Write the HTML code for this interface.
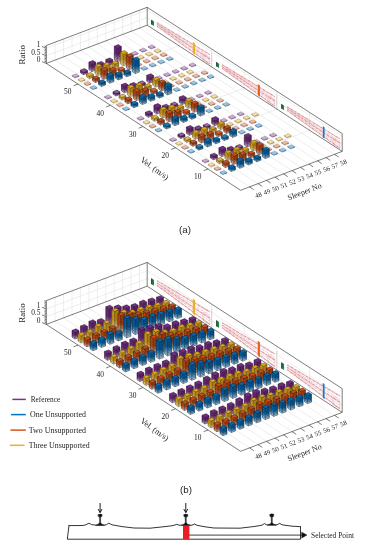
<!DOCTYPE html><html><head><meta charset="utf-8"><title>Figure</title>
<style>html,body{margin:0;padding:0;background:#fff}svg{display:block}text{font-family:"Liberation Serif",serif;fill:#222}.e{stroke:#2a2030;stroke-width:.5;fill:none;stroke-linejoin:round}.s{stroke-width:.45;fill:none;opacity:.85}.f0{stroke:#7a5a86;stroke-width:.4}.f1{stroke:#9a8350;stroke-width:.4}.f2{stroke:#9a6a55;stroke-width:.4}.f3{stroke:#4f7496;stroke-width:.4}.e0{stroke:#220828}.e1{stroke:#5a4108}.e2{stroke:#3a1404}.e3{stroke:#041f3a}</style></head><body>
<svg width="367" height="550" viewBox="0 0 367 550">
<rect width="367" height="550" fill="#fff"/>
<defs><linearGradient id="gl0" x1="0" y1="1" x2="0" y2="0"><stop offset="0" stop-color="#f3edf4"/><stop offset="0.25" stop-color="#bc95c4"/><stop offset="0.52" stop-color="#7b2e8b"/><stop offset="1" stop-color="#7b2e8b"/></linearGradient><linearGradient id="gr0" x1="0" y1="1" x2="0" y2="0"><stop offset="0" stop-color="#e7e1e9"/><stop offset="0.25" stop-color="#a684ad"/><stop offset="0.52" stop-color="#672774"/><stop offset="1" stop-color="#672774"/></linearGradient><linearGradient id="gl1" x1="0" y1="1" x2="0" y2="0"><stop offset="0" stop-color="#fcf7ec"/><stop offset="0.25" stop-color="#f3d58d"/><stop offset="0.52" stop-color="#e8ad1f"/><stop offset="1" stop-color="#e8ad1f"/></linearGradient><linearGradient id="gr1" x1="0" y1="1" x2="0" y2="0"><stop offset="0" stop-color="#f0ebe0"/><stop offset="0.25" stop-color="#d7bd7d"/><stop offset="0.52" stop-color="#c2911a"/><stop offset="1" stop-color="#c2911a"/></linearGradient><linearGradient id="gl2" x1="0" y1="1" x2="0" y2="0"><stop offset="0" stop-color="#faf0eb"/><stop offset="0.25" stop-color="#e9a78a"/><stop offset="0.52" stop-color="#d55118"/><stop offset="1" stop-color="#d55118"/></linearGradient><linearGradient id="gr2" x1="0" y1="1" x2="0" y2="0"><stop offset="0" stop-color="#eee4e0"/><stop offset="0.25" stop-color="#ce947a"/><stop offset="0.52" stop-color="#b24414"/><stop offset="1" stop-color="#b24414"/></linearGradient><linearGradient id="gl3" x1="0" y1="1" x2="0" y2="0"><stop offset="0" stop-color="#e9f2f8"/><stop offset="0.25" stop-color="#7eb6db"/><stop offset="0.52" stop-color="#0070b9"/><stop offset="1" stop-color="#0070b9"/></linearGradient><linearGradient id="gr3" x1="0" y1="1" x2="0" y2="0"><stop offset="0" stop-color="#dee7ec"/><stop offset="0.25" stop-color="#6fa1c2"/><stop offset="0.52" stop-color="#005d9b"/><stop offset="1" stop-color="#005d9b"/></linearGradient></defs>
<g id="chart-a"><polygon points="46.3,63.4 147.2,25.2 342.2,151.4 240.6,190.3" fill="#fff"/>
<polygon points="46.3,63.4 147.2,25.2 147.2,7.32 46.3,45.52" fill="#fff"/>
<polygon points="147.2,25.2 342.2,151.4 342.2,133.52 147.2,7.32" fill="#fff"/>
<path d="M77.97 84.08L178.98 45.77M178.98 45.77L178.98 27.89M110.48 105.32L211.61 66.88M211.61 66.88L211.61 49.01M142.98 126.55L244.23 88M244.23 88L244.23 70.12M175.49 147.78L276.86 109.11M276.86 109.11L276.86 91.23M208 169.01L309.48 130.22M309.48 130.22L309.48 112.35M249.5 186.89L55.14 60.05M55.14 60.05L55.14 42.18M258 183.64L63.58 56.86M63.58 56.86L63.58 38.98M266.5 180.38L72.02 53.66M72.02 53.66L72.02 35.79M275 177.13L80.46 50.47M80.46 50.47L80.46 32.59M283.5 173.87L88.9 47.27M88.9 47.27L88.9 29.39M292 170.62L97.35 44.07M97.35 44.07L97.35 26.2M300.5 167.37L105.79 40.88M105.79 40.88L105.79 23M309 164.11L114.23 37.68M114.23 37.68L114.23 19.81M317.5 160.86L122.67 34.49M122.67 34.49L122.67 16.61M326 157.6L131.11 31.29M131.11 31.29L131.11 13.41M334.5 154.35L139.55 28.1M139.55 28.1L139.55 10.22M46.3 55.82L147.2 17.62L342.2 143.83M46.3 48.25L147.2 10.05L342.2 136.25" stroke="#dcdcdc" stroke-width="0.5" fill="none"/>
<path d="M156.95 26.15L209.79 63.92M156.95 24.36L209.79 59.27M156.95 22.57L209.79 54.63M221.98 68.23L274.83 106.01M221.98 66.45L274.83 101.36M221.98 64.66L274.83 96.71M287.01 110.32L339.86 148.1M287.01 108.53L339.86 143.45M287.01 106.75L339.86 138.8" stroke="#d8828a" stroke-width="1.25" stroke-dasharray="2.2 0.5 1 0.4 3 0.5 0.8 0.3" fill="none" opacity="0.8"/><path d="M162.8 29.25L209.79 61.6M162.8 27.18L209.79 56.95M227.83 71.34L274.83 103.69M227.83 69.27L274.83 99.04M292.87 113.43L339.86 145.77M292.87 111.36L339.86 141.13" stroke="#e2a4aa" stroke-width="0.9" stroke-dasharray="1.2 0.6 2.5 0.5" fill="none" opacity="0.7"/>
<polygon points="202.97,59.86 209.79,64.28 209.79,58.2 202.97,53.78" fill="none" stroke="#d98a90" stroke-width="0.4"/>
<polygon points="151.29,24.27 154.02,26.04 154.02,21.57 151.29,19.81" fill="#1e8a4c"/>
<polygon points="151.29,24.27 152.27,24.91 152.27,20.44 151.29,19.81" fill="#1c2a22"/>
<polygon points="192.75,53.25 195.09,54.76 195.09,43.5 192.75,41.99" fill="#edb120"/>
<path d="M211.75 66.97L211.75 52.67" stroke="#aaa" stroke-width="0.4"/>

<polygon points="268,101.95 274.83,106.37 274.83,100.29 268,95.87" fill="none" stroke="#d98a90" stroke-width="0.4"/>
<polygon points="216.33,66.36 219.06,68.13 219.06,63.66 216.33,61.89" fill="#1e8a4c"/>
<polygon points="216.33,66.36 217.3,66.99 217.3,62.52 216.33,61.89" fill="#1c2a22"/>
<polygon points="257.78,95.34 259.93,96.73 259.93,85.46 257.78,84.08" fill="#e8601c"/>
<path d="M276.78 109.06L276.78 94.76" stroke="#aaa" stroke-width="0.4"/>

<polygon points="333.03,144.04 339.86,148.46 339.86,142.38 333.03,137.96" fill="none" stroke="#d98a90" stroke-width="0.4"/>
<polygon points="281.36,108.45 284.09,110.22 284.09,105.75 281.36,103.98" fill="#1e8a4c"/>
<polygon points="281.36,108.45 282.33,109.08 282.33,104.61 281.36,103.98" fill="#1c2a22"/>
<polygon points="322.82,137.43 324.57,138.56 324.57,127.3 322.82,126.16" fill="#1f77c4"/>
<path d="M46.3 63.4L147.2 25.2L342.2 151.4M46.3 45.52L147.2 7.32L342.2 133.52M147.2 25.2L147.2 7.32M342.2 151.4L342.2 133.52M46.3 63.4L46.3 45.52M46.3 63.4L240.6 190.3L342.2 151.4M77.97 84.08L73.6 85.75M110.48 105.32L106.1 106.98M142.98 126.55L138.61 128.21M175.49 147.78L171.12 149.44M208 169.01L203.62 170.67M249.5 186.89L253.73 189.63M258 183.64L262.23 186.38M266.5 180.38L270.73 183.13M275 177.13L279.23 179.87M283.5 173.87L287.73 176.62M292 170.62L296.23 173.36M300.5 167.37L304.73 170.11M309 164.11L313.23 166.85M317.5 160.86L321.73 163.6M326 157.6L330.23 160.34M334.5 154.35L338.73 157.09M46.3 63.4L41.99 61.62M46.3 61.88L44.48 61.13M46.3 60.37L44.48 59.62M46.3 58.85L44.48 58.1M46.3 57.34L44.48 56.59M46.3 55.82L41.99 54.05M46.3 54.31L44.48 53.56M46.3 52.8L44.48 52.04M46.3 51.28L44.48 50.53M46.3 49.77L44.48 49.01M46.3 48.25L41.99 46.47M46.3 46.73L44.48 45.98" stroke="#262626" stroke-width="0.6" fill="none"/>
<g transform="translate(151.6 47.4)"><polygon points="-3.5,-0.2 -0.6,1.7 -0.6,1 -3.5,-0.9" fill="url(#gl0)"/><polygon points="-0.6,1.7 3.5,0.2 3.5,-0.6 -0.6,1" fill="url(#gr0)"/><polygon points="-3.5,-0.9 -0.6,1 3.5,-0.6 0.6,-2.5" fill="#ccaed2"/><path d="M-3.5 -0.9L-0.6 1L3.5 -0.6L0.6 -2.5ZM-3.5 -0.9V-0.2L-0.6 1.7L3.5 0.2V-0.6M-0.6 1.7V1" class="e f0"/></g>
<g transform="translate(143.1 50.6)"><polygon points="-3.5,-0.2 -0.6,1.7 -0.6,1 -3.5,-0.9" fill="url(#gl0)"/><polygon points="-0.6,1.7 3.5,0.2 3.5,-0.6 -0.6,1" fill="url(#gr0)"/><polygon points="-3.5,-0.9 -0.6,1 3.5,-0.6 0.6,-2.5" fill="#ccaed2"/><path d="M-3.5 -0.9L-0.6 1L3.5 -0.6L0.6 -2.5ZM-3.5 -0.9V-0.2L-0.6 1.7L3.5 0.2V-0.6M-0.6 1.7V1" class="e f0"/></g>
<g transform="translate(134.6 53.8)"><polygon points="-3.5,-0.2 -0.6,1.7 -0.6,1 -3.5,-0.9" fill="url(#gl0)"/><polygon points="-0.6,1.7 3.5,0.2 3.5,-0.6 -0.6,1" fill="url(#gr0)"/><polygon points="-3.5,-0.9 -0.6,1 3.5,-0.6 0.6,-2.5" fill="#ccaed2"/><path d="M-3.5 -0.9L-0.6 1L3.5 -0.6L0.6 -2.5ZM-3.5 -0.9V-0.2L-0.6 1.7L3.5 0.2V-0.6M-0.6 1.7V1" class="e f0"/></g>
<g transform="translate(126.2 57)"><polygon points="-3.5,-0.2 -0.6,1.7 -0.6,1 -3.5,-0.9" fill="url(#gl0)"/><polygon points="-0.6,1.7 3.5,0.2 3.5,-0.6 -0.6,1" fill="url(#gr0)"/><polygon points="-3.5,-0.9 -0.6,1 3.5,-0.6 0.6,-2.5" fill="#ccaed2"/><path d="M-3.5 -0.9L-0.6 1L3.5 -0.6L0.6 -2.5ZM-3.5 -0.9V-0.2L-0.6 1.7L3.5 0.2V-0.6M-0.6 1.7V1" class="e f0"/></g>
<g transform="translate(117.8 60.2)"><polygon points="-3.5,-0.2 -0.6,1.7 -0.6,-12.1 -3.5,-14" fill="url(#gl0)"/><polygon points="-0.6,1.7 3.5,0.2 3.5,-13.7 -0.6,-12.1" fill="url(#gr0)"/><polygon points="-3.5,-14 -0.6,-12.1 3.5,-13.7 0.6,-15.6" fill="#762c85"/><path d="M-3.5 -1.7L-0.6 0.2L3.5 -1.3M-3.5 -3.2L-0.6 -1.3L3.5 -2.9M-3.5 -4.7L-0.6 -2.8L3.5 -4.4M-3.5 -6.2L-0.6 -4.3L3.5 -5.9M-3.5 -7.7L-0.6 -5.8L3.5 -7.4M-3.5 -9.3L-0.6 -7.4L3.5 -8.9M-3.5 -10.8L-0.6 -8.9L3.5 -10.4M-3.5 -12.3L-0.6 -10.4L3.5 -12M-3.5 -13.8L-0.6 -11.9L3.5 -13.5" class="s e0"/><path d="M-3.5 -14L-0.6 -12.1L3.5 -13.7L0.6 -15.6ZM-3.5 -14V-0.2L-0.6 1.7L3.5 0.2V-13.7M-0.6 1.7V-12.1" class="e e0"/></g>
<g transform="translate(109.3 63.5)"><polygon points="-3.5,-0.2 -0.6,1.7 -0.6,-2.1 -3.5,-4" fill="url(#gl0)"/><polygon points="-0.6,1.7 3.5,0.2 3.5,-3.7 -0.6,-2.1" fill="url(#gr0)"/><polygon points="-3.5,-4 -0.6,-2.1 3.5,-3.7 0.6,-5.6" fill="#762c85"/><path d="M-3.5 -1.7L-0.6 0.2L3.5 -1.3M-3.5 -3.2L-0.6 -1.3L3.5 -2.9" class="s e0"/><path d="M-3.5 -4L-0.6 -2.1L3.5 -3.7L0.6 -5.6ZM-3.5 -4V-0.2L-0.6 1.7L3.5 0.2V-3.7M-0.6 1.7V-2.1" class="e e0"/></g>
<g transform="translate(100.8 66.7)"><polygon points="-3.5,-0.2 -0.6,1.7 -0.6,-1.9 -3.5,-3.8" fill="url(#gl0)"/><polygon points="-0.6,1.7 3.5,0.2 3.5,-3.4 -0.6,-1.9" fill="url(#gr0)"/><polygon points="-3.5,-3.8 -0.6,-1.9 3.5,-3.4 0.6,-5.3" fill="#762c85"/><path d="M-3.5 -1.7L-0.6 0.2L3.5 -1.3M-3.5 -3.2L-0.6 -1.3L3.5 -2.9" class="s e0"/><path d="M-3.5 -3.8L-0.6 -1.9L3.5 -3.4L0.6 -5.3ZM-3.5 -3.8V-0.2L-0.6 1.7L3.5 0.2V-3.4M-0.6 1.7V-1.9" class="e e0"/></g>
<g transform="translate(92.4 69.9)"><polygon points="-3.5,-0.2 -0.6,1.7 -0.6,-5.9 -3.5,-7.8" fill="url(#gl0)"/><polygon points="-0.6,1.7 3.5,0.2 3.5,-7.5 -0.6,-5.9" fill="url(#gr0)"/><polygon points="-3.5,-7.8 -0.6,-5.9 3.5,-7.5 0.6,-9.4" fill="#762c85"/><path d="M-3.5 -1.7L-0.6 0.2L3.5 -1.3M-3.5 -3.2L-0.6 -1.3L3.5 -2.9M-3.5 -4.7L-0.6 -2.8L3.5 -4.4M-3.5 -6.2L-0.6 -4.3L3.5 -5.9M-3.5 -7.7L-0.6 -5.8L3.5 -7.4" class="s e0"/><path d="M-3.5 -7.8L-0.6 -5.9L3.5 -7.5L0.6 -9.4ZM-3.5 -7.8V-0.2L-0.6 1.7L3.5 0.2V-7.5M-0.6 1.7V-5.9" class="e e0"/></g>
<g transform="translate(84 73.1)"><polygon points="-3.5,-0.2 -0.6,1.7 -0.6,-1 -3.5,-3" fill="url(#gl0)"/><polygon points="-0.6,1.7 3.5,0.2 3.5,-2.6 -0.6,-1" fill="url(#gr0)"/><polygon points="-3.5,-3 -0.6,-1 3.5,-2.6 0.6,-4.5" fill="#8c4d99"/><path d="M-3.5 -1.7L-0.6 0.2L3.5 -1.3" class="s e0"/><path d="M-3.5 -3L-0.6 -1L3.5 -2.6L0.6 -4.5ZM-3.5 -3V-0.2L-0.6 1.7L3.5 0.2V-2.6M-0.6 1.7V-1" class="e e0"/></g>
<g transform="translate(75.5 76.3)"><polygon points="-3.5,-0.2 -0.6,1.7 -0.6,1 -3.5,-0.9" fill="url(#gl0)"/><polygon points="-0.6,1.7 3.5,0.2 3.5,-0.6 -0.6,1" fill="url(#gr0)"/><polygon points="-3.5,-0.9 -0.6,1 3.5,-0.6 0.6,-2.5" fill="#ccaed2"/><path d="M-3.5 -0.9L-0.6 1L3.5 -0.6L0.6 -2.5ZM-3.5 -0.9V-0.2L-0.6 1.7L3.5 0.2V-0.6M-0.6 1.7V1" class="e f0"/></g>
<g transform="translate(157.6 51.3)"><polygon points="-3.5,-0.2 -0.6,1.7 -0.6,1 -3.5,-0.9" fill="url(#gl1)"/><polygon points="-0.6,1.7 3.5,0.2 3.5,-0.6 -0.6,1" fill="url(#gr1)"/><polygon points="-3.5,-0.9 -0.6,1 3.5,-0.6 0.6,-2.5" fill="#f7e0a8"/><path d="M-3.5 -0.9L-0.6 1L3.5 -0.6L0.6 -2.5ZM-3.5 -0.9V-0.2L-0.6 1.7L3.5 0.2V-0.6M-0.6 1.7V1" class="e f1"/></g>
<g transform="translate(149.1 54.5)"><polygon points="-3.5,-0.2 -0.6,1.7 -0.6,1 -3.5,-0.9" fill="url(#gl1)"/><polygon points="-0.6,1.7 3.5,0.2 3.5,-0.6 -0.6,1" fill="url(#gr1)"/><polygon points="-3.5,-0.9 -0.6,1 3.5,-0.6 0.6,-2.5" fill="#f7e0a8"/><path d="M-3.5 -0.9L-0.6 1L3.5 -0.6L0.6 -2.5ZM-3.5 -0.9V-0.2L-0.6 1.7L3.5 0.2V-0.6M-0.6 1.7V1" class="e f1"/></g>
<g transform="translate(140.6 57.7)"><polygon points="-3.5,-0.2 -0.6,1.7 -0.6,1 -3.5,-0.9" fill="url(#gl1)"/><polygon points="-0.6,1.7 3.5,0.2 3.5,-0.6 -0.6,1" fill="url(#gr1)"/><polygon points="-3.5,-0.9 -0.6,1 3.5,-0.6 0.6,-2.5" fill="#f7e0a8"/><path d="M-3.5 -0.9L-0.6 1L3.5 -0.6L0.6 -2.5ZM-3.5 -0.9V-0.2L-0.6 1.7L3.5 0.2V-0.6M-0.6 1.7V1" class="e f1"/></g>
<g transform="translate(132.2 60.9)"><polygon points="-3.5,-0.2 -0.6,1.7 -0.6,1 -3.5,-0.9" fill="url(#gl1)"/><polygon points="-0.6,1.7 3.5,0.2 3.5,-0.6 -0.6,1" fill="url(#gr1)"/><polygon points="-3.5,-0.9 -0.6,1 3.5,-0.6 0.6,-2.5" fill="#f7e0a8"/><path d="M-3.5 -0.9L-0.6 1L3.5 -0.6L0.6 -2.5ZM-3.5 -0.9V-0.2L-0.6 1.7L3.5 0.2V-0.6M-0.6 1.7V1" class="e f1"/></g>
<g transform="translate(123.8 64.1)"><polygon points="-3.5,-0.2 -0.6,1.7 -0.6,-10 -3.5,-11.9" fill="url(#gl1)"/><polygon points="-0.6,1.7 3.5,0.2 3.5,-11.6 -0.6,-10" fill="url(#gr1)"/><polygon points="-3.5,-11.9 -0.6,-10 3.5,-11.6 0.6,-13.5" fill="#dfa61e"/><path d="M-3.5 -1.7L-0.6 0.2L3.5 -1.3M-3.5 -3.2L-0.6 -1.3L3.5 -2.9M-3.5 -4.7L-0.6 -2.8L3.5 -4.4M-3.5 -6.2L-0.6 -4.3L3.5 -5.9M-3.5 -7.7L-0.6 -5.8L3.5 -7.4M-3.5 -9.3L-0.6 -7.4L3.5 -8.9M-3.5 -10.8L-0.6 -8.9L3.5 -10.4" class="s e1"/><path d="M-3.5 -11.9L-0.6 -10L3.5 -11.6L0.6 -13.5ZM-3.5 -11.9V-0.2L-0.6 1.7L3.5 0.2V-11.6M-0.6 1.7V-10" class="e e1"/></g>
<g transform="translate(115.3 67.3)"><polygon points="-3.5,-0.2 -0.6,1.7 -0.6,-3 -3.5,-4.9" fill="url(#gl1)"/><polygon points="-0.6,1.7 3.5,0.2 3.5,-4.6 -0.6,-3" fill="url(#gr1)"/><polygon points="-3.5,-4.9 -0.6,-3 3.5,-4.6 0.6,-6.5" fill="#dfa61e"/><path d="M-3.5 -1.7L-0.6 0.2L3.5 -1.3M-3.5 -3.2L-0.6 -1.3L3.5 -2.9M-3.5 -4.7L-0.6 -2.8L3.5 -4.4" class="s e1"/><path d="M-3.5 -4.9L-0.6 -3L3.5 -4.6L0.6 -6.5ZM-3.5 -4.9V-0.2L-0.6 1.7L3.5 0.2V-4.6M-0.6 1.7V-3" class="e e1"/></g>
<g transform="translate(106.8 70.6)"><polygon points="-3.5,-0.2 -0.6,1.7 -0.6,-4.9 -3.5,-6.8" fill="url(#gl1)"/><polygon points="-0.6,1.7 3.5,0.2 3.5,-6.4 -0.6,-4.9" fill="url(#gr1)"/><polygon points="-3.5,-6.8 -0.6,-4.9 3.5,-6.4 0.6,-8.3" fill="#dfa61e"/><path d="M-3.5 -1.7L-0.6 0.2L3.5 -1.3M-3.5 -3.2L-0.6 -1.3L3.5 -2.9M-3.5 -4.7L-0.6 -2.8L3.5 -4.4M-3.5 -6.2L-0.6 -4.3L3.5 -5.9" class="s e1"/><path d="M-3.5 -6.8L-0.6 -4.9L3.5 -6.4L0.6 -8.3ZM-3.5 -6.8V-0.2L-0.6 1.7L3.5 0.2V-6.4M-0.6 1.7V-4.9" class="e e1"/></g>
<g transform="translate(98.4 73.8)"><polygon points="-3.5,-0.2 -0.6,1.7 -0.6,-6.5 -3.5,-8.4" fill="url(#gl1)"/><polygon points="-0.6,1.7 3.5,0.2 3.5,-8.1 -0.6,-6.5" fill="url(#gr1)"/><polygon points="-3.5,-8.4 -0.6,-6.5 3.5,-8.1 0.6,-10" fill="#dfa61e"/><path d="M-3.5 -1.7L-0.6 0.2L3.5 -1.3M-3.5 -3.2L-0.6 -1.3L3.5 -2.9M-3.5 -4.7L-0.6 -2.8L3.5 -4.4M-3.5 -6.2L-0.6 -4.3L3.5 -5.9M-3.5 -7.7L-0.6 -5.8L3.5 -7.4" class="s e1"/><path d="M-3.5 -8.4L-0.6 -6.5L3.5 -8.1L0.6 -10ZM-3.5 -8.4V-0.2L-0.6 1.7L3.5 0.2V-8.1M-0.6 1.7V-6.5" class="e e1"/></g>
<g transform="translate(90 77)"><polygon points="-3.5,-0.2 -0.6,1.7 -0.6,-1 -3.5,-3" fill="url(#gl1)"/><polygon points="-0.6,1.7 3.5,0.2 3.5,-2.6 -0.6,-1" fill="url(#gr1)"/><polygon points="-3.5,-3 -0.6,-1 3.5,-2.6 0.6,-4.5" fill="#e5b541"/><path d="M-3.5 -1.7L-0.6 0.2L3.5 -1.3" class="s e1"/><path d="M-3.5 -3L-0.6 -1L3.5 -2.6L0.6 -4.5ZM-3.5 -3V-0.2L-0.6 1.7L3.5 0.2V-2.6M-0.6 1.7V-1" class="e e1"/></g>
<g transform="translate(81.5 80.2)"><polygon points="-3.5,-0.2 -0.6,1.7 -0.6,1 -3.5,-0.9" fill="url(#gl1)"/><polygon points="-0.6,1.7 3.5,0.2 3.5,-0.6 -0.6,1" fill="url(#gr1)"/><polygon points="-3.5,-0.9 -0.6,1 3.5,-0.6 0.6,-2.5" fill="#f7e0a8"/><path d="M-3.5 -0.9L-0.6 1L3.5 -0.6L0.6 -2.5ZM-3.5 -0.9V-0.2L-0.6 1.7L3.5 0.2V-0.6M-0.6 1.7V1" class="e f1"/></g>
<g transform="translate(163.6 55.2)"><polygon points="-3.5,-0.2 -0.6,1.7 -0.6,1 -3.5,-0.9" fill="url(#gl2)"/><polygon points="-0.6,1.7 3.5,0.2 3.5,-0.6 -0.6,1" fill="url(#gr2)"/><polygon points="-3.5,-0.9 -0.6,1 3.5,-0.6 0.6,-2.5" fill="#efbca6"/><path d="M-3.5 -0.9L-0.6 1L3.5 -0.6L0.6 -2.5ZM-3.5 -0.9V-0.2L-0.6 1.7L3.5 0.2V-0.6M-0.6 1.7V1" class="e f2"/></g>
<g transform="translate(155.1 58.4)"><polygon points="-3.5,-0.2 -0.6,1.7 -0.6,1 -3.5,-0.9" fill="url(#gl2)"/><polygon points="-0.6,1.7 3.5,0.2 3.5,-0.6 -0.6,1" fill="url(#gr2)"/><polygon points="-3.5,-0.9 -0.6,1 3.5,-0.6 0.6,-2.5" fill="#efbca6"/><path d="M-3.5 -0.9L-0.6 1L3.5 -0.6L0.6 -2.5ZM-3.5 -0.9V-0.2L-0.6 1.7L3.5 0.2V-0.6M-0.6 1.7V1" class="e f2"/></g>
<g transform="translate(146.6 61.6)"><polygon points="-3.5,-0.2 -0.6,1.7 -0.6,1 -3.5,-0.9" fill="url(#gl2)"/><polygon points="-0.6,1.7 3.5,0.2 3.5,-0.6 -0.6,1" fill="url(#gr2)"/><polygon points="-3.5,-0.9 -0.6,1 3.5,-0.6 0.6,-2.5" fill="#efbca6"/><path d="M-3.5 -0.9L-0.6 1L3.5 -0.6L0.6 -2.5ZM-3.5 -0.9V-0.2L-0.6 1.7L3.5 0.2V-0.6M-0.6 1.7V1" class="e f2"/></g>
<g transform="translate(138.2 64.8)"><polygon points="-3.5,-0.2 -0.6,1.7 -0.6,1 -3.5,-0.9" fill="url(#gl2)"/><polygon points="-0.6,1.7 3.5,0.2 3.5,-0.6 -0.6,1" fill="url(#gr2)"/><polygon points="-3.5,-0.9 -0.6,1 3.5,-0.6 0.6,-2.5" fill="#efbca6"/><path d="M-3.5 -0.9L-0.6 1L3.5 -0.6L0.6 -2.5ZM-3.5 -0.9V-0.2L-0.6 1.7L3.5 0.2V-0.6M-0.6 1.7V1" class="e f2"/></g>
<g transform="translate(129.8 68)"><polygon points="-3.5,-0.2 -0.6,1.7 -0.6,-11 -3.5,-12.9" fill="url(#gl2)"/><polygon points="-0.6,1.7 3.5,0.2 3.5,-12.6 -0.6,-11" fill="url(#gr2)"/><polygon points="-3.5,-12.9 -0.6,-11 3.5,-12.6 0.6,-14.5" fill="#cc4e18"/><path d="M-3.5 -1.7L-0.6 0.2L3.5 -1.3M-3.5 -3.2L-0.6 -1.3L3.5 -2.9M-3.5 -4.7L-0.6 -2.8L3.5 -4.4M-3.5 -6.2L-0.6 -4.3L3.5 -5.9M-3.5 -7.7L-0.6 -5.8L3.5 -7.4M-3.5 -9.3L-0.6 -7.4L3.5 -8.9M-3.5 -10.8L-0.6 -8.9L3.5 -10.4M-3.5 -12.3L-0.6 -10.4L3.5 -12" class="s e2"/><path d="M-3.5 -12.9L-0.6 -11L3.5 -12.6L0.6 -14.5ZM-3.5 -12.9V-0.2L-0.6 1.7L3.5 0.2V-12.6M-0.6 1.7V-11" class="e e2"/></g>
<g transform="translate(121.3 71.2)"><polygon points="-3.5,-0.2 -0.6,1.7 -0.6,-0.9 -3.5,-2.8" fill="url(#gl2)"/><polygon points="-0.6,1.7 3.5,0.2 3.5,-2.5 -0.6,-0.9" fill="url(#gr2)"/><polygon points="-3.5,-2.8 -0.6,-0.9 3.5,-2.5 0.6,-4.4" fill="#d66e41"/><path d="M-3.5 -1.7L-0.6 0.2L3.5 -1.3" class="s e2"/><path d="M-3.5 -2.8L-0.6 -0.9L3.5 -2.5L0.6 -4.4ZM-3.5 -2.8V-0.2L-0.6 1.7L3.5 0.2V-2.5M-0.6 1.7V-0.9" class="e e2"/></g>
<g transform="translate(112.8 74.5)"><polygon points="-3.5,-0.2 -0.6,1.7 -0.6,-4 -3.5,-5.9" fill="url(#gl2)"/><polygon points="-0.6,1.7 3.5,0.2 3.5,-5.5 -0.6,-4" fill="url(#gr2)"/><polygon points="-3.5,-5.9 -0.6,-4 3.5,-5.5 0.6,-7.4" fill="#cc4e18"/><path d="M-3.5 -1.7L-0.6 0.2L3.5 -1.3M-3.5 -3.2L-0.6 -1.3L3.5 -2.9M-3.5 -4.7L-0.6 -2.8L3.5 -4.4" class="s e2"/><path d="M-3.5 -5.9L-0.6 -4L3.5 -5.5L0.6 -7.4ZM-3.5 -5.9V-0.2L-0.6 1.7L3.5 0.2V-5.5M-0.6 1.7V-4" class="e e2"/></g>
<g transform="translate(104.4 77.7)"><polygon points="-3.5,-0.2 -0.6,1.7 -0.6,-6.8 -3.5,-8.7" fill="url(#gl2)"/><polygon points="-0.6,1.7 3.5,0.2 3.5,-8.4 -0.6,-6.8" fill="url(#gr2)"/><polygon points="-3.5,-8.7 -0.6,-6.8 3.5,-8.4 0.6,-10.3" fill="#cc4e18"/><path d="M-3.5 -1.7L-0.6 0.2L3.5 -1.3M-3.5 -3.2L-0.6 -1.3L3.5 -2.9M-3.5 -4.7L-0.6 -2.8L3.5 -4.4M-3.5 -6.2L-0.6 -4.3L3.5 -5.9M-3.5 -7.7L-0.6 -5.8L3.5 -7.4" class="s e2"/><path d="M-3.5 -8.7L-0.6 -6.8L3.5 -8.4L0.6 -10.3ZM-3.5 -8.7V-0.2L-0.6 1.7L3.5 0.2V-8.4M-0.6 1.7V-6.8" class="e e2"/></g>
<g transform="translate(96 80.9)"><polygon points="-3.5,-0.2 -0.6,1.7 -0.6,-1.7 -3.5,-3.6" fill="url(#gl2)"/><polygon points="-0.6,1.7 3.5,0.2 3.5,-3.2 -0.6,-1.7" fill="url(#gr2)"/><polygon points="-3.5,-3.6 -0.6,-1.7 3.5,-3.2 0.6,-5.1" fill="#cd521c"/><path d="M-3.5 -1.7L-0.6 0.2L3.5 -1.3M-3.5 -3.2L-0.6 -1.3L3.5 -2.9" class="s e2"/><path d="M-3.5 -3.6L-0.6 -1.7L3.5 -3.2L0.6 -5.1ZM-3.5 -3.6V-0.2L-0.6 1.7L3.5 0.2V-3.2M-0.6 1.7V-1.7" class="e e2"/></g>
<g transform="translate(87.5 84.1)"><polygon points="-3.5,-0.2 -0.6,1.7 -0.6,1 -3.5,-0.9" fill="url(#gl2)"/><polygon points="-0.6,1.7 3.5,0.2 3.5,-0.6 -0.6,1" fill="url(#gr2)"/><polygon points="-3.5,-0.9 -0.6,1 3.5,-0.6 0.6,-2.5" fill="#efbca6"/><path d="M-3.5 -0.9L-0.6 1L3.5 -0.6L0.6 -2.5ZM-3.5 -0.9V-0.2L-0.6 1.7L3.5 0.2V-0.6M-0.6 1.7V1" class="e f2"/></g>
<g transform="translate(169.6 59.1)"><polygon points="-3.5,-0.2 -0.6,1.7 -0.6,1 -3.5,-0.9" fill="url(#gl3)"/><polygon points="-0.6,1.7 3.5,0.2 3.5,-0.6 -0.6,1" fill="url(#gr3)"/><polygon points="-3.5,-0.9 -0.6,1 3.5,-0.6 0.6,-2.5" fill="#9cc8e4"/><path d="M-3.5 -0.9L-0.6 1L3.5 -0.6L0.6 -2.5ZM-3.5 -0.9V-0.2L-0.6 1.7L3.5 0.2V-0.6M-0.6 1.7V1" class="e f3"/></g>
<g transform="translate(161.1 62.3)"><polygon points="-3.5,-0.2 -0.6,1.7 -0.6,1 -3.5,-0.9" fill="url(#gl3)"/><polygon points="-0.6,1.7 3.5,0.2 3.5,-0.6 -0.6,1" fill="url(#gr3)"/><polygon points="-3.5,-0.9 -0.6,1 3.5,-0.6 0.6,-2.5" fill="#9cc8e4"/><path d="M-3.5 -0.9L-0.6 1L3.5 -0.6L0.6 -2.5ZM-3.5 -0.9V-0.2L-0.6 1.7L3.5 0.2V-0.6M-0.6 1.7V1" class="e f3"/></g>
<g transform="translate(152.6 65.5)"><polygon points="-3.5,-0.2 -0.6,1.7 -0.6,1 -3.5,-0.9" fill="url(#gl3)"/><polygon points="-0.6,1.7 3.5,0.2 3.5,-0.6 -0.6,1" fill="url(#gr3)"/><polygon points="-3.5,-0.9 -0.6,1 3.5,-0.6 0.6,-2.5" fill="#9cc8e4"/><path d="M-3.5 -0.9L-0.6 1L3.5 -0.6L0.6 -2.5ZM-3.5 -0.9V-0.2L-0.6 1.7L3.5 0.2V-0.6M-0.6 1.7V1" class="e f3"/></g>
<g transform="translate(144.2 68.7)"><polygon points="-3.5,-0.2 -0.6,1.7 -0.6,1 -3.5,-0.9" fill="url(#gl3)"/><polygon points="-0.6,1.7 3.5,0.2 3.5,-0.6 -0.6,1" fill="url(#gr3)"/><polygon points="-3.5,-0.9 -0.6,1 3.5,-0.6 0.6,-2.5" fill="#9cc8e4"/><path d="M-3.5 -0.9L-0.6 1L3.5 -0.6L0.6 -2.5ZM-3.5 -0.9V-0.2L-0.6 1.7L3.5 0.2V-0.6M-0.6 1.7V1" class="e f3"/></g>
<g transform="translate(135.8 71.9)"><polygon points="-3.5,-0.2 -0.6,1.7 -0.6,-11.3 -3.5,-13.2" fill="url(#gl3)"/><polygon points="-0.6,1.7 3.5,0.2 3.5,-12.9 -0.6,-11.3" fill="url(#gr3)"/><polygon points="-3.5,-13.2 -0.6,-11.3 3.5,-12.9 0.6,-14.8" fill="#006bb2"/><path d="M-3.5 -1.7L-0.6 0.2L3.5 -1.3M-3.5 -3.2L-0.6 -1.3L3.5 -2.9M-3.5 -4.7L-0.6 -2.8L3.5 -4.4M-3.5 -6.2L-0.6 -4.3L3.5 -5.9M-3.5 -7.7L-0.6 -5.8L3.5 -7.4M-3.5 -9.3L-0.6 -7.4L3.5 -8.9M-3.5 -10.8L-0.6 -8.9L3.5 -10.4M-3.5 -12.3L-0.6 -10.4L3.5 -12" class="s e3"/><path d="M-3.5 -13.2L-0.6 -11.3L3.5 -12.9L0.6 -14.8ZM-3.5 -13.2V-0.2L-0.6 1.7L3.5 0.2V-12.9M-0.6 1.7V-11.3" class="e e3"/></g>
<g transform="translate(127.3 75.1)"><polygon points="-3.5,-0.2 -0.6,1.7 -0.6,-2 -3.5,-3.9" fill="url(#gl3)"/><polygon points="-0.6,1.7 3.5,0.2 3.5,-3.6 -0.6,-2" fill="url(#gr3)"/><polygon points="-3.5,-3.9 -0.6,-2 3.5,-3.6 0.6,-5.5" fill="#006bb2"/><path d="M-3.5 -1.7L-0.6 0.2L3.5 -1.3M-3.5 -3.2L-0.6 -1.3L3.5 -2.9" class="s e3"/><path d="M-3.5 -3.9L-0.6 -2L3.5 -3.6L0.6 -5.5ZM-3.5 -3.9V-0.2L-0.6 1.7L3.5 0.2V-3.6M-0.6 1.7V-2" class="e e3"/></g>
<g transform="translate(118.8 78.3)"><polygon points="-3.5,-0.2 -0.6,1.7 -0.6,-3.1 -3.5,-5" fill="url(#gl3)"/><polygon points="-0.6,1.7 3.5,0.2 3.5,-4.6 -0.6,-3.1" fill="url(#gr3)"/><polygon points="-3.5,-5 -0.6,-3.1 3.5,-4.6 0.6,-6.5" fill="#006bb2"/><path d="M-3.5 -1.7L-0.6 0.2L3.5 -1.3M-3.5 -3.2L-0.6 -1.3L3.5 -2.9M-3.5 -4.7L-0.6 -2.8L3.5 -4.4" class="s e3"/><path d="M-3.5 -5L-0.6 -3.1L3.5 -4.6L0.6 -6.5ZM-3.5 -5V-0.2L-0.6 1.7L3.5 0.2V-4.6M-0.6 1.7V-3.1" class="e e3"/></g>
<g transform="translate(110.4 81.5)"><polygon points="-3.5,-0.2 -0.6,1.7 -0.6,-5.6 -3.5,-7.5" fill="url(#gl3)"/><polygon points="-0.6,1.7 3.5,0.2 3.5,-7.2 -0.6,-5.6" fill="url(#gr3)"/><polygon points="-3.5,-7.5 -0.6,-5.6 3.5,-7.2 0.6,-9.1" fill="#006bb2"/><path d="M-3.5 -1.7L-0.6 0.2L3.5 -1.3M-3.5 -3.2L-0.6 -1.3L3.5 -2.9M-3.5 -4.7L-0.6 -2.8L3.5 -4.4M-3.5 -6.2L-0.6 -4.3L3.5 -5.9" class="s e3"/><path d="M-3.5 -7.5L-0.6 -5.6L3.5 -7.2L0.6 -9.1ZM-3.5 -7.5V-0.2L-0.6 1.7L3.5 0.2V-7.2M-0.6 1.7V-5.6" class="e e3"/></g>
<g transform="translate(102 84.8)"><polygon points="-3.5,-0.2 -0.6,1.7 -0.6,-1.7 -3.5,-3.6" fill="url(#gl3)"/><polygon points="-0.6,1.7 3.5,0.2 3.5,-3.2 -0.6,-1.7" fill="url(#gr3)"/><polygon points="-3.5,-3.6 -0.6,-1.7 3.5,-3.2 0.6,-5.1" fill="#056eb3"/><path d="M-3.5 -1.7L-0.6 0.2L3.5 -1.3M-3.5 -3.2L-0.6 -1.3L3.5 -2.9" class="s e3"/><path d="M-3.5 -3.6L-0.6 -1.7L3.5 -3.2L0.6 -5.1ZM-3.5 -3.6V-0.2L-0.6 1.7L3.5 0.2V-3.2M-0.6 1.7V-1.7" class="e e3"/></g>
<g transform="translate(93.5 88)"><polygon points="-3.5,-0.2 -0.6,1.7 -0.6,1 -3.5,-0.9" fill="url(#gl3)"/><polygon points="-0.6,1.7 3.5,0.2 3.5,-0.6 -0.6,1" fill="url(#gr3)"/><polygon points="-3.5,-0.9 -0.6,1 3.5,-0.6 0.6,-2.5" fill="#9cc8e4"/><path d="M-3.5 -0.9L-0.6 1L3.5 -0.6L0.6 -2.5ZM-3.5 -0.9V-0.2L-0.6 1.7L3.5 0.2V-0.6M-0.6 1.7V1" class="e f3"/></g>
<g transform="translate(192.5 65.4)"><polygon points="-3.5,-0.2 -0.6,1.7 -0.6,1 -3.5,-0.9" fill="url(#gl0)"/><polygon points="-0.6,1.7 3.5,0.2 3.5,-0.6 -0.6,1" fill="url(#gr0)"/><polygon points="-3.5,-0.9 -0.6,1 3.5,-0.6 0.6,-2.5" fill="#ccaed2"/><path d="M-3.5 -0.9L-0.6 1L3.5 -0.6L0.6 -2.5ZM-3.5 -0.9V-0.2L-0.6 1.7L3.5 0.2V-0.6M-0.6 1.7V1" class="e f0"/></g>
<g transform="translate(184.1 68.7)"><polygon points="-3.5,-0.2 -0.6,1.7 -0.6,1 -3.5,-0.9" fill="url(#gl0)"/><polygon points="-0.6,1.7 3.5,0.2 3.5,-0.6 -0.6,1" fill="url(#gr0)"/><polygon points="-3.5,-0.9 -0.6,1 3.5,-0.6 0.6,-2.5" fill="#ccaed2"/><path d="M-3.5 -0.9L-0.6 1L3.5 -0.6L0.6 -2.5ZM-3.5 -0.9V-0.2L-0.6 1.7L3.5 0.2V-0.6M-0.6 1.7V1" class="e f0"/></g>
<g transform="translate(175.6 71.9)"><polygon points="-3.5,-0.2 -0.6,1.7 -0.6,1 -3.5,-0.9" fill="url(#gl0)"/><polygon points="-0.6,1.7 3.5,0.2 3.5,-0.6 -0.6,1" fill="url(#gr0)"/><polygon points="-3.5,-0.9 -0.6,1 3.5,-0.6 0.6,-2.5" fill="#ccaed2"/><path d="M-3.5 -0.9L-0.6 1L3.5 -0.6L0.6 -2.5ZM-3.5 -0.9V-0.2L-0.6 1.7L3.5 0.2V-0.6M-0.6 1.7V1" class="e f0"/></g>
<g transform="translate(167.1 75.1)"><polygon points="-3.5,-0.2 -0.6,1.7 -0.6,1 -3.5,-0.9" fill="url(#gl0)"/><polygon points="-0.6,1.7 3.5,0.2 3.5,-0.6 -0.6,1" fill="url(#gr0)"/><polygon points="-3.5,-0.9 -0.6,1 3.5,-0.6 0.6,-2.5" fill="#ccaed2"/><path d="M-3.5 -0.9L-0.6 1L3.5 -0.6L0.6 -2.5ZM-3.5 -0.9V-0.2L-0.6 1.7L3.5 0.2V-0.6M-0.6 1.7V1" class="e f0"/></g>
<g transform="translate(158.7 78.3)"><polygon points="-3.5,-0.2 -0.6,1.7 -0.6,1 -3.5,-0.9" fill="url(#gl0)"/><polygon points="-0.6,1.7 3.5,0.2 3.5,-0.6 -0.6,1" fill="url(#gr0)"/><polygon points="-3.5,-0.9 -0.6,1 3.5,-0.6 0.6,-2.5" fill="#ccaed2"/><path d="M-3.5 -0.9L-0.6 1L3.5 -0.6L0.6 -2.5ZM-3.5 -0.9V-0.2L-0.6 1.7L3.5 0.2V-0.6M-0.6 1.7V1" class="e f0"/></g>
<g transform="translate(150.2 81.5)"><polygon points="-3.5,-0.2 -0.6,1.7 -0.6,-4.3 -3.5,-6.2" fill="url(#gl0)"/><polygon points="-0.6,1.7 3.5,0.2 3.5,-5.9 -0.6,-4.3" fill="url(#gr0)"/><polygon points="-3.5,-6.2 -0.6,-4.3 3.5,-5.9 0.6,-7.8" fill="#762c85"/><path d="M-3.5 -1.7L-0.6 0.2L3.5 -1.3M-3.5 -3.2L-0.6 -1.3L3.5 -2.9M-3.5 -4.7L-0.6 -2.8L3.5 -4.4" class="s e0"/><path d="M-3.5 -6.2L-0.6 -4.3L3.5 -5.9L0.6 -7.8ZM-3.5 -6.2V-0.2L-0.6 1.7L3.5 0.2V-5.9M-0.6 1.7V-4.3" class="e e0"/></g>
<g transform="translate(141.8 84.7)"><polygon points="-3.5,-0.2 -0.6,1.7 -0.6,-0.4 -3.5,-2.3" fill="url(#gl0)"/><polygon points="-0.6,1.7 3.5,0.2 3.5,-2 -0.6,-0.4" fill="url(#gr0)"/><polygon points="-3.5,-2.3 -0.6,-0.4 3.5,-2 0.6,-3.9" fill="#9f6aaa"/><path d="M-3.5 -1.7L-0.6 0.2L3.5 -1.3" class="s e0"/><path d="M-3.5 -2.3L-0.6 -0.4L3.5 -2L0.6 -3.9ZM-3.5 -2.3V-0.2L-0.6 1.7L3.5 0.2V-2M-0.6 1.7V-0.4" class="e e0"/></g>
<g transform="translate(133.3 87.9)"><polygon points="-3.5,-0.2 -0.6,1.7 -0.6,-2 -3.5,-3.9" fill="url(#gl0)"/><polygon points="-0.6,1.7 3.5,0.2 3.5,-3.5 -0.6,-2" fill="url(#gr0)"/><polygon points="-3.5,-3.9 -0.6,-2 3.5,-3.5 0.6,-5.5" fill="#762c85"/><path d="M-3.5 -1.7L-0.6 0.2L3.5 -1.3M-3.5 -3.2L-0.6 -1.3L3.5 -2.9" class="s e0"/><path d="M-3.5 -3.9L-0.6 -2L3.5 -3.5L0.6 -5.5ZM-3.5 -3.9V-0.2L-0.6 1.7L3.5 0.2V-3.5M-0.6 1.7V-2" class="e e0"/></g>
<g transform="translate(124.9 91.1)"><polygon points="-3.5,-0.2 -0.6,1.7 -0.6,-4.5 -3.5,-6.5" fill="url(#gl0)"/><polygon points="-0.6,1.7 3.5,0.2 3.5,-6.1 -0.6,-4.5" fill="url(#gr0)"/><polygon points="-3.5,-6.5 -0.6,-4.5 3.5,-6.1 0.6,-8" fill="#762c85"/><path d="M-3.5 -1.7L-0.6 0.2L3.5 -1.3M-3.5 -3.2L-0.6 -1.3L3.5 -2.9M-3.5 -4.7L-0.6 -2.8L3.5 -4.4M-3.5 -6.2L-0.6 -4.3L3.5 -5.9" class="s e0"/><path d="M-3.5 -6.5L-0.6 -4.5L3.5 -6.1L0.6 -8ZM-3.5 -6.5V-0.2L-0.6 1.7L3.5 0.2V-6.1M-0.6 1.7V-4.5" class="e e0"/></g>
<g transform="translate(116.5 94.3)"><polygon points="-3.5,-0.2 -0.6,1.7 -0.6,-0.7 -3.5,-2.6" fill="url(#gl0)"/><polygon points="-0.6,1.7 3.5,0.2 3.5,-2.3 -0.6,-0.7" fill="url(#gr0)"/><polygon points="-3.5,-2.6 -0.6,-0.7 3.5,-2.3 0.6,-4.2" fill="#975da3"/><path d="M-3.5 -1.7L-0.6 0.2L3.5 -1.3" class="s e0"/><path d="M-3.5 -2.6L-0.6 -0.7L3.5 -2.3L0.6 -4.2ZM-3.5 -2.6V-0.2L-0.6 1.7L3.5 0.2V-2.3M-0.6 1.7V-0.7" class="e e0"/></g>
<g transform="translate(108 97.5)"><polygon points="-3.5,-0.2 -0.6,1.7 -0.6,1 -3.5,-0.9" fill="url(#gl0)"/><polygon points="-0.6,1.7 3.5,0.2 3.5,-0.6 -0.6,1" fill="url(#gr0)"/><polygon points="-3.5,-0.9 -0.6,1 3.5,-0.6 0.6,-2.5" fill="#ccaed2"/><path d="M-3.5 -0.9L-0.6 1L3.5 -0.6L0.6 -2.5ZM-3.5 -0.9V-0.2L-0.6 1.7L3.5 0.2V-0.6M-0.6 1.7V1" class="e f0"/></g>
<g transform="translate(190.1 72.5)"><polygon points="-3.5,-0.2 -0.6,1.7 -0.6,1 -3.5,-0.9" fill="url(#gl1)"/><polygon points="-0.6,1.7 3.5,0.2 3.5,-0.6 -0.6,1" fill="url(#gr1)"/><polygon points="-3.5,-0.9 -0.6,1 3.5,-0.6 0.6,-2.5" fill="#f7e0a8"/><path d="M-3.5 -0.9L-0.6 1L3.5 -0.6L0.6 -2.5ZM-3.5 -0.9V-0.2L-0.6 1.7L3.5 0.2V-0.6M-0.6 1.7V1" class="e f1"/></g>
<g transform="translate(181.6 75.8)"><polygon points="-3.5,-0.2 -0.6,1.7 -0.6,1 -3.5,-0.9" fill="url(#gl1)"/><polygon points="-0.6,1.7 3.5,0.2 3.5,-0.6 -0.6,1" fill="url(#gr1)"/><polygon points="-3.5,-0.9 -0.6,1 3.5,-0.6 0.6,-2.5" fill="#f7e0a8"/><path d="M-3.5 -0.9L-0.6 1L3.5 -0.6L0.6 -2.5ZM-3.5 -0.9V-0.2L-0.6 1.7L3.5 0.2V-0.6M-0.6 1.7V1" class="e f1"/></g>
<g transform="translate(173.1 79)"><polygon points="-3.5,-0.2 -0.6,1.7 -0.6,1 -3.5,-0.9" fill="url(#gl1)"/><polygon points="-0.6,1.7 3.5,0.2 3.5,-0.6 -0.6,1" fill="url(#gr1)"/><polygon points="-3.5,-0.9 -0.6,1 3.5,-0.6 0.6,-2.5" fill="#f7e0a8"/><path d="M-3.5 -0.9L-0.6 1L3.5 -0.6L0.6 -2.5ZM-3.5 -0.9V-0.2L-0.6 1.7L3.5 0.2V-0.6M-0.6 1.7V1" class="e f1"/></g>
<g transform="translate(164.7 82.2)"><polygon points="-3.5,-0.2 -0.6,1.7 -0.6,1 -3.5,-0.9" fill="url(#gl1)"/><polygon points="-0.6,1.7 3.5,0.2 3.5,-0.6 -0.6,1" fill="url(#gr1)"/><polygon points="-3.5,-0.9 -0.6,1 3.5,-0.6 0.6,-2.5" fill="#f7e0a8"/><path d="M-3.5 -0.9L-0.6 1L3.5 -0.6L0.6 -2.5ZM-3.5 -0.9V-0.2L-0.6 1.7L3.5 0.2V-0.6M-0.6 1.7V1" class="e f1"/></g>
<g transform="translate(156.2 85.4)"><polygon points="-3.5,-0.2 -0.6,1.7 -0.6,-4.9 -3.5,-6.8" fill="url(#gl1)"/><polygon points="-0.6,1.7 3.5,0.2 3.5,-6.5 -0.6,-4.9" fill="url(#gr1)"/><polygon points="-3.5,-6.8 -0.6,-4.9 3.5,-6.5 0.6,-8.4" fill="#dfa61e"/><path d="M-3.5 -1.7L-0.6 0.2L3.5 -1.3M-3.5 -3.2L-0.6 -1.3L3.5 -2.9M-3.5 -4.7L-0.6 -2.8L3.5 -4.4M-3.5 -6.2L-0.6 -4.3L3.5 -5.9" class="s e1"/><path d="M-3.5 -6.8L-0.6 -4.9L3.5 -6.5L0.6 -8.4ZM-3.5 -6.8V-0.2L-0.6 1.7L3.5 0.2V-6.5M-0.6 1.7V-4.9" class="e e1"/></g>
<g transform="translate(147.8 88.6)"><polygon points="-3.5,-0.2 -0.6,1.7 -0.6,-1.5 -3.5,-3.4" fill="url(#gl1)"/><polygon points="-0.6,1.7 3.5,0.2 3.5,-3.1 -0.6,-1.5" fill="url(#gr1)"/><polygon points="-3.5,-3.4 -0.6,-1.5 3.5,-3.1 0.6,-5" fill="#e1ac2b"/><path d="M-3.5 -1.7L-0.6 0.2L3.5 -1.3M-3.5 -3.2L-0.6 -1.3L3.5 -2.9" class="s e1"/><path d="M-3.5 -3.4L-0.6 -1.5L3.5 -3.1L0.6 -5ZM-3.5 -3.4V-0.2L-0.6 1.7L3.5 0.2V-3.1M-0.6 1.7V-1.5" class="e e1"/></g>
<g transform="translate(139.3 91.8)"><polygon points="-3.5,-0.2 -0.6,1.7 -0.6,-5.9 -3.5,-7.8" fill="url(#gl1)"/><polygon points="-0.6,1.7 3.5,0.2 3.5,-7.4 -0.6,-5.9" fill="url(#gr1)"/><polygon points="-3.5,-7.8 -0.6,-5.9 3.5,-7.4 0.6,-9.3" fill="#dfa61e"/><path d="M-3.5 -1.7L-0.6 0.2L3.5 -1.3M-3.5 -3.2L-0.6 -1.3L3.5 -2.9M-3.5 -4.7L-0.6 -2.8L3.5 -4.4M-3.5 -6.2L-0.6 -4.3L3.5 -5.9M-3.5 -7.7L-0.6 -5.8L3.5 -7.4" class="s e1"/><path d="M-3.5 -7.8L-0.6 -5.9L3.5 -7.4L0.6 -9.3ZM-3.5 -7.8V-0.2L-0.6 1.7L3.5 0.2V-7.4M-0.6 1.7V-5.9" class="e e1"/></g>
<g transform="translate(130.9 95)"><polygon points="-3.5,-0.2 -0.6,1.7 -0.6,-6.8 -3.5,-8.7" fill="url(#gl1)"/><polygon points="-0.6,1.7 3.5,0.2 3.5,-8.3 -0.6,-6.8" fill="url(#gr1)"/><polygon points="-3.5,-8.7 -0.6,-6.8 3.5,-8.3 0.6,-10.3" fill="#dfa61e"/><path d="M-3.5 -1.7L-0.6 0.2L3.5 -1.3M-3.5 -3.2L-0.6 -1.3L3.5 -2.9M-3.5 -4.7L-0.6 -2.8L3.5 -4.4M-3.5 -6.2L-0.6 -4.3L3.5 -5.9M-3.5 -7.7L-0.6 -5.8L3.5 -7.4" class="s e1"/><path d="M-3.5 -8.7L-0.6 -6.8L3.5 -8.3L0.6 -10.3ZM-3.5 -8.7V-0.2L-0.6 1.7L3.5 0.2V-8.3M-0.6 1.7V-6.8" class="e e1"/></g>
<g transform="translate(122.5 98.2)"><polygon points="-3.5,-0.2 -0.6,1.7 -0.6,-0.7 -3.5,-2.6" fill="url(#gl1)"/><polygon points="-0.6,1.7 3.5,0.2 3.5,-2.3 -0.6,-0.7" fill="url(#gr1)"/><polygon points="-3.5,-2.6 -0.6,-0.7 3.5,-2.3 0.6,-4.2" fill="#e8bc52"/><path d="M-3.5 -1.7L-0.6 0.2L3.5 -1.3" class="s e1"/><path d="M-3.5 -2.6L-0.6 -0.7L3.5 -2.3L0.6 -4.2ZM-3.5 -2.6V-0.2L-0.6 1.7L3.5 0.2V-2.3M-0.6 1.7V-0.7" class="e e1"/></g>
<g transform="translate(114 101.4)"><polygon points="-3.5,-0.2 -0.6,1.7 -0.6,1 -3.5,-0.9" fill="url(#gl1)"/><polygon points="-0.6,1.7 3.5,0.2 3.5,-0.6 -0.6,1" fill="url(#gr1)"/><polygon points="-3.5,-0.9 -0.6,1 3.5,-0.6 0.6,-2.5" fill="#f7e0a8"/><path d="M-3.5 -0.9L-0.6 1L3.5 -0.6L0.6 -2.5ZM-3.5 -0.9V-0.2L-0.6 1.7L3.5 0.2V-0.6M-0.6 1.7V1" class="e f1"/></g>
<g transform="translate(204.5 73.2)"><polygon points="-3.5,-0.2 -0.6,1.7 -0.6,1 -3.5,-0.9" fill="url(#gl2)"/><polygon points="-0.6,1.7 3.5,0.2 3.5,-0.6 -0.6,1" fill="url(#gr2)"/><polygon points="-3.5,-0.9 -0.6,1 3.5,-0.6 0.6,-2.5" fill="#efbca6"/><path d="M-3.5 -0.9L-0.6 1L3.5 -0.6L0.6 -2.5ZM-3.5 -0.9V-0.2L-0.6 1.7L3.5 0.2V-0.6M-0.6 1.7V1" class="e f2"/></g>
<g transform="translate(196.1 76.4)"><polygon points="-3.5,-0.2 -0.6,1.7 -0.6,1 -3.5,-0.9" fill="url(#gl2)"/><polygon points="-0.6,1.7 3.5,0.2 3.5,-0.6 -0.6,1" fill="url(#gr2)"/><polygon points="-3.5,-0.9 -0.6,1 3.5,-0.6 0.6,-2.5" fill="#efbca6"/><path d="M-3.5 -0.9L-0.6 1L3.5 -0.6L0.6 -2.5ZM-3.5 -0.9V-0.2L-0.6 1.7L3.5 0.2V-0.6M-0.6 1.7V1" class="e f2"/></g>
<g transform="translate(187.6 79.7)"><polygon points="-3.5,-0.2 -0.6,1.7 -0.6,1 -3.5,-0.9" fill="url(#gl2)"/><polygon points="-0.6,1.7 3.5,0.2 3.5,-0.6 -0.6,1" fill="url(#gr2)"/><polygon points="-3.5,-0.9 -0.6,1 3.5,-0.6 0.6,-2.5" fill="#efbca6"/><path d="M-3.5 -0.9L-0.6 1L3.5 -0.6L0.6 -2.5ZM-3.5 -0.9V-0.2L-0.6 1.7L3.5 0.2V-0.6M-0.6 1.7V1" class="e f2"/></g>
<g transform="translate(179.1 82.9)"><polygon points="-3.5,-0.2 -0.6,1.7 -0.6,1 -3.5,-0.9" fill="url(#gl2)"/><polygon points="-0.6,1.7 3.5,0.2 3.5,-0.6 -0.6,1" fill="url(#gr2)"/><polygon points="-3.5,-0.9 -0.6,1 3.5,-0.6 0.6,-2.5" fill="#efbca6"/><path d="M-3.5 -0.9L-0.6 1L3.5 -0.6L0.6 -2.5ZM-3.5 -0.9V-0.2L-0.6 1.7L3.5 0.2V-0.6M-0.6 1.7V1" class="e f2"/></g>
<g transform="translate(170.7 86.1)"><polygon points="-3.5,-0.2 -0.6,1.7 -0.6,1 -3.5,-0.9" fill="url(#gl2)"/><polygon points="-0.6,1.7 3.5,0.2 3.5,-0.6 -0.6,1" fill="url(#gr2)"/><polygon points="-3.5,-0.9 -0.6,1 3.5,-0.6 0.6,-2.5" fill="#efbca6"/><path d="M-3.5 -0.9L-0.6 1L3.5 -0.6L0.6 -2.5ZM-3.5 -0.9V-0.2L-0.6 1.7L3.5 0.2V-0.6M-0.6 1.7V1" class="e f2"/></g>
<g transform="translate(162.2 89.3)"><polygon points="-3.5,-0.2 -0.6,1.7 -0.6,-6.1 -3.5,-8" fill="url(#gl2)"/><polygon points="-0.6,1.7 3.5,0.2 3.5,-7.7 -0.6,-6.1" fill="url(#gr2)"/><polygon points="-3.5,-8 -0.6,-6.1 3.5,-7.7 0.6,-9.6" fill="#cc4e18"/><path d="M-3.5 -1.7L-0.6 0.2L3.5 -1.3M-3.5 -3.2L-0.6 -1.3L3.5 -2.9M-3.5 -4.7L-0.6 -2.8L3.5 -4.4M-3.5 -6.2L-0.6 -4.3L3.5 -5.9M-3.5 -7.7L-0.6 -5.8L3.5 -7.4" class="s e2"/><path d="M-3.5 -8L-0.6 -6.1L3.5 -7.7L0.6 -9.6ZM-3.5 -8V-0.2L-0.6 1.7L3.5 0.2V-7.7M-0.6 1.7V-6.1" class="e e2"/></g>
<g transform="translate(153.8 92.5)"><polygon points="-3.5,-0.2 -0.6,1.7 -0.6,-1 -3.5,-3" fill="url(#gl2)"/><polygon points="-0.6,1.7 3.5,0.2 3.5,-2.6 -0.6,-1" fill="url(#gr2)"/><polygon points="-3.5,-3 -0.6,-1 3.5,-2.6 0.6,-4.5" fill="#d56a3c"/><path d="M-3.5 -1.7L-0.6 0.2L3.5 -1.3" class="s e2"/><path d="M-3.5 -3L-0.6 -1L3.5 -2.6L0.6 -4.5ZM-3.5 -3V-0.2L-0.6 1.7L3.5 0.2V-2.6M-0.6 1.7V-1" class="e e2"/></g>
<g transform="translate(145.3 95.7)"><polygon points="-3.5,-0.2 -0.6,1.7 -0.6,-4.7 -3.5,-6.6" fill="url(#gl2)"/><polygon points="-0.6,1.7 3.5,0.2 3.5,-6.2 -0.6,-4.7" fill="url(#gr2)"/><polygon points="-3.5,-6.6 -0.6,-4.7 3.5,-6.2 0.6,-8.1" fill="#cc4e18"/><path d="M-3.5 -1.7L-0.6 0.2L3.5 -1.3M-3.5 -3.2L-0.6 -1.3L3.5 -2.9M-3.5 -4.7L-0.6 -2.8L3.5 -4.4M-3.5 -6.2L-0.6 -4.3L3.5 -5.9" class="s e2"/><path d="M-3.5 -6.6L-0.6 -4.7L3.5 -6.2L0.6 -8.1ZM-3.5 -6.6V-0.2L-0.6 1.7L3.5 0.2V-6.2M-0.6 1.7V-4.7" class="e e2"/></g>
<g transform="translate(136.9 98.9)"><polygon points="-3.5,-0.2 -0.6,1.7 -0.6,-7.1 -3.5,-9" fill="url(#gl2)"/><polygon points="-0.6,1.7 3.5,0.2 3.5,-8.7 -0.6,-7.1" fill="url(#gr2)"/><polygon points="-3.5,-9 -0.6,-7.1 3.5,-8.7 0.6,-10.6" fill="#cc4e18"/><path d="M-3.5 -1.7L-0.6 0.2L3.5 -1.3M-3.5 -3.2L-0.6 -1.3L3.5 -2.9M-3.5 -4.7L-0.6 -2.8L3.5 -4.4M-3.5 -6.2L-0.6 -4.3L3.5 -5.9M-3.5 -7.7L-0.6 -5.8L3.5 -7.4" class="s e2"/><path d="M-3.5 -9L-0.6 -7.1L3.5 -8.7L0.6 -10.6ZM-3.5 -9V-0.2L-0.6 1.7L3.5 0.2V-8.7M-0.6 1.7V-7.1" class="e e2"/></g>
<g transform="translate(128.4 102.1)"><polygon points="-3.5,-0.2 -0.6,1.7 -0.6,-1.9 -3.5,-3.8" fill="url(#gl2)"/><polygon points="-0.6,1.7 3.5,0.2 3.5,-3.5 -0.6,-1.9" fill="url(#gr2)"/><polygon points="-3.5,-3.8 -0.6,-1.9 3.5,-3.5 0.6,-5.4" fill="#cc4e18"/><path d="M-3.5 -1.7L-0.6 0.2L3.5 -1.3M-3.5 -3.2L-0.6 -1.3L3.5 -2.9" class="s e2"/><path d="M-3.5 -3.8L-0.6 -1.9L3.5 -3.5L0.6 -5.4ZM-3.5 -3.8V-0.2L-0.6 1.7L3.5 0.2V-3.5M-0.6 1.7V-1.9" class="e e2"/></g>
<g transform="translate(120 105.3)"><polygon points="-3.5,-0.2 -0.6,1.7 -0.6,1 -3.5,-0.9" fill="url(#gl2)"/><polygon points="-0.6,1.7 3.5,0.2 3.5,-0.6 -0.6,1" fill="url(#gr2)"/><polygon points="-3.5,-0.9 -0.6,1 3.5,-0.6 0.6,-2.5" fill="#efbca6"/><path d="M-3.5 -0.9L-0.6 1L3.5 -0.6L0.6 -2.5ZM-3.5 -0.9V-0.2L-0.6 1.7L3.5 0.2V-0.6M-0.6 1.7V1" class="e f2"/></g>
<g transform="translate(210.5 77.1)"><polygon points="-3.5,-0.2 -0.6,1.7 -0.6,1 -3.5,-0.9" fill="url(#gl3)"/><polygon points="-0.6,1.7 3.5,0.2 3.5,-0.6 -0.6,1" fill="url(#gr3)"/><polygon points="-3.5,-0.9 -0.6,1 3.5,-0.6 0.6,-2.5" fill="#9cc8e4"/><path d="M-3.5 -0.9L-0.6 1L3.5 -0.6L0.6 -2.5ZM-3.5 -0.9V-0.2L-0.6 1.7L3.5 0.2V-0.6M-0.6 1.7V1" class="e f3"/></g>
<g transform="translate(202.1 80.3)"><polygon points="-3.5,-0.2 -0.6,1.7 -0.6,1 -3.5,-0.9" fill="url(#gl3)"/><polygon points="-0.6,1.7 3.5,0.2 3.5,-0.6 -0.6,1" fill="url(#gr3)"/><polygon points="-3.5,-0.9 -0.6,1 3.5,-0.6 0.6,-2.5" fill="#9cc8e4"/><path d="M-3.5 -0.9L-0.6 1L3.5 -0.6L0.6 -2.5ZM-3.5 -0.9V-0.2L-0.6 1.7L3.5 0.2V-0.6M-0.6 1.7V1" class="e f3"/></g>
<g transform="translate(193.6 83.5)"><polygon points="-3.5,-0.2 -0.6,1.7 -0.6,1 -3.5,-0.9" fill="url(#gl3)"/><polygon points="-0.6,1.7 3.5,0.2 3.5,-0.6 -0.6,1" fill="url(#gr3)"/><polygon points="-3.5,-0.9 -0.6,1 3.5,-0.6 0.6,-2.5" fill="#9cc8e4"/><path d="M-3.5 -0.9L-0.6 1L3.5 -0.6L0.6 -2.5ZM-3.5 -0.9V-0.2L-0.6 1.7L3.5 0.2V-0.6M-0.6 1.7V1" class="e f3"/></g>
<g transform="translate(185.1 86.8)"><polygon points="-3.5,-0.2 -0.6,1.7 -0.6,1 -3.5,-0.9" fill="url(#gl3)"/><polygon points="-0.6,1.7 3.5,0.2 3.5,-0.6 -0.6,1" fill="url(#gr3)"/><polygon points="-3.5,-0.9 -0.6,1 3.5,-0.6 0.6,-2.5" fill="#9cc8e4"/><path d="M-3.5 -0.9L-0.6 1L3.5 -0.6L0.6 -2.5ZM-3.5 -0.9V-0.2L-0.6 1.7L3.5 0.2V-0.6M-0.6 1.7V1" class="e f3"/></g>
<g transform="translate(176.7 90)"><polygon points="-3.5,-0.2 -0.6,1.7 -0.6,1 -3.5,-0.9" fill="url(#gl3)"/><polygon points="-0.6,1.7 3.5,0.2 3.5,-0.6 -0.6,1" fill="url(#gr3)"/><polygon points="-3.5,-0.9 -0.6,1 3.5,-0.6 0.6,-2.5" fill="#9cc8e4"/><path d="M-3.5 -0.9L-0.6 1L3.5 -0.6L0.6 -2.5ZM-3.5 -0.9V-0.2L-0.6 1.7L3.5 0.2V-0.6M-0.6 1.7V1" class="e f3"/></g>
<g transform="translate(168.2 93.2)"><polygon points="-3.5,-0.2 -0.6,1.7 -0.6,-7.3 -3.5,-9.2" fill="url(#gl3)"/><polygon points="-0.6,1.7 3.5,0.2 3.5,-8.8 -0.6,-7.3" fill="url(#gr3)"/><polygon points="-3.5,-9.2 -0.6,-7.3 3.5,-8.8 0.6,-10.7" fill="#006bb2"/><path d="M-3.5 -1.7L-0.6 0.2L3.5 -1.3M-3.5 -3.2L-0.6 -1.3L3.5 -2.9M-3.5 -4.7L-0.6 -2.8L3.5 -4.4M-3.5 -6.2L-0.6 -4.3L3.5 -5.9M-3.5 -7.7L-0.6 -5.8L3.5 -7.4" class="s e3"/><path d="M-3.5 -9.2L-0.6 -7.3L3.5 -8.8L0.6 -10.7ZM-3.5 -9.2V-0.2L-0.6 1.7L3.5 0.2V-8.8M-0.6 1.7V-7.3" class="e e3"/></g>
<g transform="translate(159.8 96.4)"><polygon points="-3.5,-0.2 -0.6,1.7 -0.6,-1.6 -3.5,-3.5" fill="url(#gl3)"/><polygon points="-0.6,1.7 3.5,0.2 3.5,-3.2 -0.6,-1.6" fill="url(#gr3)"/><polygon points="-3.5,-3.5 -0.6,-1.6 3.5,-3.2 0.6,-5.1" fill="#066fb4"/><path d="M-3.5 -1.7L-0.6 0.2L3.5 -1.3M-3.5 -3.2L-0.6 -1.3L3.5 -2.9" class="s e3"/><path d="M-3.5 -3.5L-0.6 -1.6L3.5 -3.2L0.6 -5.1ZM-3.5 -3.5V-0.2L-0.6 1.7L3.5 0.2V-3.2M-0.6 1.7V-1.6" class="e e3"/></g>
<g transform="translate(151.3 99.6)"><polygon points="-3.5,-0.2 -0.6,1.7 -0.6,-2.7 -3.5,-4.6" fill="url(#gl3)"/><polygon points="-0.6,1.7 3.5,0.2 3.5,-4.3 -0.6,-2.7" fill="url(#gr3)"/><polygon points="-3.5,-4.6 -0.6,-2.7 3.5,-4.3 0.6,-6.2" fill="#006bb2"/><path d="M-3.5 -1.7L-0.6 0.2L3.5 -1.3M-3.5 -3.2L-0.6 -1.3L3.5 -2.9" class="s e3"/><path d="M-3.5 -4.6L-0.6 -2.7L3.5 -4.3L0.6 -6.2ZM-3.5 -4.6V-0.2L-0.6 1.7L3.5 0.2V-4.3M-0.6 1.7V-2.7" class="e e3"/></g>
<g transform="translate(142.9 102.8)"><polygon points="-3.5,-0.2 -0.6,1.7 -0.6,-5.3 -3.5,-7.2" fill="url(#gl3)"/><polygon points="-0.6,1.7 3.5,0.2 3.5,-6.9 -0.6,-5.3" fill="url(#gr3)"/><polygon points="-3.5,-7.2 -0.6,-5.3 3.5,-6.9 0.6,-8.8" fill="#006bb2"/><path d="M-3.5 -1.7L-0.6 0.2L3.5 -1.3M-3.5 -3.2L-0.6 -1.3L3.5 -2.9M-3.5 -4.7L-0.6 -2.8L3.5 -4.4M-3.5 -6.2L-0.6 -4.3L3.5 -5.9" class="s e3"/><path d="M-3.5 -7.2L-0.6 -5.3L3.5 -6.9L0.6 -8.8ZM-3.5 -7.2V-0.2L-0.6 1.7L3.5 0.2V-6.9M-0.6 1.7V-5.3" class="e e3"/></g>
<g transform="translate(134.4 106)"><polygon points="-3.5,-0.2 -0.6,1.7 -0.6,-1.5 -3.5,-3.4" fill="url(#gl3)"/><polygon points="-0.6,1.7 3.5,0.2 3.5,-3 -0.6,-1.5" fill="url(#gr3)"/><polygon points="-3.5,-3.4 -0.6,-1.5 3.5,-3 0.6,-4.9" fill="#1075b7"/><path d="M-3.5 -1.7L-0.6 0.2L3.5 -1.3M-3.5 -3.2L-0.6 -1.3L3.5 -2.9" class="s e3"/><path d="M-3.5 -3.4L-0.6 -1.5L3.5 -3L0.6 -4.9ZM-3.5 -3.4V-0.2L-0.6 1.7L3.5 0.2V-3M-0.6 1.7V-1.5" class="e e3"/></g>
<g transform="translate(126 109.2)"><polygon points="-3.5,-0.2 -0.6,1.7 -0.6,1 -3.5,-0.9" fill="url(#gl3)"/><polygon points="-0.6,1.7 3.5,0.2 3.5,-0.6 -0.6,1" fill="url(#gr3)"/><polygon points="-3.5,-0.9 -0.6,1 3.5,-0.6 0.6,-2.5" fill="#9cc8e4"/><path d="M-3.5 -0.9L-0.6 1L3.5 -0.6L0.6 -2.5ZM-3.5 -0.9V-0.2L-0.6 1.7L3.5 0.2V-0.6M-0.6 1.7V1" class="e f3"/></g>
<g transform="translate(208.1 93.1)"><polygon points="-3.5,-0.2 -0.6,1.7 -0.6,1 -3.5,-0.9" fill="url(#gl0)"/><polygon points="-0.6,1.7 3.5,0.2 3.5,-0.6 -0.6,1" fill="url(#gr0)"/><polygon points="-3.5,-0.9 -0.6,1 3.5,-0.6 0.6,-2.5" fill="#ccaed2"/><path d="M-3.5 -0.9L-0.6 1L3.5 -0.6L0.6 -2.5ZM-3.5 -0.9V-0.2L-0.6 1.7L3.5 0.2V-0.6M-0.6 1.7V1" class="e f0"/></g>
<g transform="translate(199.6 96.3)"><polygon points="-3.5,-0.2 -0.6,1.7 -0.6,1 -3.5,-0.9" fill="url(#gl0)"/><polygon points="-0.6,1.7 3.5,0.2 3.5,-0.6 -0.6,1" fill="url(#gr0)"/><polygon points="-3.5,-0.9 -0.6,1 3.5,-0.6 0.6,-2.5" fill="#ccaed2"/><path d="M-3.5 -0.9L-0.6 1L3.5 -0.6L0.6 -2.5ZM-3.5 -0.9V-0.2L-0.6 1.7L3.5 0.2V-0.6M-0.6 1.7V1" class="e f0"/></g>
<g transform="translate(191.2 99.5)"><polygon points="-3.5,-0.2 -0.6,1.7 -0.6,1 -3.5,-0.9" fill="url(#gl0)"/><polygon points="-0.6,1.7 3.5,0.2 3.5,-0.6 -0.6,1" fill="url(#gr0)"/><polygon points="-3.5,-0.9 -0.6,1 3.5,-0.6 0.6,-2.5" fill="#ccaed2"/><path d="M-3.5 -0.9L-0.6 1L3.5 -0.6L0.6 -2.5ZM-3.5 -0.9V-0.2L-0.6 1.7L3.5 0.2V-0.6M-0.6 1.7V1" class="e f0"/></g>
<g transform="translate(182.8 102.8)"><polygon points="-3.5,-0.2 -0.6,1.7 -0.6,-3.8 -3.5,-5.7" fill="url(#gl0)"/><polygon points="-0.6,1.7 3.5,0.2 3.5,-5.4 -0.6,-3.8" fill="url(#gr0)"/><polygon points="-3.5,-5.7 -0.6,-3.8 3.5,-5.4 0.6,-7.3" fill="#762c85"/><path d="M-3.5 -1.7L-0.6 0.2L3.5 -1.3M-3.5 -3.2L-0.6 -1.3L3.5 -2.9M-3.5 -4.7L-0.6 -2.8L3.5 -4.4" class="s e0"/><path d="M-3.5 -5.7L-0.6 -3.8L3.5 -5.4L0.6 -7.3ZM-3.5 -5.7V-0.2L-0.6 1.7L3.5 0.2V-5.4M-0.6 1.7V-3.8" class="e e0"/></g>
<g transform="translate(174.3 106)"><polygon points="-3.5,-0.2 -0.6,1.7 -0.6,-0.5 -3.5,-2.5" fill="url(#gl0)"/><polygon points="-0.6,1.7 3.5,0.2 3.5,-2.1 -0.6,-0.5" fill="url(#gr0)"/><polygon points="-3.5,-2.5 -0.6,-0.5 3.5,-2.1 0.6,-4" fill="#9c65a7"/><path d="M-3.5 -1.7L-0.6 0.2L3.5 -1.3" class="s e0"/><path d="M-3.5 -2.5L-0.6 -0.5L3.5 -2.1L0.6 -4ZM-3.5 -2.5V-0.2L-0.6 1.7L3.5 0.2V-2.1M-0.6 1.7V-0.5" class="e e0"/></g>
<g transform="translate(165.8 109.2)"><polygon points="-3.5,-0.2 -0.6,1.7 -0.6,-1.5 -3.5,-3.4" fill="url(#gl0)"/><polygon points="-0.6,1.7 3.5,0.2 3.5,-3 -0.6,-1.5" fill="url(#gr0)"/><polygon points="-3.5,-3.4 -0.6,-1.5 3.5,-3 0.6,-5" fill="#7f398d"/><path d="M-3.5 -1.7L-0.6 0.2L3.5 -1.3M-3.5 -3.2L-0.6 -1.3L3.5 -2.9" class="s e0"/><path d="M-3.5 -3.4L-0.6 -1.5L3.5 -3L0.6 -5ZM-3.5 -3.4V-0.2L-0.6 1.7L3.5 0.2V-3M-0.6 1.7V-1.5" class="e e0"/></g>
<g transform="translate(157.4 112.4)"><polygon points="-3.5,-0.2 -0.6,1.7 -0.6,-5.4 -3.5,-7.3" fill="url(#gl0)"/><polygon points="-0.6,1.7 3.5,0.2 3.5,-7 -0.6,-5.4" fill="url(#gr0)"/><polygon points="-3.5,-7.3 -0.6,-5.4 3.5,-7 0.6,-8.9" fill="#762c85"/><path d="M-3.5 -1.7L-0.6 0.2L3.5 -1.3M-3.5 -3.2L-0.6 -1.3L3.5 -2.9M-3.5 -4.7L-0.6 -2.8L3.5 -4.4M-3.5 -6.2L-0.6 -4.3L3.5 -5.9" class="s e0"/><path d="M-3.5 -7.3L-0.6 -5.4L3.5 -7L0.6 -8.9ZM-3.5 -7.3V-0.2L-0.6 1.7L3.5 0.2V-7M-0.6 1.7V-5.4" class="e e0"/></g>
<g transform="translate(148.9 115.6)"><polygon points="-3.5,-0.2 -0.6,1.7 -0.6,-1.4 -3.5,-3.3" fill="url(#gl0)"/><polygon points="-0.6,1.7 3.5,0.2 3.5,-3 -0.6,-1.4" fill="url(#gr0)"/><polygon points="-3.5,-3.3 -0.6,-1.4 3.5,-3 0.6,-4.9" fill="#813c8f"/><path d="M-3.5 -1.7L-0.6 0.2L3.5 -1.3M-3.5 -3.2L-0.6 -1.3L3.5 -2.9" class="s e0"/><path d="M-3.5 -3.3L-0.6 -1.4L3.5 -3L0.6 -4.9ZM-3.5 -3.3V-0.2L-0.6 1.7L3.5 0.2V-3M-0.6 1.7V-1.4" class="e e0"/></g>
<g transform="translate(140.5 118.8)"><polygon points="-3.5,-0.2 -0.6,1.7 -0.6,1 -3.5,-0.9" fill="url(#gl0)"/><polygon points="-0.6,1.7 3.5,0.2 3.5,-0.6 -0.6,1" fill="url(#gr0)"/><polygon points="-3.5,-0.9 -0.6,1 3.5,-0.6 0.6,-2.5" fill="#ccaed2"/><path d="M-3.5 -0.9L-0.6 1L3.5 -0.6L0.6 -2.5ZM-3.5 -0.9V-0.2L-0.6 1.7L3.5 0.2V-0.6M-0.6 1.7V1" class="e f0"/></g>
<g transform="translate(214.1 97)"><polygon points="-3.5,-0.2 -0.6,1.7 -0.6,1 -3.5,-0.9" fill="url(#gl1)"/><polygon points="-0.6,1.7 3.5,0.2 3.5,-0.6 -0.6,1" fill="url(#gr1)"/><polygon points="-3.5,-0.9 -0.6,1 3.5,-0.6 0.6,-2.5" fill="#f7e0a8"/><path d="M-3.5 -0.9L-0.6 1L3.5 -0.6L0.6 -2.5ZM-3.5 -0.9V-0.2L-0.6 1.7L3.5 0.2V-0.6M-0.6 1.7V1" class="e f1"/></g>
<g transform="translate(205.6 100.2)"><polygon points="-3.5,-0.2 -0.6,1.7 -0.6,1 -3.5,-0.9" fill="url(#gl1)"/><polygon points="-0.6,1.7 3.5,0.2 3.5,-0.6 -0.6,1" fill="url(#gr1)"/><polygon points="-3.5,-0.9 -0.6,1 3.5,-0.6 0.6,-2.5" fill="#f7e0a8"/><path d="M-3.5 -0.9L-0.6 1L3.5 -0.6L0.6 -2.5ZM-3.5 -0.9V-0.2L-0.6 1.7L3.5 0.2V-0.6M-0.6 1.7V1" class="e f1"/></g>
<g transform="translate(197.2 103.4)"><polygon points="-3.5,-0.2 -0.6,1.7 -0.6,1 -3.5,-0.9" fill="url(#gl1)"/><polygon points="-0.6,1.7 3.5,0.2 3.5,-0.6 -0.6,1" fill="url(#gr1)"/><polygon points="-3.5,-0.9 -0.6,1 3.5,-0.6 0.6,-2.5" fill="#f7e0a8"/><path d="M-3.5 -0.9L-0.6 1L3.5 -0.6L0.6 -2.5ZM-3.5 -0.9V-0.2L-0.6 1.7L3.5 0.2V-0.6M-0.6 1.7V1" class="e f1"/></g>
<g transform="translate(188.8 106.6)"><polygon points="-3.5,-0.2 -0.6,1.7 -0.6,-5.1 -3.5,-7" fill="url(#gl1)"/><polygon points="-0.6,1.7 3.5,0.2 3.5,-6.7 -0.6,-5.1" fill="url(#gr1)"/><polygon points="-3.5,-7 -0.6,-5.1 3.5,-6.7 0.6,-8.6" fill="#dfa61e"/><path d="M-3.5 -1.7L-0.6 0.2L3.5 -1.3M-3.5 -3.2L-0.6 -1.3L3.5 -2.9M-3.5 -4.7L-0.6 -2.8L3.5 -4.4M-3.5 -6.2L-0.6 -4.3L3.5 -5.9" class="s e1"/><path d="M-3.5 -7L-0.6 -5.1L3.5 -6.7L0.6 -8.6ZM-3.5 -7V-0.2L-0.6 1.7L3.5 0.2V-6.7M-0.6 1.7V-5.1" class="e e1"/></g>
<g transform="translate(180.3 109.8)"><polygon points="-3.5,-0.2 -0.6,1.7 -0.6,-1.7 -3.5,-3.7" fill="url(#gl1)"/><polygon points="-0.6,1.7 3.5,0.2 3.5,-3.3 -0.6,-1.7" fill="url(#gr1)"/><polygon points="-3.5,-3.7 -0.6,-1.7 3.5,-3.3 0.6,-5.2" fill="#dfa61e"/><path d="M-3.5 -1.7L-0.6 0.2L3.5 -1.3M-3.5 -3.2L-0.6 -1.3L3.5 -2.9" class="s e1"/><path d="M-3.5 -3.7L-0.6 -1.7L3.5 -3.3L0.6 -5.2ZM-3.5 -3.7V-0.2L-0.6 1.7L3.5 0.2V-3.3M-0.6 1.7V-1.7" class="e e1"/></g>
<g transform="translate(171.8 113.1)"><polygon points="-3.5,-0.2 -0.6,1.7 -0.6,-4.9 -3.5,-6.8" fill="url(#gl1)"/><polygon points="-0.6,1.7 3.5,0.2 3.5,-6.5 -0.6,-4.9" fill="url(#gr1)"/><polygon points="-3.5,-6.8 -0.6,-4.9 3.5,-6.5 0.6,-8.4" fill="#dfa61e"/><path d="M-3.5 -1.7L-0.6 0.2L3.5 -1.3M-3.5 -3.2L-0.6 -1.3L3.5 -2.9M-3.5 -4.7L-0.6 -2.8L3.5 -4.4M-3.5 -6.2L-0.6 -4.3L3.5 -5.9" class="s e1"/><path d="M-3.5 -6.8L-0.6 -4.9L3.5 -6.5L0.6 -8.4ZM-3.5 -6.8V-0.2L-0.6 1.7L3.5 0.2V-6.5M-0.6 1.7V-4.9" class="e e1"/></g>
<g transform="translate(163.4 116.3)"><polygon points="-3.5,-0.2 -0.6,1.7 -0.6,-6 -3.5,-7.9" fill="url(#gl1)"/><polygon points="-0.6,1.7 3.5,0.2 3.5,-7.6 -0.6,-6" fill="url(#gr1)"/><polygon points="-3.5,-7.9 -0.6,-6 3.5,-7.6 0.6,-9.5" fill="#dfa61e"/><path d="M-3.5 -1.7L-0.6 0.2L3.5 -1.3M-3.5 -3.2L-0.6 -1.3L3.5 -2.9M-3.5 -4.7L-0.6 -2.8L3.5 -4.4M-3.5 -6.2L-0.6 -4.3L3.5 -5.9M-3.5 -7.7L-0.6 -5.8L3.5 -7.4" class="s e1"/><path d="M-3.5 -7.9L-0.6 -6L3.5 -7.6L0.6 -9.5ZM-3.5 -7.9V-0.2L-0.6 1.7L3.5 0.2V-7.6M-0.6 1.7V-6" class="e e1"/></g>
<g transform="translate(154.9 119.5)"><polygon points="-3.5,-0.2 -0.6,1.7 -0.6,-1 -3.5,-2.9" fill="url(#gl1)"/><polygon points="-0.6,1.7 3.5,0.2 3.5,-2.5 -0.6,-1" fill="url(#gr1)"/><polygon points="-3.5,-2.9 -0.6,-1 3.5,-2.5 0.6,-4.4" fill="#e6b746"/><path d="M-3.5 -1.7L-0.6 0.2L3.5 -1.3" class="s e1"/><path d="M-3.5 -2.9L-0.6 -1L3.5 -2.5L0.6 -4.4ZM-3.5 -2.9V-0.2L-0.6 1.7L3.5 0.2V-2.5M-0.6 1.7V-1" class="e e1"/></g>
<g transform="translate(146.5 122.7)"><polygon points="-3.5,-0.2 -0.6,1.7 -0.6,1 -3.5,-0.9" fill="url(#gl1)"/><polygon points="-0.6,1.7 3.5,0.2 3.5,-0.6 -0.6,1" fill="url(#gr1)"/><polygon points="-3.5,-0.9 -0.6,1 3.5,-0.6 0.6,-2.5" fill="#f7e0a8"/><path d="M-3.5 -0.9L-0.6 1L3.5 -0.6L0.6 -2.5ZM-3.5 -0.9V-0.2L-0.6 1.7L3.5 0.2V-0.6M-0.6 1.7V1" class="e f1"/></g>
<g transform="translate(220.1 100.9)"><polygon points="-3.5,-0.2 -0.6,1.7 -0.6,1 -3.5,-0.9" fill="url(#gl2)"/><polygon points="-0.6,1.7 3.5,0.2 3.5,-0.6 -0.6,1" fill="url(#gr2)"/><polygon points="-3.5,-0.9 -0.6,1 3.5,-0.6 0.6,-2.5" fill="#efbca6"/><path d="M-3.5 -0.9L-0.6 1L3.5 -0.6L0.6 -2.5ZM-3.5 -0.9V-0.2L-0.6 1.7L3.5 0.2V-0.6M-0.6 1.7V1" class="e f2"/></g>
<g transform="translate(211.6 104.1)"><polygon points="-3.5,-0.2 -0.6,1.7 -0.6,1 -3.5,-0.9" fill="url(#gl2)"/><polygon points="-0.6,1.7 3.5,0.2 3.5,-0.6 -0.6,1" fill="url(#gr2)"/><polygon points="-3.5,-0.9 -0.6,1 3.5,-0.6 0.6,-2.5" fill="#efbca6"/><path d="M-3.5 -0.9L-0.6 1L3.5 -0.6L0.6 -2.5ZM-3.5 -0.9V-0.2L-0.6 1.7L3.5 0.2V-0.6M-0.6 1.7V1" class="e f2"/></g>
<g transform="translate(203.2 107.3)"><polygon points="-3.5,-0.2 -0.6,1.7 -0.6,1 -3.5,-0.9" fill="url(#gl2)"/><polygon points="-0.6,1.7 3.5,0.2 3.5,-0.6 -0.6,1" fill="url(#gr2)"/><polygon points="-3.5,-0.9 -0.6,1 3.5,-0.6 0.6,-2.5" fill="#efbca6"/><path d="M-3.5 -0.9L-0.6 1L3.5 -0.6L0.6 -2.5ZM-3.5 -0.9V-0.2L-0.6 1.7L3.5 0.2V-0.6M-0.6 1.7V1" class="e f2"/></g>
<g transform="translate(194.8 110.5)"><polygon points="-3.5,-0.2 -0.6,1.7 -0.6,-6.3 -3.5,-8.2" fill="url(#gl2)"/><polygon points="-0.6,1.7 3.5,0.2 3.5,-7.9 -0.6,-6.3" fill="url(#gr2)"/><polygon points="-3.5,-8.2 -0.6,-6.3 3.5,-7.9 0.6,-9.8" fill="#cc4e18"/><path d="M-3.5 -1.7L-0.6 0.2L3.5 -1.3M-3.5 -3.2L-0.6 -1.3L3.5 -2.9M-3.5 -4.7L-0.6 -2.8L3.5 -4.4M-3.5 -6.2L-0.6 -4.3L3.5 -5.9M-3.5 -7.7L-0.6 -5.8L3.5 -7.4" class="s e2"/><path d="M-3.5 -8.2L-0.6 -6.3L3.5 -7.9L0.6 -9.8ZM-3.5 -8.2V-0.2L-0.6 1.7L3.5 0.2V-7.9M-0.6 1.7V-6.3" class="e e2"/></g>
<g transform="translate(186.3 113.7)"><polygon points="-3.5,-0.2 -0.6,1.7 -0.6,-1.3 -3.5,-3.2" fill="url(#gl2)"/><polygon points="-0.6,1.7 3.5,0.2 3.5,-2.9 -0.6,-1.3" fill="url(#gr2)"/><polygon points="-3.5,-3.2 -0.6,-1.3 3.5,-2.9 0.6,-4.8" fill="#d2602f"/><path d="M-3.5 -1.7L-0.6 0.2L3.5 -1.3" class="s e2"/><path d="M-3.5 -3.2L-0.6 -1.3L3.5 -2.9L0.6 -4.8ZM-3.5 -3.2V-0.2L-0.6 1.7L3.5 0.2V-2.9M-0.6 1.7V-1.3" class="e e2"/></g>
<g transform="translate(177.8 117)"><polygon points="-3.5,-0.2 -0.6,1.7 -0.6,-4.5 -3.5,-6.4" fill="url(#gl2)"/><polygon points="-0.6,1.7 3.5,0.2 3.5,-6 -0.6,-4.5" fill="url(#gr2)"/><polygon points="-3.5,-6.4 -0.6,-4.5 3.5,-6 0.6,-7.9" fill="#cc4e18"/><path d="M-3.5 -1.7L-0.6 0.2L3.5 -1.3M-3.5 -3.2L-0.6 -1.3L3.5 -2.9M-3.5 -4.7L-0.6 -2.8L3.5 -4.4M-3.5 -6.2L-0.6 -4.3L3.5 -5.9" class="s e2"/><path d="M-3.5 -6.4L-0.6 -4.5L3.5 -6L0.6 -7.9ZM-3.5 -6.4V-0.2L-0.6 1.7L3.5 0.2V-6M-0.6 1.7V-4.5" class="e e2"/></g>
<g transform="translate(169.4 120.2)"><polygon points="-3.5,-0.2 -0.6,1.7 -0.6,-6.6 -3.5,-8.5" fill="url(#gl2)"/><polygon points="-0.6,1.7 3.5,0.2 3.5,-8.2 -0.6,-6.6" fill="url(#gr2)"/><polygon points="-3.5,-8.5 -0.6,-6.6 3.5,-8.2 0.6,-10.1" fill="#cc4e18"/><path d="M-3.5 -1.7L-0.6 0.2L3.5 -1.3M-3.5 -3.2L-0.6 -1.3L3.5 -2.9M-3.5 -4.7L-0.6 -2.8L3.5 -4.4M-3.5 -6.2L-0.6 -4.3L3.5 -5.9M-3.5 -7.7L-0.6 -5.8L3.5 -7.4" class="s e2"/><path d="M-3.5 -8.5L-0.6 -6.6L3.5 -8.2L0.6 -10.1ZM-3.5 -8.5V-0.2L-0.6 1.7L3.5 0.2V-8.2M-0.6 1.7V-6.6" class="e e2"/></g>
<g transform="translate(160.9 123.4)"><polygon points="-3.5,-0.2 -0.6,1.7 -0.6,-1.9 -3.5,-3.8" fill="url(#gl2)"/><polygon points="-0.6,1.7 3.5,0.2 3.5,-3.4 -0.6,-1.9" fill="url(#gr2)"/><polygon points="-3.5,-3.8 -0.6,-1.9 3.5,-3.4 0.6,-5.3" fill="#cc4e18"/><path d="M-3.5 -1.7L-0.6 0.2L3.5 -1.3M-3.5 -3.2L-0.6 -1.3L3.5 -2.9" class="s e2"/><path d="M-3.5 -3.8L-0.6 -1.9L3.5 -3.4L0.6 -5.3ZM-3.5 -3.8V-0.2L-0.6 1.7L3.5 0.2V-3.4M-0.6 1.7V-1.9" class="e e2"/></g>
<g transform="translate(152.5 126.6)"><polygon points="-3.5,-0.2 -0.6,1.7 -0.6,1 -3.5,-0.9" fill="url(#gl2)"/><polygon points="-0.6,1.7 3.5,0.2 3.5,-0.6 -0.6,1" fill="url(#gr2)"/><polygon points="-3.5,-0.9 -0.6,1 3.5,-0.6 0.6,-2.5" fill="#efbca6"/><path d="M-3.5 -0.9L-0.6 1L3.5 -0.6L0.6 -2.5ZM-3.5 -0.9V-0.2L-0.6 1.7L3.5 0.2V-0.6M-0.6 1.7V1" class="e f2"/></g>
<g transform="translate(226.1 104.8)"><polygon points="-3.5,-0.2 -0.6,1.7 -0.6,1 -3.5,-0.9" fill="url(#gl3)"/><polygon points="-0.6,1.7 3.5,0.2 3.5,-0.6 -0.6,1" fill="url(#gr3)"/><polygon points="-3.5,-0.9 -0.6,1 3.5,-0.6 0.6,-2.5" fill="#9cc8e4"/><path d="M-3.5 -0.9L-0.6 1L3.5 -0.6L0.6 -2.5ZM-3.5 -0.9V-0.2L-0.6 1.7L3.5 0.2V-0.6M-0.6 1.7V1" class="e f3"/></g>
<g transform="translate(217.6 108)"><polygon points="-3.5,-0.2 -0.6,1.7 -0.6,1 -3.5,-0.9" fill="url(#gl3)"/><polygon points="-0.6,1.7 3.5,0.2 3.5,-0.6 -0.6,1" fill="url(#gr3)"/><polygon points="-3.5,-0.9 -0.6,1 3.5,-0.6 0.6,-2.5" fill="#9cc8e4"/><path d="M-3.5 -0.9L-0.6 1L3.5 -0.6L0.6 -2.5ZM-3.5 -0.9V-0.2L-0.6 1.7L3.5 0.2V-0.6M-0.6 1.7V1" class="e f3"/></g>
<g transform="translate(209.2 111.2)"><polygon points="-3.5,-0.2 -0.6,1.7 -0.6,1 -3.5,-0.9" fill="url(#gl3)"/><polygon points="-0.6,1.7 3.5,0.2 3.5,-0.6 -0.6,1" fill="url(#gr3)"/><polygon points="-3.5,-0.9 -0.6,1 3.5,-0.6 0.6,-2.5" fill="#9cc8e4"/><path d="M-3.5 -0.9L-0.6 1L3.5 -0.6L0.6 -2.5ZM-3.5 -0.9V-0.2L-0.6 1.7L3.5 0.2V-0.6M-0.6 1.7V1" class="e f3"/></g>
<g transform="translate(200.8 114.4)"><polygon points="-3.5,-0.2 -0.6,1.7 -0.6,-6.8 -3.5,-8.7" fill="url(#gl3)"/><polygon points="-0.6,1.7 3.5,0.2 3.5,-8.3 -0.6,-6.8" fill="url(#gr3)"/><polygon points="-3.5,-8.7 -0.6,-6.8 3.5,-8.3 0.6,-10.2" fill="#006bb2"/><path d="M-3.5 -1.7L-0.6 0.2L3.5 -1.3M-3.5 -3.2L-0.6 -1.3L3.5 -2.9M-3.5 -4.7L-0.6 -2.8L3.5 -4.4M-3.5 -6.2L-0.6 -4.3L3.5 -5.9M-3.5 -7.7L-0.6 -5.8L3.5 -7.4" class="s e3"/><path d="M-3.5 -8.7L-0.6 -6.8L3.5 -8.3L0.6 -10.2ZM-3.5 -8.7V-0.2L-0.6 1.7L3.5 0.2V-8.3M-0.6 1.7V-6.8" class="e e3"/></g>
<g transform="translate(192.3 117.6)"><polygon points="-3.5,-0.2 -0.6,1.7 -0.6,-1.3 -3.5,-3.2" fill="url(#gl3)"/><polygon points="-0.6,1.7 3.5,0.2 3.5,-2.9 -0.6,-1.3" fill="url(#gr3)"/><polygon points="-3.5,-3.2 -0.6,-1.3 3.5,-2.9 0.6,-4.8" fill="#1a7bba"/><path d="M-3.5 -1.7L-0.6 0.2L3.5 -1.3" class="s e3"/><path d="M-3.5 -3.2L-0.6 -1.3L3.5 -2.9L0.6 -4.8ZM-3.5 -3.2V-0.2L-0.6 1.7L3.5 0.2V-2.9M-0.6 1.7V-1.3" class="e e3"/></g>
<g transform="translate(183.8 120.8)"><polygon points="-3.5,-0.2 -0.6,1.7 -0.6,-2.2 -3.5,-4.1" fill="url(#gl3)"/><polygon points="-0.6,1.7 3.5,0.2 3.5,-3.8 -0.6,-2.2" fill="url(#gr3)"/><polygon points="-3.5,-4.1 -0.6,-2.2 3.5,-3.8 0.6,-5.7" fill="#006bb2"/><path d="M-3.5 -1.7L-0.6 0.2L3.5 -1.3M-3.5 -3.2L-0.6 -1.3L3.5 -2.9" class="s e3"/><path d="M-3.5 -4.1L-0.6 -2.2L3.5 -3.8L0.6 -5.7ZM-3.5 -4.1V-0.2L-0.6 1.7L3.5 0.2V-3.8M-0.6 1.7V-2.2" class="e e3"/></g>
<g transform="translate(175.4 124)"><polygon points="-3.5,-0.2 -0.6,1.7 -0.6,-5.1 -3.5,-7" fill="url(#gl3)"/><polygon points="-0.6,1.7 3.5,0.2 3.5,-6.7 -0.6,-5.1" fill="url(#gr3)"/><polygon points="-3.5,-7 -0.6,-5.1 3.5,-6.7 0.6,-8.6" fill="#006bb2"/><path d="M-3.5 -1.7L-0.6 0.2L3.5 -1.3M-3.5 -3.2L-0.6 -1.3L3.5 -2.9M-3.5 -4.7L-0.6 -2.8L3.5 -4.4M-3.5 -6.2L-0.6 -4.3L3.5 -5.9" class="s e3"/><path d="M-3.5 -7L-0.6 -5.1L3.5 -6.7L0.6 -8.6ZM-3.5 -7V-0.2L-0.6 1.7L3.5 0.2V-6.7M-0.6 1.7V-5.1" class="e e3"/></g>
<g transform="translate(166.9 127.3)"><polygon points="-3.5,-0.2 -0.6,1.7 -0.6,-1.3 -3.5,-3.2" fill="url(#gl3)"/><polygon points="-0.6,1.7 3.5,0.2 3.5,-2.8 -0.6,-1.3" fill="url(#gr3)"/><polygon points="-3.5,-3.2 -0.6,-1.3 3.5,-2.8 0.6,-4.7" fill="#1c7cbb"/><path d="M-3.5 -1.7L-0.6 0.2L3.5 -1.3" class="s e3"/><path d="M-3.5 -3.2L-0.6 -1.3L3.5 -2.8L0.6 -4.7ZM-3.5 -3.2V-0.2L-0.6 1.7L3.5 0.2V-2.8M-0.6 1.7V-1.3" class="e e3"/></g>
<g transform="translate(158.5 130.5)"><polygon points="-3.5,-0.2 -0.6,1.7 -0.6,1 -3.5,-0.9" fill="url(#gl3)"/><polygon points="-0.6,1.7 3.5,0.2 3.5,-0.6 -0.6,1" fill="url(#gr3)"/><polygon points="-3.5,-0.9 -0.6,1 3.5,-0.6 0.6,-2.5" fill="#9cc8e4"/><path d="M-3.5 -0.9L-0.6 1L3.5 -0.6L0.6 -2.5ZM-3.5 -0.9V-0.2L-0.6 1.7L3.5 0.2V-0.6M-0.6 1.7V1" class="e f3"/></g>
<g transform="translate(240.6 114.4)"><polygon points="-3.5,-0.2 -0.6,1.7 -0.6,1 -3.5,-0.9" fill="url(#gl0)"/><polygon points="-0.6,1.7 3.5,0.2 3.5,-0.6 -0.6,1" fill="url(#gr0)"/><polygon points="-3.5,-0.9 -0.6,1 3.5,-0.6 0.6,-2.5" fill="#ccaed2"/><path d="M-3.5 -0.9L-0.6 1L3.5 -0.6L0.6 -2.5ZM-3.5 -0.9V-0.2L-0.6 1.7L3.5 0.2V-0.6M-0.6 1.7V1" class="e f0"/></g>
<g transform="translate(232.1 117.6)"><polygon points="-3.5,-0.2 -0.6,1.7 -0.6,1 -3.5,-0.9" fill="url(#gl0)"/><polygon points="-0.6,1.7 3.5,0.2 3.5,-0.6 -0.6,1" fill="url(#gr0)"/><polygon points="-3.5,-0.9 -0.6,1 3.5,-0.6 0.6,-2.5" fill="#ccaed2"/><path d="M-3.5 -0.9L-0.6 1L3.5 -0.6L0.6 -2.5ZM-3.5 -0.9V-0.2L-0.6 1.7L3.5 0.2V-0.6M-0.6 1.7V1" class="e f0"/></g>
<g transform="translate(223.7 120.8)"><polygon points="-3.5,-0.2 -0.6,1.7 -0.6,1 -3.5,-0.9" fill="url(#gl0)"/><polygon points="-0.6,1.7 3.5,0.2 3.5,-0.6 -0.6,1" fill="url(#gr0)"/><polygon points="-3.5,-0.9 -0.6,1 3.5,-0.6 0.6,-2.5" fill="#ccaed2"/><path d="M-3.5 -0.9L-0.6 1L3.5 -0.6L0.6 -2.5ZM-3.5 -0.9V-0.2L-0.6 1.7L3.5 0.2V-0.6M-0.6 1.7V1" class="e f0"/></g>
<g transform="translate(215.2 124)"><polygon points="-3.5,-0.2 -0.6,1.7 -0.6,-4 -3.5,-5.9" fill="url(#gl0)"/><polygon points="-0.6,1.7 3.5,0.2 3.5,-5.6 -0.6,-4" fill="url(#gr0)"/><polygon points="-3.5,-5.9 -0.6,-4 3.5,-5.6 0.6,-7.5" fill="#762c85"/><path d="M-3.5 -1.7L-0.6 0.2L3.5 -1.3M-3.5 -3.2L-0.6 -1.3L3.5 -2.9M-3.5 -4.7L-0.6 -2.8L3.5 -4.4" class="s e0"/><path d="M-3.5 -5.9L-0.6 -4L3.5 -5.6L0.6 -7.5ZM-3.5 -5.9V-0.2L-0.6 1.7L3.5 0.2V-5.6M-0.6 1.7V-4" class="e e0"/></g>
<g transform="translate(206.8 127.2)"><polygon points="-3.5,-0.2 -0.6,1.7 -0.6,-0.4 -3.5,-2.3" fill="url(#gl0)"/><polygon points="-0.6,1.7 3.5,0.2 3.5,-1.9 -0.6,-0.4" fill="url(#gr0)"/><polygon points="-3.5,-2.3 -0.6,-0.4 3.5,-1.9 0.6,-3.8" fill="#a26fad"/><path d="M-3.5 -1.7L-0.6 0.2L3.5 -1.3" class="s e0"/><path d="M-3.5 -2.3L-0.6 -0.4L3.5 -1.9L0.6 -3.8ZM-3.5 -2.3V-0.2L-0.6 1.7L3.5 0.2V-1.9M-0.6 1.7V-0.4" class="e e0"/></g>
<g transform="translate(198.3 130.4)"><polygon points="-3.5,-0.2 -0.6,1.7 -0.6,-1.3 -3.5,-3.2" fill="url(#gl0)"/><polygon points="-0.6,1.7 3.5,0.2 3.5,-2.8 -0.6,-1.3" fill="url(#gr0)"/><polygon points="-3.5,-3.2 -0.6,-1.3 3.5,-2.8 0.6,-4.8" fill="#854393"/><path d="M-3.5 -1.7L-0.6 0.2L3.5 -1.3" class="s e0"/><path d="M-3.5 -3.2L-0.6 -1.3L3.5 -2.8L0.6 -4.8ZM-3.5 -3.2V-0.2L-0.6 1.7L3.5 0.2V-2.8M-0.6 1.7V-1.3" class="e e0"/></g>
<g transform="translate(189.9 133.6)"><polygon points="-3.5,-0.2 -0.6,1.7 -0.6,-4.6 -3.5,-6.5" fill="url(#gl0)"/><polygon points="-0.6,1.7 3.5,0.2 3.5,-6.2 -0.6,-4.6" fill="url(#gr0)"/><polygon points="-3.5,-6.5 -0.6,-4.6 3.5,-6.2 0.6,-8.1" fill="#762c85"/><path d="M-3.5 -1.7L-0.6 0.2L3.5 -1.3M-3.5 -3.2L-0.6 -1.3L3.5 -2.9M-3.5 -4.7L-0.6 -2.8L3.5 -4.4M-3.5 -6.2L-0.6 -4.3L3.5 -5.9" class="s e0"/><path d="M-3.5 -6.5L-0.6 -4.6L3.5 -6.2L0.6 -8.1ZM-3.5 -6.5V-0.2L-0.6 1.7L3.5 0.2V-6.2M-0.6 1.7V-4.6" class="e e0"/></g>
<g transform="translate(181.4 136.8)"><polygon points="-3.5,-0.2 -0.6,1.7 -0.6,-0.6 -3.5,-2.5" fill="url(#gl0)"/><polygon points="-0.6,1.7 3.5,0.2 3.5,-2.2 -0.6,-0.6" fill="url(#gr0)"/><polygon points="-3.5,-2.5 -0.6,-0.6 3.5,-2.2 0.6,-4.1" fill="#9a62a5"/><path d="M-3.5 -1.7L-0.6 0.2L3.5 -1.3" class="s e0"/><path d="M-3.5 -2.5L-0.6 -0.6L3.5 -2.2L0.6 -4.1ZM-3.5 -2.5V-0.2L-0.6 1.7L3.5 0.2V-2.2M-0.6 1.7V-0.6" class="e e0"/></g>
<g transform="translate(173 140.1)"><polygon points="-3.5,-0.2 -0.6,1.7 -0.6,1 -3.5,-0.9" fill="url(#gl0)"/><polygon points="-0.6,1.7 3.5,0.2 3.5,-0.6 -0.6,1" fill="url(#gr0)"/><polygon points="-3.5,-0.9 -0.6,1 3.5,-0.6 0.6,-2.5" fill="#ccaed2"/><path d="M-3.5 -0.9L-0.6 1L3.5 -0.6L0.6 -2.5ZM-3.5 -0.9V-0.2L-0.6 1.7L3.5 0.2V-0.6M-0.6 1.7V1" class="e f0"/></g>
<g transform="translate(255.1 115)"><polygon points="-3.5,-0.2 -0.6,1.7 -0.6,1 -3.5,-0.9" fill="url(#gl1)"/><polygon points="-0.6,1.7 3.5,0.2 3.5,-0.6 -0.6,1" fill="url(#gr1)"/><polygon points="-3.5,-0.9 -0.6,1 3.5,-0.6 0.6,-2.5" fill="#f7e0a8"/><path d="M-3.5 -0.9L-0.6 1L3.5 -0.6L0.6 -2.5ZM-3.5 -0.9V-0.2L-0.6 1.7L3.5 0.2V-0.6M-0.6 1.7V1" class="e f1"/></g>
<g transform="translate(246.6 118.3)"><polygon points="-3.5,-0.2 -0.6,1.7 -0.6,1 -3.5,-0.9" fill="url(#gl1)"/><polygon points="-0.6,1.7 3.5,0.2 3.5,-0.6 -0.6,1" fill="url(#gr1)"/><polygon points="-3.5,-0.9 -0.6,1 3.5,-0.6 0.6,-2.5" fill="#f7e0a8"/><path d="M-3.5 -0.9L-0.6 1L3.5 -0.6L0.6 -2.5ZM-3.5 -0.9V-0.2L-0.6 1.7L3.5 0.2V-0.6M-0.6 1.7V1" class="e f1"/></g>
<g transform="translate(238.1 121.5)"><polygon points="-3.5,-0.2 -0.6,1.7 -0.6,1 -3.5,-0.9" fill="url(#gl1)"/><polygon points="-0.6,1.7 3.5,0.2 3.5,-0.6 -0.6,1" fill="url(#gr1)"/><polygon points="-3.5,-0.9 -0.6,1 3.5,-0.6 0.6,-2.5" fill="#f7e0a8"/><path d="M-3.5 -0.9L-0.6 1L3.5 -0.6L0.6 -2.5ZM-3.5 -0.9V-0.2L-0.6 1.7L3.5 0.2V-0.6M-0.6 1.7V1" class="e f1"/></g>
<g transform="translate(229.7 124.7)"><polygon points="-3.5,-0.2 -0.6,1.7 -0.6,1 -3.5,-0.9" fill="url(#gl1)"/><polygon points="-0.6,1.7 3.5,0.2 3.5,-0.6 -0.6,1" fill="url(#gr1)"/><polygon points="-3.5,-0.9 -0.6,1 3.5,-0.6 0.6,-2.5" fill="#f7e0a8"/><path d="M-3.5 -0.9L-0.6 1L3.5 -0.6L0.6 -2.5ZM-3.5 -0.9V-0.2L-0.6 1.7L3.5 0.2V-0.6M-0.6 1.7V1" class="e f1"/></g>
<g transform="translate(221.2 127.9)"><polygon points="-3.5,-0.2 -0.6,1.7 -0.6,-3.1 -3.5,-5" fill="url(#gl1)"/><polygon points="-0.6,1.7 3.5,0.2 3.5,-4.7 -0.6,-3.1" fill="url(#gr1)"/><polygon points="-3.5,-5 -0.6,-3.1 3.5,-4.7 0.6,-6.6" fill="#dfa61e"/><path d="M-3.5 -1.7L-0.6 0.2L3.5 -1.3M-3.5 -3.2L-0.6 -1.3L3.5 -2.9M-3.5 -4.7L-0.6 -2.8L3.5 -4.4" class="s e1"/><path d="M-3.5 -5L-0.6 -3.1L3.5 -4.7L0.6 -6.6ZM-3.5 -5V-0.2L-0.6 1.7L3.5 0.2V-4.7M-0.6 1.7V-3.1" class="e e1"/></g>
<g transform="translate(212.8 131.1)"><polygon points="-3.5,-0.2 -0.6,1.7 -0.6,-1.4 -3.5,-3.3" fill="url(#gl1)"/><polygon points="-0.6,1.7 3.5,0.2 3.5,-3 -0.6,-1.4" fill="url(#gr1)"/><polygon points="-3.5,-3.3 -0.6,-1.4 3.5,-3 0.6,-4.9" fill="#e2ae30"/><path d="M-3.5 -1.7L-0.6 0.2L3.5 -1.3M-3.5 -3.2L-0.6 -1.3L3.5 -2.9" class="s e1"/><path d="M-3.5 -3.3L-0.6 -1.4L3.5 -3L0.6 -4.9ZM-3.5 -3.3V-0.2L-0.6 1.7L3.5 0.2V-3M-0.6 1.7V-1.4" class="e e1"/></g>
<g transform="translate(204.3 134.3)"><polygon points="-3.5,-0.2 -0.6,1.7 -0.6,-4.1 -3.5,-6" fill="url(#gl1)"/><polygon points="-0.6,1.7 3.5,0.2 3.5,-5.7 -0.6,-4.1" fill="url(#gr1)"/><polygon points="-3.5,-6 -0.6,-4.1 3.5,-5.7 0.6,-7.6" fill="#dfa61e"/><path d="M-3.5 -1.7L-0.6 0.2L3.5 -1.3M-3.5 -3.2L-0.6 -1.3L3.5 -2.9M-3.5 -4.7L-0.6 -2.8L3.5 -4.4" class="s e1"/><path d="M-3.5 -6L-0.6 -4.1L3.5 -5.7L0.6 -7.6ZM-3.5 -6V-0.2L-0.6 1.7L3.5 0.2V-5.7M-0.6 1.7V-4.1" class="e e1"/></g>
<g transform="translate(195.9 137.5)"><polygon points="-3.5,-0.2 -0.6,1.7 -0.6,-4 -3.5,-5.9" fill="url(#gl1)"/><polygon points="-0.6,1.7 3.5,0.2 3.5,-5.6 -0.6,-4" fill="url(#gr1)"/><polygon points="-3.5,-5.9 -0.6,-4 3.5,-5.6 0.6,-7.5" fill="#dfa61e"/><path d="M-3.5 -1.7L-0.6 0.2L3.5 -1.3M-3.5 -3.2L-0.6 -1.3L3.5 -2.9M-3.5 -4.7L-0.6 -2.8L3.5 -4.4" class="s e1"/><path d="M-3.5 -5.9L-0.6 -4L3.5 -5.6L0.6 -7.5ZM-3.5 -5.9V-0.2L-0.6 1.7L3.5 0.2V-5.6M-0.6 1.7V-4" class="e e1"/></g>
<g transform="translate(187.4 140.7)"><polygon points="-3.5,-0.2 -0.6,1.7 -0.6,-0.6 -3.5,-2.5" fill="url(#gl1)"/><polygon points="-0.6,1.7 3.5,0.2 3.5,-2.2 -0.6,-0.6" fill="url(#gr1)"/><polygon points="-3.5,-2.5 -0.6,-0.6 3.5,-2.2 0.6,-4.1" fill="#e9be58"/><path d="M-3.5 -1.7L-0.6 0.2L3.5 -1.3" class="s e1"/><path d="M-3.5 -2.5L-0.6 -0.6L3.5 -2.2L0.6 -4.1ZM-3.5 -2.5V-0.2L-0.6 1.7L3.5 0.2V-2.2M-0.6 1.7V-0.6" class="e e1"/></g>
<g transform="translate(179 143.9)"><polygon points="-3.5,-0.2 -0.6,1.7 -0.6,1 -3.5,-0.9" fill="url(#gl1)"/><polygon points="-0.6,1.7 3.5,0.2 3.5,-0.6 -0.6,1" fill="url(#gr1)"/><polygon points="-3.5,-0.9 -0.6,1 3.5,-0.6 0.6,-2.5" fill="#f7e0a8"/><path d="M-3.5 -0.9L-0.6 1L3.5 -0.6L0.6 -2.5ZM-3.5 -0.9V-0.2L-0.6 1.7L3.5 0.2V-0.6M-0.6 1.7V1" class="e f1"/></g>
<g transform="translate(252.6 122.2)"><polygon points="-3.5,-0.2 -0.6,1.7 -0.6,1 -3.5,-0.9" fill="url(#gl2)"/><polygon points="-0.6,1.7 3.5,0.2 3.5,-0.6 -0.6,1" fill="url(#gr2)"/><polygon points="-3.5,-0.9 -0.6,1 3.5,-0.6 0.6,-2.5" fill="#efbca6"/><path d="M-3.5 -0.9L-0.6 1L3.5 -0.6L0.6 -2.5ZM-3.5 -0.9V-0.2L-0.6 1.7L3.5 0.2V-0.6M-0.6 1.7V1" class="e f2"/></g>
<g transform="translate(244.1 125.4)"><polygon points="-3.5,-0.2 -0.6,1.7 -0.6,1 -3.5,-0.9" fill="url(#gl2)"/><polygon points="-0.6,1.7 3.5,0.2 3.5,-0.6 -0.6,1" fill="url(#gr2)"/><polygon points="-3.5,-0.9 -0.6,1 3.5,-0.6 0.6,-2.5" fill="#efbca6"/><path d="M-3.5 -0.9L-0.6 1L3.5 -0.6L0.6 -2.5ZM-3.5 -0.9V-0.2L-0.6 1.7L3.5 0.2V-0.6M-0.6 1.7V1" class="e f2"/></g>
<g transform="translate(235.7 128.6)"><polygon points="-3.5,-0.2 -0.6,1.7 -0.6,1 -3.5,-0.9" fill="url(#gl2)"/><polygon points="-0.6,1.7 3.5,0.2 3.5,-0.6 -0.6,1" fill="url(#gr2)"/><polygon points="-3.5,-0.9 -0.6,1 3.5,-0.6 0.6,-2.5" fill="#efbca6"/><path d="M-3.5 -0.9L-0.6 1L3.5 -0.6L0.6 -2.5ZM-3.5 -0.9V-0.2L-0.6 1.7L3.5 0.2V-0.6M-0.6 1.7V1" class="e f2"/></g>
<g transform="translate(227.2 131.8)"><polygon points="-3.5,-0.2 -0.6,1.7 -0.6,-3.1 -3.5,-5" fill="url(#gl2)"/><polygon points="-0.6,1.7 3.5,0.2 3.5,-4.7 -0.6,-3.1" fill="url(#gr2)"/><polygon points="-3.5,-5 -0.6,-3.1 3.5,-4.7 0.6,-6.6" fill="#cc4e18"/><path d="M-3.5 -1.7L-0.6 0.2L3.5 -1.3M-3.5 -3.2L-0.6 -1.3L3.5 -2.9M-3.5 -4.7L-0.6 -2.8L3.5 -4.4" class="s e2"/><path d="M-3.5 -5L-0.6 -3.1L3.5 -4.7L0.6 -6.6ZM-3.5 -5V-0.2L-0.6 1.7L3.5 0.2V-4.7M-0.6 1.7V-3.1" class="e e2"/></g>
<g transform="translate(218.8 135)"><polygon points="-3.5,-0.2 -0.6,1.7 -0.6,-1.1 -3.5,-3" fill="url(#gl2)"/><polygon points="-0.6,1.7 3.5,0.2 3.5,-2.7 -0.6,-1.1" fill="url(#gr2)"/><polygon points="-3.5,-3 -0.6,-1.1 3.5,-2.7 0.6,-4.6" fill="#d46839"/><path d="M-3.5 -1.7L-0.6 0.2L3.5 -1.3" class="s e2"/><path d="M-3.5 -3L-0.6 -1.1L3.5 -2.7L0.6 -4.6ZM-3.5 -3V-0.2L-0.6 1.7L3.5 0.2V-2.7M-0.6 1.7V-1.1" class="e e2"/></g>
<g transform="translate(210.3 138.2)"><polygon points="-3.5,-0.2 -0.6,1.7 -0.6,-3.7 -3.5,-5.6" fill="url(#gl2)"/><polygon points="-0.6,1.7 3.5,0.2 3.5,-5.2 -0.6,-3.7" fill="url(#gr2)"/><polygon points="-3.5,-5.6 -0.6,-3.7 3.5,-5.2 0.6,-7.1" fill="#cc4e18"/><path d="M-3.5 -1.7L-0.6 0.2L3.5 -1.3M-3.5 -3.2L-0.6 -1.3L3.5 -2.9M-3.5 -4.7L-0.6 -2.8L3.5 -4.4" class="s e2"/><path d="M-3.5 -5.6L-0.6 -3.7L3.5 -5.2L0.6 -7.1ZM-3.5 -5.6V-0.2L-0.6 1.7L3.5 0.2V-5.2M-0.6 1.7V-3.7" class="e e2"/></g>
<g transform="translate(201.9 141.4)"><polygon points="-3.5,-0.2 -0.6,1.7 -0.6,-4.7 -3.5,-6.7" fill="url(#gl2)"/><polygon points="-0.6,1.7 3.5,0.2 3.5,-6.3 -0.6,-4.7" fill="url(#gr2)"/><polygon points="-3.5,-6.7 -0.6,-4.7 3.5,-6.3 0.6,-8.2" fill="#cc4e18"/><path d="M-3.5 -1.7L-0.6 0.2L3.5 -1.3M-3.5 -3.2L-0.6 -1.3L3.5 -2.9M-3.5 -4.7L-0.6 -2.8L3.5 -4.4M-3.5 -6.2L-0.6 -4.3L3.5 -5.9" class="s e2"/><path d="M-3.5 -6.7L-0.6 -4.7L3.5 -6.3L0.6 -8.2ZM-3.5 -6.7V-0.2L-0.6 1.7L3.5 0.2V-6.3M-0.6 1.7V-4.7" class="e e2"/></g>
<g transform="translate(193.4 144.6)"><polygon points="-3.5,-0.2 -0.6,1.7 -0.6,-1.4 -3.5,-3.3" fill="url(#gl2)"/><polygon points="-0.6,1.7 3.5,0.2 3.5,-2.9 -0.6,-1.4" fill="url(#gr2)"/><polygon points="-3.5,-3.3 -0.6,-1.4 3.5,-2.9 0.6,-4.8" fill="#d15e2c"/><path d="M-3.5 -1.7L-0.6 0.2L3.5 -1.3M-3.5 -3.2L-0.6 -1.3L3.5 -2.9" class="s e2"/><path d="M-3.5 -3.3L-0.6 -1.4L3.5 -2.9L0.6 -4.8ZM-3.5 -3.3V-0.2L-0.6 1.7L3.5 0.2V-2.9M-0.6 1.7V-1.4" class="e e2"/></g>
<g transform="translate(185 147.8)"><polygon points="-3.5,-0.2 -0.6,1.7 -0.6,1 -3.5,-0.9" fill="url(#gl2)"/><polygon points="-0.6,1.7 3.5,0.2 3.5,-0.6 -0.6,1" fill="url(#gr2)"/><polygon points="-3.5,-0.9 -0.6,1 3.5,-0.6 0.6,-2.5" fill="#efbca6"/><path d="M-3.5 -0.9L-0.6 1L3.5 -0.6L0.6 -2.5ZM-3.5 -0.9V-0.2L-0.6 1.7L3.5 0.2V-0.6M-0.6 1.7V1" class="e f2"/></g>
<g transform="translate(258.6 126)"><polygon points="-3.5,-0.2 -0.6,1.7 -0.6,1 -3.5,-0.9" fill="url(#gl3)"/><polygon points="-0.6,1.7 3.5,0.2 3.5,-0.6 -0.6,1" fill="url(#gr3)"/><polygon points="-3.5,-0.9 -0.6,1 3.5,-0.6 0.6,-2.5" fill="#9cc8e4"/><path d="M-3.5 -0.9L-0.6 1L3.5 -0.6L0.6 -2.5ZM-3.5 -0.9V-0.2L-0.6 1.7L3.5 0.2V-0.6M-0.6 1.7V1" class="e f3"/></g>
<g transform="translate(250.1 129.2)"><polygon points="-3.5,-0.2 -0.6,1.7 -0.6,1 -3.5,-0.9" fill="url(#gl3)"/><polygon points="-0.6,1.7 3.5,0.2 3.5,-0.6 -0.6,1" fill="url(#gr3)"/><polygon points="-3.5,-0.9 -0.6,1 3.5,-0.6 0.6,-2.5" fill="#9cc8e4"/><path d="M-3.5 -0.9L-0.6 1L3.5 -0.6L0.6 -2.5ZM-3.5 -0.9V-0.2L-0.6 1.7L3.5 0.2V-0.6M-0.6 1.7V1" class="e f3"/></g>
<g transform="translate(241.7 132.5)"><polygon points="-3.5,-0.2 -0.6,1.7 -0.6,1 -3.5,-0.9" fill="url(#gl3)"/><polygon points="-0.6,1.7 3.5,0.2 3.5,-0.6 -0.6,1" fill="url(#gr3)"/><polygon points="-3.5,-0.9 -0.6,1 3.5,-0.6 0.6,-2.5" fill="#9cc8e4"/><path d="M-3.5 -0.9L-0.6 1L3.5 -0.6L0.6 -2.5ZM-3.5 -0.9V-0.2L-0.6 1.7L3.5 0.2V-0.6M-0.6 1.7V1" class="e f3"/></g>
<g transform="translate(233.2 135.7)"><polygon points="-3.5,-0.2 -0.6,1.7 -0.6,-4 -3.5,-5.9" fill="url(#gl3)"/><polygon points="-0.6,1.7 3.5,0.2 3.5,-5.6 -0.6,-4" fill="url(#gr3)"/><polygon points="-3.5,-5.9 -0.6,-4 3.5,-5.6 0.6,-7.5" fill="#006bb2"/><path d="M-3.5 -1.7L-0.6 0.2L3.5 -1.3M-3.5 -3.2L-0.6 -1.3L3.5 -2.9M-3.5 -4.7L-0.6 -2.8L3.5 -4.4" class="s e3"/><path d="M-3.5 -5.9L-0.6 -4L3.5 -5.6L0.6 -7.5ZM-3.5 -5.9V-0.2L-0.6 1.7L3.5 0.2V-5.6M-0.6 1.7V-4" class="e e3"/></g>
<g transform="translate(224.8 138.9)"><polygon points="-3.5,-0.2 -0.6,1.7 -0.6,-1.1 -3.5,-3" fill="url(#gl3)"/><polygon points="-0.6,1.7 3.5,0.2 3.5,-2.7 -0.6,-1.1" fill="url(#gr3)"/><polygon points="-3.5,-3 -0.6,-1.1 3.5,-2.7 0.6,-4.6" fill="#2581be"/><path d="M-3.5 -1.7L-0.6 0.2L3.5 -1.3" class="s e3"/><path d="M-3.5 -3L-0.6 -1.1L3.5 -2.7L0.6 -4.6ZM-3.5 -3V-0.2L-0.6 1.7L3.5 0.2V-2.7M-0.6 1.7V-1.1" class="e e3"/></g>
<g transform="translate(216.3 142.1)"><polygon points="-3.5,-0.2 -0.6,1.7 -0.6,-1.7 -3.5,-3.6" fill="url(#gl3)"/><polygon points="-0.6,1.7 3.5,0.2 3.5,-3.3 -0.6,-1.7" fill="url(#gr3)"/><polygon points="-3.5,-3.6 -0.6,-1.7 3.5,-3.3 0.6,-5.2" fill="#016cb2"/><path d="M-3.5 -1.7L-0.6 0.2L3.5 -1.3M-3.5 -3.2L-0.6 -1.3L3.5 -2.9" class="s e3"/><path d="M-3.5 -3.6L-0.6 -1.7L3.5 -3.3L0.6 -5.2ZM-3.5 -3.6V-0.2L-0.6 1.7L3.5 0.2V-3.3M-0.6 1.7V-1.7" class="e e3"/></g>
<g transform="translate(207.9 145.3)"><polygon points="-3.5,-0.2 -0.6,1.7 -0.6,-4.2 -3.5,-6.1" fill="url(#gl3)"/><polygon points="-0.6,1.7 3.5,0.2 3.5,-5.7 -0.6,-4.2" fill="url(#gr3)"/><polygon points="-3.5,-6.1 -0.6,-4.2 3.5,-5.7 0.6,-7.6" fill="#006bb2"/><path d="M-3.5 -1.7L-0.6 0.2L3.5 -1.3M-3.5 -3.2L-0.6 -1.3L3.5 -2.9M-3.5 -4.7L-0.6 -2.8L3.5 -4.4" class="s e3"/><path d="M-3.5 -6.1L-0.6 -4.2L3.5 -5.7L0.6 -7.6ZM-3.5 -6.1V-0.2L-0.6 1.7L3.5 0.2V-5.7M-0.6 1.7V-4.2" class="e e3"/></g>
<g transform="translate(199.4 148.5)"><polygon points="-3.5,-0.2 -0.6,1.7 -0.6,-0.9 -3.5,-2.8" fill="url(#gl3)"/><polygon points="-0.6,1.7 3.5,0.2 3.5,-2.5 -0.6,-0.9" fill="url(#gr3)"/><polygon points="-3.5,-2.8 -0.6,-0.9 3.5,-2.5 0.6,-4.4" fill="#3087c1"/><path d="M-3.5 -1.7L-0.6 0.2L3.5 -1.3" class="s e3"/><path d="M-3.5 -2.8L-0.6 -0.9L3.5 -2.5L0.6 -4.4ZM-3.5 -2.8V-0.2L-0.6 1.7L3.5 0.2V-2.5M-0.6 1.7V-0.9" class="e e3"/></g>
<g transform="translate(191 151.7)"><polygon points="-3.5,-0.2 -0.6,1.7 -0.6,1 -3.5,-0.9" fill="url(#gl3)"/><polygon points="-0.6,1.7 3.5,0.2 3.5,-0.6 -0.6,1" fill="url(#gr3)"/><polygon points="-3.5,-0.9 -0.6,1 3.5,-0.6 0.6,-2.5" fill="#9cc8e4"/><path d="M-3.5 -0.9L-0.6 1L3.5 -0.6L0.6 -2.5ZM-3.5 -0.9V-0.2L-0.6 1.7L3.5 0.2V-0.6M-0.6 1.7V1" class="e f3"/></g>
<g transform="translate(273.1 135.6)"><polygon points="-3.5,-0.2 -0.6,1.7 -0.6,1 -3.5,-0.9" fill="url(#gl0)"/><polygon points="-0.6,1.7 3.5,0.2 3.5,-0.6 -0.6,1" fill="url(#gr0)"/><polygon points="-3.5,-0.9 -0.6,1 3.5,-0.6 0.6,-2.5" fill="#ccaed2"/><path d="M-3.5 -0.9L-0.6 1L3.5 -0.6L0.6 -2.5ZM-3.5 -0.9V-0.2L-0.6 1.7L3.5 0.2V-0.6M-0.6 1.7V1" class="e f0"/></g>
<g transform="translate(264.6 138.8)"><polygon points="-3.5,-0.2 -0.6,1.7 -0.6,1 -3.5,-0.9" fill="url(#gl0)"/><polygon points="-0.6,1.7 3.5,0.2 3.5,-0.6 -0.6,1" fill="url(#gr0)"/><polygon points="-3.5,-0.9 -0.6,1 3.5,-0.6 0.6,-2.5" fill="#ccaed2"/><path d="M-3.5 -0.9L-0.6 1L3.5 -0.6L0.6 -2.5ZM-3.5 -0.9V-0.2L-0.6 1.7L3.5 0.2V-0.6M-0.6 1.7V1" class="e f0"/></g>
<g transform="translate(256.2 142)"><polygon points="-3.5,-0.2 -0.6,1.7 -0.6,1 -3.5,-0.9" fill="url(#gl0)"/><polygon points="-0.6,1.7 3.5,0.2 3.5,-0.6 -0.6,1" fill="url(#gr0)"/><polygon points="-3.5,-0.9 -0.6,1 3.5,-0.6 0.6,-2.5" fill="#ccaed2"/><path d="M-3.5 -0.9L-0.6 1L3.5 -0.6L0.6 -2.5ZM-3.5 -0.9V-0.2L-0.6 1.7L3.5 0.2V-0.6M-0.6 1.7V1" class="e f0"/></g>
<g transform="translate(247.8 145.2)"><polygon points="-3.5,-0.2 -0.6,1.7 -0.6,-8.3 -3.5,-10.2" fill="url(#gl0)"/><polygon points="-0.6,1.7 3.5,0.2 3.5,-9.9 -0.6,-8.3" fill="url(#gr0)"/><polygon points="-3.5,-10.2 -0.6,-8.3 3.5,-9.9 0.6,-11.8" fill="#762c85"/><path d="M-3.5 -1.7L-0.6 0.2L3.5 -1.3M-3.5 -3.2L-0.6 -1.3L3.5 -2.9M-3.5 -4.7L-0.6 -2.8L3.5 -4.4M-3.5 -6.2L-0.6 -4.3L3.5 -5.9M-3.5 -7.7L-0.6 -5.8L3.5 -7.4M-3.5 -9.3L-0.6 -7.4L3.5 -8.9" class="s e0"/><path d="M-3.5 -10.2L-0.6 -8.3L3.5 -9.9L0.6 -11.8ZM-3.5 -10.2V-0.2L-0.6 1.7L3.5 0.2V-9.9M-0.6 1.7V-8.3" class="e e0"/></g>
<g transform="translate(239.3 148.5)"><polygon points="-3.5,-0.2 -0.6,1.7 -0.6,-0.6 -3.5,-2.5" fill="url(#gl0)"/><polygon points="-0.6,1.7 3.5,0.2 3.5,-2.2 -0.6,-0.6" fill="url(#gr0)"/><polygon points="-3.5,-2.5 -0.6,-0.6 3.5,-2.2 0.6,-4.1" fill="#9a62a5"/><path d="M-3.5 -1.7L-0.6 0.2L3.5 -1.3" class="s e0"/><path d="M-3.5 -2.5L-0.6 -0.6L3.5 -2.2L0.6 -4.1ZM-3.5 -2.5V-0.2L-0.6 1.7L3.5 0.2V-2.2M-0.6 1.7V-0.6" class="e e0"/></g>
<g transform="translate(230.8 151.7)"><polygon points="-3.5,-0.2 -0.6,1.7 -0.6,-2 -3.5,-3.9" fill="url(#gl0)"/><polygon points="-0.6,1.7 3.5,0.2 3.5,-3.5 -0.6,-2" fill="url(#gr0)"/><polygon points="-3.5,-3.9 -0.6,-2 3.5,-3.5 0.6,-5.5" fill="#762c85"/><path d="M-3.5 -1.7L-0.6 0.2L3.5 -1.3M-3.5 -3.2L-0.6 -1.3L3.5 -2.9" class="s e0"/><path d="M-3.5 -3.9L-0.6 -2L3.5 -3.5L0.6 -5.5ZM-3.5 -3.9V-0.2L-0.6 1.7L3.5 0.2V-3.5M-0.6 1.7V-2" class="e e0"/></g>
<g transform="translate(222.4 154.9)"><polygon points="-3.5,-0.2 -0.6,1.7 -0.6,-5.3 -3.5,-7.2" fill="url(#gl0)"/><polygon points="-0.6,1.7 3.5,0.2 3.5,-6.9 -0.6,-5.3" fill="url(#gr0)"/><polygon points="-3.5,-7.2 -0.6,-5.3 3.5,-6.9 0.6,-8.8" fill="#762c85"/><path d="M-3.5 -1.7L-0.6 0.2L3.5 -1.3M-3.5 -3.2L-0.6 -1.3L3.5 -2.9M-3.5 -4.7L-0.6 -2.8L3.5 -4.4M-3.5 -6.2L-0.6 -4.3L3.5 -5.9" class="s e0"/><path d="M-3.5 -7.2L-0.6 -5.3L3.5 -6.9L0.6 -8.8ZM-3.5 -7.2V-0.2L-0.6 1.7L3.5 0.2V-6.9M-0.6 1.7V-5.3" class="e e0"/></g>
<g transform="translate(213.9 158.1)"><polygon points="-3.5,-0.2 -0.6,1.7 -0.6,-1.5 -3.5,-3.4" fill="url(#gl0)"/><polygon points="-0.6,1.7 3.5,0.2 3.5,-3 -0.6,-1.5" fill="url(#gr0)"/><polygon points="-3.5,-3.4 -0.6,-1.5 3.5,-3 0.6,-4.9" fill="#7f3a8e"/><path d="M-3.5 -1.7L-0.6 0.2L3.5 -1.3M-3.5 -3.2L-0.6 -1.3L3.5 -2.9" class="s e0"/><path d="M-3.5 -3.4L-0.6 -1.5L3.5 -3L0.6 -4.9ZM-3.5 -3.4V-0.2L-0.6 1.7L3.5 0.2V-3M-0.6 1.7V-1.5" class="e e0"/></g>
<g transform="translate(205.5 161.3)"><polygon points="-3.5,-0.2 -0.6,1.7 -0.6,1 -3.5,-0.9" fill="url(#gl0)"/><polygon points="-0.6,1.7 3.5,0.2 3.5,-0.6 -0.6,1" fill="url(#gr0)"/><polygon points="-3.5,-0.9 -0.6,1 3.5,-0.6 0.6,-2.5" fill="#ccaed2"/><path d="M-3.5 -0.9L-0.6 1L3.5 -0.6L0.6 -2.5ZM-3.5 -0.9V-0.2L-0.6 1.7L3.5 0.2V-0.6M-0.6 1.7V1" class="e f0"/></g>
<g transform="translate(287.6 136.3)"><polygon points="-3.5,-0.2 -0.6,1.7 -0.6,1 -3.5,-0.9" fill="url(#gl1)"/><polygon points="-0.6,1.7 3.5,0.2 3.5,-0.6 -0.6,1" fill="url(#gr1)"/><polygon points="-3.5,-0.9 -0.6,1 3.5,-0.6 0.6,-2.5" fill="#f7e0a8"/><path d="M-3.5 -0.9L-0.6 1L3.5 -0.6L0.6 -2.5ZM-3.5 -0.9V-0.2L-0.6 1.7L3.5 0.2V-0.6M-0.6 1.7V1" class="e f1"/></g>
<g transform="translate(279.1 139.5)"><polygon points="-3.5,-0.2 -0.6,1.7 -0.6,1 -3.5,-0.9" fill="url(#gl1)"/><polygon points="-0.6,1.7 3.5,0.2 3.5,-0.6 -0.6,1" fill="url(#gr1)"/><polygon points="-3.5,-0.9 -0.6,1 3.5,-0.6 0.6,-2.5" fill="#f7e0a8"/><path d="M-3.5 -0.9L-0.6 1L3.5 -0.6L0.6 -2.5ZM-3.5 -0.9V-0.2L-0.6 1.7L3.5 0.2V-0.6M-0.6 1.7V1" class="e f1"/></g>
<g transform="translate(270.6 142.7)"><polygon points="-3.5,-0.2 -0.6,1.7 -0.6,1 -3.5,-0.9" fill="url(#gl1)"/><polygon points="-0.6,1.7 3.5,0.2 3.5,-0.6 -0.6,1" fill="url(#gr1)"/><polygon points="-3.5,-0.9 -0.6,1 3.5,-0.6 0.6,-2.5" fill="#f7e0a8"/><path d="M-3.5 -0.9L-0.6 1L3.5 -0.6L0.6 -2.5ZM-3.5 -0.9V-0.2L-0.6 1.7L3.5 0.2V-0.6M-0.6 1.7V1" class="e f1"/></g>
<g transform="translate(262.2 145.9)"><polygon points="-3.5,-0.2 -0.6,1.7 -0.6,1 -3.5,-0.9" fill="url(#gl1)"/><polygon points="-0.6,1.7 3.5,0.2 3.5,-0.6 -0.6,1" fill="url(#gr1)"/><polygon points="-3.5,-0.9 -0.6,1 3.5,-0.6 0.6,-2.5" fill="#f7e0a8"/><path d="M-3.5 -0.9L-0.6 1L3.5 -0.6L0.6 -2.5ZM-3.5 -0.9V-0.2L-0.6 1.7L3.5 0.2V-0.6M-0.6 1.7V1" class="e f1"/></g>
<g transform="translate(253.8 149.1)"><polygon points="-3.5,-0.2 -0.6,1.7 -0.6,-5.6 -3.5,-7.5" fill="url(#gl1)"/><polygon points="-0.6,1.7 3.5,0.2 3.5,-7.2 -0.6,-5.6" fill="url(#gr1)"/><polygon points="-3.5,-7.5 -0.6,-5.6 3.5,-7.2 0.6,-9.1" fill="#dfa61e"/><path d="M-3.5 -1.7L-0.6 0.2L3.5 -1.3M-3.5 -3.2L-0.6 -1.3L3.5 -2.9M-3.5 -4.7L-0.6 -2.8L3.5 -4.4M-3.5 -6.2L-0.6 -4.3L3.5 -5.9" class="s e1"/><path d="M-3.5 -7.5L-0.6 -5.6L3.5 -7.2L0.6 -9.1ZM-3.5 -7.5V-0.2L-0.6 1.7L3.5 0.2V-7.2M-0.6 1.7V-5.6" class="e e1"/></g>
<g transform="translate(245.3 152.3)"><polygon points="-3.5,-0.2 -0.6,1.7 -0.6,-1.8 -3.5,-3.7" fill="url(#gl1)"/><polygon points="-0.6,1.7 3.5,0.2 3.5,-3.4 -0.6,-1.8" fill="url(#gr1)"/><polygon points="-3.5,-3.7 -0.6,-1.8 3.5,-3.4 0.6,-5.3" fill="#dfa61e"/><path d="M-3.5 -1.7L-0.6 0.2L3.5 -1.3M-3.5 -3.2L-0.6 -1.3L3.5 -2.9" class="s e1"/><path d="M-3.5 -3.7L-0.6 -1.8L3.5 -3.4L0.6 -5.3ZM-3.5 -3.7V-0.2L-0.6 1.7L3.5 0.2V-3.4M-0.6 1.7V-1.8" class="e e1"/></g>
<g transform="translate(236.8 155.6)"><polygon points="-3.5,-0.2 -0.6,1.7 -0.6,-5.4 -3.5,-7.3" fill="url(#gl1)"/><polygon points="-0.6,1.7 3.5,0.2 3.5,-7 -0.6,-5.4" fill="url(#gr1)"/><polygon points="-3.5,-7.3 -0.6,-5.4 3.5,-7 0.6,-8.9" fill="#dfa61e"/><path d="M-3.5 -1.7L-0.6 0.2L3.5 -1.3M-3.5 -3.2L-0.6 -1.3L3.5 -2.9M-3.5 -4.7L-0.6 -2.8L3.5 -4.4M-3.5 -6.2L-0.6 -4.3L3.5 -5.9" class="s e1"/><path d="M-3.5 -7.3L-0.6 -5.4L3.5 -7L0.6 -8.9ZM-3.5 -7.3V-0.2L-0.6 1.7L3.5 0.2V-7M-0.6 1.7V-5.4" class="e e1"/></g>
<g transform="translate(228.4 158.8)"><polygon points="-3.5,-0.2 -0.6,1.7 -0.6,-5.4 -3.5,-7.3" fill="url(#gl1)"/><polygon points="-0.6,1.7 3.5,0.2 3.5,-7 -0.6,-5.4" fill="url(#gr1)"/><polygon points="-3.5,-7.3 -0.6,-5.4 3.5,-7 0.6,-8.9" fill="#dfa61e"/><path d="M-3.5 -1.7L-0.6 0.2L3.5 -1.3M-3.5 -3.2L-0.6 -1.3L3.5 -2.9M-3.5 -4.7L-0.6 -2.8L3.5 -4.4M-3.5 -6.2L-0.6 -4.3L3.5 -5.9" class="s e1"/><path d="M-3.5 -7.3L-0.6 -5.4L3.5 -7L0.6 -8.9ZM-3.5 -7.3V-0.2L-0.6 1.7L3.5 0.2V-7M-0.6 1.7V-5.4" class="e e1"/></g>
<g transform="translate(219.9 162)"><polygon points="-3.5,-0.2 -0.6,1.7 -0.6,-1 -3.5,-2.9" fill="url(#gl1)"/><polygon points="-0.6,1.7 3.5,0.2 3.5,-2.6 -0.6,-1" fill="url(#gr1)"/><polygon points="-3.5,-2.9 -0.6,-1 3.5,-2.6 0.6,-4.5" fill="#e5b643"/><path d="M-3.5 -1.7L-0.6 0.2L3.5 -1.3" class="s e1"/><path d="M-3.5 -2.9L-0.6 -1L3.5 -2.6L0.6 -4.5ZM-3.5 -2.9V-0.2L-0.6 1.7L3.5 0.2V-2.6M-0.6 1.7V-1" class="e e1"/></g>
<g transform="translate(211.5 165.2)"><polygon points="-3.5,-0.2 -0.6,1.7 -0.6,1 -3.5,-0.9" fill="url(#gl1)"/><polygon points="-0.6,1.7 3.5,0.2 3.5,-0.6 -0.6,1" fill="url(#gr1)"/><polygon points="-3.5,-0.9 -0.6,1 3.5,-0.6 0.6,-2.5" fill="#f7e0a8"/><path d="M-3.5 -0.9L-0.6 1L3.5 -0.6L0.6 -2.5ZM-3.5 -0.9V-0.2L-0.6 1.7L3.5 0.2V-0.6M-0.6 1.7V1" class="e f1"/></g>
<g transform="translate(285.1 143.4)"><polygon points="-3.5,-0.2 -0.6,1.7 -0.6,1 -3.5,-0.9" fill="url(#gl2)"/><polygon points="-0.6,1.7 3.5,0.2 3.5,-0.6 -0.6,1" fill="url(#gr2)"/><polygon points="-3.5,-0.9 -0.6,1 3.5,-0.6 0.6,-2.5" fill="#efbca6"/><path d="M-3.5 -0.9L-0.6 1L3.5 -0.6L0.6 -2.5ZM-3.5 -0.9V-0.2L-0.6 1.7L3.5 0.2V-0.6M-0.6 1.7V1" class="e f2"/></g>
<g transform="translate(276.6 146.6)"><polygon points="-3.5,-0.2 -0.6,1.7 -0.6,1 -3.5,-0.9" fill="url(#gl2)"/><polygon points="-0.6,1.7 3.5,0.2 3.5,-0.6 -0.6,1" fill="url(#gr2)"/><polygon points="-3.5,-0.9 -0.6,1 3.5,-0.6 0.6,-2.5" fill="#efbca6"/><path d="M-3.5 -0.9L-0.6 1L3.5 -0.6L0.6 -2.5ZM-3.5 -0.9V-0.2L-0.6 1.7L3.5 0.2V-0.6M-0.6 1.7V1" class="e f2"/></g>
<g transform="translate(268.2 149.8)"><polygon points="-3.5,-0.2 -0.6,1.7 -0.6,1 -3.5,-0.9" fill="url(#gl2)"/><polygon points="-0.6,1.7 3.5,0.2 3.5,-0.6 -0.6,1" fill="url(#gr2)"/><polygon points="-3.5,-0.9 -0.6,1 3.5,-0.6 0.6,-2.5" fill="#efbca6"/><path d="M-3.5 -0.9L-0.6 1L3.5 -0.6L0.6 -2.5ZM-3.5 -0.9V-0.2L-0.6 1.7L3.5 0.2V-0.6M-0.6 1.7V1" class="e f2"/></g>
<g transform="translate(259.8 153)"><polygon points="-3.5,-0.2 -0.6,1.7 -0.6,-7.3 -3.5,-9.2" fill="url(#gl2)"/><polygon points="-0.6,1.7 3.5,0.2 3.5,-8.8 -0.6,-7.3" fill="url(#gr2)"/><polygon points="-3.5,-9.2 -0.6,-7.3 3.5,-8.8 0.6,-10.8" fill="#cc4e18"/><path d="M-3.5 -1.7L-0.6 0.2L3.5 -1.3M-3.5 -3.2L-0.6 -1.3L3.5 -2.9M-3.5 -4.7L-0.6 -2.8L3.5 -4.4M-3.5 -6.2L-0.6 -4.3L3.5 -5.9M-3.5 -7.7L-0.6 -5.8L3.5 -7.4" class="s e2"/><path d="M-3.5 -9.2L-0.6 -7.3L3.5 -8.8L0.6 -10.8ZM-3.5 -9.2V-0.2L-0.6 1.7L3.5 0.2V-8.8M-0.6 1.7V-7.3" class="e e2"/></g>
<g transform="translate(251.3 156.2)"><polygon points="-3.5,-0.2 -0.6,1.7 -0.6,-1.8 -3.5,-3.7" fill="url(#gl2)"/><polygon points="-0.6,1.7 3.5,0.2 3.5,-3.4 -0.6,-1.8" fill="url(#gr2)"/><polygon points="-3.5,-3.7 -0.6,-1.8 3.5,-3.4 0.6,-5.3" fill="#cc4e18"/><path d="M-3.5 -1.7L-0.6 0.2L3.5 -1.3M-3.5 -3.2L-0.6 -1.3L3.5 -2.9" class="s e2"/><path d="M-3.5 -3.7L-0.6 -1.8L3.5 -3.4L0.6 -5.3ZM-3.5 -3.7V-0.2L-0.6 1.7L3.5 0.2V-3.4M-0.6 1.7V-1.8" class="e e2"/></g>
<g transform="translate(242.8 159.5)"><polygon points="-3.5,-0.2 -0.6,1.7 -0.6,-4.5 -3.5,-6.4" fill="url(#gl2)"/><polygon points="-0.6,1.7 3.5,0.2 3.5,-6.1 -0.6,-4.5" fill="url(#gr2)"/><polygon points="-3.5,-6.4 -0.6,-4.5 3.5,-6.1 0.6,-8" fill="#cc4e18"/><path d="M-3.5 -1.7L-0.6 0.2L3.5 -1.3M-3.5 -3.2L-0.6 -1.3L3.5 -2.9M-3.5 -4.7L-0.6 -2.8L3.5 -4.4M-3.5 -6.2L-0.6 -4.3L3.5 -5.9" class="s e2"/><path d="M-3.5 -6.4L-0.6 -4.5L3.5 -6.1L0.6 -8ZM-3.5 -6.4V-0.2L-0.6 1.7L3.5 0.2V-6.1M-0.6 1.7V-4.5" class="e e2"/></g>
<g transform="translate(234.4 162.7)"><polygon points="-3.5,-0.2 -0.6,1.7 -0.6,-6.5 -3.5,-8.4" fill="url(#gl2)"/><polygon points="-0.6,1.7 3.5,0.2 3.5,-8.1 -0.6,-6.5" fill="url(#gr2)"/><polygon points="-3.5,-8.4 -0.6,-6.5 3.5,-8.1 0.6,-10" fill="#cc4e18"/><path d="M-3.5 -1.7L-0.6 0.2L3.5 -1.3M-3.5 -3.2L-0.6 -1.3L3.5 -2.9M-3.5 -4.7L-0.6 -2.8L3.5 -4.4M-3.5 -6.2L-0.6 -4.3L3.5 -5.9M-3.5 -7.7L-0.6 -5.8L3.5 -7.4" class="s e2"/><path d="M-3.5 -8.4L-0.6 -6.5L3.5 -8.1L0.6 -10ZM-3.5 -8.4V-0.2L-0.6 1.7L3.5 0.2V-8.1M-0.6 1.7V-6.5" class="e e2"/></g>
<g transform="translate(225.9 165.9)"><polygon points="-3.5,-0.2 -0.6,1.7 -0.6,-2.4 -3.5,-4.3" fill="url(#gl2)"/><polygon points="-0.6,1.7 3.5,0.2 3.5,-3.9 -0.6,-2.4" fill="url(#gr2)"/><polygon points="-3.5,-4.3 -0.6,-2.4 3.5,-3.9 0.6,-5.8" fill="#cc4e18"/><path d="M-3.5 -1.7L-0.6 0.2L3.5 -1.3M-3.5 -3.2L-0.6 -1.3L3.5 -2.9" class="s e2"/><path d="M-3.5 -4.3L-0.6 -2.4L3.5 -3.9L0.6 -5.8ZM-3.5 -4.3V-0.2L-0.6 1.7L3.5 0.2V-3.9M-0.6 1.7V-2.4" class="e e2"/></g>
<g transform="translate(217.5 169.1)"><polygon points="-3.5,-0.2 -0.6,1.7 -0.6,1 -3.5,-0.9" fill="url(#gl2)"/><polygon points="-0.6,1.7 3.5,0.2 3.5,-0.6 -0.6,1" fill="url(#gr2)"/><polygon points="-3.5,-0.9 -0.6,1 3.5,-0.6 0.6,-2.5" fill="#efbca6"/><path d="M-3.5 -0.9L-0.6 1L3.5 -0.6L0.6 -2.5ZM-3.5 -0.9V-0.2L-0.6 1.7L3.5 0.2V-0.6M-0.6 1.7V1" class="e f2"/></g>
<g transform="translate(291.1 147.3)"><polygon points="-3.5,-0.2 -0.6,1.7 -0.6,1 -3.5,-0.9" fill="url(#gl3)"/><polygon points="-0.6,1.7 3.5,0.2 3.5,-0.6 -0.6,1" fill="url(#gr3)"/><polygon points="-3.5,-0.9 -0.6,1 3.5,-0.6 0.6,-2.5" fill="#9cc8e4"/><path d="M-3.5 -0.9L-0.6 1L3.5 -0.6L0.6 -2.5ZM-3.5 -0.9V-0.2L-0.6 1.7L3.5 0.2V-0.6M-0.6 1.7V1" class="e f3"/></g>
<g transform="translate(282.6 150.5)"><polygon points="-3.5,-0.2 -0.6,1.7 -0.6,1 -3.5,-0.9" fill="url(#gl3)"/><polygon points="-0.6,1.7 3.5,0.2 3.5,-0.6 -0.6,1" fill="url(#gr3)"/><polygon points="-3.5,-0.9 -0.6,1 3.5,-0.6 0.6,-2.5" fill="#9cc8e4"/><path d="M-3.5 -0.9L-0.6 1L3.5 -0.6L0.6 -2.5ZM-3.5 -0.9V-0.2L-0.6 1.7L3.5 0.2V-0.6M-0.6 1.7V1" class="e f3"/></g>
<g transform="translate(274.2 153.7)"><polygon points="-3.5,-0.2 -0.6,1.7 -0.6,1 -3.5,-0.9" fill="url(#gl3)"/><polygon points="-0.6,1.7 3.5,0.2 3.5,-0.6 -0.6,1" fill="url(#gr3)"/><polygon points="-3.5,-0.9 -0.6,1 3.5,-0.6 0.6,-2.5" fill="#9cc8e4"/><path d="M-3.5 -0.9L-0.6 1L3.5 -0.6L0.6 -2.5ZM-3.5 -0.9V-0.2L-0.6 1.7L3.5 0.2V-0.6M-0.6 1.7V1" class="e f3"/></g>
<g transform="translate(265.8 156.9)"><polygon points="-3.5,-0.2 -0.6,1.7 -0.6,-6.4 -3.5,-8.3" fill="url(#gl3)"/><polygon points="-0.6,1.7 3.5,0.2 3.5,-8 -0.6,-6.4" fill="url(#gr3)"/><polygon points="-3.5,-8.3 -0.6,-6.4 3.5,-8 0.6,-9.9" fill="#006bb2"/><path d="M-3.5 -1.7L-0.6 0.2L3.5 -1.3M-3.5 -3.2L-0.6 -1.3L3.5 -2.9M-3.5 -4.7L-0.6 -2.8L3.5 -4.4M-3.5 -6.2L-0.6 -4.3L3.5 -5.9M-3.5 -7.7L-0.6 -5.8L3.5 -7.4" class="s e3"/><path d="M-3.5 -8.3L-0.6 -6.4L3.5 -8L0.6 -9.9ZM-3.5 -8.3V-0.2L-0.6 1.7L3.5 0.2V-8M-0.6 1.7V-6.4" class="e e3"/></g>
<g transform="translate(257.3 160.1)"><polygon points="-3.5,-0.2 -0.6,1.7 -0.6,-1.8 -3.5,-3.7" fill="url(#gl3)"/><polygon points="-0.6,1.7 3.5,0.2 3.5,-3.4 -0.6,-1.8" fill="url(#gr3)"/><polygon points="-3.5,-3.7 -0.6,-1.8 3.5,-3.4 0.6,-5.3" fill="#006bb2"/><path d="M-3.5 -1.7L-0.6 0.2L3.5 -1.3M-3.5 -3.2L-0.6 -1.3L3.5 -2.9" class="s e3"/><path d="M-3.5 -3.7L-0.6 -1.8L3.5 -3.4L0.6 -5.3ZM-3.5 -3.7V-0.2L-0.6 1.7L3.5 0.2V-3.4M-0.6 1.7V-1.8" class="e e3"/></g>
<g transform="translate(248.8 163.3)"><polygon points="-3.5,-0.2 -0.6,1.7 -0.6,-2.4 -3.5,-4.3" fill="url(#gl3)"/><polygon points="-0.6,1.7 3.5,0.2 3.5,-4 -0.6,-2.4" fill="url(#gr3)"/><polygon points="-3.5,-4.3 -0.6,-2.4 3.5,-4 0.6,-5.9" fill="#006bb2"/><path d="M-3.5 -1.7L-0.6 0.2L3.5 -1.3M-3.5 -3.2L-0.6 -1.3L3.5 -2.9" class="s e3"/><path d="M-3.5 -4.3L-0.6 -2.4L3.5 -4L0.6 -5.9ZM-3.5 -4.3V-0.2L-0.6 1.7L3.5 0.2V-4M-0.6 1.7V-2.4" class="e e3"/></g>
<g transform="translate(240.4 166.6)"><polygon points="-3.5,-0.2 -0.6,1.7 -0.6,-5.6 -3.5,-7.5" fill="url(#gl3)"/><polygon points="-0.6,1.7 3.5,0.2 3.5,-7.2 -0.6,-5.6" fill="url(#gr3)"/><polygon points="-3.5,-7.5 -0.6,-5.6 3.5,-7.2 0.6,-9.1" fill="#006bb2"/><path d="M-3.5 -1.7L-0.6 0.2L3.5 -1.3M-3.5 -3.2L-0.6 -1.3L3.5 -2.9M-3.5 -4.7L-0.6 -2.8L3.5 -4.4M-3.5 -6.2L-0.6 -4.3L3.5 -5.9" class="s e3"/><path d="M-3.5 -7.5L-0.6 -5.6L3.5 -7.2L0.6 -9.1ZM-3.5 -7.5V-0.2L-0.6 1.7L3.5 0.2V-7.2M-0.6 1.7V-5.6" class="e e3"/></g>
<g transform="translate(231.9 169.8)"><polygon points="-3.5,-0.2 -0.6,1.7 -0.6,-1.8 -3.5,-3.7" fill="url(#gl3)"/><polygon points="-0.6,1.7 3.5,0.2 3.5,-3.3 -0.6,-1.8" fill="url(#gr3)"/><polygon points="-3.5,-3.7 -0.6,-1.8 3.5,-3.3 0.6,-5.2" fill="#006bb2"/><path d="M-3.5 -1.7L-0.6 0.2L3.5 -1.3M-3.5 -3.2L-0.6 -1.3L3.5 -2.9" class="s e3"/><path d="M-3.5 -3.7L-0.6 -1.8L3.5 -3.3L0.6 -5.2ZM-3.5 -3.7V-0.2L-0.6 1.7L3.5 0.2V-3.3M-0.6 1.7V-1.8" class="e e3"/></g>
<g transform="translate(223.5 173)"><polygon points="-3.5,-0.2 -0.6,1.7 -0.6,1 -3.5,-0.9" fill="url(#gl3)"/><polygon points="-0.6,1.7 3.5,0.2 3.5,-0.6 -0.6,1" fill="url(#gr3)"/><polygon points="-3.5,-0.9 -0.6,1 3.5,-0.6 0.6,-2.5" fill="#9cc8e4"/><path d="M-3.5 -0.9L-0.6 1L3.5 -0.6L0.6 -2.5ZM-3.5 -0.9V-0.2L-0.6 1.7L3.5 0.2V-0.6M-0.6 1.7V1" class="e f3"/></g>
<text x="67.77" y="94.48" font-size="7.4" text-anchor="middle">50</text>
<text x="100.28" y="115.72" font-size="7.4" text-anchor="middle">40</text>
<text x="132.78" y="136.95" font-size="7.4" text-anchor="middle">30</text>
<text x="165.29" y="158.18" font-size="7.4" text-anchor="middle">20</text>
<text x="197.8" y="179.41" font-size="7.4" text-anchor="middle">10</text>
<text font-size="6.7" text-anchor="middle" transform="translate(258.4 195.09) rotate(-20)" y="2.2">48</text>
<text font-size="6.7" text-anchor="middle" transform="translate(266.9 191.84) rotate(-20)" y="2.2">49</text>
<text font-size="6.7" text-anchor="middle" transform="translate(275.4 188.58) rotate(-20)" y="2.2">50</text>
<text font-size="6.7" text-anchor="middle" transform="translate(283.9 185.33) rotate(-20)" y="2.2">51</text>
<text font-size="6.7" text-anchor="middle" transform="translate(292.4 182.07) rotate(-20)" y="2.2">52</text>
<text font-size="6.7" text-anchor="middle" transform="translate(300.9 178.82) rotate(-20)" y="2.2">53</text>
<text font-size="6.7" text-anchor="middle" transform="translate(309.4 175.57) rotate(-20)" y="2.2">54</text>
<text font-size="6.7" text-anchor="middle" transform="translate(317.9 172.31) rotate(-20)" y="2.2">55</text>
<text font-size="6.7" text-anchor="middle" transform="translate(326.4 169.06) rotate(-20)" y="2.2">56</text>
<text font-size="6.7" text-anchor="middle" transform="translate(334.9 165.8) rotate(-20)" y="2.2">57</text>
<text font-size="6.7" text-anchor="middle" transform="translate(343.4 162.55) rotate(-20)" y="2.2">58</text>
<text x="40.4" y="62.1" font-size="7.4" text-anchor="end">0</text>
<text x="40.4" y="54.52" font-size="7.4" text-anchor="end">0.5</text>
<text x="40.4" y="46.95" font-size="7.4" text-anchor="end">1</text>
<text font-size="9" text-anchor="middle" transform="translate(25 54.86) rotate(-90)">Ratio</text>
<text font-size="8.4" text-anchor="middle" transform="translate(153 170.6) rotate(36)">Vel. (m/s)</text>
<text font-size="8" text-anchor="middle" transform="translate(305.5 194) rotate(-21)">Sleeper No</text></g>
<g id="chart-b"><polygon points="46.3,324.4 147.2,286.2 342.2,412.4 240.6,451.3" fill="#fff"/>
<polygon points="46.3,324.4 147.2,286.2 147.2,262.41 46.3,300.61" fill="#fff"/>
<polygon points="147.2,286.2 342.2,412.4 342.2,388.61 147.2,262.41" fill="#fff"/>
<path d="M77.97 345.08L178.98 306.77M178.98 306.77L178.98 282.98M110.48 366.32L211.61 327.88M211.61 327.88L211.61 304.09M142.98 387.55L244.23 349M244.23 349L244.23 325.2M175.49 408.78L276.86 370.11M276.86 370.11L276.86 346.32M208 430.01L309.48 391.22M309.48 391.22L309.48 367.43M249.5 447.89L55.14 321.05M55.14 321.05L55.14 297.26M258 444.64L63.58 317.86M63.58 317.86L63.58 294.06M266.5 441.38L72.02 314.66M72.02 314.66L72.02 290.87M275 438.13L80.46 311.47M80.46 311.47L80.46 287.67M283.5 434.87L88.9 308.27M88.9 308.27L88.9 284.48M292 431.62L97.35 305.07M97.35 305.07L97.35 281.28M300.5 428.37L105.79 301.88M105.79 301.88L105.79 278.09M309 425.11L114.23 298.68M114.23 298.68L114.23 274.89M317.5 421.86L122.67 295.49M122.67 295.49L122.67 271.69M326 418.6L131.11 292.29M131.11 292.29L131.11 268.5M334.5 415.35L139.55 289.1M139.55 289.1L139.55 265.3M46.3 316.7L147.2 278.5L342.2 404.7M46.3 309L147.2 270.8L342.2 397" stroke="#dcdcdc" stroke-width="0.5" fill="none"/>
<path d="M156.95 285.37L209.79 324.33M156.95 282.99L209.79 318.14M156.95 280.61L209.79 311.96M221.98 327.46L274.83 366.42M221.98 325.08L274.83 360.23M221.98 322.7L274.83 354.05M287.01 369.55L339.86 408.51M287.01 367.17L339.86 402.32M287.01 364.79L339.86 396.13" stroke="#d8828a" stroke-width="1.25" stroke-dasharray="2.2 0.5 1 0.4 3 0.5 0.8 0.3" fill="none" opacity="0.8"/><path d="M162.8 288.25L209.79 321.24M162.8 285.49L209.79 315.05M227.83 330.34L274.83 363.33M227.83 327.58L274.83 357.14M292.87 372.43L339.86 405.41M292.87 369.67L339.86 399.23" stroke="#e2a4aa" stroke-width="0.9" stroke-dasharray="1.2 0.6 2.5 0.5" fill="none" opacity="0.7"/>
<polygon points="202.97,320.39 209.79,324.81 209.79,316.72 202.97,312.3" fill="none" stroke="#d98a90" stroke-width="0.4"/>
<polygon points="151.29,284.09 154.02,285.86 154.02,279.91 151.29,278.14" fill="#1e8a4c"/>
<polygon points="151.29,284.09 152.27,284.72 152.27,278.77 151.29,278.14" fill="#1c2a22"/>
<polygon points="192.75,313.78 195.09,315.29 195.09,300.3 192.75,298.79" fill="#edb120"/>
<path d="M211.75 327.97L211.75 308.94" stroke="#aaa" stroke-width="0.4"/>

<polygon points="268,362.48 274.83,366.89 274.83,358.8 268,354.39" fill="none" stroke="#d98a90" stroke-width="0.4"/>
<polygon points="216.33,326.18 219.06,327.95 219.06,322 216.33,320.23" fill="#1e8a4c"/>
<polygon points="216.33,326.18 217.3,326.81 217.3,320.86 216.33,320.23" fill="#1c2a22"/>
<polygon points="257.78,355.86 259.93,357.25 259.93,342.26 257.78,340.87" fill="#e8601c"/>
<path d="M276.78 370.06L276.78 351.03" stroke="#aaa" stroke-width="0.4"/>

<polygon points="333.03,404.57 339.86,408.98 339.86,400.89 333.03,396.48" fill="none" stroke="#d98a90" stroke-width="0.4"/>
<polygon points="281.36,368.27 284.09,370.03 284.09,364.09 281.36,362.32" fill="#1e8a4c"/>
<polygon points="281.36,368.27 282.33,368.9 282.33,362.95 281.36,362.32" fill="#1c2a22"/>
<polygon points="322.82,397.95 324.57,399.09 324.57,384.1 322.82,382.96" fill="#1f77c4"/>
<path d="M46.3 324.4L147.2 286.2L342.2 412.4M46.3 300.61L147.2 262.41L342.2 388.61M147.2 286.2L147.2 262.41M342.2 412.4L342.2 388.61M46.3 324.4L46.3 300.61M46.3 324.4L240.6 451.3L342.2 412.4M77.97 345.08L73.6 346.75M110.48 366.32L106.1 367.98M142.98 387.55L138.61 389.21M175.49 408.78L171.12 410.44M208 430.01L203.62 431.67M249.5 447.89L253.73 450.63M258 444.64L262.23 447.38M266.5 441.38L270.73 444.13M275 438.13L279.23 440.87M283.5 434.87L287.73 437.62M292 431.62L296.23 434.36M300.5 428.37L304.73 431.11M309 425.11L313.23 427.85M317.5 421.86L321.73 424.6M326 418.6L330.23 421.34M334.5 415.35L338.73 418.09M46.3 324.4L41.99 322.62M46.3 322.86L44.48 322.11M46.3 321.32L44.48 320.57M46.3 319.78L44.48 319.03M46.3 318.24L44.48 317.49M46.3 316.7L41.99 314.92M46.3 315.16L44.48 314.41M46.3 313.62L44.48 312.87M46.3 312.08L44.48 311.33M46.3 310.54L44.48 309.79M46.3 309L41.99 307.22M46.3 307.46L44.48 306.71M46.3 305.92L44.48 305.17M46.3 304.38L44.48 303.63M46.3 302.84L44.48 302.09M46.3 301.3L44.48 300.55" stroke="#262626" stroke-width="0.6" fill="none"/>
<g transform="translate(160 305.2)"><polygon points="-3.5,-0.2 -0.6,1.7 -0.6,-6 -3.5,-7.9" fill="url(#gl0)"/><polygon points="-0.6,1.7 3.5,0.2 3.5,-7.6 -0.6,-6" fill="url(#gr0)"/><polygon points="-3.5,-7.9 -0.6,-6 3.5,-7.6 0.6,-9.5" fill="#762c85"/><path d="M-3.5 -1.7L-0.6 0.2L3.5 -1.4M-3.5 -3.2L-0.6 -1.3L3.5 -2.9M-3.5 -4.8L-0.6 -2.9L3.5 -4.5M-3.5 -6.3L-0.6 -4.4L3.5 -6M-3.5 -7.9L-0.6 -6L3.5 -7.5" class="s e0"/><path d="M-3.5 -7.9L-0.6 -6L3.5 -7.6L0.6 -9.5ZM-3.5 -7.9V-0.2L-0.6 1.7L3.5 0.2V-7.6M-0.6 1.7V-6" class="e e0"/></g>
<g transform="translate(151.6 308.4)"><polygon points="-3.5,-0.2 -0.6,1.7 -0.6,-7.1 -3.5,-9" fill="url(#gl0)"/><polygon points="-0.6,1.7 3.5,0.2 3.5,-8.6 -0.6,-7.1" fill="url(#gr0)"/><polygon points="-3.5,-9 -0.6,-7.1 3.5,-8.6 0.6,-10.5" fill="#762c85"/><path d="M-3.5 -1.7L-0.6 0.2L3.5 -1.4M-3.5 -3.2L-0.6 -1.3L3.5 -2.9M-3.5 -4.8L-0.6 -2.9L3.5 -4.5M-3.5 -6.3L-0.6 -4.4L3.5 -6M-3.5 -7.9L-0.6 -6L3.5 -7.5" class="s e0"/><path d="M-3.5 -9L-0.6 -7.1L3.5 -8.6L0.6 -10.5ZM-3.5 -9V-0.2L-0.6 1.7L3.5 0.2V-8.6M-0.6 1.7V-7.1" class="e e0"/></g>
<g transform="translate(143.1 311.6)"><polygon points="-3.5,-0.2 -0.6,1.7 -0.6,-8 -3.5,-9.9" fill="url(#gl0)"/><polygon points="-0.6,1.7 3.5,0.2 3.5,-9.6 -0.6,-8" fill="url(#gr0)"/><polygon points="-3.5,-9.9 -0.6,-8 3.5,-9.6 0.6,-11.5" fill="#762c85"/><path d="M-3.5 -1.7L-0.6 0.2L3.5 -1.4M-3.5 -3.2L-0.6 -1.3L3.5 -2.9M-3.5 -4.8L-0.6 -2.9L3.5 -4.5M-3.5 -6.3L-0.6 -4.4L3.5 -6M-3.5 -7.9L-0.6 -6L3.5 -7.5M-3.5 -9.4L-0.6 -7.5L3.5 -9.1" class="s e0"/><path d="M-3.5 -9.9L-0.6 -8L3.5 -9.6L0.6 -11.5ZM-3.5 -9.9V-0.2L-0.6 1.7L3.5 0.2V-9.6M-0.6 1.7V-8" class="e e0"/></g>
<g transform="translate(134.6 314.8)"><polygon points="-3.5,-0.2 -0.6,1.7 -0.6,-7.9 -3.5,-9.8" fill="url(#gl0)"/><polygon points="-0.6,1.7 3.5,0.2 3.5,-9.5 -0.6,-7.9" fill="url(#gr0)"/><polygon points="-3.5,-9.8 -0.6,-7.9 3.5,-9.5 0.6,-11.4" fill="#762c85"/><path d="M-3.5 -1.7L-0.6 0.2L3.5 -1.4M-3.5 -3.2L-0.6 -1.3L3.5 -2.9M-3.5 -4.8L-0.6 -2.9L3.5 -4.5M-3.5 -6.3L-0.6 -4.4L3.5 -6M-3.5 -7.9L-0.6 -6L3.5 -7.5M-3.5 -9.4L-0.6 -7.5L3.5 -9.1" class="s e0"/><path d="M-3.5 -9.8L-0.6 -7.9L3.5 -9.5L0.6 -11.4ZM-3.5 -9.8V-0.2L-0.6 1.7L3.5 0.2V-9.5M-0.6 1.7V-7.9" class="e e0"/></g>
<g transform="translate(126.2 318)"><polygon points="-3.5,-0.2 -0.6,1.7 -0.6,-9.7 -3.5,-11.6" fill="url(#gl0)"/><polygon points="-0.6,1.7 3.5,0.2 3.5,-11.3 -0.6,-9.7" fill="url(#gr0)"/><polygon points="-3.5,-11.6 -0.6,-9.7 3.5,-11.3 0.6,-13.2" fill="#762c85"/><path d="M-3.5 -1.7L-0.6 0.2L3.5 -1.4M-3.5 -3.2L-0.6 -1.3L3.5 -2.9M-3.5 -4.8L-0.6 -2.9L3.5 -4.5M-3.5 -6.3L-0.6 -4.4L3.5 -6M-3.5 -7.9L-0.6 -6L3.5 -7.5M-3.5 -9.4L-0.6 -7.5L3.5 -9.1M-3.5 -10.9L-0.6 -9L3.5 -10.6" class="s e0"/><path d="M-3.5 -11.6L-0.6 -9.7L3.5 -11.3L0.6 -13.2ZM-3.5 -11.6V-0.2L-0.6 1.7L3.5 0.2V-11.3M-0.6 1.7V-9.7" class="e e0"/></g>
<g transform="translate(117.8 321.2)"><polygon points="-3.5,-0.2 -0.6,1.7 -0.6,-12.9 -3.5,-14.8" fill="url(#gl0)"/><polygon points="-0.6,1.7 3.5,0.2 3.5,-14.5 -0.6,-12.9" fill="url(#gr0)"/><polygon points="-3.5,-14.8 -0.6,-12.9 3.5,-14.5 0.6,-16.4" fill="#762c85"/><path d="M-3.5 -1.7L-0.6 0.2L3.5 -1.4M-3.5 -3.2L-0.6 -1.3L3.5 -2.9M-3.5 -4.8L-0.6 -2.9L3.5 -4.5M-3.5 -6.3L-0.6 -4.4L3.5 -6M-3.5 -7.9L-0.6 -6L3.5 -7.5M-3.5 -9.4L-0.6 -7.5L3.5 -9.1M-3.5 -10.9L-0.6 -9L3.5 -10.6M-3.5 -12.5L-0.6 -10.6L3.5 -12.2M-3.5 -14L-0.6 -12.1L3.5 -13.7" class="s e0"/><path d="M-3.5 -14.8L-0.6 -12.9L3.5 -14.5L0.6 -16.4ZM-3.5 -14.8V-0.2L-0.6 1.7L3.5 0.2V-14.5M-0.6 1.7V-12.9" class="e e0"/></g>
<g transform="translate(109.3 324.5)"><polygon points="-3.5,-0.2 -0.6,1.7 -0.6,-15.8 -3.5,-17.7" fill="url(#gl0)"/><polygon points="-0.6,1.7 3.5,0.2 3.5,-17.3 -0.6,-15.8" fill="url(#gr0)"/><polygon points="-3.5,-17.7 -0.6,-15.8 3.5,-17.3 0.6,-19.2" fill="#762c85"/><path d="M-3.5 -1.7L-0.6 0.2L3.5 -1.4M-3.5 -3.2L-0.6 -1.3L3.5 -2.9M-3.5 -4.8L-0.6 -2.9L3.5 -4.5M-3.5 -6.3L-0.6 -4.4L3.5 -6M-3.5 -7.9L-0.6 -6L3.5 -7.5M-3.5 -9.4L-0.6 -7.5L3.5 -9.1M-3.5 -10.9L-0.6 -9L3.5 -10.6M-3.5 -12.5L-0.6 -10.6L3.5 -12.2M-3.5 -14L-0.6 -12.1L3.5 -13.7M-3.5 -15.6L-0.6 -13.7L3.5 -15.2M-3.5 -17.1L-0.6 -15.2L3.5 -16.8" class="s e0"/><path d="M-3.5 -17.7L-0.6 -15.8L3.5 -17.3L0.6 -19.2ZM-3.5 -17.7V-0.2L-0.6 1.7L3.5 0.2V-17.3M-0.6 1.7V-15.8" class="e e0"/></g>
<g transform="translate(100.8 327.7)"><polygon points="-3.5,-0.2 -0.6,1.7 -0.6,-5.8 -3.5,-7.7" fill="url(#gl0)"/><polygon points="-0.6,1.7 3.5,0.2 3.5,-7.4 -0.6,-5.8" fill="url(#gr0)"/><polygon points="-3.5,-7.7 -0.6,-5.8 3.5,-7.4 0.6,-9.3" fill="#762c85"/><path d="M-3.5 -1.7L-0.6 0.2L3.5 -1.4M-3.5 -3.2L-0.6 -1.3L3.5 -2.9M-3.5 -4.8L-0.6 -2.9L3.5 -4.5M-3.5 -6.3L-0.6 -4.4L3.5 -6" class="s e0"/><path d="M-3.5 -7.7L-0.6 -5.8L3.5 -7.4L0.6 -9.3ZM-3.5 -7.7V-0.2L-0.6 1.7L3.5 0.2V-7.4M-0.6 1.7V-5.8" class="e e0"/></g>
<g transform="translate(92.4 330.9)"><polygon points="-3.5,-0.2 -0.6,1.7 -0.6,-7.6 -3.5,-9.5" fill="url(#gl0)"/><polygon points="-0.6,1.7 3.5,0.2 3.5,-9.2 -0.6,-7.6" fill="url(#gr0)"/><polygon points="-3.5,-9.5 -0.6,-7.6 3.5,-9.2 0.6,-11.1" fill="#762c85"/><path d="M-3.5 -1.7L-0.6 0.2L3.5 -1.4M-3.5 -3.2L-0.6 -1.3L3.5 -2.9M-3.5 -4.8L-0.6 -2.9L3.5 -4.5M-3.5 -6.3L-0.6 -4.4L3.5 -6M-3.5 -7.9L-0.6 -6L3.5 -7.5M-3.5 -9.4L-0.6 -7.5L3.5 -9.1" class="s e0"/><path d="M-3.5 -9.5L-0.6 -7.6L3.5 -9.2L0.6 -11.1ZM-3.5 -9.5V-0.2L-0.6 1.7L3.5 0.2V-9.2M-0.6 1.7V-7.6" class="e e0"/></g>
<g transform="translate(84 334.1)"><polygon points="-3.5,-0.2 -0.6,1.7 -0.6,-6.2 -3.5,-8.1" fill="url(#gl0)"/><polygon points="-0.6,1.7 3.5,0.2 3.5,-7.7 -0.6,-6.2" fill="url(#gr0)"/><polygon points="-3.5,-8.1 -0.6,-6.2 3.5,-7.7 0.6,-9.6" fill="#762c85"/><path d="M-3.5 -1.7L-0.6 0.2L3.5 -1.4M-3.5 -3.2L-0.6 -1.3L3.5 -2.9M-3.5 -4.8L-0.6 -2.9L3.5 -4.5M-3.5 -6.3L-0.6 -4.4L3.5 -6M-3.5 -7.9L-0.6 -6L3.5 -7.5" class="s e0"/><path d="M-3.5 -8.1L-0.6 -6.2L3.5 -7.7L0.6 -9.6ZM-3.5 -8.1V-0.2L-0.6 1.7L3.5 0.2V-7.7M-0.6 1.7V-6.2" class="e e0"/></g>
<g transform="translate(75.5 337.3)"><polygon points="-3.5,-0.2 -0.6,1.7 -0.6,-5 -3.5,-6.9" fill="url(#gl0)"/><polygon points="-0.6,1.7 3.5,0.2 3.5,-6.6 -0.6,-5" fill="url(#gr0)"/><polygon points="-3.5,-6.9 -0.6,-5 3.5,-6.6 0.6,-8.5" fill="#762c85"/><path d="M-3.5 -1.7L-0.6 0.2L3.5 -1.4M-3.5 -3.2L-0.6 -1.3L3.5 -2.9M-3.5 -4.8L-0.6 -2.9L3.5 -4.5M-3.5 -6.3L-0.6 -4.4L3.5 -6" class="s e0"/><path d="M-3.5 -6.9L-0.6 -5L3.5 -6.6L0.6 -8.5ZM-3.5 -6.9V-0.2L-0.6 1.7L3.5 0.2V-6.6M-0.6 1.7V-5" class="e e0"/></g>
<g transform="translate(166 309.1)"><polygon points="-3.5,-0.2 -0.6,1.7 -0.6,-5.5 -3.5,-7.5" fill="url(#gl1)"/><polygon points="-0.6,1.7 3.5,0.2 3.5,-7.1 -0.6,-5.5" fill="url(#gr1)"/><polygon points="-3.5,-7.5 -0.6,-5.5 3.5,-7.1 0.6,-9" fill="#dfa61e"/><path d="M-3.5 -1.7L-0.6 0.2L3.5 -1.4M-3.5 -3.2L-0.6 -1.3L3.5 -2.9M-3.5 -4.8L-0.6 -2.9L3.5 -4.5M-3.5 -6.3L-0.6 -4.4L3.5 -6" class="s e1"/><path d="M-3.5 -7.5L-0.6 -5.5L3.5 -7.1L0.6 -9ZM-3.5 -7.5V-0.2L-0.6 1.7L3.5 0.2V-7.1M-0.6 1.7V-5.5" class="e e1"/></g>
<g transform="translate(157.6 312.3)"><polygon points="-3.5,-0.2 -0.6,1.7 -0.6,-6.5 -3.5,-8.4" fill="url(#gl1)"/><polygon points="-0.6,1.7 3.5,0.2 3.5,-8 -0.6,-6.5" fill="url(#gr1)"/><polygon points="-3.5,-8.4 -0.6,-6.5 3.5,-8 0.6,-9.9" fill="#dfa61e"/><path d="M-3.5 -1.7L-0.6 0.2L3.5 -1.4M-3.5 -3.2L-0.6 -1.3L3.5 -2.9M-3.5 -4.8L-0.6 -2.9L3.5 -4.5M-3.5 -6.3L-0.6 -4.4L3.5 -6M-3.5 -7.9L-0.6 -6L3.5 -7.5" class="s e1"/><path d="M-3.5 -8.4L-0.6 -6.5L3.5 -8L0.6 -9.9ZM-3.5 -8.4V-0.2L-0.6 1.7L3.5 0.2V-8M-0.6 1.7V-6.5" class="e e1"/></g>
<g transform="translate(149.1 315.5)"><polygon points="-3.5,-0.2 -0.6,1.7 -0.6,-7.6 -3.5,-9.5" fill="url(#gl1)"/><polygon points="-0.6,1.7 3.5,0.2 3.5,-9.1 -0.6,-7.6" fill="url(#gr1)"/><polygon points="-3.5,-9.5 -0.6,-7.6 3.5,-9.1 0.6,-11" fill="#dfa61e"/><path d="M-3.5 -1.7L-0.6 0.2L3.5 -1.4M-3.5 -3.2L-0.6 -1.3L3.5 -2.9M-3.5 -4.8L-0.6 -2.9L3.5 -4.5M-3.5 -6.3L-0.6 -4.4L3.5 -6M-3.5 -7.9L-0.6 -6L3.5 -7.5M-3.5 -9.4L-0.6 -7.5L3.5 -9.1" class="s e1"/><path d="M-3.5 -9.5L-0.6 -7.6L3.5 -9.1L0.6 -11ZM-3.5 -9.5V-0.2L-0.6 1.7L3.5 0.2V-9.1M-0.6 1.7V-7.6" class="e e1"/></g>
<g transform="translate(140.6 318.7)"><polygon points="-3.5,-0.2 -0.6,1.7 -0.6,-8.6 -3.5,-10.5" fill="url(#gl1)"/><polygon points="-0.6,1.7 3.5,0.2 3.5,-10.2 -0.6,-8.6" fill="url(#gr1)"/><polygon points="-3.5,-10.5 -0.6,-8.6 3.5,-10.2 0.6,-12.1" fill="#dfa61e"/><path d="M-3.5 -1.7L-0.6 0.2L3.5 -1.4M-3.5 -3.2L-0.6 -1.3L3.5 -2.9M-3.5 -4.8L-0.6 -2.9L3.5 -4.5M-3.5 -6.3L-0.6 -4.4L3.5 -6M-3.5 -7.9L-0.6 -6L3.5 -7.5M-3.5 -9.4L-0.6 -7.5L3.5 -9.1" class="s e1"/><path d="M-3.5 -10.5L-0.6 -8.6L3.5 -10.2L0.6 -12.1ZM-3.5 -10.5V-0.2L-0.6 1.7L3.5 0.2V-10.2M-0.6 1.7V-8.6" class="e e1"/></g>
<g transform="translate(132.2 321.9)"><polygon points="-3.5,-0.2 -0.6,1.7 -0.6,-8.8 -3.5,-10.7" fill="url(#gl1)"/><polygon points="-0.6,1.7 3.5,0.2 3.5,-10.4 -0.6,-8.8" fill="url(#gr1)"/><polygon points="-3.5,-10.7 -0.6,-8.8 3.5,-10.4 0.6,-12.3" fill="#dfa61e"/><path d="M-3.5 -1.7L-0.6 0.2L3.5 -1.4M-3.5 -3.2L-0.6 -1.3L3.5 -2.9M-3.5 -4.8L-0.6 -2.9L3.5 -4.5M-3.5 -6.3L-0.6 -4.4L3.5 -6M-3.5 -7.9L-0.6 -6L3.5 -7.5M-3.5 -9.4L-0.6 -7.5L3.5 -9.1" class="s e1"/><path d="M-3.5 -10.7L-0.6 -8.8L3.5 -10.4L0.6 -12.3ZM-3.5 -10.7V-0.2L-0.6 1.7L3.5 0.2V-10.4M-0.6 1.7V-8.8" class="e e1"/></g>
<g transform="translate(123.8 325.1)"><polygon points="-3.5,-0.2 -0.6,1.7 -0.6,-12 -3.5,-13.9" fill="url(#gl1)"/><polygon points="-0.6,1.7 3.5,0.2 3.5,-13.6 -0.6,-12" fill="url(#gr1)"/><polygon points="-3.5,-13.9 -0.6,-12 3.5,-13.6 0.6,-15.5" fill="#dfa61e"/><path d="M-3.5 -1.7L-0.6 0.2L3.5 -1.4M-3.5 -3.2L-0.6 -1.3L3.5 -2.9M-3.5 -4.8L-0.6 -2.9L3.5 -4.5M-3.5 -6.3L-0.6 -4.4L3.5 -6M-3.5 -7.9L-0.6 -6L3.5 -7.5M-3.5 -9.4L-0.6 -7.5L3.5 -9.1M-3.5 -10.9L-0.6 -9L3.5 -10.6M-3.5 -12.5L-0.6 -10.6L3.5 -12.2" class="s e1"/><path d="M-3.5 -13.9L-0.6 -12L3.5 -13.6L0.6 -15.5ZM-3.5 -13.9V-0.2L-0.6 1.7L3.5 0.2V-13.6M-0.6 1.7V-12" class="e e1"/></g>
<g transform="translate(115.3 328.4)"><polygon points="-3.5,-0.2 -0.6,1.7 -0.6,-16.8 -3.5,-18.7" fill="url(#gl1)"/><polygon points="-0.6,1.7 3.5,0.2 3.5,-18.4 -0.6,-16.8" fill="url(#gr1)"/><polygon points="-3.5,-18.7 -0.6,-16.8 3.5,-18.4 0.6,-20.3" fill="#dfa61e"/><path d="M-3.5 -1.7L-0.6 0.2L3.5 -1.4M-3.5 -3.2L-0.6 -1.3L3.5 -2.9M-3.5 -4.8L-0.6 -2.9L3.5 -4.5M-3.5 -6.3L-0.6 -4.4L3.5 -6M-3.5 -7.9L-0.6 -6L3.5 -7.5M-3.5 -9.4L-0.6 -7.5L3.5 -9.1M-3.5 -10.9L-0.6 -9L3.5 -10.6M-3.5 -12.5L-0.6 -10.6L3.5 -12.2M-3.5 -14L-0.6 -12.1L3.5 -13.7M-3.5 -15.6L-0.6 -13.7L3.5 -15.2M-3.5 -17.1L-0.6 -15.2L3.5 -16.8M-3.5 -18.6L-0.6 -16.7L3.5 -18.3" class="s e1"/><path d="M-3.5 -18.7L-0.6 -16.8L3.5 -18.4L0.6 -20.3ZM-3.5 -18.7V-0.2L-0.6 1.7L3.5 0.2V-18.4M-0.6 1.7V-16.8" class="e e1"/></g>
<g transform="translate(106.8 331.6)"><polygon points="-3.5,-0.2 -0.6,1.7 -0.6,-7.9 -3.5,-9.8" fill="url(#gl1)"/><polygon points="-0.6,1.7 3.5,0.2 3.5,-9.5 -0.6,-7.9" fill="url(#gr1)"/><polygon points="-3.5,-9.8 -0.6,-7.9 3.5,-9.5 0.6,-11.4" fill="#dfa61e"/><path d="M-3.5 -1.7L-0.6 0.2L3.5 -1.4M-3.5 -3.2L-0.6 -1.3L3.5 -2.9M-3.5 -4.8L-0.6 -2.9L3.5 -4.5M-3.5 -6.3L-0.6 -4.4L3.5 -6M-3.5 -7.9L-0.6 -6L3.5 -7.5M-3.5 -9.4L-0.6 -7.5L3.5 -9.1" class="s e1"/><path d="M-3.5 -9.8L-0.6 -7.9L3.5 -9.5L0.6 -11.4ZM-3.5 -9.8V-0.2L-0.6 1.7L3.5 0.2V-9.5M-0.6 1.7V-7.9" class="e e1"/></g>
<g transform="translate(98.4 334.8)"><polygon points="-3.5,-0.2 -0.6,1.7 -0.6,-7.9 -3.5,-9.8" fill="url(#gl1)"/><polygon points="-0.6,1.7 3.5,0.2 3.5,-9.5 -0.6,-7.9" fill="url(#gr1)"/><polygon points="-3.5,-9.8 -0.6,-7.9 3.5,-9.5 0.6,-11.4" fill="#dfa61e"/><path d="M-3.5 -1.7L-0.6 0.2L3.5 -1.4M-3.5 -3.2L-0.6 -1.3L3.5 -2.9M-3.5 -4.8L-0.6 -2.9L3.5 -4.5M-3.5 -6.3L-0.6 -4.4L3.5 -6M-3.5 -7.9L-0.6 -6L3.5 -7.5M-3.5 -9.4L-0.6 -7.5L3.5 -9.1" class="s e1"/><path d="M-3.5 -9.8L-0.6 -7.9L3.5 -9.5L0.6 -11.4ZM-3.5 -9.8V-0.2L-0.6 1.7L3.5 0.2V-9.5M-0.6 1.7V-7.9" class="e e1"/></g>
<g transform="translate(90 338)"><polygon points="-3.5,-0.2 -0.6,1.7 -0.6,-5.3 -3.5,-7.2" fill="url(#gl1)"/><polygon points="-0.6,1.7 3.5,0.2 3.5,-6.8 -0.6,-5.3" fill="url(#gr1)"/><polygon points="-3.5,-7.2 -0.6,-5.3 3.5,-6.8 0.6,-8.7" fill="#dfa61e"/><path d="M-3.5 -1.7L-0.6 0.2L3.5 -1.4M-3.5 -3.2L-0.6 -1.3L3.5 -2.9M-3.5 -4.8L-0.6 -2.9L3.5 -4.5M-3.5 -6.3L-0.6 -4.4L3.5 -6" class="s e1"/><path d="M-3.5 -7.2L-0.6 -5.3L3.5 -6.8L0.6 -8.7ZM-3.5 -7.2V-0.2L-0.6 1.7L3.5 0.2V-6.8M-0.6 1.7V-5.3" class="e e1"/></g>
<g transform="translate(81.5 341.2)"><polygon points="-3.5,-0.2 -0.6,1.7 -0.6,-5.6 -3.5,-7.5" fill="url(#gl1)"/><polygon points="-0.6,1.7 3.5,0.2 3.5,-7.2 -0.6,-5.6" fill="url(#gr1)"/><polygon points="-3.5,-7.5 -0.6,-5.6 3.5,-7.2 0.6,-9.1" fill="#dfa61e"/><path d="M-3.5 -1.7L-0.6 0.2L3.5 -1.4M-3.5 -3.2L-0.6 -1.3L3.5 -2.9M-3.5 -4.8L-0.6 -2.9L3.5 -4.5M-3.5 -6.3L-0.6 -4.4L3.5 -6" class="s e1"/><path d="M-3.5 -7.5L-0.6 -5.6L3.5 -7.2L0.6 -9.1ZM-3.5 -7.5V-0.2L-0.6 1.7L3.5 0.2V-7.2M-0.6 1.7V-5.6" class="e e1"/></g>
<g transform="translate(172 313)"><polygon points="-3.5,-0.2 -0.6,1.7 -0.6,-6.1 -3.5,-8.1" fill="url(#gl2)"/><polygon points="-0.6,1.7 3.5,0.2 3.5,-7.7 -0.6,-6.1" fill="url(#gr2)"/><polygon points="-3.5,-8.1 -0.6,-6.1 3.5,-7.7 0.6,-9.6" fill="#cc4e18"/><path d="M-3.5 -1.7L-0.6 0.2L3.5 -1.4M-3.5 -3.2L-0.6 -1.3L3.5 -2.9M-3.5 -4.8L-0.6 -2.9L3.5 -4.5M-3.5 -6.3L-0.6 -4.4L3.5 -6M-3.5 -7.9L-0.6 -6L3.5 -7.5" class="s e2"/><path d="M-3.5 -8.1L-0.6 -6.1L3.5 -7.7L0.6 -9.6ZM-3.5 -8.1V-0.2L-0.6 1.7L3.5 0.2V-7.7M-0.6 1.7V-6.1" class="e e2"/></g>
<g transform="translate(163.6 316.2)"><polygon points="-3.5,-0.2 -0.6,1.7 -0.6,-7.2 -3.5,-9.1" fill="url(#gl2)"/><polygon points="-0.6,1.7 3.5,0.2 3.5,-8.8 -0.6,-7.2" fill="url(#gr2)"/><polygon points="-3.5,-9.1 -0.6,-7.2 3.5,-8.8 0.6,-10.7" fill="#cc4e18"/><path d="M-3.5 -1.7L-0.6 0.2L3.5 -1.4M-3.5 -3.2L-0.6 -1.3L3.5 -2.9M-3.5 -4.8L-0.6 -2.9L3.5 -4.5M-3.5 -6.3L-0.6 -4.4L3.5 -6M-3.5 -7.9L-0.6 -6L3.5 -7.5" class="s e2"/><path d="M-3.5 -9.1L-0.6 -7.2L3.5 -8.8L0.6 -10.7ZM-3.5 -9.1V-0.2L-0.6 1.7L3.5 0.2V-8.8M-0.6 1.7V-7.2" class="e e2"/></g>
<g transform="translate(155.1 319.4)"><polygon points="-3.5,-0.2 -0.6,1.7 -0.6,-8.1 -3.5,-10.1" fill="url(#gl2)"/><polygon points="-0.6,1.7 3.5,0.2 3.5,-9.7 -0.6,-8.1" fill="url(#gr2)"/><polygon points="-3.5,-10.1 -0.6,-8.1 3.5,-9.7 0.6,-11.6" fill="#cc4e18"/><path d="M-3.5 -1.7L-0.6 0.2L3.5 -1.4M-3.5 -3.2L-0.6 -1.3L3.5 -2.9M-3.5 -4.8L-0.6 -2.9L3.5 -4.5M-3.5 -6.3L-0.6 -4.4L3.5 -6M-3.5 -7.9L-0.6 -6L3.5 -7.5M-3.5 -9.4L-0.6 -7.5L3.5 -9.1" class="s e2"/><path d="M-3.5 -10.1L-0.6 -8.1L3.5 -9.7L0.6 -11.6ZM-3.5 -10.1V-0.2L-0.6 1.7L3.5 0.2V-9.7M-0.6 1.7V-8.1" class="e e2"/></g>
<g transform="translate(146.6 322.6)"><polygon points="-3.5,-0.2 -0.6,1.7 -0.6,-9.2 -3.5,-11.1" fill="url(#gl2)"/><polygon points="-0.6,1.7 3.5,0.2 3.5,-10.8 -0.6,-9.2" fill="url(#gr2)"/><polygon points="-3.5,-11.1 -0.6,-9.2 3.5,-10.8 0.6,-12.7" fill="#cc4e18"/><path d="M-3.5 -1.7L-0.6 0.2L3.5 -1.4M-3.5 -3.2L-0.6 -1.3L3.5 -2.9M-3.5 -4.8L-0.6 -2.9L3.5 -4.5M-3.5 -6.3L-0.6 -4.4L3.5 -6M-3.5 -7.9L-0.6 -6L3.5 -7.5M-3.5 -9.4L-0.6 -7.5L3.5 -9.1M-3.5 -10.9L-0.6 -9L3.5 -10.6" class="s e2"/><path d="M-3.5 -11.1L-0.6 -9.2L3.5 -10.8L0.6 -12.7ZM-3.5 -11.1V-0.2L-0.6 1.7L3.5 0.2V-10.8M-0.6 1.7V-9.2" class="e e2"/></g>
<g transform="translate(138.2 325.8)"><polygon points="-3.5,-0.2 -0.6,1.7 -0.6,-10.8 -3.5,-12.7" fill="url(#gl2)"/><polygon points="-0.6,1.7 3.5,0.2 3.5,-12.3 -0.6,-10.8" fill="url(#gr2)"/><polygon points="-3.5,-12.7 -0.6,-10.8 3.5,-12.3 0.6,-14.2" fill="#cc4e18"/><path d="M-3.5 -1.7L-0.6 0.2L3.5 -1.4M-3.5 -3.2L-0.6 -1.3L3.5 -2.9M-3.5 -4.8L-0.6 -2.9L3.5 -4.5M-3.5 -6.3L-0.6 -4.4L3.5 -6M-3.5 -7.9L-0.6 -6L3.5 -7.5M-3.5 -9.4L-0.6 -7.5L3.5 -9.1M-3.5 -10.9L-0.6 -9L3.5 -10.6M-3.5 -12.5L-0.6 -10.6L3.5 -12.2" class="s e2"/><path d="M-3.5 -12.7L-0.6 -10.8L3.5 -12.3L0.6 -14.2ZM-3.5 -12.7V-0.2L-0.6 1.7L3.5 0.2V-12.3M-0.6 1.7V-10.8" class="e e2"/></g>
<g transform="translate(129.8 329)"><polygon points="-3.5,-0.2 -0.6,1.7 -0.6,-14.1 -3.5,-16" fill="url(#gl2)"/><polygon points="-0.6,1.7 3.5,0.2 3.5,-15.7 -0.6,-14.1" fill="url(#gr2)"/><polygon points="-3.5,-16 -0.6,-14.1 3.5,-15.7 0.6,-17.6" fill="#cc4e18"/><path d="M-3.5 -1.7L-0.6 0.2L3.5 -1.4M-3.5 -3.2L-0.6 -1.3L3.5 -2.9M-3.5 -4.8L-0.6 -2.9L3.5 -4.5M-3.5 -6.3L-0.6 -4.4L3.5 -6M-3.5 -7.9L-0.6 -6L3.5 -7.5M-3.5 -9.4L-0.6 -7.5L3.5 -9.1M-3.5 -10.9L-0.6 -9L3.5 -10.6M-3.5 -12.5L-0.6 -10.6L3.5 -12.2M-3.5 -14L-0.6 -12.1L3.5 -13.7M-3.5 -15.6L-0.6 -13.7L3.5 -15.2" class="s e2"/><path d="M-3.5 -16L-0.6 -14.1L3.5 -15.7L0.6 -17.6ZM-3.5 -16V-0.2L-0.6 1.7L3.5 0.2V-15.7M-0.6 1.7V-14.1" class="e e2"/></g>
<g transform="translate(121.3 332.2)"><polygon points="-3.5,-0.2 -0.6,1.7 -0.6,-16.5 -3.5,-18.4" fill="url(#gl2)"/><polygon points="-0.6,1.7 3.5,0.2 3.5,-18.1 -0.6,-16.5" fill="url(#gr2)"/><polygon points="-3.5,-18.4 -0.6,-16.5 3.5,-18.1 0.6,-20" fill="#cc4e18"/><path d="M-3.5 -1.7L-0.6 0.2L3.5 -1.4M-3.5 -3.2L-0.6 -1.3L3.5 -2.9M-3.5 -4.8L-0.6 -2.9L3.5 -4.5M-3.5 -6.3L-0.6 -4.4L3.5 -6M-3.5 -7.9L-0.6 -6L3.5 -7.5M-3.5 -9.4L-0.6 -7.5L3.5 -9.1M-3.5 -10.9L-0.6 -9L3.5 -10.6M-3.5 -12.5L-0.6 -10.6L3.5 -12.2M-3.5 -14L-0.6 -12.1L3.5 -13.7M-3.5 -15.6L-0.6 -13.7L3.5 -15.2M-3.5 -17.1L-0.6 -15.2L3.5 -16.8" class="s e2"/><path d="M-3.5 -18.4L-0.6 -16.5L3.5 -18.1L0.6 -20ZM-3.5 -18.4V-0.2L-0.6 1.7L3.5 0.2V-18.1M-0.6 1.7V-16.5" class="e e2"/></g>
<g transform="translate(112.8 335.4)"><polygon points="-3.5,-0.2 -0.6,1.7 -0.6,-6.4 -3.5,-8.3" fill="url(#gl2)"/><polygon points="-0.6,1.7 3.5,0.2 3.5,-8 -0.6,-6.4" fill="url(#gr2)"/><polygon points="-3.5,-8.3 -0.6,-6.4 3.5,-8 0.6,-9.9" fill="#cc4e18"/><path d="M-3.5 -1.7L-0.6 0.2L3.5 -1.4M-3.5 -3.2L-0.6 -1.3L3.5 -2.9M-3.5 -4.8L-0.6 -2.9L3.5 -4.5M-3.5 -6.3L-0.6 -4.4L3.5 -6M-3.5 -7.9L-0.6 -6L3.5 -7.5" class="s e2"/><path d="M-3.5 -8.3L-0.6 -6.4L3.5 -8L0.6 -9.9ZM-3.5 -8.3V-0.2L-0.6 1.7L3.5 0.2V-8M-0.6 1.7V-6.4" class="e e2"/></g>
<g transform="translate(104.4 338.7)"><polygon points="-3.5,-0.2 -0.6,1.7 -0.6,-6.3 -3.5,-8.2" fill="url(#gl2)"/><polygon points="-0.6,1.7 3.5,0.2 3.5,-7.8 -0.6,-6.3" fill="url(#gr2)"/><polygon points="-3.5,-8.2 -0.6,-6.3 3.5,-7.8 0.6,-9.7" fill="#cc4e18"/><path d="M-3.5 -1.7L-0.6 0.2L3.5 -1.4M-3.5 -3.2L-0.6 -1.3L3.5 -2.9M-3.5 -4.8L-0.6 -2.9L3.5 -4.5M-3.5 -6.3L-0.6 -4.4L3.5 -6M-3.5 -7.9L-0.6 -6L3.5 -7.5" class="s e2"/><path d="M-3.5 -8.2L-0.6 -6.3L3.5 -7.8L0.6 -9.7ZM-3.5 -8.2V-0.2L-0.6 1.7L3.5 0.2V-7.8M-0.6 1.7V-6.3" class="e e2"/></g>
<g transform="translate(96 341.9)"><polygon points="-3.5,-0.2 -0.6,1.7 -0.6,-6.3 -3.5,-8.2" fill="url(#gl2)"/><polygon points="-0.6,1.7 3.5,0.2 3.5,-7.9 -0.6,-6.3" fill="url(#gr2)"/><polygon points="-3.5,-8.2 -0.6,-6.3 3.5,-7.9 0.6,-9.8" fill="#cc4e18"/><path d="M-3.5 -1.7L-0.6 0.2L3.5 -1.4M-3.5 -3.2L-0.6 -1.3L3.5 -2.9M-3.5 -4.8L-0.6 -2.9L3.5 -4.5M-3.5 -6.3L-0.6 -4.4L3.5 -6M-3.5 -7.9L-0.6 -6L3.5 -7.5" class="s e2"/><path d="M-3.5 -8.2L-0.6 -6.3L3.5 -7.9L0.6 -9.8ZM-3.5 -8.2V-0.2L-0.6 1.7L3.5 0.2V-7.9M-0.6 1.7V-6.3" class="e e2"/></g>
<g transform="translate(87.5 345.1)"><polygon points="-3.5,-0.2 -0.6,1.7 -0.6,-5.1 -3.5,-7.1" fill="url(#gl2)"/><polygon points="-0.6,1.7 3.5,0.2 3.5,-6.7 -0.6,-5.1" fill="url(#gr2)"/><polygon points="-3.5,-7.1 -0.6,-5.1 3.5,-6.7 0.6,-8.6" fill="#cc4e18"/><path d="M-3.5 -1.7L-0.6 0.2L3.5 -1.4M-3.5 -3.2L-0.6 -1.3L3.5 -2.9M-3.5 -4.8L-0.6 -2.9L3.5 -4.5M-3.5 -6.3L-0.6 -4.4L3.5 -6" class="s e2"/><path d="M-3.5 -7.1L-0.6 -5.1L3.5 -6.7L0.6 -8.6ZM-3.5 -7.1V-0.2L-0.6 1.7L3.5 0.2V-6.7M-0.6 1.7V-5.1" class="e e2"/></g>
<g transform="translate(178 316.9)"><polygon points="-3.5,-0.2 -0.6,1.7 -0.6,-6.7 -3.5,-8.6" fill="url(#gl3)"/><polygon points="-0.6,1.7 3.5,0.2 3.5,-8.3 -0.6,-6.7" fill="url(#gr3)"/><polygon points="-3.5,-8.6 -0.6,-6.7 3.5,-8.3 0.6,-10.2" fill="#006bb2"/><path d="M-3.5 -1.7L-0.6 0.2L3.5 -1.4M-3.5 -3.2L-0.6 -1.3L3.5 -2.9M-3.5 -4.8L-0.6 -2.9L3.5 -4.5M-3.5 -6.3L-0.6 -4.4L3.5 -6M-3.5 -7.9L-0.6 -6L3.5 -7.5" class="s e3"/><path d="M-3.5 -8.6L-0.6 -6.7L3.5 -8.3L0.6 -10.2ZM-3.5 -8.6V-0.2L-0.6 1.7L3.5 0.2V-8.3M-0.6 1.7V-6.7" class="e e3"/></g>
<g transform="translate(169.6 320.1)"><polygon points="-3.5,-0.2 -0.6,1.7 -0.6,-7.8 -3.5,-9.7" fill="url(#gl3)"/><polygon points="-0.6,1.7 3.5,0.2 3.5,-9.4 -0.6,-7.8" fill="url(#gr3)"/><polygon points="-3.5,-9.7 -0.6,-7.8 3.5,-9.4 0.6,-11.3" fill="#006bb2"/><path d="M-3.5 -1.7L-0.6 0.2L3.5 -1.4M-3.5 -3.2L-0.6 -1.3L3.5 -2.9M-3.5 -4.8L-0.6 -2.9L3.5 -4.5M-3.5 -6.3L-0.6 -4.4L3.5 -6M-3.5 -7.9L-0.6 -6L3.5 -7.5M-3.5 -9.4L-0.6 -7.5L3.5 -9.1" class="s e3"/><path d="M-3.5 -9.7L-0.6 -7.8L3.5 -9.4L0.6 -11.3ZM-3.5 -9.7V-0.2L-0.6 1.7L3.5 0.2V-9.4M-0.6 1.7V-7.8" class="e e3"/></g>
<g transform="translate(161.1 323.3)"><polygon points="-3.5,-0.2 -0.6,1.7 -0.6,-8.7 -3.5,-10.7" fill="url(#gl3)"/><polygon points="-0.6,1.7 3.5,0.2 3.5,-10.3 -0.6,-8.7" fill="url(#gr3)"/><polygon points="-3.5,-10.7 -0.6,-8.7 3.5,-10.3 0.6,-12.2" fill="#006bb2"/><path d="M-3.5 -1.7L-0.6 0.2L3.5 -1.4M-3.5 -3.2L-0.6 -1.3L3.5 -2.9M-3.5 -4.8L-0.6 -2.9L3.5 -4.5M-3.5 -6.3L-0.6 -4.4L3.5 -6M-3.5 -7.9L-0.6 -6L3.5 -7.5M-3.5 -9.4L-0.6 -7.5L3.5 -9.1" class="s e3"/><path d="M-3.5 -10.7L-0.6 -8.7L3.5 -10.3L0.6 -12.2ZM-3.5 -10.7V-0.2L-0.6 1.7L3.5 0.2V-10.3M-0.6 1.7V-8.7" class="e e3"/></g>
<g transform="translate(152.6 326.5)"><polygon points="-3.5,-0.2 -0.6,1.7 -0.6,-9.8 -3.5,-11.7" fill="url(#gl3)"/><polygon points="-0.6,1.7 3.5,0.2 3.5,-11.4 -0.6,-9.8" fill="url(#gr3)"/><polygon points="-3.5,-11.7 -0.6,-9.8 3.5,-11.4 0.6,-13.3" fill="#006bb2"/><path d="M-3.5 -1.7L-0.6 0.2L3.5 -1.4M-3.5 -3.2L-0.6 -1.3L3.5 -2.9M-3.5 -4.8L-0.6 -2.9L3.5 -4.5M-3.5 -6.3L-0.6 -4.4L3.5 -6M-3.5 -7.9L-0.6 -6L3.5 -7.5M-3.5 -9.4L-0.6 -7.5L3.5 -9.1M-3.5 -10.9L-0.6 -9L3.5 -10.6" class="s e3"/><path d="M-3.5 -11.7L-0.6 -9.8L3.5 -11.4L0.6 -13.3ZM-3.5 -11.7V-0.2L-0.6 1.7L3.5 0.2V-11.4M-0.6 1.7V-9.8" class="e e3"/></g>
<g transform="translate(144.2 329.7)"><polygon points="-3.5,-0.2 -0.6,1.7 -0.6,-9.6 -3.5,-11.5" fill="url(#gl3)"/><polygon points="-0.6,1.7 3.5,0.2 3.5,-11.1 -0.6,-9.6" fill="url(#gr3)"/><polygon points="-3.5,-11.5 -0.6,-9.6 3.5,-11.1 0.6,-13" fill="#006bb2"/><path d="M-3.5 -1.7L-0.6 0.2L3.5 -1.4M-3.5 -3.2L-0.6 -1.3L3.5 -2.9M-3.5 -4.8L-0.6 -2.9L3.5 -4.5M-3.5 -6.3L-0.6 -4.4L3.5 -6M-3.5 -7.9L-0.6 -6L3.5 -7.5M-3.5 -9.4L-0.6 -7.5L3.5 -9.1M-3.5 -10.9L-0.6 -9L3.5 -10.6" class="s e3"/><path d="M-3.5 -11.5L-0.6 -9.6L3.5 -11.1L0.6 -13ZM-3.5 -11.5V-0.2L-0.6 1.7L3.5 0.2V-11.1M-0.6 1.7V-9.6" class="e e3"/></g>
<g transform="translate(135.8 332.9)"><polygon points="-3.5,-0.2 -0.6,1.7 -0.6,-13.2 -3.5,-15.1" fill="url(#gl3)"/><polygon points="-0.6,1.7 3.5,0.2 3.5,-14.8 -0.6,-13.2" fill="url(#gr3)"/><polygon points="-3.5,-15.1 -0.6,-13.2 3.5,-14.8 0.6,-16.7" fill="#006bb2"/><path d="M-3.5 -1.7L-0.6 0.2L3.5 -1.4M-3.5 -3.2L-0.6 -1.3L3.5 -2.9M-3.5 -4.8L-0.6 -2.9L3.5 -4.5M-3.5 -6.3L-0.6 -4.4L3.5 -6M-3.5 -7.9L-0.6 -6L3.5 -7.5M-3.5 -9.4L-0.6 -7.5L3.5 -9.1M-3.5 -10.9L-0.6 -9L3.5 -10.6M-3.5 -12.5L-0.6 -10.6L3.5 -12.2M-3.5 -14L-0.6 -12.1L3.5 -13.7" class="s e3"/><path d="M-3.5 -15.1L-0.6 -13.2L3.5 -14.8L0.6 -16.7ZM-3.5 -15.1V-0.2L-0.6 1.7L3.5 0.2V-14.8M-0.6 1.7V-13.2" class="e e3"/></g>
<g transform="translate(127.3 336.1)"><polygon points="-3.5,-0.2 -0.6,1.7 -0.6,-17.3 -3.5,-19.2" fill="url(#gl3)"/><polygon points="-0.6,1.7 3.5,0.2 3.5,-18.8 -0.6,-17.3" fill="url(#gr3)"/><polygon points="-3.5,-19.2 -0.6,-17.3 3.5,-18.8 0.6,-20.7" fill="#006bb2"/><path d="M-3.5 -1.7L-0.6 0.2L3.5 -1.4M-3.5 -3.2L-0.6 -1.3L3.5 -2.9M-3.5 -4.8L-0.6 -2.9L3.5 -4.5M-3.5 -6.3L-0.6 -4.4L3.5 -6M-3.5 -7.9L-0.6 -6L3.5 -7.5M-3.5 -9.4L-0.6 -7.5L3.5 -9.1M-3.5 -10.9L-0.6 -9L3.5 -10.6M-3.5 -12.5L-0.6 -10.6L3.5 -12.2M-3.5 -14L-0.6 -12.1L3.5 -13.7M-3.5 -15.6L-0.6 -13.7L3.5 -15.2M-3.5 -17.1L-0.6 -15.2L3.5 -16.8M-3.5 -18.6L-0.6 -16.7L3.5 -18.3" class="s e3"/><path d="M-3.5 -19.2L-0.6 -17.3L3.5 -18.8L0.6 -20.7ZM-3.5 -19.2V-0.2L-0.6 1.7L3.5 0.2V-18.8M-0.6 1.7V-17.3" class="e e3"/></g>
<g transform="translate(118.8 339.3)"><polygon points="-3.5,-0.2 -0.6,1.7 -0.6,-5.9 -3.5,-7.9" fill="url(#gl3)"/><polygon points="-0.6,1.7 3.5,0.2 3.5,-7.5 -0.6,-5.9" fill="url(#gr3)"/><polygon points="-3.5,-7.9 -0.6,-5.9 3.5,-7.5 0.6,-9.4" fill="#006bb2"/><path d="M-3.5 -1.7L-0.6 0.2L3.5 -1.4M-3.5 -3.2L-0.6 -1.3L3.5 -2.9M-3.5 -4.8L-0.6 -2.9L3.5 -4.5M-3.5 -6.3L-0.6 -4.4L3.5 -6" class="s e3"/><path d="M-3.5 -7.9L-0.6 -5.9L3.5 -7.5L0.6 -9.4ZM-3.5 -7.9V-0.2L-0.6 1.7L3.5 0.2V-7.5M-0.6 1.7V-5.9" class="e e3"/></g>
<g transform="translate(110.4 342.6)"><polygon points="-3.5,-0.2 -0.6,1.7 -0.6,-8.1 -3.5,-10" fill="url(#gl3)"/><polygon points="-0.6,1.7 3.5,0.2 3.5,-9.6 -0.6,-8.1" fill="url(#gr3)"/><polygon points="-3.5,-10 -0.6,-8.1 3.5,-9.6 0.6,-11.5" fill="#006bb2"/><path d="M-3.5 -1.7L-0.6 0.2L3.5 -1.4M-3.5 -3.2L-0.6 -1.3L3.5 -2.9M-3.5 -4.8L-0.6 -2.9L3.5 -4.5M-3.5 -6.3L-0.6 -4.4L3.5 -6M-3.5 -7.9L-0.6 -6L3.5 -7.5M-3.5 -9.4L-0.6 -7.5L3.5 -9.1" class="s e3"/><path d="M-3.5 -10L-0.6 -8.1L3.5 -9.6L0.6 -11.5ZM-3.5 -10V-0.2L-0.6 1.7L3.5 0.2V-9.6M-0.6 1.7V-8.1" class="e e3"/></g>
<g transform="translate(102 345.8)"><polygon points="-3.5,-0.2 -0.6,1.7 -0.6,-5.7 -3.5,-7.6" fill="url(#gl3)"/><polygon points="-0.6,1.7 3.5,0.2 3.5,-7.3 -0.6,-5.7" fill="url(#gr3)"/><polygon points="-3.5,-7.6 -0.6,-5.7 3.5,-7.3 0.6,-9.2" fill="#006bb2"/><path d="M-3.5 -1.7L-0.6 0.2L3.5 -1.4M-3.5 -3.2L-0.6 -1.3L3.5 -2.9M-3.5 -4.8L-0.6 -2.9L3.5 -4.5M-3.5 -6.3L-0.6 -4.4L3.5 -6" class="s e3"/><path d="M-3.5 -7.6L-0.6 -5.7L3.5 -7.3L0.6 -9.2ZM-3.5 -7.6V-0.2L-0.6 1.7L3.5 0.2V-7.3M-0.6 1.7V-5.7" class="e e3"/></g>
<g transform="translate(93.5 349)"><polygon points="-3.5,-0.2 -0.6,1.7 -0.6,-5.3 -3.5,-7.2" fill="url(#gl3)"/><polygon points="-0.6,1.7 3.5,0.2 3.5,-6.9 -0.6,-5.3" fill="url(#gr3)"/><polygon points="-3.5,-7.2 -0.6,-5.3 3.5,-6.9 0.6,-8.8" fill="#006bb2"/><path d="M-3.5 -1.7L-0.6 0.2L3.5 -1.4M-3.5 -3.2L-0.6 -1.3L3.5 -2.9M-3.5 -4.8L-0.6 -2.9L3.5 -4.5M-3.5 -6.3L-0.6 -4.4L3.5 -6" class="s e3"/><path d="M-3.5 -7.2L-0.6 -5.3L3.5 -6.9L0.6 -8.8ZM-3.5 -7.2V-0.2L-0.6 1.7L3.5 0.2V-6.9M-0.6 1.7V-5.3" class="e e3"/></g>
<g transform="translate(192.5 326.4)"><polygon points="-3.5,-0.2 -0.6,1.7 -0.6,-6.5 -3.5,-8.4" fill="url(#gl0)"/><polygon points="-0.6,1.7 3.5,0.2 3.5,-8.1 -0.6,-6.5" fill="url(#gr0)"/><polygon points="-3.5,-8.4 -0.6,-6.5 3.5,-8.1 0.6,-10" fill="#762c85"/><path d="M-3.5 -1.7L-0.6 0.2L3.5 -1.4M-3.5 -3.2L-0.6 -1.3L3.5 -2.9M-3.5 -4.8L-0.6 -2.9L3.5 -4.5M-3.5 -6.3L-0.6 -4.4L3.5 -6M-3.5 -7.9L-0.6 -6L3.5 -7.5" class="s e0"/><path d="M-3.5 -8.4L-0.6 -6.5L3.5 -8.1L0.6 -10ZM-3.5 -8.4V-0.2L-0.6 1.7L3.5 0.2V-8.1M-0.6 1.7V-6.5" class="e e0"/></g>
<g transform="translate(184.1 329.7)"><polygon points="-3.5,-0.2 -0.6,1.7 -0.6,-7.6 -3.5,-9.5" fill="url(#gl0)"/><polygon points="-0.6,1.7 3.5,0.2 3.5,-9.2 -0.6,-7.6" fill="url(#gr0)"/><polygon points="-3.5,-9.5 -0.6,-7.6 3.5,-9.2 0.6,-11.1" fill="#762c85"/><path d="M-3.5 -1.7L-0.6 0.2L3.5 -1.4M-3.5 -3.2L-0.6 -1.3L3.5 -2.9M-3.5 -4.8L-0.6 -2.9L3.5 -4.5M-3.5 -6.3L-0.6 -4.4L3.5 -6M-3.5 -7.9L-0.6 -6L3.5 -7.5M-3.5 -9.4L-0.6 -7.5L3.5 -9.1" class="s e0"/><path d="M-3.5 -9.5L-0.6 -7.6L3.5 -9.2L0.6 -11.1ZM-3.5 -9.5V-0.2L-0.6 1.7L3.5 0.2V-9.2M-0.6 1.7V-7.6" class="e e0"/></g>
<g transform="translate(175.6 332.9)"><polygon points="-3.5,-0.2 -0.6,1.7 -0.6,-8.9 -3.5,-10.8" fill="url(#gl0)"/><polygon points="-0.6,1.7 3.5,0.2 3.5,-10.4 -0.6,-8.9" fill="url(#gr0)"/><polygon points="-3.5,-10.8 -0.6,-8.9 3.5,-10.4 0.6,-12.3" fill="#762c85"/><path d="M-3.5 -1.7L-0.6 0.2L3.5 -1.4M-3.5 -3.2L-0.6 -1.3L3.5 -2.9M-3.5 -4.8L-0.6 -2.9L3.5 -4.5M-3.5 -6.3L-0.6 -4.4L3.5 -6M-3.5 -7.9L-0.6 -6L3.5 -7.5M-3.5 -9.4L-0.6 -7.5L3.5 -9.1" class="s e0"/><path d="M-3.5 -10.8L-0.6 -8.9L3.5 -10.4L0.6 -12.3ZM-3.5 -10.8V-0.2L-0.6 1.7L3.5 0.2V-10.4M-0.6 1.7V-8.9" class="e e0"/></g>
<g transform="translate(167.1 336.1)"><polygon points="-3.5,-0.2 -0.6,1.7 -0.6,-8.9 -3.5,-10.8" fill="url(#gl0)"/><polygon points="-0.6,1.7 3.5,0.2 3.5,-10.5 -0.6,-8.9" fill="url(#gr0)"/><polygon points="-3.5,-10.8 -0.6,-8.9 3.5,-10.5 0.6,-12.4" fill="#762c85"/><path d="M-3.5 -1.7L-0.6 0.2L3.5 -1.4M-3.5 -3.2L-0.6 -1.3L3.5 -2.9M-3.5 -4.8L-0.6 -2.9L3.5 -4.5M-3.5 -6.3L-0.6 -4.4L3.5 -6M-3.5 -7.9L-0.6 -6L3.5 -7.5M-3.5 -9.4L-0.6 -7.5L3.5 -9.1" class="s e0"/><path d="M-3.5 -10.8L-0.6 -8.9L3.5 -10.5L0.6 -12.4ZM-3.5 -10.8V-0.2L-0.6 1.7L3.5 0.2V-10.5M-0.6 1.7V-8.9" class="e e0"/></g>
<g transform="translate(158.7 339.3)"><polygon points="-3.5,-0.2 -0.6,1.7 -0.6,-12.7 -3.5,-14.6" fill="url(#gl0)"/><polygon points="-0.6,1.7 3.5,0.2 3.5,-14.2 -0.6,-12.7" fill="url(#gr0)"/><polygon points="-3.5,-14.6 -0.6,-12.7 3.5,-14.2 0.6,-16.1" fill="#762c85"/><path d="M-3.5 -1.7L-0.6 0.2L3.5 -1.4M-3.5 -3.2L-0.6 -1.3L3.5 -2.9M-3.5 -4.8L-0.6 -2.9L3.5 -4.5M-3.5 -6.3L-0.6 -4.4L3.5 -6M-3.5 -7.9L-0.6 -6L3.5 -7.5M-3.5 -9.4L-0.6 -7.5L3.5 -9.1M-3.5 -10.9L-0.6 -9L3.5 -10.6M-3.5 -12.5L-0.6 -10.6L3.5 -12.2M-3.5 -14L-0.6 -12.1L3.5 -13.7" class="s e0"/><path d="M-3.5 -14.6L-0.6 -12.7L3.5 -14.2L0.6 -16.1ZM-3.5 -14.6V-0.2L-0.6 1.7L3.5 0.2V-14.2M-0.6 1.7V-12.7" class="e e0"/></g>
<g transform="translate(150.2 342.5)"><polygon points="-3.5,-0.2 -0.6,1.7 -0.6,-14.3 -3.5,-16.2" fill="url(#gl0)"/><polygon points="-0.6,1.7 3.5,0.2 3.5,-15.9 -0.6,-14.3" fill="url(#gr0)"/><polygon points="-3.5,-16.2 -0.6,-14.3 3.5,-15.9 0.6,-17.8" fill="#762c85"/><path d="M-3.5 -1.7L-0.6 0.2L3.5 -1.4M-3.5 -3.2L-0.6 -1.3L3.5 -2.9M-3.5 -4.8L-0.6 -2.9L3.5 -4.5M-3.5 -6.3L-0.6 -4.4L3.5 -6M-3.5 -7.9L-0.6 -6L3.5 -7.5M-3.5 -9.4L-0.6 -7.5L3.5 -9.1M-3.5 -10.9L-0.6 -9L3.5 -10.6M-3.5 -12.5L-0.6 -10.6L3.5 -12.2M-3.5 -14L-0.6 -12.1L3.5 -13.7M-3.5 -15.6L-0.6 -13.7L3.5 -15.2" class="s e0"/><path d="M-3.5 -16.2L-0.6 -14.3L3.5 -15.9L0.6 -17.8ZM-3.5 -16.2V-0.2L-0.6 1.7L3.5 0.2V-15.9M-0.6 1.7V-14.3" class="e e0"/></g>
<g transform="translate(141.8 345.7)"><polygon points="-3.5,-0.2 -0.6,1.7 -0.6,-15.3 -3.5,-17.2" fill="url(#gl0)"/><polygon points="-0.6,1.7 3.5,0.2 3.5,-16.8 -0.6,-15.3" fill="url(#gr0)"/><polygon points="-3.5,-17.2 -0.6,-15.3 3.5,-16.8 0.6,-18.7" fill="#762c85"/><path d="M-3.5 -1.7L-0.6 0.2L3.5 -1.4M-3.5 -3.2L-0.6 -1.3L3.5 -2.9M-3.5 -4.8L-0.6 -2.9L3.5 -4.5M-3.5 -6.3L-0.6 -4.4L3.5 -6M-3.5 -7.9L-0.6 -6L3.5 -7.5M-3.5 -9.4L-0.6 -7.5L3.5 -9.1M-3.5 -10.9L-0.6 -9L3.5 -10.6M-3.5 -12.5L-0.6 -10.6L3.5 -12.2M-3.5 -14L-0.6 -12.1L3.5 -13.7M-3.5 -15.6L-0.6 -13.7L3.5 -15.2M-3.5 -17.1L-0.6 -15.2L3.5 -16.8" class="s e0"/><path d="M-3.5 -17.2L-0.6 -15.3L3.5 -16.8L0.6 -18.7ZM-3.5 -17.2V-0.2L-0.6 1.7L3.5 0.2V-16.8M-0.6 1.7V-15.3" class="e e0"/></g>
<g transform="translate(133.3 348.9)"><polygon points="-3.5,-0.2 -0.6,1.7 -0.6,-7.5 -3.5,-9.4" fill="url(#gl0)"/><polygon points="-0.6,1.7 3.5,0.2 3.5,-9.1 -0.6,-7.5" fill="url(#gr0)"/><polygon points="-3.5,-9.4 -0.6,-7.5 3.5,-9.1 0.6,-11" fill="#762c85"/><path d="M-3.5 -1.7L-0.6 0.2L3.5 -1.4M-3.5 -3.2L-0.6 -1.3L3.5 -2.9M-3.5 -4.8L-0.6 -2.9L3.5 -4.5M-3.5 -6.3L-0.6 -4.4L3.5 -6M-3.5 -7.9L-0.6 -6L3.5 -7.5M-3.5 -9.4L-0.6 -7.5L3.5 -9.1" class="s e0"/><path d="M-3.5 -9.4L-0.6 -7.5L3.5 -9.1L0.6 -11ZM-3.5 -9.4V-0.2L-0.6 1.7L3.5 0.2V-9.1M-0.6 1.7V-7.5" class="e e0"/></g>
<g transform="translate(124.9 352.1)"><polygon points="-3.5,-0.2 -0.6,1.7 -0.6,-7.6 -3.5,-9.5" fill="url(#gl0)"/><polygon points="-0.6,1.7 3.5,0.2 3.5,-9.1 -0.6,-7.6" fill="url(#gr0)"/><polygon points="-3.5,-9.5 -0.6,-7.6 3.5,-9.1 0.6,-11" fill="#762c85"/><path d="M-3.5 -1.7L-0.6 0.2L3.5 -1.4M-3.5 -3.2L-0.6 -1.3L3.5 -2.9M-3.5 -4.8L-0.6 -2.9L3.5 -4.5M-3.5 -6.3L-0.6 -4.4L3.5 -6M-3.5 -7.9L-0.6 -6L3.5 -7.5M-3.5 -9.4L-0.6 -7.5L3.5 -9.1" class="s e0"/><path d="M-3.5 -9.5L-0.6 -7.6L3.5 -9.1L0.6 -11ZM-3.5 -9.5V-0.2L-0.6 1.7L3.5 0.2V-9.1M-0.6 1.7V-7.6" class="e e0"/></g>
<g transform="translate(116.5 355.3)"><polygon points="-3.5,-0.2 -0.6,1.7 -0.6,-6.4 -3.5,-8.3" fill="url(#gl0)"/><polygon points="-0.6,1.7 3.5,0.2 3.5,-8 -0.6,-6.4" fill="url(#gr0)"/><polygon points="-3.5,-8.3 -0.6,-6.4 3.5,-8 0.6,-9.9" fill="#762c85"/><path d="M-3.5 -1.7L-0.6 0.2L3.5 -1.4M-3.5 -3.2L-0.6 -1.3L3.5 -2.9M-3.5 -4.8L-0.6 -2.9L3.5 -4.5M-3.5 -6.3L-0.6 -4.4L3.5 -6M-3.5 -7.9L-0.6 -6L3.5 -7.5" class="s e0"/><path d="M-3.5 -8.3L-0.6 -6.4L3.5 -8L0.6 -9.9ZM-3.5 -8.3V-0.2L-0.6 1.7L3.5 0.2V-8M-0.6 1.7V-6.4" class="e e0"/></g>
<g transform="translate(108 358.6)"><polygon points="-3.5,-0.2 -0.6,1.7 -0.6,-5.3 -3.5,-7.2" fill="url(#gl0)"/><polygon points="-0.6,1.7 3.5,0.2 3.5,-6.8 -0.6,-5.3" fill="url(#gr0)"/><polygon points="-3.5,-7.2 -0.6,-5.3 3.5,-6.8 0.6,-8.7" fill="#762c85"/><path d="M-3.5 -1.7L-0.6 0.2L3.5 -1.4M-3.5 -3.2L-0.6 -1.3L3.5 -2.9M-3.5 -4.8L-0.6 -2.9L3.5 -4.5M-3.5 -6.3L-0.6 -4.4L3.5 -6" class="s e0"/><path d="M-3.5 -7.2L-0.6 -5.3L3.5 -6.8L0.6 -8.7ZM-3.5 -7.2V-0.2L-0.6 1.7L3.5 0.2V-6.8M-0.6 1.7V-5.3" class="e e0"/></g>
<g transform="translate(198.5 330.3)"><polygon points="-3.5,-0.2 -0.6,1.7 -0.6,-6.5 -3.5,-8.4" fill="url(#gl1)"/><polygon points="-0.6,1.7 3.5,0.2 3.5,-8.1 -0.6,-6.5" fill="url(#gr1)"/><polygon points="-3.5,-8.4 -0.6,-6.5 3.5,-8.1 0.6,-10" fill="#dfa61e"/><path d="M-3.5 -1.7L-0.6 0.2L3.5 -1.4M-3.5 -3.2L-0.6 -1.3L3.5 -2.9M-3.5 -4.8L-0.6 -2.9L3.5 -4.5M-3.5 -6.3L-0.6 -4.4L3.5 -6M-3.5 -7.9L-0.6 -6L3.5 -7.5" class="s e1"/><path d="M-3.5 -8.4L-0.6 -6.5L3.5 -8.1L0.6 -10ZM-3.5 -8.4V-0.2L-0.6 1.7L3.5 0.2V-8.1M-0.6 1.7V-6.5" class="e e1"/></g>
<g transform="translate(190.1 333.6)"><polygon points="-3.5,-0.2 -0.6,1.7 -0.6,-7.6 -3.5,-9.5" fill="url(#gl1)"/><polygon points="-0.6,1.7 3.5,0.2 3.5,-9.2 -0.6,-7.6" fill="url(#gr1)"/><polygon points="-3.5,-9.5 -0.6,-7.6 3.5,-9.2 0.6,-11.1" fill="#dfa61e"/><path d="M-3.5 -1.7L-0.6 0.2L3.5 -1.4M-3.5 -3.2L-0.6 -1.3L3.5 -2.9M-3.5 -4.8L-0.6 -2.9L3.5 -4.5M-3.5 -6.3L-0.6 -4.4L3.5 -6M-3.5 -7.9L-0.6 -6L3.5 -7.5M-3.5 -9.4L-0.6 -7.5L3.5 -9.1" class="s e1"/><path d="M-3.5 -9.5L-0.6 -7.6L3.5 -9.2L0.6 -11.1ZM-3.5 -9.5V-0.2L-0.6 1.7L3.5 0.2V-9.2M-0.6 1.7V-7.6" class="e e1"/></g>
<g transform="translate(181.6 336.8)"><polygon points="-3.5,-0.2 -0.6,1.7 -0.6,-9 -3.5,-10.9" fill="url(#gl1)"/><polygon points="-0.6,1.7 3.5,0.2 3.5,-10.6 -0.6,-9" fill="url(#gr1)"/><polygon points="-3.5,-10.9 -0.6,-9 3.5,-10.6 0.6,-12.5" fill="#dfa61e"/><path d="M-3.5 -1.7L-0.6 0.2L3.5 -1.4M-3.5 -3.2L-0.6 -1.3L3.5 -2.9M-3.5 -4.8L-0.6 -2.9L3.5 -4.5M-3.5 -6.3L-0.6 -4.4L3.5 -6M-3.5 -7.9L-0.6 -6L3.5 -7.5M-3.5 -9.4L-0.6 -7.5L3.5 -9.1" class="s e1"/><path d="M-3.5 -10.9L-0.6 -9L3.5 -10.6L0.6 -12.5ZM-3.5 -10.9V-0.2L-0.6 1.7L3.5 0.2V-10.6M-0.6 1.7V-9" class="e e1"/></g>
<g transform="translate(173.1 340)"><polygon points="-3.5,-0.2 -0.6,1.7 -0.6,-8.6 -3.5,-10.5" fill="url(#gl1)"/><polygon points="-0.6,1.7 3.5,0.2 3.5,-10.2 -0.6,-8.6" fill="url(#gr1)"/><polygon points="-3.5,-10.5 -0.6,-8.6 3.5,-10.2 0.6,-12.1" fill="#dfa61e"/><path d="M-3.5 -1.7L-0.6 0.2L3.5 -1.4M-3.5 -3.2L-0.6 -1.3L3.5 -2.9M-3.5 -4.8L-0.6 -2.9L3.5 -4.5M-3.5 -6.3L-0.6 -4.4L3.5 -6M-3.5 -7.9L-0.6 -6L3.5 -7.5M-3.5 -9.4L-0.6 -7.5L3.5 -9.1" class="s e1"/><path d="M-3.5 -10.5L-0.6 -8.6L3.5 -10.2L0.6 -12.1ZM-3.5 -10.5V-0.2L-0.6 1.7L3.5 0.2V-10.2M-0.6 1.7V-8.6" class="e e1"/></g>
<g transform="translate(164.7 343.2)"><polygon points="-3.5,-0.2 -0.6,1.7 -0.6,-10.3 -3.5,-12.2" fill="url(#gl1)"/><polygon points="-0.6,1.7 3.5,0.2 3.5,-11.8 -0.6,-10.3" fill="url(#gr1)"/><polygon points="-3.5,-12.2 -0.6,-10.3 3.5,-11.8 0.6,-13.7" fill="#dfa61e"/><path d="M-3.5 -1.7L-0.6 0.2L3.5 -1.4M-3.5 -3.2L-0.6 -1.3L3.5 -2.9M-3.5 -4.8L-0.6 -2.9L3.5 -4.5M-3.5 -6.3L-0.6 -4.4L3.5 -6M-3.5 -7.9L-0.6 -6L3.5 -7.5M-3.5 -9.4L-0.6 -7.5L3.5 -9.1M-3.5 -10.9L-0.6 -9L3.5 -10.6" class="s e1"/><path d="M-3.5 -12.2L-0.6 -10.3L3.5 -11.8L0.6 -13.7ZM-3.5 -12.2V-0.2L-0.6 1.7L3.5 0.2V-11.8M-0.6 1.7V-10.3" class="e e1"/></g>
<g transform="translate(156.2 346.4)"><polygon points="-3.5,-0.2 -0.6,1.7 -0.6,-14.2 -3.5,-16.1" fill="url(#gl1)"/><polygon points="-0.6,1.7 3.5,0.2 3.5,-15.8 -0.6,-14.2" fill="url(#gr1)"/><polygon points="-3.5,-16.1 -0.6,-14.2 3.5,-15.8 0.6,-17.7" fill="#dfa61e"/><path d="M-3.5 -1.7L-0.6 0.2L3.5 -1.4M-3.5 -3.2L-0.6 -1.3L3.5 -2.9M-3.5 -4.8L-0.6 -2.9L3.5 -4.5M-3.5 -6.3L-0.6 -4.4L3.5 -6M-3.5 -7.9L-0.6 -6L3.5 -7.5M-3.5 -9.4L-0.6 -7.5L3.5 -9.1M-3.5 -10.9L-0.6 -9L3.5 -10.6M-3.5 -12.5L-0.6 -10.6L3.5 -12.2M-3.5 -14L-0.6 -12.1L3.5 -13.7M-3.5 -15.6L-0.6 -13.7L3.5 -15.2" class="s e1"/><path d="M-3.5 -16.1L-0.6 -14.2L3.5 -15.8L0.6 -17.7ZM-3.5 -16.1V-0.2L-0.6 1.7L3.5 0.2V-15.8M-0.6 1.7V-14.2" class="e e1"/></g>
<g transform="translate(147.8 349.6)"><polygon points="-3.5,-0.2 -0.6,1.7 -0.6,-15 -3.5,-16.9" fill="url(#gl1)"/><polygon points="-0.6,1.7 3.5,0.2 3.5,-16.5 -0.6,-15" fill="url(#gr1)"/><polygon points="-3.5,-16.9 -0.6,-15 3.5,-16.5 0.6,-18.4" fill="#dfa61e"/><path d="M-3.5 -1.7L-0.6 0.2L3.5 -1.4M-3.5 -3.2L-0.6 -1.3L3.5 -2.9M-3.5 -4.8L-0.6 -2.9L3.5 -4.5M-3.5 -6.3L-0.6 -4.4L3.5 -6M-3.5 -7.9L-0.6 -6L3.5 -7.5M-3.5 -9.4L-0.6 -7.5L3.5 -9.1M-3.5 -10.9L-0.6 -9L3.5 -10.6M-3.5 -12.5L-0.6 -10.6L3.5 -12.2M-3.5 -14L-0.6 -12.1L3.5 -13.7M-3.5 -15.6L-0.6 -13.7L3.5 -15.2" class="s e1"/><path d="M-3.5 -16.9L-0.6 -15L3.5 -16.5L0.6 -18.4ZM-3.5 -16.9V-0.2L-0.6 1.7L3.5 0.2V-16.5M-0.6 1.7V-15" class="e e1"/></g>
<g transform="translate(139.3 352.8)"><polygon points="-3.5,-0.2 -0.6,1.7 -0.6,-8.9 -3.5,-10.8" fill="url(#gl1)"/><polygon points="-0.6,1.7 3.5,0.2 3.5,-10.4 -0.6,-8.9" fill="url(#gr1)"/><polygon points="-3.5,-10.8 -0.6,-8.9 3.5,-10.4 0.6,-12.4" fill="#dfa61e"/><path d="M-3.5 -1.7L-0.6 0.2L3.5 -1.4M-3.5 -3.2L-0.6 -1.3L3.5 -2.9M-3.5 -4.8L-0.6 -2.9L3.5 -4.5M-3.5 -6.3L-0.6 -4.4L3.5 -6M-3.5 -7.9L-0.6 -6L3.5 -7.5M-3.5 -9.4L-0.6 -7.5L3.5 -9.1" class="s e1"/><path d="M-3.5 -10.8L-0.6 -8.9L3.5 -10.4L0.6 -12.4ZM-3.5 -10.8V-0.2L-0.6 1.7L3.5 0.2V-10.4M-0.6 1.7V-8.9" class="e e1"/></g>
<g transform="translate(130.9 356)"><polygon points="-3.5,-0.2 -0.6,1.7 -0.6,-7 -3.5,-8.9" fill="url(#gl1)"/><polygon points="-0.6,1.7 3.5,0.2 3.5,-8.5 -0.6,-7" fill="url(#gr1)"/><polygon points="-3.5,-8.9 -0.6,-7 3.5,-8.5 0.6,-10.5" fill="#dfa61e"/><path d="M-3.5 -1.7L-0.6 0.2L3.5 -1.4M-3.5 -3.2L-0.6 -1.3L3.5 -2.9M-3.5 -4.8L-0.6 -2.9L3.5 -4.5M-3.5 -6.3L-0.6 -4.4L3.5 -6M-3.5 -7.9L-0.6 -6L3.5 -7.5" class="s e1"/><path d="M-3.5 -8.9L-0.6 -7L3.5 -8.5L0.6 -10.5ZM-3.5 -8.9V-0.2L-0.6 1.7L3.5 0.2V-8.5M-0.6 1.7V-7" class="e e1"/></g>
<g transform="translate(122.5 359.2)"><polygon points="-3.5,-0.2 -0.6,1.7 -0.6,-6 -3.5,-7.9" fill="url(#gl1)"/><polygon points="-0.6,1.7 3.5,0.2 3.5,-7.5 -0.6,-6" fill="url(#gr1)"/><polygon points="-3.5,-7.9 -0.6,-6 3.5,-7.5 0.6,-9.4" fill="#dfa61e"/><path d="M-3.5 -1.7L-0.6 0.2L3.5 -1.4M-3.5 -3.2L-0.6 -1.3L3.5 -2.9M-3.5 -4.8L-0.6 -2.9L3.5 -4.5M-3.5 -6.3L-0.6 -4.4L3.5 -6" class="s e1"/><path d="M-3.5 -7.9L-0.6 -6L3.5 -7.5L0.6 -9.4ZM-3.5 -7.9V-0.2L-0.6 1.7L3.5 0.2V-7.5M-0.6 1.7V-6" class="e e1"/></g>
<g transform="translate(114 362.4)"><polygon points="-3.5,-0.2 -0.6,1.7 -0.6,-4.8 -3.5,-6.7" fill="url(#gl1)"/><polygon points="-0.6,1.7 3.5,0.2 3.5,-6.4 -0.6,-4.8" fill="url(#gr1)"/><polygon points="-3.5,-6.7 -0.6,-4.8 3.5,-6.4 0.6,-8.3" fill="#dfa61e"/><path d="M-3.5 -1.7L-0.6 0.2L3.5 -1.4M-3.5 -3.2L-0.6 -1.3L3.5 -2.9M-3.5 -4.8L-0.6 -2.9L3.5 -4.5M-3.5 -6.3L-0.6 -4.4L3.5 -6" class="s e1"/><path d="M-3.5 -6.7L-0.6 -4.8L3.5 -6.4L0.6 -8.3ZM-3.5 -6.7V-0.2L-0.6 1.7L3.5 0.2V-6.4M-0.6 1.7V-4.8" class="e e1"/></g>
<g transform="translate(204.5 334.2)"><polygon points="-3.5,-0.2 -0.6,1.7 -0.6,-6.5 -3.5,-8.4" fill="url(#gl2)"/><polygon points="-0.6,1.7 3.5,0.2 3.5,-8.1 -0.6,-6.5" fill="url(#gr2)"/><polygon points="-3.5,-8.4 -0.6,-6.5 3.5,-8.1 0.6,-10" fill="#cc4e18"/><path d="M-3.5 -1.7L-0.6 0.2L3.5 -1.4M-3.5 -3.2L-0.6 -1.3L3.5 -2.9M-3.5 -4.8L-0.6 -2.9L3.5 -4.5M-3.5 -6.3L-0.6 -4.4L3.5 -6M-3.5 -7.9L-0.6 -6L3.5 -7.5" class="s e2"/><path d="M-3.5 -8.4L-0.6 -6.5L3.5 -8.1L0.6 -10ZM-3.5 -8.4V-0.2L-0.6 1.7L3.5 0.2V-8.1M-0.6 1.7V-6.5" class="e e2"/></g>
<g transform="translate(196.1 337.4)"><polygon points="-3.5,-0.2 -0.6,1.7 -0.6,-7.6 -3.5,-9.5" fill="url(#gl2)"/><polygon points="-0.6,1.7 3.5,0.2 3.5,-9.2 -0.6,-7.6" fill="url(#gr2)"/><polygon points="-3.5,-9.5 -0.6,-7.6 3.5,-9.2 0.6,-11.1" fill="#cc4e18"/><path d="M-3.5 -1.7L-0.6 0.2L3.5 -1.4M-3.5 -3.2L-0.6 -1.3L3.5 -2.9M-3.5 -4.8L-0.6 -2.9L3.5 -4.5M-3.5 -6.3L-0.6 -4.4L3.5 -6M-3.5 -7.9L-0.6 -6L3.5 -7.5M-3.5 -9.4L-0.6 -7.5L3.5 -9.1" class="s e2"/><path d="M-3.5 -9.5L-0.6 -7.6L3.5 -9.2L0.6 -11.1ZM-3.5 -9.5V-0.2L-0.6 1.7L3.5 0.2V-9.2M-0.6 1.7V-7.6" class="e e2"/></g>
<g transform="translate(187.6 340.6)"><polygon points="-3.5,-0.2 -0.6,1.7 -0.6,-8.5 -3.5,-10.5" fill="url(#gl2)"/><polygon points="-0.6,1.7 3.5,0.2 3.5,-10.1 -0.6,-8.5" fill="url(#gr2)"/><polygon points="-3.5,-10.5 -0.6,-8.5 3.5,-10.1 0.6,-12" fill="#cc4e18"/><path d="M-3.5 -1.7L-0.6 0.2L3.5 -1.4M-3.5 -3.2L-0.6 -1.3L3.5 -2.9M-3.5 -4.8L-0.6 -2.9L3.5 -4.5M-3.5 -6.3L-0.6 -4.4L3.5 -6M-3.5 -7.9L-0.6 -6L3.5 -7.5M-3.5 -9.4L-0.6 -7.5L3.5 -9.1" class="s e2"/><path d="M-3.5 -10.5L-0.6 -8.5L3.5 -10.1L0.6 -12ZM-3.5 -10.5V-0.2L-0.6 1.7L3.5 0.2V-10.1M-0.6 1.7V-8.5" class="e e2"/></g>
<g transform="translate(179.1 343.9)"><polygon points="-3.5,-0.2 -0.6,1.7 -0.6,-9.3 -3.5,-11.2" fill="url(#gl2)"/><polygon points="-0.6,1.7 3.5,0.2 3.5,-10.9 -0.6,-9.3" fill="url(#gr2)"/><polygon points="-3.5,-11.2 -0.6,-9.3 3.5,-10.9 0.6,-12.8" fill="#cc4e18"/><path d="M-3.5 -1.7L-0.6 0.2L3.5 -1.4M-3.5 -3.2L-0.6 -1.3L3.5 -2.9M-3.5 -4.8L-0.6 -2.9L3.5 -4.5M-3.5 -6.3L-0.6 -4.4L3.5 -6M-3.5 -7.9L-0.6 -6L3.5 -7.5M-3.5 -9.4L-0.6 -7.5L3.5 -9.1M-3.5 -10.9L-0.6 -9L3.5 -10.6" class="s e2"/><path d="M-3.5 -11.2L-0.6 -9.3L3.5 -10.9L0.6 -12.8ZM-3.5 -11.2V-0.2L-0.6 1.7L3.5 0.2V-10.9M-0.6 1.7V-9.3" class="e e2"/></g>
<g transform="translate(170.7 347.1)"><polygon points="-3.5,-0.2 -0.6,1.7 -0.6,-11.6 -3.5,-13.5" fill="url(#gl2)"/><polygon points="-0.6,1.7 3.5,0.2 3.5,-13.2 -0.6,-11.6" fill="url(#gr2)"/><polygon points="-3.5,-13.5 -0.6,-11.6 3.5,-13.2 0.6,-15.1" fill="#cc4e18"/><path d="M-3.5 -1.7L-0.6 0.2L3.5 -1.4M-3.5 -3.2L-0.6 -1.3L3.5 -2.9M-3.5 -4.8L-0.6 -2.9L3.5 -4.5M-3.5 -6.3L-0.6 -4.4L3.5 -6M-3.5 -7.9L-0.6 -6L3.5 -7.5M-3.5 -9.4L-0.6 -7.5L3.5 -9.1M-3.5 -10.9L-0.6 -9L3.5 -10.6M-3.5 -12.5L-0.6 -10.6L3.5 -12.2" class="s e2"/><path d="M-3.5 -13.5L-0.6 -11.6L3.5 -13.2L0.6 -15.1ZM-3.5 -13.5V-0.2L-0.6 1.7L3.5 0.2V-13.2M-0.6 1.7V-11.6" class="e e2"/></g>
<g transform="translate(162.2 350.3)"><polygon points="-3.5,-0.2 -0.6,1.7 -0.6,-15.4 -3.5,-17.3" fill="url(#gl2)"/><polygon points="-0.6,1.7 3.5,0.2 3.5,-16.9 -0.6,-15.4" fill="url(#gr2)"/><polygon points="-3.5,-17.3 -0.6,-15.4 3.5,-16.9 0.6,-18.8" fill="#cc4e18"/><path d="M-3.5 -1.7L-0.6 0.2L3.5 -1.4M-3.5 -3.2L-0.6 -1.3L3.5 -2.9M-3.5 -4.8L-0.6 -2.9L3.5 -4.5M-3.5 -6.3L-0.6 -4.4L3.5 -6M-3.5 -7.9L-0.6 -6L3.5 -7.5M-3.5 -9.4L-0.6 -7.5L3.5 -9.1M-3.5 -10.9L-0.6 -9L3.5 -10.6M-3.5 -12.5L-0.6 -10.6L3.5 -12.2M-3.5 -14L-0.6 -12.1L3.5 -13.7M-3.5 -15.6L-0.6 -13.7L3.5 -15.2M-3.5 -17.1L-0.6 -15.2L3.5 -16.8" class="s e2"/><path d="M-3.5 -17.3L-0.6 -15.4L3.5 -16.9L0.6 -18.8ZM-3.5 -17.3V-0.2L-0.6 1.7L3.5 0.2V-16.9M-0.6 1.7V-15.4" class="e e2"/></g>
<g transform="translate(153.8 353.5)"><polygon points="-3.5,-0.2 -0.6,1.7 -0.6,-15.1 -3.5,-17" fill="url(#gl2)"/><polygon points="-0.6,1.7 3.5,0.2 3.5,-16.7 -0.6,-15.1" fill="url(#gr2)"/><polygon points="-3.5,-17 -0.6,-15.1 3.5,-16.7 0.6,-18.6" fill="#cc4e18"/><path d="M-3.5 -1.7L-0.6 0.2L3.5 -1.4M-3.5 -3.2L-0.6 -1.3L3.5 -2.9M-3.5 -4.8L-0.6 -2.9L3.5 -4.5M-3.5 -6.3L-0.6 -4.4L3.5 -6M-3.5 -7.9L-0.6 -6L3.5 -7.5M-3.5 -9.4L-0.6 -7.5L3.5 -9.1M-3.5 -10.9L-0.6 -9L3.5 -10.6M-3.5 -12.5L-0.6 -10.6L3.5 -12.2M-3.5 -14L-0.6 -12.1L3.5 -13.7M-3.5 -15.6L-0.6 -13.7L3.5 -15.2" class="s e2"/><path d="M-3.5 -17L-0.6 -15.1L3.5 -16.7L0.6 -18.6ZM-3.5 -17V-0.2L-0.6 1.7L3.5 0.2V-16.7M-0.6 1.7V-15.1" class="e e2"/></g>
<g transform="translate(145.3 356.7)"><polygon points="-3.5,-0.2 -0.6,1.7 -0.6,-7.5 -3.5,-9.4" fill="url(#gl2)"/><polygon points="-0.6,1.7 3.5,0.2 3.5,-9.1 -0.6,-7.5" fill="url(#gr2)"/><polygon points="-3.5,-9.4 -0.6,-7.5 3.5,-9.1 0.6,-11" fill="#cc4e18"/><path d="M-3.5 -1.7L-0.6 0.2L3.5 -1.4M-3.5 -3.2L-0.6 -1.3L3.5 -2.9M-3.5 -4.8L-0.6 -2.9L3.5 -4.5M-3.5 -6.3L-0.6 -4.4L3.5 -6M-3.5 -7.9L-0.6 -6L3.5 -7.5M-3.5 -9.4L-0.6 -7.5L3.5 -9.1" class="s e2"/><path d="M-3.5 -9.4L-0.6 -7.5L3.5 -9.1L0.6 -11ZM-3.5 -9.4V-0.2L-0.6 1.7L3.5 0.2V-9.1M-0.6 1.7V-7.5" class="e e2"/></g>
<g transform="translate(136.9 359.9)"><polygon points="-3.5,-0.2 -0.6,1.7 -0.6,-6.5 -3.5,-8.4" fill="url(#gl2)"/><polygon points="-0.6,1.7 3.5,0.2 3.5,-8.1 -0.6,-6.5" fill="url(#gr2)"/><polygon points="-3.5,-8.4 -0.6,-6.5 3.5,-8.1 0.6,-10" fill="#cc4e18"/><path d="M-3.5 -1.7L-0.6 0.2L3.5 -1.4M-3.5 -3.2L-0.6 -1.3L3.5 -2.9M-3.5 -4.8L-0.6 -2.9L3.5 -4.5M-3.5 -6.3L-0.6 -4.4L3.5 -6M-3.5 -7.9L-0.6 -6L3.5 -7.5" class="s e2"/><path d="M-3.5 -8.4L-0.6 -6.5L3.5 -8.1L0.6 -10ZM-3.5 -8.4V-0.2L-0.6 1.7L3.5 0.2V-8.1M-0.6 1.7V-6.5" class="e e2"/></g>
<g transform="translate(128.4 363.1)"><polygon points="-3.5,-0.2 -0.6,1.7 -0.6,-5.8 -3.5,-7.7" fill="url(#gl2)"/><polygon points="-0.6,1.7 3.5,0.2 3.5,-7.4 -0.6,-5.8" fill="url(#gr2)"/><polygon points="-3.5,-7.7 -0.6,-5.8 3.5,-7.4 0.6,-9.3" fill="#cc4e18"/><path d="M-3.5 -1.7L-0.6 0.2L3.5 -1.4M-3.5 -3.2L-0.6 -1.3L3.5 -2.9M-3.5 -4.8L-0.6 -2.9L3.5 -4.5M-3.5 -6.3L-0.6 -4.4L3.5 -6" class="s e2"/><path d="M-3.5 -7.7L-0.6 -5.8L3.5 -7.4L0.6 -9.3ZM-3.5 -7.7V-0.2L-0.6 1.7L3.5 0.2V-7.4M-0.6 1.7V-5.8" class="e e2"/></g>
<g transform="translate(120 366.3)"><polygon points="-3.5,-0.2 -0.6,1.7 -0.6,-4.7 -3.5,-6.6" fill="url(#gl2)"/><polygon points="-0.6,1.7 3.5,0.2 3.5,-6.2 -0.6,-4.7" fill="url(#gr2)"/><polygon points="-3.5,-6.6 -0.6,-4.7 3.5,-6.2 0.6,-8.1" fill="#cc4e18"/><path d="M-3.5 -1.7L-0.6 0.2L3.5 -1.4M-3.5 -3.2L-0.6 -1.3L3.5 -2.9M-3.5 -4.8L-0.6 -2.9L3.5 -4.5M-3.5 -6.3L-0.6 -4.4L3.5 -6" class="s e2"/><path d="M-3.5 -6.6L-0.6 -4.7L3.5 -6.2L0.6 -8.1ZM-3.5 -6.6V-0.2L-0.6 1.7L3.5 0.2V-6.2M-0.6 1.7V-4.7" class="e e2"/></g>
<g transform="translate(210.5 338.1)"><polygon points="-3.5,-0.2 -0.6,1.7 -0.6,-6.5 -3.5,-8.4" fill="url(#gl3)"/><polygon points="-0.6,1.7 3.5,0.2 3.5,-8.1 -0.6,-6.5" fill="url(#gr3)"/><polygon points="-3.5,-8.4 -0.6,-6.5 3.5,-8.1 0.6,-10" fill="#006bb2"/><path d="M-3.5 -1.7L-0.6 0.2L3.5 -1.4M-3.5 -3.2L-0.6 -1.3L3.5 -2.9M-3.5 -4.8L-0.6 -2.9L3.5 -4.5M-3.5 -6.3L-0.6 -4.4L3.5 -6M-3.5 -7.9L-0.6 -6L3.5 -7.5" class="s e3"/><path d="M-3.5 -8.4L-0.6 -6.5L3.5 -8.1L0.6 -10ZM-3.5 -8.4V-0.2L-0.6 1.7L3.5 0.2V-8.1M-0.6 1.7V-6.5" class="e e3"/></g>
<g transform="translate(202.1 341.3)"><polygon points="-3.5,-0.2 -0.6,1.7 -0.6,-7.6 -3.5,-9.5" fill="url(#gl3)"/><polygon points="-0.6,1.7 3.5,0.2 3.5,-9.2 -0.6,-7.6" fill="url(#gr3)"/><polygon points="-3.5,-9.5 -0.6,-7.6 3.5,-9.2 0.6,-11.1" fill="#006bb2"/><path d="M-3.5 -1.7L-0.6 0.2L3.5 -1.4M-3.5 -3.2L-0.6 -1.3L3.5 -2.9M-3.5 -4.8L-0.6 -2.9L3.5 -4.5M-3.5 -6.3L-0.6 -4.4L3.5 -6M-3.5 -7.9L-0.6 -6L3.5 -7.5M-3.5 -9.4L-0.6 -7.5L3.5 -9.1" class="s e3"/><path d="M-3.5 -9.5L-0.6 -7.6L3.5 -9.2L0.6 -11.1ZM-3.5 -9.5V-0.2L-0.6 1.7L3.5 0.2V-9.2M-0.6 1.7V-7.6" class="e e3"/></g>
<g transform="translate(193.6 344.5)"><polygon points="-3.5,-0.2 -0.6,1.7 -0.6,-8.5 -3.5,-10.5" fill="url(#gl3)"/><polygon points="-0.6,1.7 3.5,0.2 3.5,-10.1 -0.6,-8.5" fill="url(#gr3)"/><polygon points="-3.5,-10.5 -0.6,-8.5 3.5,-10.1 0.6,-12" fill="#006bb2"/><path d="M-3.5 -1.7L-0.6 0.2L3.5 -1.4M-3.5 -3.2L-0.6 -1.3L3.5 -2.9M-3.5 -4.8L-0.6 -2.9L3.5 -4.5M-3.5 -6.3L-0.6 -4.4L3.5 -6M-3.5 -7.9L-0.6 -6L3.5 -7.5M-3.5 -9.4L-0.6 -7.5L3.5 -9.1" class="s e3"/><path d="M-3.5 -10.5L-0.6 -8.5L3.5 -10.1L0.6 -12ZM-3.5 -10.5V-0.2L-0.6 1.7L3.5 0.2V-10.1M-0.6 1.7V-8.5" class="e e3"/></g>
<g transform="translate(185.1 347.8)"><polygon points="-3.5,-0.2 -0.6,1.7 -0.6,-9 -3.5,-10.9" fill="url(#gl3)"/><polygon points="-0.6,1.7 3.5,0.2 3.5,-10.6 -0.6,-9" fill="url(#gr3)"/><polygon points="-3.5,-10.9 -0.6,-9 3.5,-10.6 0.6,-12.5" fill="#006bb2"/><path d="M-3.5 -1.7L-0.6 0.2L3.5 -1.4M-3.5 -3.2L-0.6 -1.3L3.5 -2.9M-3.5 -4.8L-0.6 -2.9L3.5 -4.5M-3.5 -6.3L-0.6 -4.4L3.5 -6M-3.5 -7.9L-0.6 -6L3.5 -7.5M-3.5 -9.4L-0.6 -7.5L3.5 -9.1" class="s e3"/><path d="M-3.5 -10.9L-0.6 -9L3.5 -10.6L0.6 -12.5ZM-3.5 -10.9V-0.2L-0.6 1.7L3.5 0.2V-10.6M-0.6 1.7V-9" class="e e3"/></g>
<g transform="translate(176.7 351)"><polygon points="-3.5,-0.2 -0.6,1.7 -0.6,-11.5 -3.5,-13.4" fill="url(#gl3)"/><polygon points="-0.6,1.7 3.5,0.2 3.5,-13 -0.6,-11.5" fill="url(#gr3)"/><polygon points="-3.5,-13.4 -0.6,-11.5 3.5,-13 0.6,-14.9" fill="#006bb2"/><path d="M-3.5 -1.7L-0.6 0.2L3.5 -1.4M-3.5 -3.2L-0.6 -1.3L3.5 -2.9M-3.5 -4.8L-0.6 -2.9L3.5 -4.5M-3.5 -6.3L-0.6 -4.4L3.5 -6M-3.5 -7.9L-0.6 -6L3.5 -7.5M-3.5 -9.4L-0.6 -7.5L3.5 -9.1M-3.5 -10.9L-0.6 -9L3.5 -10.6M-3.5 -12.5L-0.6 -10.6L3.5 -12.2" class="s e3"/><path d="M-3.5 -13.4L-0.6 -11.5L3.5 -13L0.6 -14.9ZM-3.5 -13.4V-0.2L-0.6 1.7L3.5 0.2V-13M-0.6 1.7V-11.5" class="e e3"/></g>
<g transform="translate(168.2 354.2)"><polygon points="-3.5,-0.2 -0.6,1.7 -0.6,-14.6 -3.5,-16.5" fill="url(#gl3)"/><polygon points="-0.6,1.7 3.5,0.2 3.5,-16.2 -0.6,-14.6" fill="url(#gr3)"/><polygon points="-3.5,-16.5 -0.6,-14.6 3.5,-16.2 0.6,-18.1" fill="#006bb2"/><path d="M-3.5 -1.7L-0.6 0.2L3.5 -1.4M-3.5 -3.2L-0.6 -1.3L3.5 -2.9M-3.5 -4.8L-0.6 -2.9L3.5 -4.5M-3.5 -6.3L-0.6 -4.4L3.5 -6M-3.5 -7.9L-0.6 -6L3.5 -7.5M-3.5 -9.4L-0.6 -7.5L3.5 -9.1M-3.5 -10.9L-0.6 -9L3.5 -10.6M-3.5 -12.5L-0.6 -10.6L3.5 -12.2M-3.5 -14L-0.6 -12.1L3.5 -13.7M-3.5 -15.6L-0.6 -13.7L3.5 -15.2" class="s e3"/><path d="M-3.5 -16.5L-0.6 -14.6L3.5 -16.2L0.6 -18.1ZM-3.5 -16.5V-0.2L-0.6 1.7L3.5 0.2V-16.2M-0.6 1.7V-14.6" class="e e3"/></g>
<g transform="translate(159.8 357.4)"><polygon points="-3.5,-0.2 -0.6,1.7 -0.6,-15.4 -3.5,-17.3" fill="url(#gl3)"/><polygon points="-0.6,1.7 3.5,0.2 3.5,-17 -0.6,-15.4" fill="url(#gr3)"/><polygon points="-3.5,-17.3 -0.6,-15.4 3.5,-17 0.6,-18.9" fill="#006bb2"/><path d="M-3.5 -1.7L-0.6 0.2L3.5 -1.4M-3.5 -3.2L-0.6 -1.3L3.5 -2.9M-3.5 -4.8L-0.6 -2.9L3.5 -4.5M-3.5 -6.3L-0.6 -4.4L3.5 -6M-3.5 -7.9L-0.6 -6L3.5 -7.5M-3.5 -9.4L-0.6 -7.5L3.5 -9.1M-3.5 -10.9L-0.6 -9L3.5 -10.6M-3.5 -12.5L-0.6 -10.6L3.5 -12.2M-3.5 -14L-0.6 -12.1L3.5 -13.7M-3.5 -15.6L-0.6 -13.7L3.5 -15.2M-3.5 -17.1L-0.6 -15.2L3.5 -16.8" class="s e3"/><path d="M-3.5 -17.3L-0.6 -15.4L3.5 -17L0.6 -18.9ZM-3.5 -17.3V-0.2L-0.6 1.7L3.5 0.2V-17M-0.6 1.7V-15.4" class="e e3"/></g>
<g transform="translate(151.3 360.6)"><polygon points="-3.5,-0.2 -0.6,1.7 -0.6,-7.2 -3.5,-9.1" fill="url(#gl3)"/><polygon points="-0.6,1.7 3.5,0.2 3.5,-8.8 -0.6,-7.2" fill="url(#gr3)"/><polygon points="-3.5,-9.1 -0.6,-7.2 3.5,-8.8 0.6,-10.7" fill="#006bb2"/><path d="M-3.5 -1.7L-0.6 0.2L3.5 -1.4M-3.5 -3.2L-0.6 -1.3L3.5 -2.9M-3.5 -4.8L-0.6 -2.9L3.5 -4.5M-3.5 -6.3L-0.6 -4.4L3.5 -6M-3.5 -7.9L-0.6 -6L3.5 -7.5" class="s e3"/><path d="M-3.5 -9.1L-0.6 -7.2L3.5 -8.8L0.6 -10.7ZM-3.5 -9.1V-0.2L-0.6 1.7L3.5 0.2V-8.8M-0.6 1.7V-7.2" class="e e3"/></g>
<g transform="translate(142.9 363.8)"><polygon points="-3.5,-0.2 -0.6,1.7 -0.6,-6.5 -3.5,-8.4" fill="url(#gl3)"/><polygon points="-0.6,1.7 3.5,0.2 3.5,-8.1 -0.6,-6.5" fill="url(#gr3)"/><polygon points="-3.5,-8.4 -0.6,-6.5 3.5,-8.1 0.6,-10" fill="#006bb2"/><path d="M-3.5 -1.7L-0.6 0.2L3.5 -1.4M-3.5 -3.2L-0.6 -1.3L3.5 -2.9M-3.5 -4.8L-0.6 -2.9L3.5 -4.5M-3.5 -6.3L-0.6 -4.4L3.5 -6M-3.5 -7.9L-0.6 -6L3.5 -7.5" class="s e3"/><path d="M-3.5 -8.4L-0.6 -6.5L3.5 -8.1L0.6 -10ZM-3.5 -8.4V-0.2L-0.6 1.7L3.5 0.2V-8.1M-0.6 1.7V-6.5" class="e e3"/></g>
<g transform="translate(134.4 367)"><polygon points="-3.5,-0.2 -0.6,1.7 -0.6,-6 -3.5,-7.9" fill="url(#gl3)"/><polygon points="-0.6,1.7 3.5,0.2 3.5,-7.5 -0.6,-6" fill="url(#gr3)"/><polygon points="-3.5,-7.9 -0.6,-6 3.5,-7.5 0.6,-9.4" fill="#006bb2"/><path d="M-3.5 -1.7L-0.6 0.2L3.5 -1.4M-3.5 -3.2L-0.6 -1.3L3.5 -2.9M-3.5 -4.8L-0.6 -2.9L3.5 -4.5M-3.5 -6.3L-0.6 -4.4L3.5 -6" class="s e3"/><path d="M-3.5 -7.9L-0.6 -6L3.5 -7.5L0.6 -9.4ZM-3.5 -7.9V-0.2L-0.6 1.7L3.5 0.2V-7.5M-0.6 1.7V-6" class="e e3"/></g>
<g transform="translate(126 370.2)"><polygon points="-3.5,-0.2 -0.6,1.7 -0.6,-4.8 -3.5,-6.7" fill="url(#gl3)"/><polygon points="-0.6,1.7 3.5,0.2 3.5,-6.4 -0.6,-4.8" fill="url(#gr3)"/><polygon points="-3.5,-6.7 -0.6,-4.8 3.5,-6.4 0.6,-8.3" fill="#006bb2"/><path d="M-3.5 -1.7L-0.6 0.2L3.5 -1.4M-3.5 -3.2L-0.6 -1.3L3.5 -2.9M-3.5 -4.8L-0.6 -2.9L3.5 -4.5M-3.5 -6.3L-0.6 -4.4L3.5 -6" class="s e3"/><path d="M-3.5 -6.7L-0.6 -4.8L3.5 -6.4L0.6 -8.3ZM-3.5 -6.7V-0.2L-0.6 1.7L3.5 0.2V-6.4M-0.6 1.7V-4.8" class="e e3"/></g>
<g transform="translate(225 347.7)"><polygon points="-3.5,-0.2 -0.6,1.7 -0.6,-6.8 -3.5,-8.7" fill="url(#gl0)"/><polygon points="-0.6,1.7 3.5,0.2 3.5,-8.3 -0.6,-6.8" fill="url(#gr0)"/><polygon points="-3.5,-8.7 -0.6,-6.8 3.5,-8.3 0.6,-10.3" fill="#762c85"/><path d="M-3.5 -1.7L-0.6 0.2L3.5 -1.4M-3.5 -3.2L-0.6 -1.3L3.5 -2.9M-3.5 -4.8L-0.6 -2.9L3.5 -4.5M-3.5 -6.3L-0.6 -4.4L3.5 -6M-3.5 -7.9L-0.6 -6L3.5 -7.5" class="s e0"/><path d="M-3.5 -8.7L-0.6 -6.8L3.5 -8.3L0.6 -10.3ZM-3.5 -8.7V-0.2L-0.6 1.7L3.5 0.2V-8.3M-0.6 1.7V-6.8" class="e e0"/></g>
<g transform="translate(216.6 350.9)"><polygon points="-3.5,-0.2 -0.6,1.7 -0.6,-7.9 -3.5,-9.8" fill="url(#gl0)"/><polygon points="-0.6,1.7 3.5,0.2 3.5,-9.4 -0.6,-7.9" fill="url(#gr0)"/><polygon points="-3.5,-9.8 -0.6,-7.9 3.5,-9.4 0.6,-11.3" fill="#762c85"/><path d="M-3.5 -1.7L-0.6 0.2L3.5 -1.4M-3.5 -3.2L-0.6 -1.3L3.5 -2.9M-3.5 -4.8L-0.6 -2.9L3.5 -4.5M-3.5 -6.3L-0.6 -4.4L3.5 -6M-3.5 -7.9L-0.6 -6L3.5 -7.5M-3.5 -9.4L-0.6 -7.5L3.5 -9.1" class="s e0"/><path d="M-3.5 -9.8L-0.6 -7.9L3.5 -9.4L0.6 -11.3ZM-3.5 -9.8V-0.2L-0.6 1.7L3.5 0.2V-9.4M-0.6 1.7V-7.9" class="e e0"/></g>
<g transform="translate(208.1 354.1)"><polygon points="-3.5,-0.2 -0.6,1.7 -0.6,-9.4 -3.5,-11.3" fill="url(#gl0)"/><polygon points="-0.6,1.7 3.5,0.2 3.5,-11 -0.6,-9.4" fill="url(#gr0)"/><polygon points="-3.5,-11.3 -0.6,-9.4 3.5,-11 0.6,-12.9" fill="#762c85"/><path d="M-3.5 -1.7L-0.6 0.2L3.5 -1.4M-3.5 -3.2L-0.6 -1.3L3.5 -2.9M-3.5 -4.8L-0.6 -2.9L3.5 -4.5M-3.5 -6.3L-0.6 -4.4L3.5 -6M-3.5 -7.9L-0.6 -6L3.5 -7.5M-3.5 -9.4L-0.6 -7.5L3.5 -9.1M-3.5 -10.9L-0.6 -9L3.5 -10.6" class="s e0"/><path d="M-3.5 -11.3L-0.6 -9.4L3.5 -11L0.6 -12.9ZM-3.5 -11.3V-0.2L-0.6 1.7L3.5 0.2V-11M-0.6 1.7V-9.4" class="e e0"/></g>
<g transform="translate(199.6 357.3)"><polygon points="-3.5,-0.2 -0.6,1.7 -0.6,-9.3 -3.5,-11.2" fill="url(#gl0)"/><polygon points="-0.6,1.7 3.5,0.2 3.5,-10.9 -0.6,-9.3" fill="url(#gr0)"/><polygon points="-3.5,-11.2 -0.6,-9.3 3.5,-10.9 0.6,-12.8" fill="#762c85"/><path d="M-3.5 -1.7L-0.6 0.2L3.5 -1.4M-3.5 -3.2L-0.6 -1.3L3.5 -2.9M-3.5 -4.8L-0.6 -2.9L3.5 -4.5M-3.5 -6.3L-0.6 -4.4L3.5 -6M-3.5 -7.9L-0.6 -6L3.5 -7.5M-3.5 -9.4L-0.6 -7.5L3.5 -9.1M-3.5 -10.9L-0.6 -9L3.5 -10.6" class="s e0"/><path d="M-3.5 -11.2L-0.6 -9.3L3.5 -10.9L0.6 -12.8ZM-3.5 -11.2V-0.2L-0.6 1.7L3.5 0.2V-10.9M-0.6 1.7V-9.3" class="e e0"/></g>
<g transform="translate(191.2 360.5)"><polygon points="-3.5,-0.2 -0.6,1.7 -0.6,-11.4 -3.5,-13.3" fill="url(#gl0)"/><polygon points="-0.6,1.7 3.5,0.2 3.5,-13 -0.6,-11.4" fill="url(#gr0)"/><polygon points="-3.5,-13.3 -0.6,-11.4 3.5,-13 0.6,-14.9" fill="#762c85"/><path d="M-3.5 -1.7L-0.6 0.2L3.5 -1.4M-3.5 -3.2L-0.6 -1.3L3.5 -2.9M-3.5 -4.8L-0.6 -2.9L3.5 -4.5M-3.5 -6.3L-0.6 -4.4L3.5 -6M-3.5 -7.9L-0.6 -6L3.5 -7.5M-3.5 -9.4L-0.6 -7.5L3.5 -9.1M-3.5 -10.9L-0.6 -9L3.5 -10.6M-3.5 -12.5L-0.6 -10.6L3.5 -12.2" class="s e0"/><path d="M-3.5 -13.3L-0.6 -11.4L3.5 -13L0.6 -14.9ZM-3.5 -13.3V-0.2L-0.6 1.7L3.5 0.2V-13M-0.6 1.7V-11.4" class="e e0"/></g>
<g transform="translate(182.8 363.8)"><polygon points="-3.5,-0.2 -0.6,1.7 -0.6,-11.4 -3.5,-13.3" fill="url(#gl0)"/><polygon points="-0.6,1.7 3.5,0.2 3.5,-13 -0.6,-11.4" fill="url(#gr0)"/><polygon points="-3.5,-13.3 -0.6,-11.4 3.5,-13 0.6,-14.9" fill="#762c85"/><path d="M-3.5 -1.7L-0.6 0.2L3.5 -1.4M-3.5 -3.2L-0.6 -1.3L3.5 -2.9M-3.5 -4.8L-0.6 -2.9L3.5 -4.5M-3.5 -6.3L-0.6 -4.4L3.5 -6M-3.5 -7.9L-0.6 -6L3.5 -7.5M-3.5 -9.4L-0.6 -7.5L3.5 -9.1M-3.5 -10.9L-0.6 -9L3.5 -10.6M-3.5 -12.5L-0.6 -10.6L3.5 -12.2" class="s e0"/><path d="M-3.5 -13.3L-0.6 -11.4L3.5 -13L0.6 -14.9ZM-3.5 -13.3V-0.2L-0.6 1.7L3.5 0.2V-13M-0.6 1.7V-11.4" class="e e0"/></g>
<g transform="translate(174.3 367)"><polygon points="-3.5,-0.2 -0.6,1.7 -0.6,-11.9 -3.5,-13.8" fill="url(#gl0)"/><polygon points="-0.6,1.7 3.5,0.2 3.5,-13.5 -0.6,-11.9" fill="url(#gr0)"/><polygon points="-3.5,-13.8 -0.6,-11.9 3.5,-13.5 0.6,-15.4" fill="#762c85"/><path d="M-3.5 -1.7L-0.6 0.2L3.5 -1.4M-3.5 -3.2L-0.6 -1.3L3.5 -2.9M-3.5 -4.8L-0.6 -2.9L3.5 -4.5M-3.5 -6.3L-0.6 -4.4L3.5 -6M-3.5 -7.9L-0.6 -6L3.5 -7.5M-3.5 -9.4L-0.6 -7.5L3.5 -9.1M-3.5 -10.9L-0.6 -9L3.5 -10.6M-3.5 -12.5L-0.6 -10.6L3.5 -12.2" class="s e0"/><path d="M-3.5 -13.8L-0.6 -11.9L3.5 -13.5L0.6 -15.4ZM-3.5 -13.8V-0.2L-0.6 1.7L3.5 0.2V-13.5M-0.6 1.7V-11.9" class="e e0"/></g>
<g transform="translate(165.8 370.2)"><polygon points="-3.5,-0.2 -0.6,1.7 -0.6,-6.9 -3.5,-8.8" fill="url(#gl0)"/><polygon points="-0.6,1.7 3.5,0.2 3.5,-8.5 -0.6,-6.9" fill="url(#gr0)"/><polygon points="-3.5,-8.8 -0.6,-6.9 3.5,-8.5 0.6,-10.4" fill="#762c85"/><path d="M-3.5 -1.7L-0.6 0.2L3.5 -1.4M-3.5 -3.2L-0.6 -1.3L3.5 -2.9M-3.5 -4.8L-0.6 -2.9L3.5 -4.5M-3.5 -6.3L-0.6 -4.4L3.5 -6M-3.5 -7.9L-0.6 -6L3.5 -7.5" class="s e0"/><path d="M-3.5 -8.8L-0.6 -6.9L3.5 -8.5L0.6 -10.4ZM-3.5 -8.8V-0.2L-0.6 1.7L3.5 0.2V-8.5M-0.6 1.7V-6.9" class="e e0"/></g>
<g transform="translate(157.4 373.4)"><polygon points="-3.5,-0.2 -0.6,1.7 -0.6,-6.8 -3.5,-8.7" fill="url(#gl0)"/><polygon points="-0.6,1.7 3.5,0.2 3.5,-8.3 -0.6,-6.8" fill="url(#gr0)"/><polygon points="-3.5,-8.7 -0.6,-6.8 3.5,-8.3 0.6,-10.2" fill="#762c85"/><path d="M-3.5 -1.7L-0.6 0.2L3.5 -1.4M-3.5 -3.2L-0.6 -1.3L3.5 -2.9M-3.5 -4.8L-0.6 -2.9L3.5 -4.5M-3.5 -6.3L-0.6 -4.4L3.5 -6M-3.5 -7.9L-0.6 -6L3.5 -7.5" class="s e0"/><path d="M-3.5 -8.7L-0.6 -6.8L3.5 -8.3L0.6 -10.2ZM-3.5 -8.7V-0.2L-0.6 1.7L3.5 0.2V-8.3M-0.6 1.7V-6.8" class="e e0"/></g>
<g transform="translate(148.9 376.6)"><polygon points="-3.5,-0.2 -0.6,1.7 -0.6,-6.4 -3.5,-8.3" fill="url(#gl0)"/><polygon points="-0.6,1.7 3.5,0.2 3.5,-7.9 -0.6,-6.4" fill="url(#gr0)"/><polygon points="-3.5,-8.3 -0.6,-6.4 3.5,-7.9 0.6,-9.8" fill="#762c85"/><path d="M-3.5 -1.7L-0.6 0.2L3.5 -1.4M-3.5 -3.2L-0.6 -1.3L3.5 -2.9M-3.5 -4.8L-0.6 -2.9L3.5 -4.5M-3.5 -6.3L-0.6 -4.4L3.5 -6M-3.5 -7.9L-0.6 -6L3.5 -7.5" class="s e0"/><path d="M-3.5 -8.3L-0.6 -6.4L3.5 -7.9L0.6 -9.8ZM-3.5 -8.3V-0.2L-0.6 1.7L3.5 0.2V-7.9M-0.6 1.7V-6.4" class="e e0"/></g>
<g transform="translate(140.5 379.8)"><polygon points="-3.5,-0.2 -0.6,1.7 -0.6,-5.2 -3.5,-7.1" fill="url(#gl0)"/><polygon points="-0.6,1.7 3.5,0.2 3.5,-6.8 -0.6,-5.2" fill="url(#gr0)"/><polygon points="-3.5,-7.1 -0.6,-5.2 3.5,-6.8 0.6,-8.7" fill="#762c85"/><path d="M-3.5 -1.7L-0.6 0.2L3.5 -1.4M-3.5 -3.2L-0.6 -1.3L3.5 -2.9M-3.5 -4.8L-0.6 -2.9L3.5 -4.5M-3.5 -6.3L-0.6 -4.4L3.5 -6" class="s e0"/><path d="M-3.5 -7.1L-0.6 -5.2L3.5 -6.8L0.6 -8.7ZM-3.5 -7.1V-0.2L-0.6 1.7L3.5 0.2V-6.8M-0.6 1.7V-5.2" class="e e0"/></g>
<g transform="translate(231 351.6)"><polygon points="-3.5,-0.2 -0.6,1.7 -0.6,-6.5 -3.5,-8.4" fill="url(#gl1)"/><polygon points="-0.6,1.7 3.5,0.2 3.5,-8.1 -0.6,-6.5" fill="url(#gr1)"/><polygon points="-3.5,-8.4 -0.6,-6.5 3.5,-8.1 0.6,-10" fill="#dfa61e"/><path d="M-3.5 -1.7L-0.6 0.2L3.5 -1.4M-3.5 -3.2L-0.6 -1.3L3.5 -2.9M-3.5 -4.8L-0.6 -2.9L3.5 -4.5M-3.5 -6.3L-0.6 -4.4L3.5 -6M-3.5 -7.9L-0.6 -6L3.5 -7.5" class="s e1"/><path d="M-3.5 -8.4L-0.6 -6.5L3.5 -8.1L0.6 -10ZM-3.5 -8.4V-0.2L-0.6 1.7L3.5 0.2V-8.1M-0.6 1.7V-6.5" class="e e1"/></g>
<g transform="translate(222.6 354.8)"><polygon points="-3.5,-0.2 -0.6,1.7 -0.6,-7.6 -3.5,-9.5" fill="url(#gl1)"/><polygon points="-0.6,1.7 3.5,0.2 3.5,-9.1 -0.6,-7.6" fill="url(#gr1)"/><polygon points="-3.5,-9.5 -0.6,-7.6 3.5,-9.1 0.6,-11" fill="#dfa61e"/><path d="M-3.5 -1.7L-0.6 0.2L3.5 -1.4M-3.5 -3.2L-0.6 -1.3L3.5 -2.9M-3.5 -4.8L-0.6 -2.9L3.5 -4.5M-3.5 -6.3L-0.6 -4.4L3.5 -6M-3.5 -7.9L-0.6 -6L3.5 -7.5M-3.5 -9.4L-0.6 -7.5L3.5 -9.1" class="s e1"/><path d="M-3.5 -9.5L-0.6 -7.6L3.5 -9.1L0.6 -11ZM-3.5 -9.5V-0.2L-0.6 1.7L3.5 0.2V-9.1M-0.6 1.7V-7.6" class="e e1"/></g>
<g transform="translate(214.1 358)"><polygon points="-3.5,-0.2 -0.6,1.7 -0.6,-8.5 -3.5,-10.4" fill="url(#gl1)"/><polygon points="-0.6,1.7 3.5,0.2 3.5,-10.1 -0.6,-8.5" fill="url(#gr1)"/><polygon points="-3.5,-10.4 -0.6,-8.5 3.5,-10.1 0.6,-12" fill="#dfa61e"/><path d="M-3.5 -1.7L-0.6 0.2L3.5 -1.4M-3.5 -3.2L-0.6 -1.3L3.5 -2.9M-3.5 -4.8L-0.6 -2.9L3.5 -4.5M-3.5 -6.3L-0.6 -4.4L3.5 -6M-3.5 -7.9L-0.6 -6L3.5 -7.5M-3.5 -9.4L-0.6 -7.5L3.5 -9.1" class="s e1"/><path d="M-3.5 -10.4L-0.6 -8.5L3.5 -10.1L0.6 -12ZM-3.5 -10.4V-0.2L-0.6 1.7L3.5 0.2V-10.1M-0.6 1.7V-8.5" class="e e1"/></g>
<g transform="translate(205.6 361.2)"><polygon points="-3.5,-0.2 -0.6,1.7 -0.6,-8.8 -3.5,-10.7" fill="url(#gl1)"/><polygon points="-0.6,1.7 3.5,0.2 3.5,-10.4 -0.6,-8.8" fill="url(#gr1)"/><polygon points="-3.5,-10.7 -0.6,-8.8 3.5,-10.4 0.6,-12.3" fill="#dfa61e"/><path d="M-3.5 -1.7L-0.6 0.2L3.5 -1.4M-3.5 -3.2L-0.6 -1.3L3.5 -2.9M-3.5 -4.8L-0.6 -2.9L3.5 -4.5M-3.5 -6.3L-0.6 -4.4L3.5 -6M-3.5 -7.9L-0.6 -6L3.5 -7.5M-3.5 -9.4L-0.6 -7.5L3.5 -9.1" class="s e1"/><path d="M-3.5 -10.7L-0.6 -8.8L3.5 -10.4L0.6 -12.3ZM-3.5 -10.7V-0.2L-0.6 1.7L3.5 0.2V-10.4M-0.6 1.7V-8.8" class="e e1"/></g>
<g transform="translate(197.2 364.4)"><polygon points="-3.5,-0.2 -0.6,1.7 -0.6,-9.5 -3.5,-11.4" fill="url(#gl1)"/><polygon points="-0.6,1.7 3.5,0.2 3.5,-11 -0.6,-9.5" fill="url(#gr1)"/><polygon points="-3.5,-11.4 -0.6,-9.5 3.5,-11 0.6,-13" fill="#dfa61e"/><path d="M-3.5 -1.7L-0.6 0.2L3.5 -1.4M-3.5 -3.2L-0.6 -1.3L3.5 -2.9M-3.5 -4.8L-0.6 -2.9L3.5 -4.5M-3.5 -6.3L-0.6 -4.4L3.5 -6M-3.5 -7.9L-0.6 -6L3.5 -7.5M-3.5 -9.4L-0.6 -7.5L3.5 -9.1M-3.5 -10.9L-0.6 -9L3.5 -10.6" class="s e1"/><path d="M-3.5 -11.4L-0.6 -9.5L3.5 -11L0.6 -13ZM-3.5 -11.4V-0.2L-0.6 1.7L3.5 0.2V-11M-0.6 1.7V-9.5" class="e e1"/></g>
<g transform="translate(188.8 367.6)"><polygon points="-3.5,-0.2 -0.6,1.7 -0.6,-11.3 -3.5,-13.2" fill="url(#gl1)"/><polygon points="-0.6,1.7 3.5,0.2 3.5,-12.9 -0.6,-11.3" fill="url(#gr1)"/><polygon points="-3.5,-13.2 -0.6,-11.3 3.5,-12.9 0.6,-14.8" fill="#dfa61e"/><path d="M-3.5 -1.7L-0.6 0.2L3.5 -1.4M-3.5 -3.2L-0.6 -1.3L3.5 -2.9M-3.5 -4.8L-0.6 -2.9L3.5 -4.5M-3.5 -6.3L-0.6 -4.4L3.5 -6M-3.5 -7.9L-0.6 -6L3.5 -7.5M-3.5 -9.4L-0.6 -7.5L3.5 -9.1M-3.5 -10.9L-0.6 -9L3.5 -10.6M-3.5 -12.5L-0.6 -10.6L3.5 -12.2" class="s e1"/><path d="M-3.5 -13.2L-0.6 -11.3L3.5 -12.9L0.6 -14.8ZM-3.5 -13.2V-0.2L-0.6 1.7L3.5 0.2V-12.9M-0.6 1.7V-11.3" class="e e1"/></g>
<g transform="translate(180.3 370.9)"><polygon points="-3.5,-0.2 -0.6,1.7 -0.6,-11.9 -3.5,-13.8" fill="url(#gl1)"/><polygon points="-0.6,1.7 3.5,0.2 3.5,-13.5 -0.6,-11.9" fill="url(#gr1)"/><polygon points="-3.5,-13.8 -0.6,-11.9 3.5,-13.5 0.6,-15.4" fill="#dfa61e"/><path d="M-3.5 -1.7L-0.6 0.2L3.5 -1.4M-3.5 -3.2L-0.6 -1.3L3.5 -2.9M-3.5 -4.8L-0.6 -2.9L3.5 -4.5M-3.5 -6.3L-0.6 -4.4L3.5 -6M-3.5 -7.9L-0.6 -6L3.5 -7.5M-3.5 -9.4L-0.6 -7.5L3.5 -9.1M-3.5 -10.9L-0.6 -9L3.5 -10.6M-3.5 -12.5L-0.6 -10.6L3.5 -12.2" class="s e1"/><path d="M-3.5 -13.8L-0.6 -11.9L3.5 -13.5L0.6 -15.4ZM-3.5 -13.8V-0.2L-0.6 1.7L3.5 0.2V-13.5M-0.6 1.7V-11.9" class="e e1"/></g>
<g transform="translate(171.8 374.1)"><polygon points="-3.5,-0.2 -0.6,1.7 -0.6,-7.5 -3.5,-9.4" fill="url(#gl1)"/><polygon points="-0.6,1.7 3.5,0.2 3.5,-9.1 -0.6,-7.5" fill="url(#gr1)"/><polygon points="-3.5,-9.4 -0.6,-7.5 3.5,-9.1 0.6,-11" fill="#dfa61e"/><path d="M-3.5 -1.7L-0.6 0.2L3.5 -1.4M-3.5 -3.2L-0.6 -1.3L3.5 -2.9M-3.5 -4.8L-0.6 -2.9L3.5 -4.5M-3.5 -6.3L-0.6 -4.4L3.5 -6M-3.5 -7.9L-0.6 -6L3.5 -7.5" class="s e1"/><path d="M-3.5 -9.4L-0.6 -7.5L3.5 -9.1L0.6 -11ZM-3.5 -9.4V-0.2L-0.6 1.7L3.5 0.2V-9.1M-0.6 1.7V-7.5" class="e e1"/></g>
<g transform="translate(163.4 377.3)"><polygon points="-3.5,-0.2 -0.6,1.7 -0.6,-7.1 -3.5,-9" fill="url(#gl1)"/><polygon points="-0.6,1.7 3.5,0.2 3.5,-8.6 -0.6,-7.1" fill="url(#gr1)"/><polygon points="-3.5,-9 -0.6,-7.1 3.5,-8.6 0.6,-10.5" fill="#dfa61e"/><path d="M-3.5 -1.7L-0.6 0.2L3.5 -1.4M-3.5 -3.2L-0.6 -1.3L3.5 -2.9M-3.5 -4.8L-0.6 -2.9L3.5 -4.5M-3.5 -6.3L-0.6 -4.4L3.5 -6M-3.5 -7.9L-0.6 -6L3.5 -7.5" class="s e1"/><path d="M-3.5 -9L-0.6 -7.1L3.5 -8.6L0.6 -10.5ZM-3.5 -9V-0.2L-0.6 1.7L3.5 0.2V-8.6M-0.6 1.7V-7.1" class="e e1"/></g>
<g transform="translate(154.9 380.5)"><polygon points="-3.5,-0.2 -0.6,1.7 -0.6,-5.9 -3.5,-7.8" fill="url(#gl1)"/><polygon points="-0.6,1.7 3.5,0.2 3.5,-7.5 -0.6,-5.9" fill="url(#gr1)"/><polygon points="-3.5,-7.8 -0.6,-5.9 3.5,-7.5 0.6,-9.4" fill="#dfa61e"/><path d="M-3.5 -1.7L-0.6 0.2L3.5 -1.4M-3.5 -3.2L-0.6 -1.3L3.5 -2.9M-3.5 -4.8L-0.6 -2.9L3.5 -4.5M-3.5 -6.3L-0.6 -4.4L3.5 -6" class="s e1"/><path d="M-3.5 -7.8L-0.6 -5.9L3.5 -7.5L0.6 -9.4ZM-3.5 -7.8V-0.2L-0.6 1.7L3.5 0.2V-7.5M-0.6 1.7V-5.9" class="e e1"/></g>
<g transform="translate(146.5 383.7)"><polygon points="-3.5,-0.2 -0.6,1.7 -0.6,-5.2 -3.5,-7.1" fill="url(#gl1)"/><polygon points="-0.6,1.7 3.5,0.2 3.5,-6.8 -0.6,-5.2" fill="url(#gr1)"/><polygon points="-3.5,-7.1 -0.6,-5.2 3.5,-6.8 0.6,-8.7" fill="#dfa61e"/><path d="M-3.5 -1.7L-0.6 0.2L3.5 -1.4M-3.5 -3.2L-0.6 -1.3L3.5 -2.9M-3.5 -4.8L-0.6 -2.9L3.5 -4.5M-3.5 -6.3L-0.6 -4.4L3.5 -6" class="s e1"/><path d="M-3.5 -7.1L-0.6 -5.2L3.5 -6.8L0.6 -8.7ZM-3.5 -7.1V-0.2L-0.6 1.7L3.5 0.2V-6.8M-0.6 1.7V-5.2" class="e e1"/></g>
<g transform="translate(237 355.5)"><polygon points="-3.5,-0.2 -0.6,1.7 -0.6,-6.5 -3.5,-8.4" fill="url(#gl2)"/><polygon points="-0.6,1.7 3.5,0.2 3.5,-8.1 -0.6,-6.5" fill="url(#gr2)"/><polygon points="-3.5,-8.4 -0.6,-6.5 3.5,-8.1 0.6,-10" fill="#cc4e18"/><path d="M-3.5 -1.7L-0.6 0.2L3.5 -1.4M-3.5 -3.2L-0.6 -1.3L3.5 -2.9M-3.5 -4.8L-0.6 -2.9L3.5 -4.5M-3.5 -6.3L-0.6 -4.4L3.5 -6M-3.5 -7.9L-0.6 -6L3.5 -7.5" class="s e2"/><path d="M-3.5 -8.4L-0.6 -6.5L3.5 -8.1L0.6 -10ZM-3.5 -8.4V-0.2L-0.6 1.7L3.5 0.2V-8.1M-0.6 1.7V-6.5" class="e e2"/></g>
<g transform="translate(228.6 358.7)"><polygon points="-3.5,-0.2 -0.6,1.7 -0.6,-7.4 -3.5,-9.3" fill="url(#gl2)"/><polygon points="-0.6,1.7 3.5,0.2 3.5,-9 -0.6,-7.4" fill="url(#gr2)"/><polygon points="-3.5,-9.3 -0.6,-7.4 3.5,-9 0.6,-10.9" fill="#cc4e18"/><path d="M-3.5 -1.7L-0.6 0.2L3.5 -1.4M-3.5 -3.2L-0.6 -1.3L3.5 -2.9M-3.5 -4.8L-0.6 -2.9L3.5 -4.5M-3.5 -6.3L-0.6 -4.4L3.5 -6M-3.5 -7.9L-0.6 -6L3.5 -7.5" class="s e2"/><path d="M-3.5 -9.3L-0.6 -7.4L3.5 -9L0.6 -10.9ZM-3.5 -9.3V-0.2L-0.6 1.7L3.5 0.2V-9M-0.6 1.7V-7.4" class="e e2"/></g>
<g transform="translate(220.1 361.9)"><polygon points="-3.5,-0.2 -0.6,1.7 -0.6,-8.3 -3.5,-10.3" fill="url(#gl2)"/><polygon points="-0.6,1.7 3.5,0.2 3.5,-9.9 -0.6,-8.3" fill="url(#gr2)"/><polygon points="-3.5,-10.3 -0.6,-8.3 3.5,-9.9 0.6,-11.8" fill="#cc4e18"/><path d="M-3.5 -1.7L-0.6 0.2L3.5 -1.4M-3.5 -3.2L-0.6 -1.3L3.5 -2.9M-3.5 -4.8L-0.6 -2.9L3.5 -4.5M-3.5 -6.3L-0.6 -4.4L3.5 -6M-3.5 -7.9L-0.6 -6L3.5 -7.5M-3.5 -9.4L-0.6 -7.5L3.5 -9.1" class="s e2"/><path d="M-3.5 -10.3L-0.6 -8.3L3.5 -9.9L0.6 -11.8ZM-3.5 -10.3V-0.2L-0.6 1.7L3.5 0.2V-9.9M-0.6 1.7V-8.3" class="e e2"/></g>
<g transform="translate(211.6 365.1)"><polygon points="-3.5,-0.2 -0.6,1.7 -0.6,-8.8 -3.5,-10.7" fill="url(#gl2)"/><polygon points="-0.6,1.7 3.5,0.2 3.5,-10.4 -0.6,-8.8" fill="url(#gr2)"/><polygon points="-3.5,-10.7 -0.6,-8.8 3.5,-10.4 0.6,-12.3" fill="#cc4e18"/><path d="M-3.5 -1.7L-0.6 0.2L3.5 -1.4M-3.5 -3.2L-0.6 -1.3L3.5 -2.9M-3.5 -4.8L-0.6 -2.9L3.5 -4.5M-3.5 -6.3L-0.6 -4.4L3.5 -6M-3.5 -7.9L-0.6 -6L3.5 -7.5M-3.5 -9.4L-0.6 -7.5L3.5 -9.1" class="s e2"/><path d="M-3.5 -10.7L-0.6 -8.8L3.5 -10.4L0.6 -12.3ZM-3.5 -10.7V-0.2L-0.6 1.7L3.5 0.2V-10.4M-0.6 1.7V-8.8" class="e e2"/></g>
<g transform="translate(203.2 368.3)"><polygon points="-3.5,-0.2 -0.6,1.7 -0.6,-9.9 -3.5,-11.8" fill="url(#gl2)"/><polygon points="-0.6,1.7 3.5,0.2 3.5,-11.5 -0.6,-9.9" fill="url(#gr2)"/><polygon points="-3.5,-11.8 -0.6,-9.9 3.5,-11.5 0.6,-13.4" fill="#cc4e18"/><path d="M-3.5 -1.7L-0.6 0.2L3.5 -1.4M-3.5 -3.2L-0.6 -1.3L3.5 -2.9M-3.5 -4.8L-0.6 -2.9L3.5 -4.5M-3.5 -6.3L-0.6 -4.4L3.5 -6M-3.5 -7.9L-0.6 -6L3.5 -7.5M-3.5 -9.4L-0.6 -7.5L3.5 -9.1M-3.5 -10.9L-0.6 -9L3.5 -10.6" class="s e2"/><path d="M-3.5 -11.8L-0.6 -9.9L3.5 -11.5L0.6 -13.4ZM-3.5 -11.8V-0.2L-0.6 1.7L3.5 0.2V-11.5M-0.6 1.7V-9.9" class="e e2"/></g>
<g transform="translate(194.8 371.5)"><polygon points="-3.5,-0.2 -0.6,1.7 -0.6,-11.6 -3.5,-13.5" fill="url(#gl2)"/><polygon points="-0.6,1.7 3.5,0.2 3.5,-13.2 -0.6,-11.6" fill="url(#gr2)"/><polygon points="-3.5,-13.5 -0.6,-11.6 3.5,-13.2 0.6,-15.1" fill="#cc4e18"/><path d="M-3.5 -1.7L-0.6 0.2L3.5 -1.4M-3.5 -3.2L-0.6 -1.3L3.5 -2.9M-3.5 -4.8L-0.6 -2.9L3.5 -4.5M-3.5 -6.3L-0.6 -4.4L3.5 -6M-3.5 -7.9L-0.6 -6L3.5 -7.5M-3.5 -9.4L-0.6 -7.5L3.5 -9.1M-3.5 -10.9L-0.6 -9L3.5 -10.6M-3.5 -12.5L-0.6 -10.6L3.5 -12.2" class="s e2"/><path d="M-3.5 -13.5L-0.6 -11.6L3.5 -13.2L0.6 -15.1ZM-3.5 -13.5V-0.2L-0.6 1.7L3.5 0.2V-13.2M-0.6 1.7V-11.6" class="e e2"/></g>
<g transform="translate(186.3 374.7)"><polygon points="-3.5,-0.2 -0.6,1.7 -0.6,-13.3 -3.5,-15.2" fill="url(#gl2)"/><polygon points="-0.6,1.7 3.5,0.2 3.5,-14.8 -0.6,-13.3" fill="url(#gr2)"/><polygon points="-3.5,-15.2 -0.6,-13.3 3.5,-14.8 0.6,-16.8" fill="#cc4e18"/><path d="M-3.5 -1.7L-0.6 0.2L3.5 -1.4M-3.5 -3.2L-0.6 -1.3L3.5 -2.9M-3.5 -4.8L-0.6 -2.9L3.5 -4.5M-3.5 -6.3L-0.6 -4.4L3.5 -6M-3.5 -7.9L-0.6 -6L3.5 -7.5M-3.5 -9.4L-0.6 -7.5L3.5 -9.1M-3.5 -10.9L-0.6 -9L3.5 -10.6M-3.5 -12.5L-0.6 -10.6L3.5 -12.2M-3.5 -14L-0.6 -12.1L3.5 -13.7" class="s e2"/><path d="M-3.5 -15.2L-0.6 -13.3L3.5 -14.8L0.6 -16.8ZM-3.5 -15.2V-0.2L-0.6 1.7L3.5 0.2V-14.8M-0.6 1.7V-13.3" class="e e2"/></g>
<g transform="translate(177.8 377.9)"><polygon points="-3.5,-0.2 -0.6,1.7 -0.6,-7 -3.5,-8.9" fill="url(#gl2)"/><polygon points="-0.6,1.7 3.5,0.2 3.5,-8.6 -0.6,-7" fill="url(#gr2)"/><polygon points="-3.5,-8.9 -0.6,-7 3.5,-8.6 0.6,-10.5" fill="#cc4e18"/><path d="M-3.5 -1.7L-0.6 0.2L3.5 -1.4M-3.5 -3.2L-0.6 -1.3L3.5 -2.9M-3.5 -4.8L-0.6 -2.9L3.5 -4.5M-3.5 -6.3L-0.6 -4.4L3.5 -6M-3.5 -7.9L-0.6 -6L3.5 -7.5" class="s e2"/><path d="M-3.5 -8.9L-0.6 -7L3.5 -8.6L0.6 -10.5ZM-3.5 -8.9V-0.2L-0.6 1.7L3.5 0.2V-8.6M-0.6 1.7V-7" class="e e2"/></g>
<g transform="translate(169.4 381.2)"><polygon points="-3.5,-0.2 -0.6,1.7 -0.6,-6.5 -3.5,-8.4" fill="url(#gl2)"/><polygon points="-0.6,1.7 3.5,0.2 3.5,-8 -0.6,-6.5" fill="url(#gr2)"/><polygon points="-3.5,-8.4 -0.6,-6.5 3.5,-8 0.6,-9.9" fill="#cc4e18"/><path d="M-3.5 -1.7L-0.6 0.2L3.5 -1.4M-3.5 -3.2L-0.6 -1.3L3.5 -2.9M-3.5 -4.8L-0.6 -2.9L3.5 -4.5M-3.5 -6.3L-0.6 -4.4L3.5 -6M-3.5 -7.9L-0.6 -6L3.5 -7.5" class="s e2"/><path d="M-3.5 -8.4L-0.6 -6.5L3.5 -8L0.6 -9.9ZM-3.5 -8.4V-0.2L-0.6 1.7L3.5 0.2V-8M-0.6 1.7V-6.5" class="e e2"/></g>
<g transform="translate(160.9 384.4)"><polygon points="-3.5,-0.2 -0.6,1.7 -0.6,-5.8 -3.5,-7.7" fill="url(#gl2)"/><polygon points="-0.6,1.7 3.5,0.2 3.5,-7.3 -0.6,-5.8" fill="url(#gr2)"/><polygon points="-3.5,-7.7 -0.6,-5.8 3.5,-7.3 0.6,-9.2" fill="#cc4e18"/><path d="M-3.5 -1.7L-0.6 0.2L3.5 -1.4M-3.5 -3.2L-0.6 -1.3L3.5 -2.9M-3.5 -4.8L-0.6 -2.9L3.5 -4.5M-3.5 -6.3L-0.6 -4.4L3.5 -6" class="s e2"/><path d="M-3.5 -7.7L-0.6 -5.8L3.5 -7.3L0.6 -9.2ZM-3.5 -7.7V-0.2L-0.6 1.7L3.5 0.2V-7.3M-0.6 1.7V-5.8" class="e e2"/></g>
<g transform="translate(152.5 387.6)"><polygon points="-3.5,-0.2 -0.6,1.7 -0.6,-4.7 -3.5,-6.6" fill="url(#gl2)"/><polygon points="-0.6,1.7 3.5,0.2 3.5,-6.3 -0.6,-4.7" fill="url(#gr2)"/><polygon points="-3.5,-6.6 -0.6,-4.7 3.5,-6.3 0.6,-8.2" fill="#cc4e18"/><path d="M-3.5 -1.7L-0.6 0.2L3.5 -1.4M-3.5 -3.2L-0.6 -1.3L3.5 -2.9M-3.5 -4.8L-0.6 -2.9L3.5 -4.5M-3.5 -6.3L-0.6 -4.4L3.5 -6" class="s e2"/><path d="M-3.5 -6.6L-0.6 -4.7L3.5 -6.3L0.6 -8.2ZM-3.5 -6.6V-0.2L-0.6 1.7L3.5 0.2V-6.3M-0.6 1.7V-4.7" class="e e2"/></g>
<g transform="translate(243 359.4)"><polygon points="-3.5,-0.2 -0.6,1.7 -0.6,-6.5 -3.5,-8.4" fill="url(#gl3)"/><polygon points="-0.6,1.7 3.5,0.2 3.5,-8.1 -0.6,-6.5" fill="url(#gr3)"/><polygon points="-3.5,-8.4 -0.6,-6.5 3.5,-8.1 0.6,-10" fill="#006bb2"/><path d="M-3.5 -1.7L-0.6 0.2L3.5 -1.4M-3.5 -3.2L-0.6 -1.3L3.5 -2.9M-3.5 -4.8L-0.6 -2.9L3.5 -4.5M-3.5 -6.3L-0.6 -4.4L3.5 -6M-3.5 -7.9L-0.6 -6L3.5 -7.5" class="s e3"/><path d="M-3.5 -8.4L-0.6 -6.5L3.5 -8.1L0.6 -10ZM-3.5 -8.4V-0.2L-0.6 1.7L3.5 0.2V-8.1M-0.6 1.7V-6.5" class="e e3"/></g>
<g transform="translate(234.6 362.6)"><polygon points="-3.5,-0.2 -0.6,1.7 -0.6,-7.4 -3.5,-9.3" fill="url(#gl3)"/><polygon points="-0.6,1.7 3.5,0.2 3.5,-9 -0.6,-7.4" fill="url(#gr3)"/><polygon points="-3.5,-9.3 -0.6,-7.4 3.5,-9 0.6,-10.9" fill="#006bb2"/><path d="M-3.5 -1.7L-0.6 0.2L3.5 -1.4M-3.5 -3.2L-0.6 -1.3L3.5 -2.9M-3.5 -4.8L-0.6 -2.9L3.5 -4.5M-3.5 -6.3L-0.6 -4.4L3.5 -6M-3.5 -7.9L-0.6 -6L3.5 -7.5" class="s e3"/><path d="M-3.5 -9.3L-0.6 -7.4L3.5 -9L0.6 -10.9ZM-3.5 -9.3V-0.2L-0.6 1.7L3.5 0.2V-9M-0.6 1.7V-7.4" class="e e3"/></g>
<g transform="translate(226.1 365.8)"><polygon points="-3.5,-0.2 -0.6,1.7 -0.6,-8.2 -3.5,-10.1" fill="url(#gl3)"/><polygon points="-0.6,1.7 3.5,0.2 3.5,-9.8 -0.6,-8.2" fill="url(#gr3)"/><polygon points="-3.5,-10.1 -0.6,-8.2 3.5,-9.8 0.6,-11.7" fill="#006bb2"/><path d="M-3.5 -1.7L-0.6 0.2L3.5 -1.4M-3.5 -3.2L-0.6 -1.3L3.5 -2.9M-3.5 -4.8L-0.6 -2.9L3.5 -4.5M-3.5 -6.3L-0.6 -4.4L3.5 -6M-3.5 -7.9L-0.6 -6L3.5 -7.5M-3.5 -9.4L-0.6 -7.5L3.5 -9.1" class="s e3"/><path d="M-3.5 -10.1L-0.6 -8.2L3.5 -9.8L0.6 -11.7ZM-3.5 -10.1V-0.2L-0.6 1.7L3.5 0.2V-9.8M-0.6 1.7V-8.2" class="e e3"/></g>
<g transform="translate(217.6 369)"><polygon points="-3.5,-0.2 -0.6,1.7 -0.6,-8.7 -3.5,-10.6" fill="url(#gl3)"/><polygon points="-0.6,1.7 3.5,0.2 3.5,-10.3 -0.6,-8.7" fill="url(#gr3)"/><polygon points="-3.5,-10.6 -0.6,-8.7 3.5,-10.3 0.6,-12.2" fill="#006bb2"/><path d="M-3.5 -1.7L-0.6 0.2L3.5 -1.4M-3.5 -3.2L-0.6 -1.3L3.5 -2.9M-3.5 -4.8L-0.6 -2.9L3.5 -4.5M-3.5 -6.3L-0.6 -4.4L3.5 -6M-3.5 -7.9L-0.6 -6L3.5 -7.5M-3.5 -9.4L-0.6 -7.5L3.5 -9.1" class="s e3"/><path d="M-3.5 -10.6L-0.6 -8.7L3.5 -10.3L0.6 -12.2ZM-3.5 -10.6V-0.2L-0.6 1.7L3.5 0.2V-10.3M-0.6 1.7V-8.7" class="e e3"/></g>
<g transform="translate(209.2 372.2)"><polygon points="-3.5,-0.2 -0.6,1.7 -0.6,-9.5 -3.5,-11.4" fill="url(#gl3)"/><polygon points="-0.6,1.7 3.5,0.2 3.5,-11 -0.6,-9.5" fill="url(#gr3)"/><polygon points="-3.5,-11.4 -0.6,-9.5 3.5,-11 0.6,-13" fill="#006bb2"/><path d="M-3.5 -1.7L-0.6 0.2L3.5 -1.4M-3.5 -3.2L-0.6 -1.3L3.5 -2.9M-3.5 -4.8L-0.6 -2.9L3.5 -4.5M-3.5 -6.3L-0.6 -4.4L3.5 -6M-3.5 -7.9L-0.6 -6L3.5 -7.5M-3.5 -9.4L-0.6 -7.5L3.5 -9.1M-3.5 -10.9L-0.6 -9L3.5 -10.6" class="s e3"/><path d="M-3.5 -11.4L-0.6 -9.5L3.5 -11L0.6 -13ZM-3.5 -11.4V-0.2L-0.6 1.7L3.5 0.2V-11M-0.6 1.7V-9.5" class="e e3"/></g>
<g transform="translate(200.8 375.4)"><polygon points="-3.5,-0.2 -0.6,1.7 -0.6,-11.7 -3.5,-13.6" fill="url(#gl3)"/><polygon points="-0.6,1.7 3.5,0.2 3.5,-13.3 -0.6,-11.7" fill="url(#gr3)"/><polygon points="-3.5,-13.6 -0.6,-11.7 3.5,-13.3 0.6,-15.2" fill="#006bb2"/><path d="M-3.5 -1.7L-0.6 0.2L3.5 -1.4M-3.5 -3.2L-0.6 -1.3L3.5 -2.9M-3.5 -4.8L-0.6 -2.9L3.5 -4.5M-3.5 -6.3L-0.6 -4.4L3.5 -6M-3.5 -7.9L-0.6 -6L3.5 -7.5M-3.5 -9.4L-0.6 -7.5L3.5 -9.1M-3.5 -10.9L-0.6 -9L3.5 -10.6M-3.5 -12.5L-0.6 -10.6L3.5 -12.2" class="s e3"/><path d="M-3.5 -13.6L-0.6 -11.7L3.5 -13.3L0.6 -15.2ZM-3.5 -13.6V-0.2L-0.6 1.7L3.5 0.2V-13.3M-0.6 1.7V-11.7" class="e e3"/></g>
<g transform="translate(192.3 378.6)"><polygon points="-3.5,-0.2 -0.6,1.7 -0.6,-13.6 -3.5,-15.5" fill="url(#gl3)"/><polygon points="-0.6,1.7 3.5,0.2 3.5,-15.1 -0.6,-13.6" fill="url(#gr3)"/><polygon points="-3.5,-15.5 -0.6,-13.6 3.5,-15.1 0.6,-17" fill="#006bb2"/><path d="M-3.5 -1.7L-0.6 0.2L3.5 -1.4M-3.5 -3.2L-0.6 -1.3L3.5 -2.9M-3.5 -4.8L-0.6 -2.9L3.5 -4.5M-3.5 -6.3L-0.6 -4.4L3.5 -6M-3.5 -7.9L-0.6 -6L3.5 -7.5M-3.5 -9.4L-0.6 -7.5L3.5 -9.1M-3.5 -10.9L-0.6 -9L3.5 -10.6M-3.5 -12.5L-0.6 -10.6L3.5 -12.2M-3.5 -14L-0.6 -12.1L3.5 -13.7" class="s e3"/><path d="M-3.5 -15.5L-0.6 -13.6L3.5 -15.1L0.6 -17ZM-3.5 -15.5V-0.2L-0.6 1.7L3.5 0.2V-15.1M-0.6 1.7V-13.6" class="e e3"/></g>
<g transform="translate(183.8 381.8)"><polygon points="-3.5,-0.2 -0.6,1.7 -0.6,-7.6 -3.5,-9.5" fill="url(#gl3)"/><polygon points="-0.6,1.7 3.5,0.2 3.5,-9.2 -0.6,-7.6" fill="url(#gr3)"/><polygon points="-3.5,-9.5 -0.6,-7.6 3.5,-9.2 0.6,-11.1" fill="#006bb2"/><path d="M-3.5 -1.7L-0.6 0.2L3.5 -1.4M-3.5 -3.2L-0.6 -1.3L3.5 -2.9M-3.5 -4.8L-0.6 -2.9L3.5 -4.5M-3.5 -6.3L-0.6 -4.4L3.5 -6M-3.5 -7.9L-0.6 -6L3.5 -7.5M-3.5 -9.4L-0.6 -7.5L3.5 -9.1" class="s e3"/><path d="M-3.5 -9.5L-0.6 -7.6L3.5 -9.2L0.6 -11.1ZM-3.5 -9.5V-0.2L-0.6 1.7L3.5 0.2V-9.2M-0.6 1.7V-7.6" class="e e3"/></g>
<g transform="translate(175.4 385.1)"><polygon points="-3.5,-0.2 -0.6,1.7 -0.6,-6.5 -3.5,-8.4" fill="url(#gl3)"/><polygon points="-0.6,1.7 3.5,0.2 3.5,-8 -0.6,-6.5" fill="url(#gr3)"/><polygon points="-3.5,-8.4 -0.6,-6.5 3.5,-8 0.6,-9.9" fill="#006bb2"/><path d="M-3.5 -1.7L-0.6 0.2L3.5 -1.4M-3.5 -3.2L-0.6 -1.3L3.5 -2.9M-3.5 -4.8L-0.6 -2.9L3.5 -4.5M-3.5 -6.3L-0.6 -4.4L3.5 -6M-3.5 -7.9L-0.6 -6L3.5 -7.5" class="s e3"/><path d="M-3.5 -8.4L-0.6 -6.5L3.5 -8L0.6 -9.9ZM-3.5 -8.4V-0.2L-0.6 1.7L3.5 0.2V-8M-0.6 1.7V-6.5" class="e e3"/></g>
<g transform="translate(166.9 388.3)"><polygon points="-3.5,-0.2 -0.6,1.7 -0.6,-6.5 -3.5,-8.4" fill="url(#gl3)"/><polygon points="-0.6,1.7 3.5,0.2 3.5,-8.1 -0.6,-6.5" fill="url(#gr3)"/><polygon points="-3.5,-8.4 -0.6,-6.5 3.5,-8.1 0.6,-10" fill="#006bb2"/><path d="M-3.5 -1.7L-0.6 0.2L3.5 -1.4M-3.5 -3.2L-0.6 -1.3L3.5 -2.9M-3.5 -4.8L-0.6 -2.9L3.5 -4.5M-3.5 -6.3L-0.6 -4.4L3.5 -6M-3.5 -7.9L-0.6 -6L3.5 -7.5" class="s e3"/><path d="M-3.5 -8.4L-0.6 -6.5L3.5 -8.1L0.6 -10ZM-3.5 -8.4V-0.2L-0.6 1.7L3.5 0.2V-8.1M-0.6 1.7V-6.5" class="e e3"/></g>
<g transform="translate(158.5 391.5)"><polygon points="-3.5,-0.2 -0.6,1.7 -0.6,-5.3 -3.5,-7.3" fill="url(#gl3)"/><polygon points="-0.6,1.7 3.5,0.2 3.5,-6.9 -0.6,-5.3" fill="url(#gr3)"/><polygon points="-3.5,-7.3 -0.6,-5.3 3.5,-6.9 0.6,-8.8" fill="#006bb2"/><path d="M-3.5 -1.7L-0.6 0.2L3.5 -1.4M-3.5 -3.2L-0.6 -1.3L3.5 -2.9M-3.5 -4.8L-0.6 -2.9L3.5 -4.5M-3.5 -6.3L-0.6 -4.4L3.5 -6" class="s e3"/><path d="M-3.5 -7.3L-0.6 -5.3L3.5 -6.9L0.6 -8.8ZM-3.5 -7.3V-0.2L-0.6 1.7L3.5 0.2V-6.9M-0.6 1.7V-5.3" class="e e3"/></g>
<g transform="translate(257.5 368.9)"><polygon points="-3.5,-0.2 -0.6,1.7 -0.6,-7 -3.5,-8.9" fill="url(#gl0)"/><polygon points="-0.6,1.7 3.5,0.2 3.5,-8.6 -0.6,-7" fill="url(#gr0)"/><polygon points="-3.5,-8.9 -0.6,-7 3.5,-8.6 0.6,-10.5" fill="#762c85"/><path d="M-3.5 -1.7L-0.6 0.2L3.5 -1.4M-3.5 -3.2L-0.6 -1.3L3.5 -2.9M-3.5 -4.8L-0.6 -2.9L3.5 -4.5M-3.5 -6.3L-0.6 -4.4L3.5 -6M-3.5 -7.9L-0.6 -6L3.5 -7.5" class="s e0"/><path d="M-3.5 -8.9L-0.6 -7L3.5 -8.6L0.6 -10.5ZM-3.5 -8.9V-0.2L-0.6 1.7L3.5 0.2V-8.6M-0.6 1.7V-7" class="e e0"/></g>
<g transform="translate(249.1 372.2)"><polygon points="-3.5,-0.2 -0.6,1.7 -0.6,-6.9 -3.5,-8.8" fill="url(#gl0)"/><polygon points="-0.6,1.7 3.5,0.2 3.5,-8.5 -0.6,-6.9" fill="url(#gr0)"/><polygon points="-3.5,-8.8 -0.6,-6.9 3.5,-8.5 0.6,-10.4" fill="#762c85"/><path d="M-3.5 -1.7L-0.6 0.2L3.5 -1.4M-3.5 -3.2L-0.6 -1.3L3.5 -2.9M-3.5 -4.8L-0.6 -2.9L3.5 -4.5M-3.5 -6.3L-0.6 -4.4L3.5 -6M-3.5 -7.9L-0.6 -6L3.5 -7.5" class="s e0"/><path d="M-3.5 -8.8L-0.6 -6.9L3.5 -8.5L0.6 -10.4ZM-3.5 -8.8V-0.2L-0.6 1.7L3.5 0.2V-8.5M-0.6 1.7V-6.9" class="e e0"/></g>
<g transform="translate(240.6 375.4)"><polygon points="-3.5,-0.2 -0.6,1.7 -0.6,-8.6 -3.5,-10.5" fill="url(#gl0)"/><polygon points="-0.6,1.7 3.5,0.2 3.5,-10.2 -0.6,-8.6" fill="url(#gr0)"/><polygon points="-3.5,-10.5 -0.6,-8.6 3.5,-10.2 0.6,-12.1" fill="#762c85"/><path d="M-3.5 -1.7L-0.6 0.2L3.5 -1.4M-3.5 -3.2L-0.6 -1.3L3.5 -2.9M-3.5 -4.8L-0.6 -2.9L3.5 -4.5M-3.5 -6.3L-0.6 -4.4L3.5 -6M-3.5 -7.9L-0.6 -6L3.5 -7.5M-3.5 -9.4L-0.6 -7.5L3.5 -9.1" class="s e0"/><path d="M-3.5 -10.5L-0.6 -8.6L3.5 -10.2L0.6 -12.1ZM-3.5 -10.5V-0.2L-0.6 1.7L3.5 0.2V-10.2M-0.6 1.7V-8.6" class="e e0"/></g>
<g transform="translate(232.1 378.6)"><polygon points="-3.5,-0.2 -0.6,1.7 -0.6,-8.5 -3.5,-10.4" fill="url(#gl0)"/><polygon points="-0.6,1.7 3.5,0.2 3.5,-10.1 -0.6,-8.5" fill="url(#gr0)"/><polygon points="-3.5,-10.4 -0.6,-8.5 3.5,-10.1 0.6,-12" fill="#762c85"/><path d="M-3.5 -1.7L-0.6 0.2L3.5 -1.4M-3.5 -3.2L-0.6 -1.3L3.5 -2.9M-3.5 -4.8L-0.6 -2.9L3.5 -4.5M-3.5 -6.3L-0.6 -4.4L3.5 -6M-3.5 -7.9L-0.6 -6L3.5 -7.5M-3.5 -9.4L-0.6 -7.5L3.5 -9.1" class="s e0"/><path d="M-3.5 -10.4L-0.6 -8.5L3.5 -10.1L0.6 -12ZM-3.5 -10.4V-0.2L-0.6 1.7L3.5 0.2V-10.1M-0.6 1.7V-8.5" class="e e0"/></g>
<g transform="translate(223.7 381.8)"><polygon points="-3.5,-0.2 -0.6,1.7 -0.6,-10.2 -3.5,-12.1" fill="url(#gl0)"/><polygon points="-0.6,1.7 3.5,0.2 3.5,-11.7 -0.6,-10.2" fill="url(#gr0)"/><polygon points="-3.5,-12.1 -0.6,-10.2 3.5,-11.7 0.6,-13.6" fill="#762c85"/><path d="M-3.5 -1.7L-0.6 0.2L3.5 -1.4M-3.5 -3.2L-0.6 -1.3L3.5 -2.9M-3.5 -4.8L-0.6 -2.9L3.5 -4.5M-3.5 -6.3L-0.6 -4.4L3.5 -6M-3.5 -7.9L-0.6 -6L3.5 -7.5M-3.5 -9.4L-0.6 -7.5L3.5 -9.1M-3.5 -10.9L-0.6 -9L3.5 -10.6" class="s e0"/><path d="M-3.5 -12.1L-0.6 -10.2L3.5 -11.7L0.6 -13.6ZM-3.5 -12.1V-0.2L-0.6 1.7L3.5 0.2V-11.7M-0.6 1.7V-10.2" class="e e0"/></g>
<g transform="translate(215.2 385)"><polygon points="-3.5,-0.2 -0.6,1.7 -0.6,-9.9 -3.5,-11.8" fill="url(#gl0)"/><polygon points="-0.6,1.7 3.5,0.2 3.5,-11.5 -0.6,-9.9" fill="url(#gr0)"/><polygon points="-3.5,-11.8 -0.6,-9.9 3.5,-11.5 0.6,-13.4" fill="#762c85"/><path d="M-3.5 -1.7L-0.6 0.2L3.5 -1.4M-3.5 -3.2L-0.6 -1.3L3.5 -2.9M-3.5 -4.8L-0.6 -2.9L3.5 -4.5M-3.5 -6.3L-0.6 -4.4L3.5 -6M-3.5 -7.9L-0.6 -6L3.5 -7.5M-3.5 -9.4L-0.6 -7.5L3.5 -9.1M-3.5 -10.9L-0.6 -9L3.5 -10.6" class="s e0"/><path d="M-3.5 -11.8L-0.6 -9.9L3.5 -11.5L0.6 -13.4ZM-3.5 -11.8V-0.2L-0.6 1.7L3.5 0.2V-11.5M-0.6 1.7V-9.9" class="e e0"/></g>
<g transform="translate(206.8 388.2)"><polygon points="-3.5,-0.2 -0.6,1.7 -0.6,-8.7 -3.5,-10.6" fill="url(#gl0)"/><polygon points="-0.6,1.7 3.5,0.2 3.5,-10.3 -0.6,-8.7" fill="url(#gr0)"/><polygon points="-3.5,-10.6 -0.6,-8.7 3.5,-10.3 0.6,-12.2" fill="#762c85"/><path d="M-3.5 -1.7L-0.6 0.2L3.5 -1.4M-3.5 -3.2L-0.6 -1.3L3.5 -2.9M-3.5 -4.8L-0.6 -2.9L3.5 -4.5M-3.5 -6.3L-0.6 -4.4L3.5 -6M-3.5 -7.9L-0.6 -6L3.5 -7.5M-3.5 -9.4L-0.6 -7.5L3.5 -9.1" class="s e0"/><path d="M-3.5 -10.6L-0.6 -8.7L3.5 -10.3L0.6 -12.2ZM-3.5 -10.6V-0.2L-0.6 1.7L3.5 0.2V-10.3M-0.6 1.7V-8.7" class="e e0"/></g>
<g transform="translate(198.3 391.4)"><polygon points="-3.5,-0.2 -0.6,1.7 -0.6,-7.1 -3.5,-9" fill="url(#gl0)"/><polygon points="-0.6,1.7 3.5,0.2 3.5,-8.7 -0.6,-7.1" fill="url(#gr0)"/><polygon points="-3.5,-9 -0.6,-7.1 3.5,-8.7 0.6,-10.6" fill="#762c85"/><path d="M-3.5 -1.7L-0.6 0.2L3.5 -1.4M-3.5 -3.2L-0.6 -1.3L3.5 -2.9M-3.5 -4.8L-0.6 -2.9L3.5 -4.5M-3.5 -6.3L-0.6 -4.4L3.5 -6M-3.5 -7.9L-0.6 -6L3.5 -7.5" class="s e0"/><path d="M-3.5 -9L-0.6 -7.1L3.5 -8.7L0.6 -10.6ZM-3.5 -9V-0.2L-0.6 1.7L3.5 0.2V-8.7M-0.6 1.7V-7.1" class="e e0"/></g>
<g transform="translate(189.9 394.6)"><polygon points="-3.5,-0.2 -0.6,1.7 -0.6,-6.4 -3.5,-8.3" fill="url(#gl0)"/><polygon points="-0.6,1.7 3.5,0.2 3.5,-8 -0.6,-6.4" fill="url(#gr0)"/><polygon points="-3.5,-8.3 -0.6,-6.4 3.5,-8 0.6,-9.9" fill="#762c85"/><path d="M-3.5 -1.7L-0.6 0.2L3.5 -1.4M-3.5 -3.2L-0.6 -1.3L3.5 -2.9M-3.5 -4.8L-0.6 -2.9L3.5 -4.5M-3.5 -6.3L-0.6 -4.4L3.5 -6M-3.5 -7.9L-0.6 -6L3.5 -7.5" class="s e0"/><path d="M-3.5 -8.3L-0.6 -6.4L3.5 -8L0.6 -9.9ZM-3.5 -8.3V-0.2L-0.6 1.7L3.5 0.2V-8M-0.6 1.7V-6.4" class="e e0"/></g>
<g transform="translate(181.4 397.8)"><polygon points="-3.5,-0.2 -0.6,1.7 -0.6,-6 -3.5,-7.9" fill="url(#gl0)"/><polygon points="-0.6,1.7 3.5,0.2 3.5,-7.6 -0.6,-6" fill="url(#gr0)"/><polygon points="-3.5,-7.9 -0.6,-6 3.5,-7.6 0.6,-9.5" fill="#762c85"/><path d="M-3.5 -1.7L-0.6 0.2L3.5 -1.4M-3.5 -3.2L-0.6 -1.3L3.5 -2.9M-3.5 -4.8L-0.6 -2.9L3.5 -4.5M-3.5 -6.3L-0.6 -4.4L3.5 -6M-3.5 -7.9L-0.6 -6L3.5 -7.5" class="s e0"/><path d="M-3.5 -7.9L-0.6 -6L3.5 -7.6L0.6 -9.5ZM-3.5 -7.9V-0.2L-0.6 1.7L3.5 0.2V-7.6M-0.6 1.7V-6" class="e e0"/></g>
<g transform="translate(173 401.1)"><polygon points="-3.5,-0.2 -0.6,1.7 -0.6,-5.4 -3.5,-7.3" fill="url(#gl0)"/><polygon points="-0.6,1.7 3.5,0.2 3.5,-7 -0.6,-5.4" fill="url(#gr0)"/><polygon points="-3.5,-7.3 -0.6,-5.4 3.5,-7 0.6,-8.9" fill="#762c85"/><path d="M-3.5 -1.7L-0.6 0.2L3.5 -1.4M-3.5 -3.2L-0.6 -1.3L3.5 -2.9M-3.5 -4.8L-0.6 -2.9L3.5 -4.5M-3.5 -6.3L-0.6 -4.4L3.5 -6" class="s e0"/><path d="M-3.5 -7.3L-0.6 -5.4L3.5 -7L0.6 -8.9ZM-3.5 -7.3V-0.2L-0.6 1.7L3.5 0.2V-7M-0.6 1.7V-5.4" class="e e0"/></g>
<g transform="translate(263.5 372.8)"><polygon points="-3.5,-0.2 -0.6,1.7 -0.6,-6.4 -3.5,-8.3" fill="url(#gl1)"/><polygon points="-0.6,1.7 3.5,0.2 3.5,-8 -0.6,-6.4" fill="url(#gr1)"/><polygon points="-3.5,-8.3 -0.6,-6.4 3.5,-8 0.6,-9.9" fill="#dfa61e"/><path d="M-3.5 -1.7L-0.6 0.2L3.5 -1.4M-3.5 -3.2L-0.6 -1.3L3.5 -2.9M-3.5 -4.8L-0.6 -2.9L3.5 -4.5M-3.5 -6.3L-0.6 -4.4L3.5 -6M-3.5 -7.9L-0.6 -6L3.5 -7.5" class="s e1"/><path d="M-3.5 -8.3L-0.6 -6.4L3.5 -8L0.6 -9.9ZM-3.5 -8.3V-0.2L-0.6 1.7L3.5 0.2V-8M-0.6 1.7V-6.4" class="e e1"/></g>
<g transform="translate(255.1 376.1)"><polygon points="-3.5,-0.2 -0.6,1.7 -0.6,-7.5 -3.5,-9.4" fill="url(#gl1)"/><polygon points="-0.6,1.7 3.5,0.2 3.5,-9.1 -0.6,-7.5" fill="url(#gr1)"/><polygon points="-3.5,-9.4 -0.6,-7.5 3.5,-9.1 0.6,-11" fill="#dfa61e"/><path d="M-3.5 -1.7L-0.6 0.2L3.5 -1.4M-3.5 -3.2L-0.6 -1.3L3.5 -2.9M-3.5 -4.8L-0.6 -2.9L3.5 -4.5M-3.5 -6.3L-0.6 -4.4L3.5 -6M-3.5 -7.9L-0.6 -6L3.5 -7.5M-3.5 -9.4L-0.6 -7.5L3.5 -9.1" class="s e1"/><path d="M-3.5 -9.4L-0.6 -7.5L3.5 -9.1L0.6 -11ZM-3.5 -9.4V-0.2L-0.6 1.7L3.5 0.2V-9.1M-0.6 1.7V-7.5" class="e e1"/></g>
<g transform="translate(246.6 379.3)"><polygon points="-3.5,-0.2 -0.6,1.7 -0.6,-7.4 -3.5,-9.3" fill="url(#gl1)"/><polygon points="-0.6,1.7 3.5,0.2 3.5,-9 -0.6,-7.4" fill="url(#gr1)"/><polygon points="-3.5,-9.3 -0.6,-7.4 3.5,-9 0.6,-10.9" fill="#dfa61e"/><path d="M-3.5 -1.7L-0.6 0.2L3.5 -1.4M-3.5 -3.2L-0.6 -1.3L3.5 -2.9M-3.5 -4.8L-0.6 -2.9L3.5 -4.5M-3.5 -6.3L-0.6 -4.4L3.5 -6M-3.5 -7.9L-0.6 -6L3.5 -7.5" class="s e1"/><path d="M-3.5 -9.3L-0.6 -7.4L3.5 -9L0.6 -10.9ZM-3.5 -9.3V-0.2L-0.6 1.7L3.5 0.2V-9M-0.6 1.7V-7.4" class="e e1"/></g>
<g transform="translate(238.1 382.5)"><polygon points="-3.5,-0.2 -0.6,1.7 -0.6,-8.6 -3.5,-10.5" fill="url(#gl1)"/><polygon points="-0.6,1.7 3.5,0.2 3.5,-10.2 -0.6,-8.6" fill="url(#gr1)"/><polygon points="-3.5,-10.5 -0.6,-8.6 3.5,-10.2 0.6,-12.1" fill="#dfa61e"/><path d="M-3.5 -1.7L-0.6 0.2L3.5 -1.4M-3.5 -3.2L-0.6 -1.3L3.5 -2.9M-3.5 -4.8L-0.6 -2.9L3.5 -4.5M-3.5 -6.3L-0.6 -4.4L3.5 -6M-3.5 -7.9L-0.6 -6L3.5 -7.5M-3.5 -9.4L-0.6 -7.5L3.5 -9.1" class="s e1"/><path d="M-3.5 -10.5L-0.6 -8.6L3.5 -10.2L0.6 -12.1ZM-3.5 -10.5V-0.2L-0.6 1.7L3.5 0.2V-10.2M-0.6 1.7V-8.6" class="e e1"/></g>
<g transform="translate(229.7 385.7)"><polygon points="-3.5,-0.2 -0.6,1.7 -0.6,-9 -3.5,-10.9" fill="url(#gl1)"/><polygon points="-0.6,1.7 3.5,0.2 3.5,-10.5 -0.6,-9" fill="url(#gr1)"/><polygon points="-3.5,-10.9 -0.6,-9 3.5,-10.5 0.6,-12.4" fill="#dfa61e"/><path d="M-3.5 -1.7L-0.6 0.2L3.5 -1.4M-3.5 -3.2L-0.6 -1.3L3.5 -2.9M-3.5 -4.8L-0.6 -2.9L3.5 -4.5M-3.5 -6.3L-0.6 -4.4L3.5 -6M-3.5 -7.9L-0.6 -6L3.5 -7.5M-3.5 -9.4L-0.6 -7.5L3.5 -9.1" class="s e1"/><path d="M-3.5 -10.9L-0.6 -9L3.5 -10.5L0.6 -12.4ZM-3.5 -10.9V-0.2L-0.6 1.7L3.5 0.2V-10.5M-0.6 1.7V-9" class="e e1"/></g>
<g transform="translate(221.2 388.9)"><polygon points="-3.5,-0.2 -0.6,1.7 -0.6,-9 -3.5,-10.9" fill="url(#gl1)"/><polygon points="-0.6,1.7 3.5,0.2 3.5,-10.6 -0.6,-9" fill="url(#gr1)"/><polygon points="-3.5,-10.9 -0.6,-9 3.5,-10.6 0.6,-12.5" fill="#dfa61e"/><path d="M-3.5 -1.7L-0.6 0.2L3.5 -1.4M-3.5 -3.2L-0.6 -1.3L3.5 -2.9M-3.5 -4.8L-0.6 -2.9L3.5 -4.5M-3.5 -6.3L-0.6 -4.4L3.5 -6M-3.5 -7.9L-0.6 -6L3.5 -7.5M-3.5 -9.4L-0.6 -7.5L3.5 -9.1" class="s e1"/><path d="M-3.5 -10.9L-0.6 -9L3.5 -10.6L0.6 -12.5ZM-3.5 -10.9V-0.2L-0.6 1.7L3.5 0.2V-10.6M-0.6 1.7V-9" class="e e1"/></g>
<g transform="translate(212.8 392.1)"><polygon points="-3.5,-0.2 -0.6,1.7 -0.6,-9.6 -3.5,-11.5" fill="url(#gl1)"/><polygon points="-0.6,1.7 3.5,0.2 3.5,-11.2 -0.6,-9.6" fill="url(#gr1)"/><polygon points="-3.5,-11.5 -0.6,-9.6 3.5,-11.2 0.6,-13.1" fill="#dfa61e"/><path d="M-3.5 -1.7L-0.6 0.2L3.5 -1.4M-3.5 -3.2L-0.6 -1.3L3.5 -2.9M-3.5 -4.8L-0.6 -2.9L3.5 -4.5M-3.5 -6.3L-0.6 -4.4L3.5 -6M-3.5 -7.9L-0.6 -6L3.5 -7.5M-3.5 -9.4L-0.6 -7.5L3.5 -9.1M-3.5 -10.9L-0.6 -9L3.5 -10.6" class="s e1"/><path d="M-3.5 -11.5L-0.6 -9.6L3.5 -11.2L0.6 -13.1ZM-3.5 -11.5V-0.2L-0.6 1.7L3.5 0.2V-11.2M-0.6 1.7V-9.6" class="e e1"/></g>
<g transform="translate(204.3 395.3)"><polygon points="-3.5,-0.2 -0.6,1.7 -0.6,-6.7 -3.5,-8.6" fill="url(#gl1)"/><polygon points="-0.6,1.7 3.5,0.2 3.5,-8.3 -0.6,-6.7" fill="url(#gr1)"/><polygon points="-3.5,-8.6 -0.6,-6.7 3.5,-8.3 0.6,-10.2" fill="#dfa61e"/><path d="M-3.5 -1.7L-0.6 0.2L3.5 -1.4M-3.5 -3.2L-0.6 -1.3L3.5 -2.9M-3.5 -4.8L-0.6 -2.9L3.5 -4.5M-3.5 -6.3L-0.6 -4.4L3.5 -6M-3.5 -7.9L-0.6 -6L3.5 -7.5" class="s e1"/><path d="M-3.5 -8.6L-0.6 -6.7L3.5 -8.3L0.6 -10.2ZM-3.5 -8.6V-0.2L-0.6 1.7L3.5 0.2V-8.3M-0.6 1.7V-6.7" class="e e1"/></g>
<g transform="translate(195.9 398.5)"><polygon points="-3.5,-0.2 -0.6,1.7 -0.6,-6.6 -3.5,-8.5" fill="url(#gl1)"/><polygon points="-0.6,1.7 3.5,0.2 3.5,-8.1 -0.6,-6.6" fill="url(#gr1)"/><polygon points="-3.5,-8.5 -0.6,-6.6 3.5,-8.1 0.6,-10" fill="#dfa61e"/><path d="M-3.5 -1.7L-0.6 0.2L3.5 -1.4M-3.5 -3.2L-0.6 -1.3L3.5 -2.9M-3.5 -4.8L-0.6 -2.9L3.5 -4.5M-3.5 -6.3L-0.6 -4.4L3.5 -6M-3.5 -7.9L-0.6 -6L3.5 -7.5" class="s e1"/><path d="M-3.5 -8.5L-0.6 -6.6L3.5 -8.1L0.6 -10ZM-3.5 -8.5V-0.2L-0.6 1.7L3.5 0.2V-8.1M-0.6 1.7V-6.6" class="e e1"/></g>
<g transform="translate(187.4 401.7)"><polygon points="-3.5,-0.2 -0.6,1.7 -0.6,-5.4 -3.5,-7.3" fill="url(#gl1)"/><polygon points="-0.6,1.7 3.5,0.2 3.5,-7 -0.6,-5.4" fill="url(#gr1)"/><polygon points="-3.5,-7.3 -0.6,-5.4 3.5,-7 0.6,-8.9" fill="#dfa61e"/><path d="M-3.5 -1.7L-0.6 0.2L3.5 -1.4M-3.5 -3.2L-0.6 -1.3L3.5 -2.9M-3.5 -4.8L-0.6 -2.9L3.5 -4.5M-3.5 -6.3L-0.6 -4.4L3.5 -6" class="s e1"/><path d="M-3.5 -7.3L-0.6 -5.4L3.5 -7L0.6 -8.9ZM-3.5 -7.3V-0.2L-0.6 1.7L3.5 0.2V-7M-0.6 1.7V-5.4" class="e e1"/></g>
<g transform="translate(179 404.9)"><polygon points="-3.5,-0.2 -0.6,1.7 -0.6,-5.4 -3.5,-7.3" fill="url(#gl1)"/><polygon points="-0.6,1.7 3.5,0.2 3.5,-7 -0.6,-5.4" fill="url(#gr1)"/><polygon points="-3.5,-7.3 -0.6,-5.4 3.5,-7 0.6,-8.9" fill="#dfa61e"/><path d="M-3.5 -1.7L-0.6 0.2L3.5 -1.4M-3.5 -3.2L-0.6 -1.3L3.5 -2.9M-3.5 -4.8L-0.6 -2.9L3.5 -4.5M-3.5 -6.3L-0.6 -4.4L3.5 -6" class="s e1"/><path d="M-3.5 -7.3L-0.6 -5.4L3.5 -7L0.6 -8.9ZM-3.5 -7.3V-0.2L-0.6 1.7L3.5 0.2V-7M-0.6 1.7V-5.4" class="e e1"/></g>
<g transform="translate(269.5 376.7)"><polygon points="-3.5,-0.2 -0.6,1.7 -0.6,-6.4 -3.5,-8.3" fill="url(#gl2)"/><polygon points="-0.6,1.7 3.5,0.2 3.5,-8 -0.6,-6.4" fill="url(#gr2)"/><polygon points="-3.5,-8.3 -0.6,-6.4 3.5,-8 0.6,-9.9" fill="#cc4e18"/><path d="M-3.5 -1.7L-0.6 0.2L3.5 -1.4M-3.5 -3.2L-0.6 -1.3L3.5 -2.9M-3.5 -4.8L-0.6 -2.9L3.5 -4.5M-3.5 -6.3L-0.6 -4.4L3.5 -6M-3.5 -7.9L-0.6 -6L3.5 -7.5" class="s e2"/><path d="M-3.5 -8.3L-0.6 -6.4L3.5 -8L0.6 -9.9ZM-3.5 -8.3V-0.2L-0.6 1.7L3.5 0.2V-8M-0.6 1.7V-6.4" class="e e2"/></g>
<g transform="translate(261.1 379.9)"><polygon points="-3.5,-0.2 -0.6,1.7 -0.6,-7.1 -3.5,-9" fill="url(#gl2)"/><polygon points="-0.6,1.7 3.5,0.2 3.5,-8.6 -0.6,-7.1" fill="url(#gr2)"/><polygon points="-3.5,-9 -0.6,-7.1 3.5,-8.6 0.6,-10.5" fill="#cc4e18"/><path d="M-3.5 -1.7L-0.6 0.2L3.5 -1.4M-3.5 -3.2L-0.6 -1.3L3.5 -2.9M-3.5 -4.8L-0.6 -2.9L3.5 -4.5M-3.5 -6.3L-0.6 -4.4L3.5 -6M-3.5 -7.9L-0.6 -6L3.5 -7.5" class="s e2"/><path d="M-3.5 -9L-0.6 -7.1L3.5 -8.6L0.6 -10.5ZM-3.5 -9V-0.2L-0.6 1.7L3.5 0.2V-8.6M-0.6 1.7V-7.1" class="e e2"/></g>
<g transform="translate(252.6 383.1)"><polygon points="-3.5,-0.2 -0.6,1.7 -0.6,-6.9 -3.5,-8.9" fill="url(#gl2)"/><polygon points="-0.6,1.7 3.5,0.2 3.5,-8.5 -0.6,-6.9" fill="url(#gr2)"/><polygon points="-3.5,-8.9 -0.6,-6.9 3.5,-8.5 0.6,-10.4" fill="#cc4e18"/><path d="M-3.5 -1.7L-0.6 0.2L3.5 -1.4M-3.5 -3.2L-0.6 -1.3L3.5 -2.9M-3.5 -4.8L-0.6 -2.9L3.5 -4.5M-3.5 -6.3L-0.6 -4.4L3.5 -6M-3.5 -7.9L-0.6 -6L3.5 -7.5" class="s e2"/><path d="M-3.5 -8.9L-0.6 -6.9L3.5 -8.5L0.6 -10.4ZM-3.5 -8.9V-0.2L-0.6 1.7L3.5 0.2V-8.5M-0.6 1.7V-6.9" class="e e2"/></g>
<g transform="translate(244.1 386.4)"><polygon points="-3.5,-0.2 -0.6,1.7 -0.6,-7.9 -3.5,-9.8" fill="url(#gl2)"/><polygon points="-0.6,1.7 3.5,0.2 3.5,-9.5 -0.6,-7.9" fill="url(#gr2)"/><polygon points="-3.5,-9.8 -0.6,-7.9 3.5,-9.5 0.6,-11.4" fill="#cc4e18"/><path d="M-3.5 -1.7L-0.6 0.2L3.5 -1.4M-3.5 -3.2L-0.6 -1.3L3.5 -2.9M-3.5 -4.8L-0.6 -2.9L3.5 -4.5M-3.5 -6.3L-0.6 -4.4L3.5 -6M-3.5 -7.9L-0.6 -6L3.5 -7.5M-3.5 -9.4L-0.6 -7.5L3.5 -9.1" class="s e2"/><path d="M-3.5 -9.8L-0.6 -7.9L3.5 -9.5L0.6 -11.4ZM-3.5 -9.8V-0.2L-0.6 1.7L3.5 0.2V-9.5M-0.6 1.7V-7.9" class="e e2"/></g>
<g transform="translate(235.7 389.6)"><polygon points="-3.5,-0.2 -0.6,1.7 -0.6,-8.5 -3.5,-10.4" fill="url(#gl2)"/><polygon points="-0.6,1.7 3.5,0.2 3.5,-10.1 -0.6,-8.5" fill="url(#gr2)"/><polygon points="-3.5,-10.4 -0.6,-8.5 3.5,-10.1 0.6,-12" fill="#cc4e18"/><path d="M-3.5 -1.7L-0.6 0.2L3.5 -1.4M-3.5 -3.2L-0.6 -1.3L3.5 -2.9M-3.5 -4.8L-0.6 -2.9L3.5 -4.5M-3.5 -6.3L-0.6 -4.4L3.5 -6M-3.5 -7.9L-0.6 -6L3.5 -7.5M-3.5 -9.4L-0.6 -7.5L3.5 -9.1" class="s e2"/><path d="M-3.5 -10.4L-0.6 -8.5L3.5 -10.1L0.6 -12ZM-3.5 -10.4V-0.2L-0.6 1.7L3.5 0.2V-10.1M-0.6 1.7V-8.5" class="e e2"/></g>
<g transform="translate(227.2 392.8)"><polygon points="-3.5,-0.2 -0.6,1.7 -0.6,-9.6 -3.5,-11.5" fill="url(#gl2)"/><polygon points="-0.6,1.7 3.5,0.2 3.5,-11.2 -0.6,-9.6" fill="url(#gr2)"/><polygon points="-3.5,-11.5 -0.6,-9.6 3.5,-11.2 0.6,-13.1" fill="#cc4e18"/><path d="M-3.5 -1.7L-0.6 0.2L3.5 -1.4M-3.5 -3.2L-0.6 -1.3L3.5 -2.9M-3.5 -4.8L-0.6 -2.9L3.5 -4.5M-3.5 -6.3L-0.6 -4.4L3.5 -6M-3.5 -7.9L-0.6 -6L3.5 -7.5M-3.5 -9.4L-0.6 -7.5L3.5 -9.1M-3.5 -10.9L-0.6 -9L3.5 -10.6" class="s e2"/><path d="M-3.5 -11.5L-0.6 -9.6L3.5 -11.2L0.6 -13.1ZM-3.5 -11.5V-0.2L-0.6 1.7L3.5 0.2V-11.2M-0.6 1.7V-9.6" class="e e2"/></g>
<g transform="translate(218.8 396)"><polygon points="-3.5,-0.2 -0.6,1.7 -0.6,-9.5 -3.5,-11.4" fill="url(#gl2)"/><polygon points="-0.6,1.7 3.5,0.2 3.5,-11.1 -0.6,-9.5" fill="url(#gr2)"/><polygon points="-3.5,-11.4 -0.6,-9.5 3.5,-11.1 0.6,-13" fill="#cc4e18"/><path d="M-3.5 -1.7L-0.6 0.2L3.5 -1.4M-3.5 -3.2L-0.6 -1.3L3.5 -2.9M-3.5 -4.8L-0.6 -2.9L3.5 -4.5M-3.5 -6.3L-0.6 -4.4L3.5 -6M-3.5 -7.9L-0.6 -6L3.5 -7.5M-3.5 -9.4L-0.6 -7.5L3.5 -9.1M-3.5 -10.9L-0.6 -9L3.5 -10.6" class="s e2"/><path d="M-3.5 -11.4L-0.6 -9.5L3.5 -11.1L0.6 -13ZM-3.5 -11.4V-0.2L-0.6 1.7L3.5 0.2V-11.1M-0.6 1.7V-9.5" class="e e2"/></g>
<g transform="translate(210.3 399.2)"><polygon points="-3.5,-0.2 -0.6,1.7 -0.6,-6.7 -3.5,-8.6" fill="url(#gl2)"/><polygon points="-0.6,1.7 3.5,0.2 3.5,-8.3 -0.6,-6.7" fill="url(#gr2)"/><polygon points="-3.5,-8.6 -0.6,-6.7 3.5,-8.3 0.6,-10.2" fill="#cc4e18"/><path d="M-3.5 -1.7L-0.6 0.2L3.5 -1.4M-3.5 -3.2L-0.6 -1.3L3.5 -2.9M-3.5 -4.8L-0.6 -2.9L3.5 -4.5M-3.5 -6.3L-0.6 -4.4L3.5 -6M-3.5 -7.9L-0.6 -6L3.5 -7.5" class="s e2"/><path d="M-3.5 -8.6L-0.6 -6.7L3.5 -8.3L0.6 -10.2ZM-3.5 -8.6V-0.2L-0.6 1.7L3.5 0.2V-8.3M-0.6 1.7V-6.7" class="e e2"/></g>
<g transform="translate(201.9 402.4)"><polygon points="-3.5,-0.2 -0.6,1.7 -0.6,-6.1 -3.5,-8" fill="url(#gl2)"/><polygon points="-0.6,1.7 3.5,0.2 3.5,-7.7 -0.6,-6.1" fill="url(#gr2)"/><polygon points="-3.5,-8 -0.6,-6.1 3.5,-7.7 0.6,-9.6" fill="#cc4e18"/><path d="M-3.5 -1.7L-0.6 0.2L3.5 -1.4M-3.5 -3.2L-0.6 -1.3L3.5 -2.9M-3.5 -4.8L-0.6 -2.9L3.5 -4.5M-3.5 -6.3L-0.6 -4.4L3.5 -6M-3.5 -7.9L-0.6 -6L3.5 -7.5" class="s e2"/><path d="M-3.5 -8L-0.6 -6.1L3.5 -7.7L0.6 -9.6ZM-3.5 -8V-0.2L-0.6 1.7L3.5 0.2V-7.7M-0.6 1.7V-6.1" class="e e2"/></g>
<g transform="translate(193.4 405.6)"><polygon points="-3.5,-0.2 -0.6,1.7 -0.6,-5.6 -3.5,-7.5" fill="url(#gl2)"/><polygon points="-0.6,1.7 3.5,0.2 3.5,-7.1 -0.6,-5.6" fill="url(#gr2)"/><polygon points="-3.5,-7.5 -0.6,-5.6 3.5,-7.1 0.6,-9" fill="#cc4e18"/><path d="M-3.5 -1.7L-0.6 0.2L3.5 -1.4M-3.5 -3.2L-0.6 -1.3L3.5 -2.9M-3.5 -4.8L-0.6 -2.9L3.5 -4.5M-3.5 -6.3L-0.6 -4.4L3.5 -6" class="s e2"/><path d="M-3.5 -7.5L-0.6 -5.6L3.5 -7.1L0.6 -9ZM-3.5 -7.5V-0.2L-0.6 1.7L3.5 0.2V-7.1M-0.6 1.7V-5.6" class="e e2"/></g>
<g transform="translate(185 408.8)"><polygon points="-3.5,-0.2 -0.6,1.7 -0.6,-5 -3.5,-6.9" fill="url(#gl2)"/><polygon points="-0.6,1.7 3.5,0.2 3.5,-6.6 -0.6,-5" fill="url(#gr2)"/><polygon points="-3.5,-6.9 -0.6,-5 3.5,-6.6 0.6,-8.5" fill="#cc4e18"/><path d="M-3.5 -1.7L-0.6 0.2L3.5 -1.4M-3.5 -3.2L-0.6 -1.3L3.5 -2.9M-3.5 -4.8L-0.6 -2.9L3.5 -4.5M-3.5 -6.3L-0.6 -4.4L3.5 -6" class="s e2"/><path d="M-3.5 -6.9L-0.6 -5L3.5 -6.6L0.6 -8.5ZM-3.5 -6.9V-0.2L-0.6 1.7L3.5 0.2V-6.6M-0.6 1.7V-5" class="e e2"/></g>
<g transform="translate(275.5 380.6)"><polygon points="-3.5,-0.2 -0.6,1.7 -0.6,-6.6 -3.5,-8.5" fill="url(#gl3)"/><polygon points="-0.6,1.7 3.5,0.2 3.5,-8.1 -0.6,-6.6" fill="url(#gr3)"/><polygon points="-3.5,-8.5 -0.6,-6.6 3.5,-8.1 0.6,-10.1" fill="#006bb2"/><path d="M-3.5 -1.7L-0.6 0.2L3.5 -1.4M-3.5 -3.2L-0.6 -1.3L3.5 -2.9M-3.5 -4.8L-0.6 -2.9L3.5 -4.5M-3.5 -6.3L-0.6 -4.4L3.5 -6M-3.5 -7.9L-0.6 -6L3.5 -7.5" class="s e3"/><path d="M-3.5 -8.5L-0.6 -6.6L3.5 -8.1L0.6 -10.1ZM-3.5 -8.5V-0.2L-0.6 1.7L3.5 0.2V-8.1M-0.6 1.7V-6.6" class="e e3"/></g>
<g transform="translate(267.1 383.8)"><polygon points="-3.5,-0.2 -0.6,1.7 -0.6,-7.7 -3.5,-9.6" fill="url(#gl3)"/><polygon points="-0.6,1.7 3.5,0.2 3.5,-9.2 -0.6,-7.7" fill="url(#gr3)"/><polygon points="-3.5,-9.6 -0.6,-7.7 3.5,-9.2 0.6,-11.1" fill="#006bb2"/><path d="M-3.5 -1.7L-0.6 0.2L3.5 -1.4M-3.5 -3.2L-0.6 -1.3L3.5 -2.9M-3.5 -4.8L-0.6 -2.9L3.5 -4.5M-3.5 -6.3L-0.6 -4.4L3.5 -6M-3.5 -7.9L-0.6 -6L3.5 -7.5M-3.5 -9.4L-0.6 -7.5L3.5 -9.1" class="s e3"/><path d="M-3.5 -9.6L-0.6 -7.7L3.5 -9.2L0.6 -11.1ZM-3.5 -9.6V-0.2L-0.6 1.7L3.5 0.2V-9.2M-0.6 1.7V-7.7" class="e e3"/></g>
<g transform="translate(258.6 387)"><polygon points="-3.5,-0.2 -0.6,1.7 -0.6,-7.5 -3.5,-9.5" fill="url(#gl3)"/><polygon points="-0.6,1.7 3.5,0.2 3.5,-9.1 -0.6,-7.5" fill="url(#gr3)"/><polygon points="-3.5,-9.5 -0.6,-7.5 3.5,-9.1 0.6,-11" fill="#006bb2"/><path d="M-3.5 -1.7L-0.6 0.2L3.5 -1.4M-3.5 -3.2L-0.6 -1.3L3.5 -2.9M-3.5 -4.8L-0.6 -2.9L3.5 -4.5M-3.5 -6.3L-0.6 -4.4L3.5 -6M-3.5 -7.9L-0.6 -6L3.5 -7.5M-3.5 -9.4L-0.6 -7.5L3.5 -9.1" class="s e3"/><path d="M-3.5 -9.5L-0.6 -7.5L3.5 -9.1L0.6 -11ZM-3.5 -9.5V-0.2L-0.6 1.7L3.5 0.2V-9.1M-0.6 1.7V-7.5" class="e e3"/></g>
<g transform="translate(250.1 390.2)"><polygon points="-3.5,-0.2 -0.6,1.7 -0.6,-7.6 -3.5,-9.5" fill="url(#gl3)"/><polygon points="-0.6,1.7 3.5,0.2 3.5,-9.2 -0.6,-7.6" fill="url(#gr3)"/><polygon points="-3.5,-9.5 -0.6,-7.6 3.5,-9.2 0.6,-11.1" fill="#006bb2"/><path d="M-3.5 -1.7L-0.6 0.2L3.5 -1.4M-3.5 -3.2L-0.6 -1.3L3.5 -2.9M-3.5 -4.8L-0.6 -2.9L3.5 -4.5M-3.5 -6.3L-0.6 -4.4L3.5 -6M-3.5 -7.9L-0.6 -6L3.5 -7.5M-3.5 -9.4L-0.6 -7.5L3.5 -9.1" class="s e3"/><path d="M-3.5 -9.5L-0.6 -7.6L3.5 -9.2L0.6 -11.1ZM-3.5 -9.5V-0.2L-0.6 1.7L3.5 0.2V-9.2M-0.6 1.7V-7.6" class="e e3"/></g>
<g transform="translate(241.7 393.5)"><polygon points="-3.5,-0.2 -0.6,1.7 -0.6,-8.1 -3.5,-10" fill="url(#gl3)"/><polygon points="-0.6,1.7 3.5,0.2 3.5,-9.6 -0.6,-8.1" fill="url(#gr3)"/><polygon points="-3.5,-10 -0.6,-8.1 3.5,-9.6 0.6,-11.5" fill="#006bb2"/><path d="M-3.5 -1.7L-0.6 0.2L3.5 -1.4M-3.5 -3.2L-0.6 -1.3L3.5 -2.9M-3.5 -4.8L-0.6 -2.9L3.5 -4.5M-3.5 -6.3L-0.6 -4.4L3.5 -6M-3.5 -7.9L-0.6 -6L3.5 -7.5M-3.5 -9.4L-0.6 -7.5L3.5 -9.1" class="s e3"/><path d="M-3.5 -10L-0.6 -8.1L3.5 -9.6L0.6 -11.5ZM-3.5 -10V-0.2L-0.6 1.7L3.5 0.2V-9.6M-0.6 1.7V-8.1" class="e e3"/></g>
<g transform="translate(233.2 396.7)"><polygon points="-3.5,-0.2 -0.6,1.7 -0.6,-9.7 -3.5,-11.7" fill="url(#gl3)"/><polygon points="-0.6,1.7 3.5,0.2 3.5,-11.3 -0.6,-9.7" fill="url(#gr3)"/><polygon points="-3.5,-11.7 -0.6,-9.7 3.5,-11.3 0.6,-13.2" fill="#006bb2"/><path d="M-3.5 -1.7L-0.6 0.2L3.5 -1.4M-3.5 -3.2L-0.6 -1.3L3.5 -2.9M-3.5 -4.8L-0.6 -2.9L3.5 -4.5M-3.5 -6.3L-0.6 -4.4L3.5 -6M-3.5 -7.9L-0.6 -6L3.5 -7.5M-3.5 -9.4L-0.6 -7.5L3.5 -9.1M-3.5 -10.9L-0.6 -9L3.5 -10.6" class="s e3"/><path d="M-3.5 -11.7L-0.6 -9.7L3.5 -11.3L0.6 -13.2ZM-3.5 -11.7V-0.2L-0.6 1.7L3.5 0.2V-11.3M-0.6 1.7V-9.7" class="e e3"/></g>
<g transform="translate(224.8 399.9)"><polygon points="-3.5,-0.2 -0.6,1.7 -0.6,-9.5 -3.5,-11.4" fill="url(#gl3)"/><polygon points="-0.6,1.7 3.5,0.2 3.5,-11.1 -0.6,-9.5" fill="url(#gr3)"/><polygon points="-3.5,-11.4 -0.6,-9.5 3.5,-11.1 0.6,-13" fill="#006bb2"/><path d="M-3.5 -1.7L-0.6 0.2L3.5 -1.4M-3.5 -3.2L-0.6 -1.3L3.5 -2.9M-3.5 -4.8L-0.6 -2.9L3.5 -4.5M-3.5 -6.3L-0.6 -4.4L3.5 -6M-3.5 -7.9L-0.6 -6L3.5 -7.5M-3.5 -9.4L-0.6 -7.5L3.5 -9.1M-3.5 -10.9L-0.6 -9L3.5 -10.6" class="s e3"/><path d="M-3.5 -11.4L-0.6 -9.5L3.5 -11.1L0.6 -13ZM-3.5 -11.4V-0.2L-0.6 1.7L3.5 0.2V-11.1M-0.6 1.7V-9.5" class="e e3"/></g>
<g transform="translate(216.3 403.1)"><polygon points="-3.5,-0.2 -0.6,1.7 -0.6,-6.8 -3.5,-8.7" fill="url(#gl3)"/><polygon points="-0.6,1.7 3.5,0.2 3.5,-8.4 -0.6,-6.8" fill="url(#gr3)"/><polygon points="-3.5,-8.7 -0.6,-6.8 3.5,-8.4 0.6,-10.3" fill="#006bb2"/><path d="M-3.5 -1.7L-0.6 0.2L3.5 -1.4M-3.5 -3.2L-0.6 -1.3L3.5 -2.9M-3.5 -4.8L-0.6 -2.9L3.5 -4.5M-3.5 -6.3L-0.6 -4.4L3.5 -6M-3.5 -7.9L-0.6 -6L3.5 -7.5" class="s e3"/><path d="M-3.5 -8.7L-0.6 -6.8L3.5 -8.4L0.6 -10.3ZM-3.5 -8.7V-0.2L-0.6 1.7L3.5 0.2V-8.4M-0.6 1.7V-6.8" class="e e3"/></g>
<g transform="translate(207.9 406.3)"><polygon points="-3.5,-0.2 -0.6,1.7 -0.6,-6.3 -3.5,-8.2" fill="url(#gl3)"/><polygon points="-0.6,1.7 3.5,0.2 3.5,-7.8 -0.6,-6.3" fill="url(#gr3)"/><polygon points="-3.5,-8.2 -0.6,-6.3 3.5,-7.8 0.6,-9.7" fill="#006bb2"/><path d="M-3.5 -1.7L-0.6 0.2L3.5 -1.4M-3.5 -3.2L-0.6 -1.3L3.5 -2.9M-3.5 -4.8L-0.6 -2.9L3.5 -4.5M-3.5 -6.3L-0.6 -4.4L3.5 -6M-3.5 -7.9L-0.6 -6L3.5 -7.5" class="s e3"/><path d="M-3.5 -8.2L-0.6 -6.3L3.5 -7.8L0.6 -9.7ZM-3.5 -8.2V-0.2L-0.6 1.7L3.5 0.2V-7.8M-0.6 1.7V-6.3" class="e e3"/></g>
<g transform="translate(199.4 409.5)"><polygon points="-3.5,-0.2 -0.6,1.7 -0.6,-5.6 -3.5,-7.5" fill="url(#gl3)"/><polygon points="-0.6,1.7 3.5,0.2 3.5,-7.1 -0.6,-5.6" fill="url(#gr3)"/><polygon points="-3.5,-7.5 -0.6,-5.6 3.5,-7.1 0.6,-9" fill="#006bb2"/><path d="M-3.5 -1.7L-0.6 0.2L3.5 -1.4M-3.5 -3.2L-0.6 -1.3L3.5 -2.9M-3.5 -4.8L-0.6 -2.9L3.5 -4.5M-3.5 -6.3L-0.6 -4.4L3.5 -6" class="s e3"/><path d="M-3.5 -7.5L-0.6 -5.6L3.5 -7.1L0.6 -9ZM-3.5 -7.5V-0.2L-0.6 1.7L3.5 0.2V-7.1M-0.6 1.7V-5.6" class="e e3"/></g>
<g transform="translate(191 412.7)"><polygon points="-3.5,-0.2 -0.6,1.7 -0.6,-4.8 -3.5,-6.7" fill="url(#gl3)"/><polygon points="-0.6,1.7 3.5,0.2 3.5,-6.4 -0.6,-4.8" fill="url(#gr3)"/><polygon points="-3.5,-6.7 -0.6,-4.8 3.5,-6.4 0.6,-8.3" fill="#006bb2"/><path d="M-3.5 -1.7L-0.6 0.2L3.5 -1.4M-3.5 -3.2L-0.6 -1.3L3.5 -2.9M-3.5 -4.8L-0.6 -2.9L3.5 -4.5M-3.5 -6.3L-0.6 -4.4L3.5 -6" class="s e3"/><path d="M-3.5 -6.7L-0.6 -4.8L3.5 -6.4L0.6 -8.3ZM-3.5 -6.7V-0.2L-0.6 1.7L3.5 0.2V-6.4M-0.6 1.7V-4.8" class="e e3"/></g>
<g transform="translate(290 390.2)"><polygon points="-3.5,-0.2 -0.6,1.7 -0.6,-6.4 -3.5,-8.3" fill="url(#gl0)"/><polygon points="-0.6,1.7 3.5,0.2 3.5,-7.9 -0.6,-6.4" fill="url(#gr0)"/><polygon points="-3.5,-8.3 -0.6,-6.4 3.5,-7.9 0.6,-9.9" fill="#762c85"/><path d="M-3.5 -1.7L-0.6 0.2L3.5 -1.4M-3.5 -3.2L-0.6 -1.3L3.5 -2.9M-3.5 -4.8L-0.6 -2.9L3.5 -4.5M-3.5 -6.3L-0.6 -4.4L3.5 -6M-3.5 -7.9L-0.6 -6L3.5 -7.5" class="s e0"/><path d="M-3.5 -8.3L-0.6 -6.4L3.5 -7.9L0.6 -9.9ZM-3.5 -8.3V-0.2L-0.6 1.7L3.5 0.2V-7.9M-0.6 1.7V-6.4" class="e e0"/></g>
<g transform="translate(281.6 393.4)"><polygon points="-3.5,-0.2 -0.6,1.7 -0.6,-7.5 -3.5,-9.4" fill="url(#gl0)"/><polygon points="-0.6,1.7 3.5,0.2 3.5,-9 -0.6,-7.5" fill="url(#gr0)"/><polygon points="-3.5,-9.4 -0.6,-7.5 3.5,-9 0.6,-10.9" fill="#762c85"/><path d="M-3.5 -1.7L-0.6 0.2L3.5 -1.4M-3.5 -3.2L-0.6 -1.3L3.5 -2.9M-3.5 -4.8L-0.6 -2.9L3.5 -4.5M-3.5 -6.3L-0.6 -4.4L3.5 -6M-3.5 -7.9L-0.6 -6L3.5 -7.5" class="s e0"/><path d="M-3.5 -9.4L-0.6 -7.5L3.5 -9L0.6 -10.9ZM-3.5 -9.4V-0.2L-0.6 1.7L3.5 0.2V-9M-0.6 1.7V-7.5" class="e e0"/></g>
<g transform="translate(273.1 396.6)"><polygon points="-3.5,-0.2 -0.6,1.7 -0.6,-7.3 -3.5,-9.3" fill="url(#gl0)"/><polygon points="-0.6,1.7 3.5,0.2 3.5,-8.9 -0.6,-7.3" fill="url(#gr0)"/><polygon points="-3.5,-9.3 -0.6,-7.3 3.5,-8.9 0.6,-10.8" fill="#762c85"/><path d="M-3.5 -1.7L-0.6 0.2L3.5 -1.4M-3.5 -3.2L-0.6 -1.3L3.5 -2.9M-3.5 -4.8L-0.6 -2.9L3.5 -4.5M-3.5 -6.3L-0.6 -4.4L3.5 -6M-3.5 -7.9L-0.6 -6L3.5 -7.5" class="s e0"/><path d="M-3.5 -9.3L-0.6 -7.3L3.5 -8.9L0.6 -10.8ZM-3.5 -9.3V-0.2L-0.6 1.7L3.5 0.2V-8.9M-0.6 1.7V-7.3" class="e e0"/></g>
<g transform="translate(264.6 399.8)"><polygon points="-3.5,-0.2 -0.6,1.7 -0.6,-8.4 -3.5,-10.3" fill="url(#gl0)"/><polygon points="-0.6,1.7 3.5,0.2 3.5,-10 -0.6,-8.4" fill="url(#gr0)"/><polygon points="-3.5,-10.3 -0.6,-8.4 3.5,-10 0.6,-11.9" fill="#762c85"/><path d="M-3.5 -1.7L-0.6 0.2L3.5 -1.4M-3.5 -3.2L-0.6 -1.3L3.5 -2.9M-3.5 -4.8L-0.6 -2.9L3.5 -4.5M-3.5 -6.3L-0.6 -4.4L3.5 -6M-3.5 -7.9L-0.6 -6L3.5 -7.5M-3.5 -9.4L-0.6 -7.5L3.5 -9.1" class="s e0"/><path d="M-3.5 -10.3L-0.6 -8.4L3.5 -10L0.6 -11.9ZM-3.5 -10.3V-0.2L-0.6 1.7L3.5 0.2V-10M-0.6 1.7V-8.4" class="e e0"/></g>
<g transform="translate(256.2 403)"><polygon points="-3.5,-0.2 -0.6,1.7 -0.6,-10.4 -3.5,-12.3" fill="url(#gl0)"/><polygon points="-0.6,1.7 3.5,0.2 3.5,-12 -0.6,-10.4" fill="url(#gr0)"/><polygon points="-3.5,-12.3 -0.6,-10.4 3.5,-12 0.6,-13.9" fill="#762c85"/><path d="M-3.5 -1.7L-0.6 0.2L3.5 -1.4M-3.5 -3.2L-0.6 -1.3L3.5 -2.9M-3.5 -4.8L-0.6 -2.9L3.5 -4.5M-3.5 -6.3L-0.6 -4.4L3.5 -6M-3.5 -7.9L-0.6 -6L3.5 -7.5M-3.5 -9.4L-0.6 -7.5L3.5 -9.1M-3.5 -10.9L-0.6 -9L3.5 -10.6" class="s e0"/><path d="M-3.5 -12.3L-0.6 -10.4L3.5 -12L0.6 -13.9ZM-3.5 -12.3V-0.2L-0.6 1.7L3.5 0.2V-12M-0.6 1.7V-10.4" class="e e0"/></g>
<g transform="translate(247.8 406.2)"><polygon points="-3.5,-0.2 -0.6,1.7 -0.6,-10.1 -3.5,-12" fill="url(#gl0)"/><polygon points="-0.6,1.7 3.5,0.2 3.5,-11.7 -0.6,-10.1" fill="url(#gr0)"/><polygon points="-3.5,-12 -0.6,-10.1 3.5,-11.7 0.6,-13.6" fill="#762c85"/><path d="M-3.5 -1.7L-0.6 0.2L3.5 -1.4M-3.5 -3.2L-0.6 -1.3L3.5 -2.9M-3.5 -4.8L-0.6 -2.9L3.5 -4.5M-3.5 -6.3L-0.6 -4.4L3.5 -6M-3.5 -7.9L-0.6 -6L3.5 -7.5M-3.5 -9.4L-0.6 -7.5L3.5 -9.1M-3.5 -10.9L-0.6 -9L3.5 -10.6" class="s e0"/><path d="M-3.5 -12L-0.6 -10.1L3.5 -11.7L0.6 -13.6ZM-3.5 -12V-0.2L-0.6 1.7L3.5 0.2V-11.7M-0.6 1.7V-10.1" class="e e0"/></g>
<g transform="translate(239.3 409.5)"><polygon points="-3.5,-0.2 -0.6,1.7 -0.6,-8.5 -3.5,-10.4" fill="url(#gl0)"/><polygon points="-0.6,1.7 3.5,0.2 3.5,-10.1 -0.6,-8.5" fill="url(#gr0)"/><polygon points="-3.5,-10.4 -0.6,-8.5 3.5,-10.1 0.6,-12" fill="#762c85"/><path d="M-3.5 -1.7L-0.6 0.2L3.5 -1.4M-3.5 -3.2L-0.6 -1.3L3.5 -2.9M-3.5 -4.8L-0.6 -2.9L3.5 -4.5M-3.5 -6.3L-0.6 -4.4L3.5 -6M-3.5 -7.9L-0.6 -6L3.5 -7.5M-3.5 -9.4L-0.6 -7.5L3.5 -9.1" class="s e0"/><path d="M-3.5 -10.4L-0.6 -8.5L3.5 -10.1L0.6 -12ZM-3.5 -10.4V-0.2L-0.6 1.7L3.5 0.2V-10.1M-0.6 1.7V-8.5" class="e e0"/></g>
<g transform="translate(230.8 412.7)"><polygon points="-3.5,-0.2 -0.6,1.7 -0.6,-6.9 -3.5,-8.8" fill="url(#gl0)"/><polygon points="-0.6,1.7 3.5,0.2 3.5,-8.5 -0.6,-6.9" fill="url(#gr0)"/><polygon points="-3.5,-8.8 -0.6,-6.9 3.5,-8.5 0.6,-10.4" fill="#762c85"/><path d="M-3.5 -1.7L-0.6 0.2L3.5 -1.4M-3.5 -3.2L-0.6 -1.3L3.5 -2.9M-3.5 -4.8L-0.6 -2.9L3.5 -4.5M-3.5 -6.3L-0.6 -4.4L3.5 -6M-3.5 -7.9L-0.6 -6L3.5 -7.5" class="s e0"/><path d="M-3.5 -8.8L-0.6 -6.9L3.5 -8.5L0.6 -10.4ZM-3.5 -8.8V-0.2L-0.6 1.7L3.5 0.2V-8.5M-0.6 1.7V-6.9" class="e e0"/></g>
<g transform="translate(222.4 415.9)"><polygon points="-3.5,-0.2 -0.6,1.7 -0.6,-6.7 -3.5,-8.6" fill="url(#gl0)"/><polygon points="-0.6,1.7 3.5,0.2 3.5,-8.2 -0.6,-6.7" fill="url(#gr0)"/><polygon points="-3.5,-8.6 -0.6,-6.7 3.5,-8.2 0.6,-10.1" fill="#762c85"/><path d="M-3.5 -1.7L-0.6 0.2L3.5 -1.4M-3.5 -3.2L-0.6 -1.3L3.5 -2.9M-3.5 -4.8L-0.6 -2.9L3.5 -4.5M-3.5 -6.3L-0.6 -4.4L3.5 -6M-3.5 -7.9L-0.6 -6L3.5 -7.5" class="s e0"/><path d="M-3.5 -8.6L-0.6 -6.7L3.5 -8.2L0.6 -10.1ZM-3.5 -8.6V-0.2L-0.6 1.7L3.5 0.2V-8.2M-0.6 1.7V-6.7" class="e e0"/></g>
<g transform="translate(213.9 419.1)"><polygon points="-3.5,-0.2 -0.6,1.7 -0.6,-6.3 -3.5,-8.2" fill="url(#gl0)"/><polygon points="-0.6,1.7 3.5,0.2 3.5,-7.8 -0.6,-6.3" fill="url(#gr0)"/><polygon points="-3.5,-8.2 -0.6,-6.3 3.5,-7.8 0.6,-9.7" fill="#762c85"/><path d="M-3.5 -1.7L-0.6 0.2L3.5 -1.4M-3.5 -3.2L-0.6 -1.3L3.5 -2.9M-3.5 -4.8L-0.6 -2.9L3.5 -4.5M-3.5 -6.3L-0.6 -4.4L3.5 -6M-3.5 -7.9L-0.6 -6L3.5 -7.5" class="s e0"/><path d="M-3.5 -8.2L-0.6 -6.3L3.5 -7.8L0.6 -9.7ZM-3.5 -8.2V-0.2L-0.6 1.7L3.5 0.2V-7.8M-0.6 1.7V-6.3" class="e e0"/></g>
<g transform="translate(205.5 422.3)"><polygon points="-3.5,-0.2 -0.6,1.7 -0.6,-5.1 -3.5,-7" fill="url(#gl0)"/><polygon points="-0.6,1.7 3.5,0.2 3.5,-6.7 -0.6,-5.1" fill="url(#gr0)"/><polygon points="-3.5,-7 -0.6,-5.1 3.5,-6.7 0.6,-8.6" fill="#762c85"/><path d="M-3.5 -1.7L-0.6 0.2L3.5 -1.4M-3.5 -3.2L-0.6 -1.3L3.5 -2.9M-3.5 -4.8L-0.6 -2.9L3.5 -4.5M-3.5 -6.3L-0.6 -4.4L3.5 -6" class="s e0"/><path d="M-3.5 -7L-0.6 -5.1L3.5 -6.7L0.6 -8.6ZM-3.5 -7V-0.2L-0.6 1.7L3.5 0.2V-6.7M-0.6 1.7V-5.1" class="e e0"/></g>
<g transform="translate(296 394.1)"><polygon points="-3.5,-0.2 -0.6,1.7 -0.6,-6.4 -3.5,-8.3" fill="url(#gl1)"/><polygon points="-0.6,1.7 3.5,0.2 3.5,-7.9 -0.6,-6.4" fill="url(#gr1)"/><polygon points="-3.5,-8.3 -0.6,-6.4 3.5,-7.9 0.6,-9.9" fill="#dfa61e"/><path d="M-3.5 -1.7L-0.6 0.2L3.5 -1.4M-3.5 -3.2L-0.6 -1.3L3.5 -2.9M-3.5 -4.8L-0.6 -2.9L3.5 -4.5M-3.5 -6.3L-0.6 -4.4L3.5 -6M-3.5 -7.9L-0.6 -6L3.5 -7.5" class="s e1"/><path d="M-3.5 -8.3L-0.6 -6.4L3.5 -7.9L0.6 -9.9ZM-3.5 -8.3V-0.2L-0.6 1.7L3.5 0.2V-7.9M-0.6 1.7V-6.4" class="e e1"/></g>
<g transform="translate(287.6 397.3)"><polygon points="-3.5,-0.2 -0.6,1.7 -0.6,-7.5 -3.5,-9.4" fill="url(#gl1)"/><polygon points="-0.6,1.7 3.5,0.2 3.5,-9 -0.6,-7.5" fill="url(#gr1)"/><polygon points="-3.5,-9.4 -0.6,-7.5 3.5,-9 0.6,-10.9" fill="#dfa61e"/><path d="M-3.5 -1.7L-0.6 0.2L3.5 -1.4M-3.5 -3.2L-0.6 -1.3L3.5 -2.9M-3.5 -4.8L-0.6 -2.9L3.5 -4.5M-3.5 -6.3L-0.6 -4.4L3.5 -6M-3.5 -7.9L-0.6 -6L3.5 -7.5" class="s e1"/><path d="M-3.5 -9.4L-0.6 -7.5L3.5 -9L0.6 -10.9ZM-3.5 -9.4V-0.2L-0.6 1.7L3.5 0.2V-9M-0.6 1.7V-7.5" class="e e1"/></g>
<g transform="translate(279.1 400.5)"><polygon points="-3.5,-0.2 -0.6,1.7 -0.6,-7.9 -3.5,-9.9" fill="url(#gl1)"/><polygon points="-0.6,1.7 3.5,0.2 3.5,-9.5 -0.6,-7.9" fill="url(#gr1)"/><polygon points="-3.5,-9.9 -0.6,-7.9 3.5,-9.5 0.6,-11.4" fill="#dfa61e"/><path d="M-3.5 -1.7L-0.6 0.2L3.5 -1.4M-3.5 -3.2L-0.6 -1.3L3.5 -2.9M-3.5 -4.8L-0.6 -2.9L3.5 -4.5M-3.5 -6.3L-0.6 -4.4L3.5 -6M-3.5 -7.9L-0.6 -6L3.5 -7.5M-3.5 -9.4L-0.6 -7.5L3.5 -9.1" class="s e1"/><path d="M-3.5 -9.9L-0.6 -7.9L3.5 -9.5L0.6 -11.4ZM-3.5 -9.9V-0.2L-0.6 1.7L3.5 0.2V-9.5M-0.6 1.7V-7.9" class="e e1"/></g>
<g transform="translate(270.6 403.7)"><polygon points="-3.5,-0.2 -0.6,1.7 -0.6,-8 -3.5,-9.9" fill="url(#gl1)"/><polygon points="-0.6,1.7 3.5,0.2 3.5,-9.6 -0.6,-8" fill="url(#gr1)"/><polygon points="-3.5,-9.9 -0.6,-8 3.5,-9.6 0.6,-11.5" fill="#dfa61e"/><path d="M-3.5 -1.7L-0.6 0.2L3.5 -1.4M-3.5 -3.2L-0.6 -1.3L3.5 -2.9M-3.5 -4.8L-0.6 -2.9L3.5 -4.5M-3.5 -6.3L-0.6 -4.4L3.5 -6M-3.5 -7.9L-0.6 -6L3.5 -7.5M-3.5 -9.4L-0.6 -7.5L3.5 -9.1" class="s e1"/><path d="M-3.5 -9.9L-0.6 -8L3.5 -9.6L0.6 -11.5ZM-3.5 -9.9V-0.2L-0.6 1.7L3.5 0.2V-9.6M-0.6 1.7V-8" class="e e1"/></g>
<g transform="translate(262.2 406.9)"><polygon points="-3.5,-0.2 -0.6,1.7 -0.6,-9.2 -3.5,-11.1" fill="url(#gl1)"/><polygon points="-0.6,1.7 3.5,0.2 3.5,-10.8 -0.6,-9.2" fill="url(#gr1)"/><polygon points="-3.5,-11.1 -0.6,-9.2 3.5,-10.8 0.6,-12.7" fill="#dfa61e"/><path d="M-3.5 -1.7L-0.6 0.2L3.5 -1.4M-3.5 -3.2L-0.6 -1.3L3.5 -2.9M-3.5 -4.8L-0.6 -2.9L3.5 -4.5M-3.5 -6.3L-0.6 -4.4L3.5 -6M-3.5 -7.9L-0.6 -6L3.5 -7.5M-3.5 -9.4L-0.6 -7.5L3.5 -9.1M-3.5 -10.9L-0.6 -9L3.5 -10.6" class="s e1"/><path d="M-3.5 -11.1L-0.6 -9.2L3.5 -10.8L0.6 -12.7ZM-3.5 -11.1V-0.2L-0.6 1.7L3.5 0.2V-10.8M-0.6 1.7V-9.2" class="e e1"/></g>
<g transform="translate(253.8 410.1)"><polygon points="-3.5,-0.2 -0.6,1.7 -0.6,-9.2 -3.5,-11.1" fill="url(#gl1)"/><polygon points="-0.6,1.7 3.5,0.2 3.5,-10.8 -0.6,-9.2" fill="url(#gr1)"/><polygon points="-3.5,-11.1 -0.6,-9.2 3.5,-10.8 0.6,-12.7" fill="#dfa61e"/><path d="M-3.5 -1.7L-0.6 0.2L3.5 -1.4M-3.5 -3.2L-0.6 -1.3L3.5 -2.9M-3.5 -4.8L-0.6 -2.9L3.5 -4.5M-3.5 -6.3L-0.6 -4.4L3.5 -6M-3.5 -7.9L-0.6 -6L3.5 -7.5M-3.5 -9.4L-0.6 -7.5L3.5 -9.1M-3.5 -10.9L-0.6 -9L3.5 -10.6" class="s e1"/><path d="M-3.5 -11.1L-0.6 -9.2L3.5 -10.8L0.6 -12.7ZM-3.5 -11.1V-0.2L-0.6 1.7L3.5 0.2V-10.8M-0.6 1.7V-9.2" class="e e1"/></g>
<g transform="translate(245.3 413.4)"><polygon points="-3.5,-0.2 -0.6,1.7 -0.6,-7 -3.5,-8.9" fill="url(#gl1)"/><polygon points="-0.6,1.7 3.5,0.2 3.5,-8.6 -0.6,-7" fill="url(#gr1)"/><polygon points="-3.5,-8.9 -0.6,-7 3.5,-8.6 0.6,-10.5" fill="#dfa61e"/><path d="M-3.5 -1.7L-0.6 0.2L3.5 -1.4M-3.5 -3.2L-0.6 -1.3L3.5 -2.9M-3.5 -4.8L-0.6 -2.9L3.5 -4.5M-3.5 -6.3L-0.6 -4.4L3.5 -6M-3.5 -7.9L-0.6 -6L3.5 -7.5" class="s e1"/><path d="M-3.5 -8.9L-0.6 -7L3.5 -8.6L0.6 -10.5ZM-3.5 -8.9V-0.2L-0.6 1.7L3.5 0.2V-8.6M-0.6 1.7V-7" class="e e1"/></g>
<g transform="translate(236.8 416.6)"><polygon points="-3.5,-0.2 -0.6,1.7 -0.6,-6.5 -3.5,-8.4" fill="url(#gl1)"/><polygon points="-0.6,1.7 3.5,0.2 3.5,-8.1 -0.6,-6.5" fill="url(#gr1)"/><polygon points="-3.5,-8.4 -0.6,-6.5 3.5,-8.1 0.6,-10" fill="#dfa61e"/><path d="M-3.5 -1.7L-0.6 0.2L3.5 -1.4M-3.5 -3.2L-0.6 -1.3L3.5 -2.9M-3.5 -4.8L-0.6 -2.9L3.5 -4.5M-3.5 -6.3L-0.6 -4.4L3.5 -6M-3.5 -7.9L-0.6 -6L3.5 -7.5" class="s e1"/><path d="M-3.5 -8.4L-0.6 -6.5L3.5 -8.1L0.6 -10ZM-3.5 -8.4V-0.2L-0.6 1.7L3.5 0.2V-8.1M-0.6 1.7V-6.5" class="e e1"/></g>
<g transform="translate(228.4 419.8)"><polygon points="-3.5,-0.2 -0.6,1.7 -0.6,-6.2 -3.5,-8.1" fill="url(#gl1)"/><polygon points="-0.6,1.7 3.5,0.2 3.5,-7.8 -0.6,-6.2" fill="url(#gr1)"/><polygon points="-3.5,-8.1 -0.6,-6.2 3.5,-7.8 0.6,-9.7" fill="#dfa61e"/><path d="M-3.5 -1.7L-0.6 0.2L3.5 -1.4M-3.5 -3.2L-0.6 -1.3L3.5 -2.9M-3.5 -4.8L-0.6 -2.9L3.5 -4.5M-3.5 -6.3L-0.6 -4.4L3.5 -6M-3.5 -7.9L-0.6 -6L3.5 -7.5" class="s e1"/><path d="M-3.5 -8.1L-0.6 -6.2L3.5 -7.8L0.6 -9.7ZM-3.5 -8.1V-0.2L-0.6 1.7L3.5 0.2V-7.8M-0.6 1.7V-6.2" class="e e1"/></g>
<g transform="translate(219.9 423)"><polygon points="-3.5,-0.2 -0.6,1.7 -0.6,-5.7 -3.5,-7.6" fill="url(#gl1)"/><polygon points="-0.6,1.7 3.5,0.2 3.5,-7.2 -0.6,-5.7" fill="url(#gr1)"/><polygon points="-3.5,-7.6 -0.6,-5.7 3.5,-7.2 0.6,-9.1" fill="#dfa61e"/><path d="M-3.5 -1.7L-0.6 0.2L3.5 -1.4M-3.5 -3.2L-0.6 -1.3L3.5 -2.9M-3.5 -4.8L-0.6 -2.9L3.5 -4.5M-3.5 -6.3L-0.6 -4.4L3.5 -6" class="s e1"/><path d="M-3.5 -7.6L-0.6 -5.7L3.5 -7.2L0.6 -9.1ZM-3.5 -7.6V-0.2L-0.6 1.7L3.5 0.2V-7.2M-0.6 1.7V-5.7" class="e e1"/></g>
<g transform="translate(211.5 426.2)"><polygon points="-3.5,-0.2 -0.6,1.7 -0.6,-5.2 -3.5,-7.1" fill="url(#gl1)"/><polygon points="-0.6,1.7 3.5,0.2 3.5,-6.8 -0.6,-5.2" fill="url(#gr1)"/><polygon points="-3.5,-7.1 -0.6,-5.2 3.5,-6.8 0.6,-8.7" fill="#dfa61e"/><path d="M-3.5 -1.7L-0.6 0.2L3.5 -1.4M-3.5 -3.2L-0.6 -1.3L3.5 -2.9M-3.5 -4.8L-0.6 -2.9L3.5 -4.5M-3.5 -6.3L-0.6 -4.4L3.5 -6" class="s e1"/><path d="M-3.5 -7.1L-0.6 -5.2L3.5 -6.8L0.6 -8.7ZM-3.5 -7.1V-0.2L-0.6 1.7L3.5 0.2V-6.8M-0.6 1.7V-5.2" class="e e1"/></g>
<g transform="translate(302 398)"><polygon points="-3.5,-0.2 -0.6,1.7 -0.6,-6.5 -3.5,-8.4" fill="url(#gl2)"/><polygon points="-0.6,1.7 3.5,0.2 3.5,-8.1 -0.6,-6.5" fill="url(#gr2)"/><polygon points="-3.5,-8.4 -0.6,-6.5 3.5,-8.1 0.6,-10" fill="#cc4e18"/><path d="M-3.5 -1.7L-0.6 0.2L3.5 -1.4M-3.5 -3.2L-0.6 -1.3L3.5 -2.9M-3.5 -4.8L-0.6 -2.9L3.5 -4.5M-3.5 -6.3L-0.6 -4.4L3.5 -6M-3.5 -7.9L-0.6 -6L3.5 -7.5" class="s e2"/><path d="M-3.5 -8.4L-0.6 -6.5L3.5 -8.1L0.6 -10ZM-3.5 -8.4V-0.2L-0.6 1.7L3.5 0.2V-8.1M-0.6 1.7V-6.5" class="e e2"/></g>
<g transform="translate(293.6 401.2)"><polygon points="-3.5,-0.2 -0.6,1.7 -0.6,-7.6 -3.5,-9.5" fill="url(#gl2)"/><polygon points="-0.6,1.7 3.5,0.2 3.5,-9.2 -0.6,-7.6" fill="url(#gr2)"/><polygon points="-3.5,-9.5 -0.6,-7.6 3.5,-9.2 0.6,-11.1" fill="#cc4e18"/><path d="M-3.5 -1.7L-0.6 0.2L3.5 -1.4M-3.5 -3.2L-0.6 -1.3L3.5 -2.9M-3.5 -4.8L-0.6 -2.9L3.5 -4.5M-3.5 -6.3L-0.6 -4.4L3.5 -6M-3.5 -7.9L-0.6 -6L3.5 -7.5M-3.5 -9.4L-0.6 -7.5L3.5 -9.1" class="s e2"/><path d="M-3.5 -9.5L-0.6 -7.6L3.5 -9.2L0.6 -11.1ZM-3.5 -9.5V-0.2L-0.6 1.7L3.5 0.2V-9.2M-0.6 1.7V-7.6" class="e e2"/></g>
<g transform="translate(285.1 404.4)"><polygon points="-3.5,-0.2 -0.6,1.7 -0.6,-7.5 -3.5,-9.4" fill="url(#gl2)"/><polygon points="-0.6,1.7 3.5,0.2 3.5,-9.1 -0.6,-7.5" fill="url(#gr2)"/><polygon points="-3.5,-9.4 -0.6,-7.5 3.5,-9.1 0.6,-11" fill="#cc4e18"/><path d="M-3.5 -1.7L-0.6 0.2L3.5 -1.4M-3.5 -3.2L-0.6 -1.3L3.5 -2.9M-3.5 -4.8L-0.6 -2.9L3.5 -4.5M-3.5 -6.3L-0.6 -4.4L3.5 -6M-3.5 -7.9L-0.6 -6L3.5 -7.5" class="s e2"/><path d="M-3.5 -9.4L-0.6 -7.5L3.5 -9.1L0.6 -11ZM-3.5 -9.4V-0.2L-0.6 1.7L3.5 0.2V-9.1M-0.6 1.7V-7.5" class="e e2"/></g>
<g transform="translate(276.6 407.6)"><polygon points="-3.5,-0.2 -0.6,1.7 -0.6,-8.1 -3.5,-10" fill="url(#gl2)"/><polygon points="-0.6,1.7 3.5,0.2 3.5,-9.7 -0.6,-8.1" fill="url(#gr2)"/><polygon points="-3.5,-10 -0.6,-8.1 3.5,-9.7 0.6,-11.6" fill="#cc4e18"/><path d="M-3.5 -1.7L-0.6 0.2L3.5 -1.4M-3.5 -3.2L-0.6 -1.3L3.5 -2.9M-3.5 -4.8L-0.6 -2.9L3.5 -4.5M-3.5 -6.3L-0.6 -4.4L3.5 -6M-3.5 -7.9L-0.6 -6L3.5 -7.5M-3.5 -9.4L-0.6 -7.5L3.5 -9.1" class="s e2"/><path d="M-3.5 -10L-0.6 -8.1L3.5 -9.7L0.6 -11.6ZM-3.5 -10V-0.2L-0.6 1.7L3.5 0.2V-9.7M-0.6 1.7V-8.1" class="e e2"/></g>
<g transform="translate(268.2 410.8)"><polygon points="-3.5,-0.2 -0.6,1.7 -0.6,-8.8 -3.5,-10.7" fill="url(#gl2)"/><polygon points="-0.6,1.7 3.5,0.2 3.5,-10.3 -0.6,-8.8" fill="url(#gr2)"/><polygon points="-3.5,-10.7 -0.6,-8.8 3.5,-10.3 0.6,-12.2" fill="#cc4e18"/><path d="M-3.5 -1.7L-0.6 0.2L3.5 -1.4M-3.5 -3.2L-0.6 -1.3L3.5 -2.9M-3.5 -4.8L-0.6 -2.9L3.5 -4.5M-3.5 -6.3L-0.6 -4.4L3.5 -6M-3.5 -7.9L-0.6 -6L3.5 -7.5M-3.5 -9.4L-0.6 -7.5L3.5 -9.1" class="s e2"/><path d="M-3.5 -10.7L-0.6 -8.8L3.5 -10.3L0.6 -12.2ZM-3.5 -10.7V-0.2L-0.6 1.7L3.5 0.2V-10.3M-0.6 1.7V-8.8" class="e e2"/></g>
<g transform="translate(259.8 414)"><polygon points="-3.5,-0.2 -0.6,1.7 -0.6,-9.2 -3.5,-11.1" fill="url(#gl2)"/><polygon points="-0.6,1.7 3.5,0.2 3.5,-10.8 -0.6,-9.2" fill="url(#gr2)"/><polygon points="-3.5,-11.1 -0.6,-9.2 3.5,-10.8 0.6,-12.7" fill="#cc4e18"/><path d="M-3.5 -1.7L-0.6 0.2L3.5 -1.4M-3.5 -3.2L-0.6 -1.3L3.5 -2.9M-3.5 -4.8L-0.6 -2.9L3.5 -4.5M-3.5 -6.3L-0.6 -4.4L3.5 -6M-3.5 -7.9L-0.6 -6L3.5 -7.5M-3.5 -9.4L-0.6 -7.5L3.5 -9.1M-3.5 -10.9L-0.6 -9L3.5 -10.6" class="s e2"/><path d="M-3.5 -11.1L-0.6 -9.2L3.5 -10.8L0.6 -12.7ZM-3.5 -11.1V-0.2L-0.6 1.7L3.5 0.2V-10.8M-0.6 1.7V-9.2" class="e e2"/></g>
<g transform="translate(251.3 417.2)"><polygon points="-3.5,-0.2 -0.6,1.7 -0.6,-7.6 -3.5,-9.5" fill="url(#gl2)"/><polygon points="-0.6,1.7 3.5,0.2 3.5,-9.2 -0.6,-7.6" fill="url(#gr2)"/><polygon points="-3.5,-9.5 -0.6,-7.6 3.5,-9.2 0.6,-11.1" fill="#cc4e18"/><path d="M-3.5 -1.7L-0.6 0.2L3.5 -1.4M-3.5 -3.2L-0.6 -1.3L3.5 -2.9M-3.5 -4.8L-0.6 -2.9L3.5 -4.5M-3.5 -6.3L-0.6 -4.4L3.5 -6M-3.5 -7.9L-0.6 -6L3.5 -7.5M-3.5 -9.4L-0.6 -7.5L3.5 -9.1" class="s e2"/><path d="M-3.5 -9.5L-0.6 -7.6L3.5 -9.2L0.6 -11.1ZM-3.5 -9.5V-0.2L-0.6 1.7L3.5 0.2V-9.2M-0.6 1.7V-7.6" class="e e2"/></g>
<g transform="translate(242.8 420.4)"><polygon points="-3.5,-0.2 -0.6,1.7 -0.6,-6.5 -3.5,-8.4" fill="url(#gl2)"/><polygon points="-0.6,1.7 3.5,0.2 3.5,-8.1 -0.6,-6.5" fill="url(#gr2)"/><polygon points="-3.5,-8.4 -0.6,-6.5 3.5,-8.1 0.6,-10" fill="#cc4e18"/><path d="M-3.5 -1.7L-0.6 0.2L3.5 -1.4M-3.5 -3.2L-0.6 -1.3L3.5 -2.9M-3.5 -4.8L-0.6 -2.9L3.5 -4.5M-3.5 -6.3L-0.6 -4.4L3.5 -6M-3.5 -7.9L-0.6 -6L3.5 -7.5" class="s e2"/><path d="M-3.5 -8.4L-0.6 -6.5L3.5 -8.1L0.6 -10ZM-3.5 -8.4V-0.2L-0.6 1.7L3.5 0.2V-8.1M-0.6 1.7V-6.5" class="e e2"/></g>
<g transform="translate(234.4 423.7)"><polygon points="-3.5,-0.2 -0.6,1.7 -0.6,-5.8 -3.5,-7.7" fill="url(#gl2)"/><polygon points="-0.6,1.7 3.5,0.2 3.5,-7.3 -0.6,-5.8" fill="url(#gr2)"/><polygon points="-3.5,-7.7 -0.6,-5.8 3.5,-7.3 0.6,-9.2" fill="#cc4e18"/><path d="M-3.5 -1.7L-0.6 0.2L3.5 -1.4M-3.5 -3.2L-0.6 -1.3L3.5 -2.9M-3.5 -4.8L-0.6 -2.9L3.5 -4.5M-3.5 -6.3L-0.6 -4.4L3.5 -6" class="s e2"/><path d="M-3.5 -7.7L-0.6 -5.8L3.5 -7.3L0.6 -9.2ZM-3.5 -7.7V-0.2L-0.6 1.7L3.5 0.2V-7.3M-0.6 1.7V-5.8" class="e e2"/></g>
<g transform="translate(225.9 426.9)"><polygon points="-3.5,-0.2 -0.6,1.7 -0.6,-5.2 -3.5,-7.1" fill="url(#gl2)"/><polygon points="-0.6,1.7 3.5,0.2 3.5,-6.8 -0.6,-5.2" fill="url(#gr2)"/><polygon points="-3.5,-7.1 -0.6,-5.2 3.5,-6.8 0.6,-8.7" fill="#cc4e18"/><path d="M-3.5 -1.7L-0.6 0.2L3.5 -1.4M-3.5 -3.2L-0.6 -1.3L3.5 -2.9M-3.5 -4.8L-0.6 -2.9L3.5 -4.5M-3.5 -6.3L-0.6 -4.4L3.5 -6" class="s e2"/><path d="M-3.5 -7.1L-0.6 -5.2L3.5 -6.8L0.6 -8.7ZM-3.5 -7.1V-0.2L-0.6 1.7L3.5 0.2V-6.8M-0.6 1.7V-5.2" class="e e2"/></g>
<g transform="translate(217.5 430.1)"><polygon points="-3.5,-0.2 -0.6,1.7 -0.6,-5.2 -3.5,-7.1" fill="url(#gl2)"/><polygon points="-0.6,1.7 3.5,0.2 3.5,-6.8 -0.6,-5.2" fill="url(#gr2)"/><polygon points="-3.5,-7.1 -0.6,-5.2 3.5,-6.8 0.6,-8.7" fill="#cc4e18"/><path d="M-3.5 -1.7L-0.6 0.2L3.5 -1.4M-3.5 -3.2L-0.6 -1.3L3.5 -2.9M-3.5 -4.8L-0.6 -2.9L3.5 -4.5M-3.5 -6.3L-0.6 -4.4L3.5 -6" class="s e2"/><path d="M-3.5 -7.1L-0.6 -5.2L3.5 -6.8L0.6 -8.7ZM-3.5 -7.1V-0.2L-0.6 1.7L3.5 0.2V-6.8M-0.6 1.7V-5.2" class="e e2"/></g>
<g transform="translate(308 401.9)"><polygon points="-3.5,-0.2 -0.6,1.7 -0.6,-6.1 -3.5,-8" fill="url(#gl3)"/><polygon points="-0.6,1.7 3.5,0.2 3.5,-7.7 -0.6,-6.1" fill="url(#gr3)"/><polygon points="-3.5,-8 -0.6,-6.1 3.5,-7.7 0.6,-9.6" fill="#006bb2"/><path d="M-3.5 -1.7L-0.6 0.2L3.5 -1.4M-3.5 -3.2L-0.6 -1.3L3.5 -2.9M-3.5 -4.8L-0.6 -2.9L3.5 -4.5M-3.5 -6.3L-0.6 -4.4L3.5 -6M-3.5 -7.9L-0.6 -6L3.5 -7.5" class="s e3"/><path d="M-3.5 -8L-0.6 -6.1L3.5 -7.7L0.6 -9.6ZM-3.5 -8V-0.2L-0.6 1.7L3.5 0.2V-7.7M-0.6 1.7V-6.1" class="e e3"/></g>
<g transform="translate(299.6 405.1)"><polygon points="-3.5,-0.2 -0.6,1.7 -0.6,-7.2 -3.5,-9.1" fill="url(#gl3)"/><polygon points="-0.6,1.7 3.5,0.2 3.5,-8.7 -0.6,-7.2" fill="url(#gr3)"/><polygon points="-3.5,-9.1 -0.6,-7.2 3.5,-8.7 0.6,-10.6" fill="#006bb2"/><path d="M-3.5 -1.7L-0.6 0.2L3.5 -1.4M-3.5 -3.2L-0.6 -1.3L3.5 -2.9M-3.5 -4.8L-0.6 -2.9L3.5 -4.5M-3.5 -6.3L-0.6 -4.4L3.5 -6M-3.5 -7.9L-0.6 -6L3.5 -7.5" class="s e3"/><path d="M-3.5 -9.1L-0.6 -7.2L3.5 -8.7L0.6 -10.6ZM-3.5 -9.1V-0.2L-0.6 1.7L3.5 0.2V-8.7M-0.6 1.7V-7.2" class="e e3"/></g>
<g transform="translate(291.1 408.3)"><polygon points="-3.5,-0.2 -0.6,1.7 -0.6,-7.5 -3.5,-9.4" fill="url(#gl3)"/><polygon points="-0.6,1.7 3.5,0.2 3.5,-9.1 -0.6,-7.5" fill="url(#gr3)"/><polygon points="-3.5,-9.4 -0.6,-7.5 3.5,-9.1 0.6,-11" fill="#006bb2"/><path d="M-3.5 -1.7L-0.6 0.2L3.5 -1.4M-3.5 -3.2L-0.6 -1.3L3.5 -2.9M-3.5 -4.8L-0.6 -2.9L3.5 -4.5M-3.5 -6.3L-0.6 -4.4L3.5 -6M-3.5 -7.9L-0.6 -6L3.5 -7.5" class="s e3"/><path d="M-3.5 -9.4L-0.6 -7.5L3.5 -9.1L0.6 -11ZM-3.5 -9.4V-0.2L-0.6 1.7L3.5 0.2V-9.1M-0.6 1.7V-7.5" class="e e3"/></g>
<g transform="translate(282.6 411.5)"><polygon points="-3.5,-0.2 -0.6,1.7 -0.6,-8.1 -3.5,-10" fill="url(#gl3)"/><polygon points="-0.6,1.7 3.5,0.2 3.5,-9.7 -0.6,-8.1" fill="url(#gr3)"/><polygon points="-3.5,-10 -0.6,-8.1 3.5,-9.7 0.6,-11.6" fill="#006bb2"/><path d="M-3.5 -1.7L-0.6 0.2L3.5 -1.4M-3.5 -3.2L-0.6 -1.3L3.5 -2.9M-3.5 -4.8L-0.6 -2.9L3.5 -4.5M-3.5 -6.3L-0.6 -4.4L3.5 -6M-3.5 -7.9L-0.6 -6L3.5 -7.5M-3.5 -9.4L-0.6 -7.5L3.5 -9.1" class="s e3"/><path d="M-3.5 -10L-0.6 -8.1L3.5 -9.7L0.6 -11.6ZM-3.5 -10V-0.2L-0.6 1.7L3.5 0.2V-9.7M-0.6 1.7V-8.1" class="e e3"/></g>
<g transform="translate(274.2 414.7)"><polygon points="-3.5,-0.2 -0.6,1.7 -0.6,-9.1 -3.5,-11" fill="url(#gl3)"/><polygon points="-0.6,1.7 3.5,0.2 3.5,-10.6 -0.6,-9.1" fill="url(#gr3)"/><polygon points="-3.5,-11 -0.6,-9.1 3.5,-10.6 0.6,-12.5" fill="#006bb2"/><path d="M-3.5 -1.7L-0.6 0.2L3.5 -1.4M-3.5 -3.2L-0.6 -1.3L3.5 -2.9M-3.5 -4.8L-0.6 -2.9L3.5 -4.5M-3.5 -6.3L-0.6 -4.4L3.5 -6M-3.5 -7.9L-0.6 -6L3.5 -7.5M-3.5 -9.4L-0.6 -7.5L3.5 -9.1M-3.5 -10.9L-0.6 -9L3.5 -10.6" class="s e3"/><path d="M-3.5 -11L-0.6 -9.1L3.5 -10.6L0.6 -12.5ZM-3.5 -11V-0.2L-0.6 1.7L3.5 0.2V-10.6M-0.6 1.7V-9.1" class="e e3"/></g>
<g transform="translate(265.8 417.9)"><polygon points="-3.5,-0.2 -0.6,1.7 -0.6,-9.4 -3.5,-11.3" fill="url(#gl3)"/><polygon points="-0.6,1.7 3.5,0.2 3.5,-11 -0.6,-9.4" fill="url(#gr3)"/><polygon points="-3.5,-11.3 -0.6,-9.4 3.5,-11 0.6,-12.9" fill="#006bb2"/><path d="M-3.5 -1.7L-0.6 0.2L3.5 -1.4M-3.5 -3.2L-0.6 -1.3L3.5 -2.9M-3.5 -4.8L-0.6 -2.9L3.5 -4.5M-3.5 -6.3L-0.6 -4.4L3.5 -6M-3.5 -7.9L-0.6 -6L3.5 -7.5M-3.5 -9.4L-0.6 -7.5L3.5 -9.1M-3.5 -10.9L-0.6 -9L3.5 -10.6" class="s e3"/><path d="M-3.5 -11.3L-0.6 -9.4L3.5 -11L0.6 -12.9ZM-3.5 -11.3V-0.2L-0.6 1.7L3.5 0.2V-11M-0.6 1.7V-9.4" class="e e3"/></g>
<g transform="translate(257.3 421.1)"><polygon points="-3.5,-0.2 -0.6,1.7 -0.6,-7.6 -3.5,-9.5" fill="url(#gl3)"/><polygon points="-0.6,1.7 3.5,0.2 3.5,-9.2 -0.6,-7.6" fill="url(#gr3)"/><polygon points="-3.5,-9.5 -0.6,-7.6 3.5,-9.2 0.6,-11.1" fill="#006bb2"/><path d="M-3.5 -1.7L-0.6 0.2L3.5 -1.4M-3.5 -3.2L-0.6 -1.3L3.5 -2.9M-3.5 -4.8L-0.6 -2.9L3.5 -4.5M-3.5 -6.3L-0.6 -4.4L3.5 -6M-3.5 -7.9L-0.6 -6L3.5 -7.5M-3.5 -9.4L-0.6 -7.5L3.5 -9.1" class="s e3"/><path d="M-3.5 -9.5L-0.6 -7.6L3.5 -9.2L0.6 -11.1ZM-3.5 -9.5V-0.2L-0.6 1.7L3.5 0.2V-9.2M-0.6 1.7V-7.6" class="e e3"/></g>
<g transform="translate(248.8 424.3)"><polygon points="-3.5,-0.2 -0.6,1.7 -0.6,-6.5 -3.5,-8.4" fill="url(#gl3)"/><polygon points="-0.6,1.7 3.5,0.2 3.5,-8.1 -0.6,-6.5" fill="url(#gr3)"/><polygon points="-3.5,-8.4 -0.6,-6.5 3.5,-8.1 0.6,-10" fill="#006bb2"/><path d="M-3.5 -1.7L-0.6 0.2L3.5 -1.4M-3.5 -3.2L-0.6 -1.3L3.5 -2.9M-3.5 -4.8L-0.6 -2.9L3.5 -4.5M-3.5 -6.3L-0.6 -4.4L3.5 -6M-3.5 -7.9L-0.6 -6L3.5 -7.5" class="s e3"/><path d="M-3.5 -8.4L-0.6 -6.5L3.5 -8.1L0.6 -10ZM-3.5 -8.4V-0.2L-0.6 1.7L3.5 0.2V-8.1M-0.6 1.7V-6.5" class="e e3"/></g>
<g transform="translate(240.4 427.6)"><polygon points="-3.5,-0.2 -0.6,1.7 -0.6,-5.9 -3.5,-7.8" fill="url(#gl3)"/><polygon points="-0.6,1.7 3.5,0.2 3.5,-7.5 -0.6,-5.9" fill="url(#gr3)"/><polygon points="-3.5,-7.8 -0.6,-5.9 3.5,-7.5 0.6,-9.4" fill="#006bb2"/><path d="M-3.5 -1.7L-0.6 0.2L3.5 -1.4M-3.5 -3.2L-0.6 -1.3L3.5 -2.9M-3.5 -4.8L-0.6 -2.9L3.5 -4.5M-3.5 -6.3L-0.6 -4.4L3.5 -6" class="s e3"/><path d="M-3.5 -7.8L-0.6 -5.9L3.5 -7.5L0.6 -9.4ZM-3.5 -7.8V-0.2L-0.6 1.7L3.5 0.2V-7.5M-0.6 1.7V-5.9" class="e e3"/></g>
<g transform="translate(231.9 430.8)"><polygon points="-3.5,-0.2 -0.6,1.7 -0.6,-5.4 -3.5,-7.3" fill="url(#gl3)"/><polygon points="-0.6,1.7 3.5,0.2 3.5,-6.9 -0.6,-5.4" fill="url(#gr3)"/><polygon points="-3.5,-7.3 -0.6,-5.4 3.5,-6.9 0.6,-8.8" fill="#006bb2"/><path d="M-3.5 -1.7L-0.6 0.2L3.5 -1.4M-3.5 -3.2L-0.6 -1.3L3.5 -2.9M-3.5 -4.8L-0.6 -2.9L3.5 -4.5M-3.5 -6.3L-0.6 -4.4L3.5 -6" class="s e3"/><path d="M-3.5 -7.3L-0.6 -5.4L3.5 -6.9L0.6 -8.8ZM-3.5 -7.3V-0.2L-0.6 1.7L3.5 0.2V-6.9M-0.6 1.7V-5.4" class="e e3"/></g>
<g transform="translate(223.5 434)"><polygon points="-3.5,-0.2 -0.6,1.7 -0.6,-5.1 -3.5,-7" fill="url(#gl3)"/><polygon points="-0.6,1.7 3.5,0.2 3.5,-6.7 -0.6,-5.1" fill="url(#gr3)"/><polygon points="-3.5,-7 -0.6,-5.1 3.5,-6.7 0.6,-8.6" fill="#006bb2"/><path d="M-3.5 -1.7L-0.6 0.2L3.5 -1.4M-3.5 -3.2L-0.6 -1.3L3.5 -2.9M-3.5 -4.8L-0.6 -2.9L3.5 -4.5M-3.5 -6.3L-0.6 -4.4L3.5 -6" class="s e3"/><path d="M-3.5 -7L-0.6 -5.1L3.5 -6.7L0.6 -8.6ZM-3.5 -7V-0.2L-0.6 1.7L3.5 0.2V-6.7M-0.6 1.7V-5.1" class="e e3"/></g>
<text x="67.77" y="355.48" font-size="7.4" text-anchor="middle">50</text>
<text x="100.28" y="376.72" font-size="7.4" text-anchor="middle">40</text>
<text x="132.78" y="397.95" font-size="7.4" text-anchor="middle">30</text>
<text x="165.29" y="419.18" font-size="7.4" text-anchor="middle">20</text>
<text x="197.8" y="440.41" font-size="7.4" text-anchor="middle">10</text>
<text font-size="6.7" text-anchor="middle" transform="translate(258.4 456.09) rotate(-20)" y="2.2">48</text>
<text font-size="6.7" text-anchor="middle" transform="translate(266.9 452.84) rotate(-20)" y="2.2">49</text>
<text font-size="6.7" text-anchor="middle" transform="translate(275.4 449.58) rotate(-20)" y="2.2">50</text>
<text font-size="6.7" text-anchor="middle" transform="translate(283.9 446.33) rotate(-20)" y="2.2">51</text>
<text font-size="6.7" text-anchor="middle" transform="translate(292.4 443.07) rotate(-20)" y="2.2">52</text>
<text font-size="6.7" text-anchor="middle" transform="translate(300.9 439.82) rotate(-20)" y="2.2">53</text>
<text font-size="6.7" text-anchor="middle" transform="translate(309.4 436.57) rotate(-20)" y="2.2">54</text>
<text font-size="6.7" text-anchor="middle" transform="translate(317.9 433.31) rotate(-20)" y="2.2">55</text>
<text font-size="6.7" text-anchor="middle" transform="translate(326.4 430.06) rotate(-20)" y="2.2">56</text>
<text font-size="6.7" text-anchor="middle" transform="translate(334.9 426.8) rotate(-20)" y="2.2">57</text>
<text font-size="6.7" text-anchor="middle" transform="translate(343.4 423.55) rotate(-20)" y="2.2">58</text>
<text x="40.4" y="323.1" font-size="7.4" text-anchor="end">0</text>
<text x="40.4" y="315.4" font-size="7.4" text-anchor="end">0.5</text>
<text x="40.4" y="307.7" font-size="7.4" text-anchor="end">1</text>
<text font-size="9" text-anchor="middle" transform="translate(25 312.9) rotate(-90)">Ratio</text>
<text font-size="8.4" text-anchor="middle" transform="translate(153 431.6) rotate(36)">Vel. (m/s)</text>
<text font-size="8" text-anchor="middle" transform="translate(305.5 455) rotate(-21)">Sleeper No</text></g>
<text x="185.1" y="233.1" font-size="9.8" text-anchor="middle" style="font-family:'Liberation Sans',sans-serif">(a)</text>
<text x="186.1" y="492.7" font-size="9.8" text-anchor="middle" style="font-family:'Liberation Sans',sans-serif">(b)</text>
<path d="M12.4 399.4H25.8" stroke="#7e2f8e" stroke-width="1.5"/>
<text x="30.7" y="401.9" font-size="7.8" textLength="29.5" lengthAdjust="spacingAndGlyphs">Reference</text>
<path d="M11.1 414.6H25.8" stroke="#0072bd" stroke-width="1.5"/>
<text x="30" y="417.1" font-size="7.8" textLength="55.9" lengthAdjust="spacingAndGlyphs">One Unsupported</text>
<path d="M10.4 430.1H25.8" stroke="#d95319" stroke-width="1.5"/>
<text x="28.8" y="432.6" font-size="7.8" textLength="57.1" lengthAdjust="spacingAndGlyphs">Two Unsupported</text>
<path d="M9.9 445.3H24.6" stroke="#edb120" stroke-width="1.5"/>
<text x="28.8" y="447.8" font-size="7.8" textLength="60.8" lengthAdjust="spacingAndGlyphs">Three Unsupported</text>
<g id="rail-diagram" fill="none" stroke="#111" stroke-width="0.85" stroke-linejoin="round" stroke-linecap="round">
<path d="M69 525.6L67.3 539.2H300.5V526.7"/>
<path d="M69 525.6L83 525.5L86 524.7L88.9 523.2L91.5 524.6L96 525.2H104L106.5 524.6L108.8 523.2L112 524.8L122 526.6L134 528L150 528.2L165 526.6L173 525.6L176.8 524.3L179 525.2H192L194.5 524L197 525.3L205 526.8L214 528L240 528.2L255 526.4L262 525.2L264.4 523.6L266.5 524.8H277L279.8 523.4L282 524.8L292 526.2L300.5 526.7"/>
<rect x="183" y="525.6" width="6.4" height="13.6" fill="#ed1c24" stroke="none"/>
<path d="M189.4 535.1H303" stroke-width="0.8"/>
<path d="M301.8 532.2L307 535.1L301.8 538Z" fill="#111" stroke-width="0.4"/>
<g fill="#111" stroke-width="0.4">
<path d="M98.1 514.6Q100.1 513.4 102.2 514.6L101.9 516.6Q100.1 517.4 98.4 516.6ZM99.6 516.8H100.6V522.4Q101 524.2 104.6 525.3H95.6Q99.2 524.2 99.6 522.4Z"/>
<path d="M183.8 514.6Q185.8 513.4 187.9 514.6L187.6 516.6Q185.8 517.4 184.1 516.6ZM185.3 516.8H186.3V522.4Q186.7 524.2 190.3 525.3H181.3Q184.9 524.2 185.3 522.4Z"/>
<path d="M269.8 514.4Q271.8 513.2 273.9 514.4L273.6 516.4Q271.8 517.2 270.1 516.4ZM271.3 516.6H272.3V522.4Q272.7 524.2 276.3 525.3H267.3Q270.9 524.2 271.3 522.4Z"/>
</g>
<path d="M100.1 503.4V512.2M98.3 509.4L100.1 512.6L101.9 509.4M185.8 503.4V512.2M184 509.4L185.8 512.6L187.6 509.4" stroke-width="0.95"/>
</g>
<text x="311" y="538.3" font-size="7.6" textLength="43" lengthAdjust="spacingAndGlyphs">Selected Point</text>

</svg></body></html>
